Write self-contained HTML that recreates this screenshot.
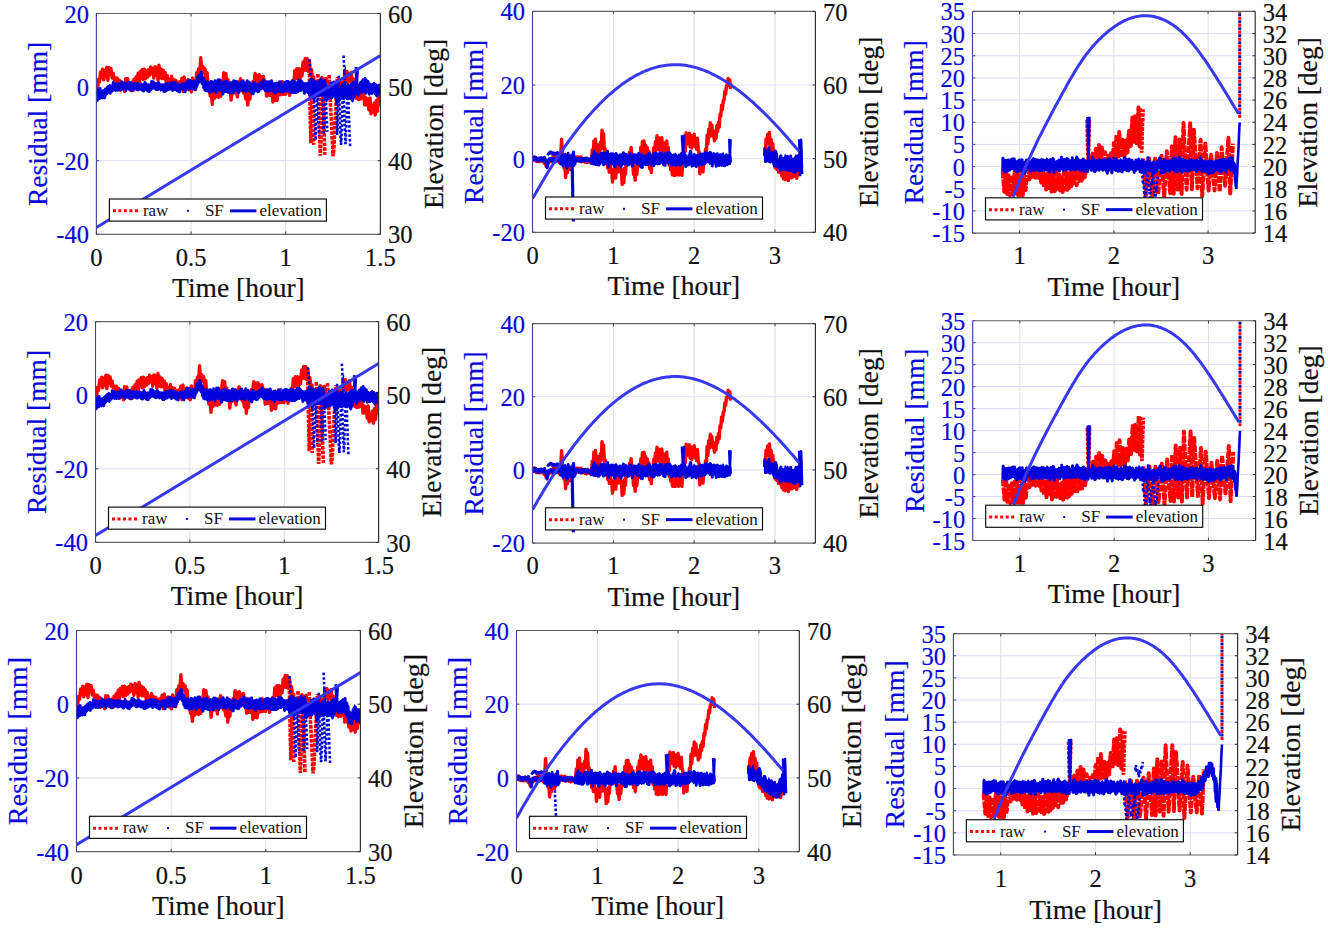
<!DOCTYPE html>
<html><head><meta charset="utf-8"><style>
html,body{margin:0;padding:0;background:#fff;}
svg{display:block;}
text{font-family:"Liberation Serif",serif;stroke-width:0.2px;}
</style></head><body>
<svg width="1328" height="932" viewBox="0 0 1328 932">
<rect width="1328" height="932" fill="#fff"/>
<line x1="191.07" y1="13.50" x2="191.07" y2="234.30" stroke="#dedede" stroke-width="1"/>
<line x1="285.73" y1="13.50" x2="285.73" y2="234.30" stroke="#dedede" stroke-width="1"/>
<line x1="96.40" y1="160.70" x2="380.40" y2="160.70" stroke="#dcdcf8" stroke-width="1"/>
<line x1="96.40" y1="87.10" x2="380.40" y2="87.10" stroke="#dcdcf8" stroke-width="1"/>
<clipPath id="c977"><rect x="96.4" y="13.5" width="284.0" height="220.8"/></clipPath>
<g clip-path="url(#c977)">
<path d="M96.4,81.9L97.4,89.9L98.5,79.1L99.5,82.1L100.6,71.9L101.6,77.5L102.7,69.1L103.7,79.8L104.8,70.2L105.8,76.9L106.8,67.2L107.9,80.4L108.9,67.4L110.0,74.6L111.0,68.8L112.1,77.9L113.1,73.1L114.2,79.6L115.2,77.9L116.2,82.5L117.3,78.1L118.3,87.7L119.4,80.1L120.4,90.2L121.5,83.2L122.5,86.7L123.5,83.2L124.6,91.6L125.6,78.6L126.7,86.5L127.7,78.8L128.8,88.8L129.8,83.2L130.9,90.5L131.9,82.1L132.9,90.5L134.0,79.1L135.0,86.7L136.1,76.7L137.1,83.5L138.2,73.1L139.2,84.3L140.3,71.4L141.3,78.3L142.3,69.4L143.4,79.6L144.4,69.2L145.5,78.6L146.5,70.6L147.6,77.0L148.6,69.6L149.7,75.2L150.7,67.0L151.7,73.4L152.8,68.5L153.8,78.1L154.9,66.8L155.9,75.4L157.0,67.4L158.0,79.9L159.0,65.3L160.1,77.9L161.1,68.9L162.2,78.6L163.2,70.3L164.3,78.8L165.3,72.8L166.4,84.3L167.4,75.7L168.4,86.7L169.5,79.8L170.5,85.7L171.6,76.3L172.6,86.5L173.7,79.6L174.7,84.8L175.8,80.3L176.8,88.9L177.8,82.5L178.9,87.7L179.9,81.6L181.0,86.9L182.0,78.2L183.1,91.4L184.1,76.9L185.2,87.3L186.2,80.8L187.2,86.5L188.3,79.8L189.3,89.9L190.4,80.7L191.4,91.8L192.5,77.9L193.5,88.7L194.5,81.7L195.6,89.7L196.6,72.6L197.7,77.9L198.7,68.8L199.8,72.7L200.8,57.7L201.9,72.9L202.9,66.5L203.9,73.3L205.0,68.6L206.0,79.7L207.1,72.7L208.1,88.2L209.2,83.3L210.2,95.9L211.3,92.0L212.3,104.3L213.3,90.1L214.4,98.2L215.4,91.9L216.5,96.8L217.5,89.1L218.6,97.2L219.6,90.4L220.7,96.3L221.7,81.1L222.7,85.6L223.8,72.7L224.8,77.8L225.9,73.6L226.9,85.0L228.0,79.7L229.0,90.1L230.0,85.0L231.1,100.1L232.1,88.9L233.2,93.2L234.2,85.5L235.3,92.8L236.3,83.1L237.4,96.9L238.4,82.0L239.4,90.6L240.5,78.6L241.5,90.7L242.6,84.7L243.6,93.0L244.7,89.9L245.7,98.8L246.8,92.4L247.8,105.1L248.8,91.0L249.9,99.3L250.9,83.8L252.0,90.2L253.0,81.4L254.1,83.2L255.1,73.5L256.1,80.4L257.2,75.4L258.2,85.1L259.3,74.6L260.3,82.4L261.4,77.0L262.4,87.1L263.5,76.5L264.5,88.9L265.5,81.2L266.6,96.1L267.6,84.8L268.7,95.3L269.7,86.6L270.8,95.3L271.8,88.2L272.9,102.1L273.9,89.4L274.9,100.2L276.0,90.2L277.0,100.6L278.1,91.2L279.1,94.9L280.2,82.8L281.2,94.5L282.3,81.6L283.3,94.2L284.3,87.6L285.4,94.4L286.4,84.1L287.5,92.0L288.5,84.4L289.6,95.3L290.6,83.5L291.6,86.1L292.7,80.5L293.7,86.5L294.8,70.6L295.8,78.8L296.9,68.7L297.9,78.4L299.0,68.7L300.0,78.8L301.0,69.3L302.1,75.7L303.1,61.9L304.2,70.2L305.2,58.4L306.3,70.2L307.3,58.6L308.4,71.4L309.4,60.9L310.4,73.0L311.5,69.5L312.5,79.8L313.6,77.0L314.6,88.5L315.7,82.1L316.7,90.8L317.8,81.4L318.8,93.1L319.8,83.6L320.9,91.4L321.9,77.5L323.0,87.8L324.0,79.0L325.1,87.0L326.1,78.4L327.1,91.0L328.2,84.7L329.2,96.4L330.3,85.6L331.3,92.7L332.4,85.3L333.4,93.5L334.5,82.7L335.5,93.0L336.5,82.4L337.6,89.5L338.6,79.1L339.7,91.5L340.7,82.6L341.8,91.9L342.8,82.0L343.9,88.0L344.9,72.7L345.9,77.0L347.0,71.5L348.0,82.3L349.1,74.2L350.1,81.1L351.2,72.5L352.2,85.1L353.3,79.0L354.3,92.2L355.3,84.8L356.4,98.2L357.4,92.4L358.5,99.5L359.5,89.8L360.6,99.0L361.6,93.2L362.6,97.8L363.7,93.1L364.7,104.9L365.8,97.8L366.8,105.0L367.9,98.9L368.9,109.9L370.0,97.9L371.0,113.8L372.0,106.4L373.1,112.1L374.1,103.2L375.2,115.1L376.2,100.7L377.3,111.4L378.3,96.6L379.4,104.6L380.4,93.5" fill="none" stroke="#ff0000" stroke-width="3.4" stroke-linejoin="round" stroke-dasharray="none"/>
<path d="M309.4,73.7L309.6,85.8L309.7,89.5L309.9,97.9L310.0,103.9L310.2,114.9L310.3,122.1L310.5,128.6L310.6,131.1L310.8,142.3L310.9,143.0L311.1,133.5L311.2,127.9L311.4,123.6L311.5,115.1L311.7,109.7L311.8,101.4L312.0,94.1L312.1,88.5L312.3,76.5L312.4,78.5L312.6,88.0L312.7,94.6L312.9,102.0L313.0,108.9L313.2,114.1L313.3,123.8L313.5,133.6L313.6,137.6L313.8,144.9" fill="none" stroke="#ff0000" stroke-width="3.6" stroke-dasharray="3.6,1.1"/>
<path d="M317.9,74.0L318.2,83.4L318.4,93.8L318.6,103.9L318.9,109.9L319.1,117.2L319.4,124.9L319.6,133.7L319.9,142.5L320.1,150.8L320.3,155.8L320.6,146.5L320.8,138.0L321.1,131.8L321.3,118.1L321.5,114.8L321.8,101.2L322.0,93.9L322.3,88.9L322.5,79.7L322.8,83.1L323.0,89.3L323.2,101.2L323.5,107.2L323.7,113.7L324.0,123.8L324.2,131.1L324.4,140.7L324.7,147.9L324.9,154.9" fill="none" stroke="#ff0000" stroke-width="3.6" stroke-dasharray="3.6,1.1"/>
<path d="M329.1,75.0L329.5,82.6L330.0,91.7L330.4,102.5L330.8,111.9L331.3,119.0L331.7,128.0L332.2,139.0L332.6,146.0L333.0,156.2L333.5,152.7L333.9,148.3L334.4,138.4L334.8,127.0L335.2,120.4L335.7,112.8L336.1,104.2L336.5,92.4L337.0,83.9L337.4,77.1" fill="none" stroke="#ff0000" stroke-width="3.6" stroke-dasharray="3.6,1.1"/>
<path d="M96.4,93.4L96.8,100.6L97.1,98.8L97.5,100.2L97.9,92.7L98.3,99.1L98.6,97.7L99.0,95.2L99.4,94.9L99.8,98.3L100.1,88.4L100.5,96.8L100.9,91.5L101.3,97.5L101.6,92.6L102.0,97.2L102.4,97.7L102.8,95.7L103.1,93.0L103.5,92.7L103.9,91.6L104.3,97.0L104.6,97.7L105.0,95.6L105.4,94.1L105.8,89.2L106.1,92.0L106.5,92.5L106.9,93.4L107.3,87.5L107.6,92.6L108.0,88.3L108.4,86.5L108.7,87.1L109.1,92.2L109.5,90.9L109.9,85.4L110.2,93.3L110.6,87.9L111.0,91.2L111.4,88.0L111.7,90.3L112.1,91.1L112.5,85.8L112.9,90.0L113.2,82.6L113.6,83.0L114.0,87.5L114.4,85.5L114.7,86.0L115.1,83.4L115.5,90.4L115.9,89.2L116.2,88.4L116.6,84.4L117.0,84.6L117.4,87.9L117.7,90.3L118.1,85.1L118.5,88.0L118.9,89.6L119.2,84.8L119.6,87.1L120.0,87.9L120.3,87.9L120.7,84.9L121.1,87.5L121.5,86.4L121.8,81.7L122.2,85.8L122.6,87.9L123.0,85.4L123.3,83.1L123.7,83.6L124.1,84.8L124.5,83.6L124.8,84.4L125.2,84.9L125.6,88.2L126.0,90.3L126.3,85.1L126.7,85.4L127.1,83.0L127.5,88.0L127.8,82.8L128.2,88.5L128.6,82.6L129.0,82.2L129.3,89.3L129.7,87.9L130.1,82.6L130.5,83.1L130.8,84.9L131.2,90.0L131.6,90.7L131.9,89.4L132.3,83.7L132.7,84.5L133.1,88.6L133.4,85.0L133.8,84.1L134.2,89.2L134.6,83.5L134.9,88.5L135.3,87.6L135.7,88.8L136.1,88.2L136.4,84.6L136.8,89.4L137.2,84.9L137.6,88.6L137.9,83.3L138.3,89.2L138.7,89.2L139.1,89.3L139.4,85.9L139.8,84.3L140.2,84.3L140.6,83.9L140.9,84.0L141.3,85.2L141.7,88.3L142.0,90.0L142.4,84.7L142.8,89.6L143.2,86.3L143.5,91.0L143.9,88.5L144.3,89.2L144.7,87.0L145.0,82.5L145.4,86.9L145.8,83.6L146.2,89.7L146.5,88.9L146.9,89.4L147.3,88.1L147.7,91.1L148.0,86.1L148.4,84.9L148.8,85.2L149.2,91.6L149.5,88.2L149.9,89.2L150.3,85.6L150.7,89.7L151.0,83.6L151.4,86.9L151.8,81.5L152.2,88.4L152.5,86.0L152.9,85.1L153.3,81.7L153.6,82.1L154.0,87.9L154.4,87.5L154.8,83.2L155.1,87.3L155.5,89.0L155.9,83.7L156.3,84.6L156.6,89.6L157.0,86.7L157.4,83.7L157.8,89.4L158.1,82.7L158.5,82.6L158.9,83.5L159.3,84.0L159.6,84.4L160.0,85.9L160.4,85.7L160.8,89.9L161.1,85.8L161.5,84.8L161.9,87.5L162.3,85.1L162.6,88.3L163.0,84.8L163.4,85.5L163.8,91.4L164.1,85.2L164.5,90.3L164.9,91.5L165.2,91.2L165.6,89.7L166.0,86.8L166.4,89.5L166.7,90.4L167.1,84.9L167.5,89.3L167.9,84.1L168.2,89.8L168.6,84.8L169.0,88.7L169.4,83.4L169.7,84.3L170.1,83.6L170.5,88.9L170.9,82.7L171.2,87.3L171.6,83.0L172.0,82.7L172.4,89.6L172.7,90.4L173.1,84.1L173.5,83.1L173.9,83.3L174.2,87.6L174.6,82.8L175.0,89.4L175.4,89.2L175.7,84.4L176.1,85.6L176.5,83.9L176.8,90.5L177.2,89.2L177.6,84.9L178.0,91.2L178.3,90.4L178.7,87.3L179.1,84.9L179.5,91.9L179.8,85.6L180.2,88.1L180.6,87.5L181.0,88.4L181.3,87.0L181.7,85.5L182.1,88.9L182.5,87.1L182.8,85.3L183.2,83.8L183.6,86.0L184.0,89.2L184.3,83.9L184.7,91.3L185.1,91.7L185.5,83.4L185.8,88.9L186.2,88.9L186.6,86.6L187.0,86.7L187.3,86.5L187.7,81.0L188.1,87.0L188.4,88.0L188.8,87.5L189.2,80.3L189.6,85.7L189.9,86.4L190.3,81.5L190.7,80.8L191.1,84.6L191.4,81.8L191.8,88.1L192.2,87.6L192.6,84.2L192.9,88.7L193.3,88.3L193.7,88.7L194.1,88.0L194.4,81.5L194.8,82.0L195.2,89.5L195.6,88.0L195.9,82.8L196.3,81.2L196.7,82.8L197.1,79.9L197.4,84.7L197.8,77.1L198.2,75.9L198.6,80.4L198.9,81.1L199.3,81.9L199.7,74.9L200.0,74.5L200.4,80.8L200.8,75.6L201.2,72.3L201.5,82.1L201.9,82.3L202.3,83.9L202.7,81.9L203.0,83.5L203.4,78.4L203.8,87.9L204.2,87.9L204.5,80.4L204.9,90.3L205.3,89.0L205.7,87.9L206.0,90.8L206.4,88.2L206.8,82.6L207.2,81.8L207.5,81.8L207.9,82.0L208.3,83.5L208.7,91.8L209.0,85.4L209.4,86.7L209.8,92.1L210.1,89.4L210.5,90.2L210.9,81.6L211.3,88.5L211.6,89.3L212.0,81.7L212.4,82.6L212.8,82.5L213.1,84.1L213.5,88.6L213.9,87.4L214.3,84.8L214.6,83.8L215.0,80.7L215.4,89.0L215.8,82.9L216.1,92.4L216.5,91.7L216.9,82.7L217.3,89.9L217.6,84.8L218.0,79.9L218.4,81.7L218.8,84.8L219.1,81.6L219.5,79.8L219.9,80.1L220.3,88.9L220.6,89.3L221.0,88.4L221.4,90.1L221.7,83.1L222.1,83.6L222.5,92.9L222.9,94.1L223.2,92.4L223.6,86.3L224.0,84.6L224.4,88.3L224.7,84.1L225.1,81.7L225.5,82.4L225.9,91.7L226.2,84.2L226.6,83.1L227.0,81.0L227.4,86.4L227.7,88.7L228.1,86.3L228.5,88.9L228.9,89.5L229.2,83.7L229.6,84.7L230.0,84.2L230.4,84.6L230.7,91.6L231.1,92.4L231.5,89.6L231.9,83.1L232.2,84.3L232.6,82.7L233.0,84.0L233.3,82.4L233.7,80.9L234.1,82.9L234.5,81.8L234.8,81.1L235.2,82.5L235.6,81.7L236.0,90.2L236.3,90.7L236.7,81.6L237.1,90.4L237.5,90.2L237.8,91.7L238.2,85.2L238.6,92.6L239.0,84.0L239.3,90.9L239.7,84.6L240.1,83.4L240.5,85.1L240.8,89.5L241.2,85.3L241.6,82.7L242.0,83.1L242.3,88.9L242.7,90.3L243.1,80.8L243.5,83.3L243.8,90.9L244.2,85.4L244.6,85.4L244.9,90.5L245.3,83.1L245.7,90.9L246.1,91.2L246.4,89.3L246.8,88.4L247.2,80.7L247.6,81.9L247.9,88.5L248.3,86.3L248.7,89.4L249.1,82.7L249.4,82.2L249.8,91.4L250.2,87.4L250.6,91.4L250.9,91.8L251.3,85.9L251.7,84.6L252.1,92.9L252.4,88.5L252.8,92.4L253.2,93.8L253.6,86.3L253.9,91.5L254.3,83.7L254.7,82.6L255.1,90.2L255.4,84.4L255.8,90.7L256.2,84.0L256.5,90.8L256.9,84.7L257.3,85.0L257.7,86.0L258.0,91.7L258.4,84.5L258.8,91.3L259.2,85.2L259.5,89.4L259.9,89.4L260.3,84.3L260.7,89.2L261.0,82.5L261.4,87.3L261.8,82.9L262.2,83.6L262.5,81.8L262.9,88.1L263.3,88.2L263.7,80.0L264.0,84.3L264.4,87.2L264.8,83.3L265.2,90.5L265.5,82.6L265.9,83.8L266.3,84.0L266.7,89.0L267.0,82.1L267.4,81.8L267.8,83.3L268.1,82.6L268.5,91.5L268.9,83.1L269.3,81.8L269.6,86.8L270.0,90.6L270.4,84.6L270.8,89.0L271.1,90.4L271.5,80.8L271.9,82.0L272.3,84.2L272.6,83.6L273.0,84.4L273.4,88.4L273.8,91.9L274.1,91.2L274.5,88.3L274.9,87.4L275.3,92.2L275.6,93.3L276.0,91.1L276.4,91.9L276.8,82.9L277.1,91.0L277.5,89.2L277.9,85.8L278.2,90.1L278.6,86.9L279.0,85.3L279.4,91.5L279.7,81.8L280.1,85.5L280.5,90.9L280.9,82.0L281.2,91.8L281.6,85.2L282.0,89.3L282.4,91.7L282.7,90.0L283.1,87.8L283.5,88.6L283.9,89.2L284.2,87.1L284.6,86.8L285.0,82.5L285.4,89.5L285.7,90.8L286.1,82.0L286.5,91.0L286.9,84.1L287.2,85.4L287.6,82.0L288.0,91.1L288.4,82.7L288.7,91.0L289.1,90.0L289.5,83.0L289.8,89.7L290.2,84.6L290.6,84.7L291.0,92.4L291.3,84.4L291.7,89.3L292.1,82.1L292.5,91.9L292.8,91.7L293.2,85.3L293.6,91.3L294.0,90.0L294.3,83.1L294.7,89.6L295.1,91.3L295.5,90.6L295.8,85.4L296.2,83.8L296.6,84.5L297.0,89.0L297.3,91.1L297.7,91.1L298.1,89.3L298.5,88.8L298.8,80.1L299.2,86.7L299.6,89.5L300.0,82.9L300.3,86.6L300.7,90.5L301.1,80.7L301.4,81.2L301.8,89.5L302.2,82.2L302.6,87.4L302.9,83.5L303.3,84.2L303.7,84.3L304.1,89.8L304.4,93.3L304.8,85.7L305.2,91.4L305.6,91.7L305.9,86.4L306.3,87.3L306.7,83.8L307.1,91.3L307.4,84.4L307.8,92.4L308.2,92.0L308.6,91.3L308.9,92.3L309.3,91.1L309.7,95.4L310.1,83.0L310.4,92.5L310.8,92.8L311.2,81.8L311.6,82.8L311.9,82.9L312.3,81.1L312.7,83.3L313.0,93.6L313.4,82.5L313.8,99.5L314.2,85.9L314.5,96.3L314.9,97.7L315.3,95.0L315.7,96.0L316.0,84.3L316.4,82.9L316.8,82.4L317.2,92.8L317.5,89.5L317.9,94.7L318.3,82.2L318.7,95.3L319.0,91.2L319.4,94.8L319.8,81.6L320.2,80.2L320.5,91.3L320.9,79.1L321.3,91.9L321.7,81.0L322.0,91.3L322.4,88.1L322.8,82.4L323.2,89.4L323.5,91.5L323.9,82.7L324.3,80.7L324.6,80.3L325.0,94.6L325.4,96.8L325.8,99.5L326.1,98.4L326.5,100.5L326.9,98.0L327.3,87.4L327.6,98.9L328.0,87.6L328.4,95.8L328.8,96.4L329.1,91.9L329.5,93.3L329.9,93.1L330.3,97.7L330.6,88.2L331.0,83.1L331.4,98.0L331.8,97.4L332.1,87.6L332.5,94.9L332.9,96.0L333.3,82.6L333.6,94.6L334.0,81.9L334.4,84.9L334.8,95.7L335.1,93.6L335.5,97.3L335.9,90.3L336.2,86.5L336.6,101.6L337.0,100.8L337.4,98.8L337.7,94.4L338.1,95.5L338.5,82.8L338.9,87.2L339.2,87.2L339.6,92.5L340.0,88.5L340.4,88.8L340.7,97.3L341.1,87.7L341.5,95.7L341.9,92.1L342.2,84.4L342.6,96.9L343.0,98.0L343.4,85.6L343.7,94.0L344.1,98.4L344.5,96.5L344.9,97.1L345.2,85.7L345.6,94.8L346.0,87.0L346.3,96.4L346.7,87.5L347.1,87.3L347.5,91.2L347.8,86.8L348.2,96.5L348.6,97.9L349.0,87.3L349.3,97.5L349.7,91.2L350.1,86.5L350.5,85.2L350.8,84.7L351.2,98.1L351.6,85.2L352.0,91.5L352.3,86.6L352.7,91.0L353.1,82.6L353.5,93.2L353.8,96.1L354.2,82.1L354.6,83.7L355.0,82.4L355.3,92.6L355.7,91.4L356.1,82.6L356.5,81.1L356.8,83.0L357.2,85.1L357.6,85.3L357.9,95.3L358.3,91.6L358.7,93.6L359.1,85.5L359.4,88.9L359.8,85.4L360.2,85.4L360.6,82.7L360.9,82.3L361.3,92.7L361.7,82.4L362.1,87.8L362.4,90.1L362.8,85.5L363.2,79.9L363.6,81.0L363.9,91.8L364.3,90.7L364.7,81.7L365.1,78.5L365.4,90.2L365.8,90.0L366.2,80.9L366.6,82.4L366.9,80.8L367.3,90.9L367.7,86.7L368.1,81.6L368.4,89.3L368.8,89.6L369.2,94.2L369.5,84.1L369.9,91.1L370.3,92.7L370.7,87.0L371.0,85.1L371.4,85.0L371.8,93.5L372.2,87.6L372.5,92.6L372.9,84.4L373.3,84.6L373.7,86.0L374.0,84.4L374.4,88.7L374.8,87.0L375.2,93.7L375.5,84.5L375.9,92.4L376.3,87.1L376.7,95.8L377.0,92.1L377.4,86.9L377.8,86.4L378.2,87.0L378.5,92.7L378.9,85.2L379.3,85.4L379.7,87.0L380.0,92.7L380.4,95.2" fill="none" stroke="#0000dc" stroke-width="3" stroke-linejoin="round"/>
<path d="M96.4,90.0L97.3,88.5L98.3,88.2L99.2,89.0L100.2,89.8L101.1,89.8L102.1,89.5L103.0,89.2L104.0,88.7L104.9,87.9L105.9,87.2L106.8,86.7L107.8,86.7L108.7,87.0L109.7,87.5L110.6,87.0L111.6,86.6L112.5,85.8L113.5,85.1L114.4,84.3L115.4,83.7L116.3,83.2L117.3,82.7L118.2,82.5L119.2,82.6L120.1,83.0L121.1,83.1L122.0,82.7L123.0,82.3L123.9,82.1L124.9,82.7L125.8,83.7L126.8,84.3L127.7,84.0L128.7,83.5L129.6,83.5L130.6,83.7L131.5,83.6L132.5,83.2L133.4,83.4L134.4,83.9L135.3,84.3L136.3,84.5L137.2,84.4L138.2,84.1L139.1,84.0L140.1,84.2L141.0,84.3L142.0,84.1L142.9,83.5L143.9,82.8L144.8,82.3L145.8,82.6L146.7,83.3L147.7,83.9L148.6,84.0L149.6,83.8L150.5,83.9L151.5,84.0L152.4,83.6L153.4,83.0L154.3,82.9L155.3,83.3L156.2,83.6L157.2,83.2L158.1,82.8L159.1,82.8L160.0,83.2L161.0,84.0L161.9,84.7L162.9,84.7L163.8,84.1L164.8,83.2L165.7,82.3L166.7,82.0L167.6,82.5L168.6,83.1L169.5,83.7L170.5,84.0L171.4,83.8L172.4,83.2L173.3,82.4L174.3,81.8L175.2,81.6L176.2,81.9L177.1,82.5L178.1,83.3L179.0,83.8L180.0,83.8L180.9,83.2L181.9,82.3L182.8,82.1L183.8,82.7L184.7,83.1L185.7,82.8L186.6,82.4L187.6,82.3L188.5,82.2L189.5,81.6L190.4,80.9L191.4,80.4L192.3,80.3L193.3,80.3L194.2,79.9L195.2,79.3L196.1,79.2L197.1,79.3L198.0,78.0L199.0,75.5L199.9,72.4L200.9,70.9L201.8,72.2L202.8,74.0L203.7,76.2L204.7,78.6L205.6,80.4L206.6,81.6L207.5,81.8L208.5,82.0L209.4,82.8L210.4,83.7L211.3,84.5L212.3,84.9L213.2,84.6L214.2,84.0L215.1,83.6L216.1,83.2L217.0,83.0L218.0,83.5L218.9,84.1L219.9,84.2L220.8,83.4L221.8,82.0L222.7,80.9L223.7,80.6L224.6,81.4L225.6,82.8L226.5,83.9L227.5,83.7L228.4,82.5L229.4,81.4L230.3,81.0L231.3,81.3L232.2,82.3L233.2,83.4L234.1,84.1L235.1,84.0L236.0,83.4L237.0,83.0L237.9,82.8L238.9,82.4L239.8,81.5L240.8,80.5L241.7,79.9L242.7,80.2L243.6,81.2L244.6,82.2L245.5,82.3L246.5,81.6L247.4,80.7L248.4,80.9L249.3,82.3L250.3,83.5L251.2,83.5L252.2,82.6L253.1,81.4L254.1,80.8L255.0,81.4L256.0,82.9L256.9,84.2L257.9,84.1L258.8,82.6L259.8,81.1L260.7,80.8L261.7,81.6L262.6,82.8L263.6,83.6L264.5,83.9L265.5,83.8L266.4,83.2L267.4,82.5L268.3,81.8L269.3,81.5L270.2,81.7L271.2,82.4L272.1,83.1L273.1,83.1L274.0,82.5L275.0,82.0L275.9,82.3L276.9,82.7L277.8,82.8L278.8,82.8L279.7,83.4L280.7,84.3L281.6,84.6L282.6,84.1L283.5,83.1L284.5,82.0L285.4,80.8L286.4,80.1L287.3,80.0L288.3,80.1L289.2,80.5L290.2,80.9L291.1,80.3L292.1,79.6L293.0,79.6L294.0,79.9L294.9,80.6L295.9,81.2L296.8,81.2L297.8,80.2L298.7,79.7L299.7,80.3L300.6,81.2L301.6,81.6L302.5,81.7L303.5,81.9L304.4,82.2L305.4,82.3L306.3,82.4L307.3,82.2L308.2,81.4L309.2,80.1L310.1,79.2L311.1,78.7L312.0,78.3L313.0,78.3L313.9,78.9L314.9,79.7L315.8,80.2L316.8,80.4L317.7,81.2L318.7,82.5L319.6,83.4L320.6,84.2L321.5,84.9L322.5,84.2L323.4,82.1L324.4,80.0L325.3,79.7L326.3,82.1L327.2,85.6L328.2,87.7L329.1,87.8L330.1,86.7L331.0,85.8L332.0,85.4L332.9,84.5L333.9,82.8L334.8,81.4L335.8,81.6L336.7,83.1L337.7,85.0L338.6,86.4L339.6,86.5L340.5,86.0L341.5,86.0L342.4,86.4L343.4,86.1L344.3,85.1L345.3,84.3L346.2,84.4L347.2,85.2L348.1,85.6L349.1,85.5L350.0,85.7L351.0,86.1L351.9,86.4L352.9,86.5L353.8,86.8L354.8,87.3L355.7,87.6L356.7,87.0L357.6,85.5L358.6,83.9L359.5,82.7L360.5,81.4L361.4,79.7L362.4,78.6L363.3,78.6L364.3,80.0L365.2,81.6L366.2,82.4L367.1,83.0L368.1,84.3L369.0,85.8L370.0,85.9L370.9,85.7L371.9,84.2L372.8,82.6L373.8,81.7L374.7,82.1L375.7,83.3L376.6,84.1L377.6,84.5L378.5,85.2L379.5,86.2L380.4,87.0L380.4,97.8L379.5,95.9L378.5,94.7L377.6,94.7L376.6,94.9L375.7,94.1L374.7,92.7L373.8,91.5L372.8,91.2L371.9,91.4L370.9,91.8L370.0,92.3L369.0,92.3L368.1,92.6L367.1,93.7L366.2,94.9L365.2,94.6L364.3,93.0L363.3,91.8L362.4,91.4L361.4,91.3L360.5,92.2L359.5,93.5L358.6,94.3L357.6,94.1L356.7,94.0L355.7,95.6L354.8,98.4L353.8,101.1L352.9,102.4L351.9,102.4L351.0,100.9L350.0,98.9L349.1,97.5L348.1,97.7L347.2,98.6L346.2,99.1L345.3,99.0L344.3,99.0L343.4,99.3L342.4,99.7L341.5,99.7L340.5,99.6L339.6,99.8L338.6,99.9L337.7,98.5L336.7,96.0L335.8,94.7L334.8,95.3L333.9,96.8L332.9,98.2L332.0,98.7L331.0,98.2L330.1,97.5L329.1,96.8L328.2,96.0L327.2,95.1L326.3,94.9L325.3,95.5L324.4,96.2L323.4,96.6L322.5,96.7L321.5,96.6L320.6,96.6L319.6,96.8L318.7,96.8L317.7,96.8L316.8,97.1L315.8,96.9L314.9,96.2L313.9,95.5L313.0,95.7L312.0,96.4L311.1,97.0L310.1,96.8L309.2,95.3L308.2,93.1L307.3,90.6L306.3,89.2L305.4,88.7L304.4,88.5L303.5,89.0L302.5,89.1L301.6,89.3L300.6,90.1L299.7,91.4L298.7,92.4L297.8,93.1L296.8,93.9L295.9,93.9L294.9,93.9L294.0,93.9L293.0,93.9L292.1,93.4L291.1,93.1L290.2,93.3L289.2,93.0L288.3,91.8L287.3,90.9L286.4,91.2L285.4,92.1L284.5,92.8L283.5,92.7L282.6,92.5L281.6,92.6L280.7,92.7L279.7,92.0L278.8,91.3L277.8,91.3L276.9,91.7L275.9,91.3L275.0,90.5L274.0,90.3L273.1,90.7L272.1,91.1L271.2,91.0L270.2,90.4L269.3,90.5L268.3,91.6L267.4,92.5L266.4,92.2L265.5,91.1L264.5,90.2L263.6,89.7L262.6,89.1L261.7,88.5L260.7,88.5L259.8,89.1L258.8,90.7L257.9,91.7L256.9,91.5L256.0,91.0L255.0,90.9L254.1,91.3L253.1,91.8L252.2,92.3L251.2,92.2L250.3,91.4L249.3,90.6L248.4,90.5L247.4,90.7L246.5,90.5L245.5,90.2L244.6,90.2L243.6,90.0L242.7,90.1L241.7,90.7L240.8,91.3L239.8,91.5L238.9,91.1L237.9,90.4L237.0,90.1L236.0,90.5L235.1,92.1L234.1,94.2L233.2,94.2L232.2,94.2L231.3,94.2L230.3,93.9L229.4,93.8L228.4,93.9L227.5,93.6L226.5,93.1L225.6,92.8L224.6,92.9L223.7,92.7L222.7,92.0L221.8,91.4L220.8,91.5L219.9,91.6L218.9,91.6L218.0,91.5L217.0,91.3L216.1,91.1L215.1,91.2L214.2,92.1L213.2,92.9L212.3,93.0L211.3,92.6L210.4,92.2L209.4,91.9L208.5,91.7L207.5,91.6L206.6,91.2L205.6,90.2L204.7,88.7L203.7,86.2L202.8,83.5L201.8,81.6L200.9,80.0L199.9,80.9L199.0,83.4L198.0,86.1L197.1,88.5L196.1,89.4L195.2,89.4L194.2,89.6L193.3,90.1L192.3,90.4L191.4,90.3L190.4,90.1L189.5,90.1L188.5,90.4L187.6,90.6L186.6,90.8L185.7,90.5L184.7,89.7L183.8,89.3L182.8,89.5L181.9,89.8L180.9,89.8L180.0,89.8L179.0,90.2L178.1,90.5L177.1,90.7L176.2,90.7L175.2,89.9L174.3,88.7L173.3,88.1L172.4,88.4L171.4,89.3L170.5,90.0L169.5,90.2L168.6,90.2L167.6,90.1L166.7,90.2L165.7,90.9L164.8,91.6L163.8,91.3L162.9,90.4L161.9,89.9L161.0,89.8L160.0,89.5L159.1,88.9L158.1,88.4L157.2,88.2L156.2,88.2L155.3,88.1L154.3,87.9L153.4,88.0L152.4,88.7L151.5,89.7L150.5,90.6L149.6,91.0L148.6,90.9L147.7,90.4L146.7,90.1L145.8,90.4L144.8,90.9L143.9,90.8L142.9,90.0L142.0,89.4L141.0,89.8L140.1,90.5L139.1,91.1L138.2,91.5L137.2,91.3L136.3,90.3L135.3,89.0L134.4,88.2L133.4,88.4L132.5,89.3L131.5,90.0L130.6,90.3L129.6,90.4L128.7,90.2L127.7,89.6L126.8,88.6L125.8,87.9L124.9,88.3L123.9,89.5L123.0,90.5L122.0,90.9L121.1,91.2L120.1,91.4L119.2,91.1L118.2,90.7L117.3,90.5L116.3,90.5L115.4,90.6L114.4,91.0L113.5,91.0L112.5,91.1L111.6,91.3L110.6,91.9L109.7,92.5L108.7,93.4L107.8,94.6L106.8,95.6L105.9,95.9L104.9,96.0L104.0,96.2L103.0,96.7L102.1,97.2L101.1,98.2L100.2,99.4L99.2,99.9L98.3,100.0L97.3,100.3L96.4,101.2Z" fill="#0000dc" stroke="none"/>
<path d="M355.8,67.0L355.9,70.5L356.0,72.4L356.2,78.5L356.3,77.7L356.4,78.1L356.5,83.9L356.7,88.2L356.8,83.2L356.9,82.4L357.0,82.7L357.2,77.5L357.3,73.2L357.4,75.3L357.6,69.1L357.7,67.5" fill="none" stroke="#0000dc" stroke-width="2.6" stroke-linejoin="round"/>
<path d="M309.4,59.2L309.7,62.7L309.9,65.4L310.2,70.2L310.5,73.9L310.8,78.1L311.0,79.6L311.3,90.8" fill="none" stroke="#0000dc" stroke-width="2.6" stroke-dasharray="2.6,2"/>
<path d="M343.5,55.5L343.8,59.0L344.0,64.2L344.3,71.1L344.6,70.6L344.8,82.8L345.1,80.2L345.4,86.2" fill="none" stroke="#0000dc" stroke-width="2.6" stroke-dasharray="2.6,2"/>
<path d="M313.8,91.2L314.0,95.3L314.2,101.6L314.5,110.1L314.7,112.7L314.9,121.2L315.2,125.5L315.4,135.3L315.7,140.3L315.9,127.8L316.1,120.9L316.4,119.9L316.6,109.8L316.9,103.2L317.1,92.4L317.3,88.5L317.6,93.3L317.8,94.9L318.1,106.6L318.3,109.7L318.5,121.2L318.8,127.7L319.0,135.0L319.2,135.8" fill="none" stroke="#0000dc" stroke-width="2.6" stroke-dasharray="2.6,2"/>
<path d="M321.7,89.8L322.0,95.4L322.2,102.2L322.4,103.1L322.7,112.0L322.9,120.9L323.2,121.0L323.4,128.0L323.7,134.5L323.9,128.1L324.2,123.9L324.4,117.7L324.7,106.0L324.9,98.8L325.2,93.8L325.4,91.4L325.7,88.2L325.9,99.8L326.2,105.9L326.4,108.5L326.6,118.5L326.9,119.9L327.1,130.2L327.4,131.8" fill="none" stroke="#0000dc" stroke-width="2.6" stroke-dasharray="2.6,2"/>
<path d="M335.9,84.0L336.1,92.7L336.3,96.5L336.5,105.0L336.7,114.0L336.9,120.9L337.0,122.9L337.2,134.9L337.4,129.7L337.6,124.9L337.8,123.1L338.0,115.2L338.2,106.3L338.4,102.2L338.6,91.8L338.7,85.0" fill="none" stroke="#0000dc" stroke-width="2.6" stroke-dasharray="2.6,2"/>
<path d="M338.7,75.6L339.0,85.2L339.3,96.6L339.6,105.2L339.9,113.7L340.2,128.0L340.5,137.2L340.8,139.1L341.1,144.9L341.4,139.4L341.7,132.4L342.0,124.6L342.2,109.7L342.5,104.7L342.8,93.1L343.1,86.0L343.4,83.9L343.7,92.9L344.0,103.1L344.3,109.2L344.6,119.0L344.9,131.3L345.2,134.9L345.4,143.3L345.7,144.0L346.0,133.5L346.3,124.7L346.6,116.5L346.9,110.3L347.2,100.4L347.5,91.8L347.8,82.7L348.1,87.5L348.4,97.4L348.7,108.6L348.9,115.8L349.2,121.4L349.5,132.9L349.8,138.4L350.1,146.2" fill="none" stroke="#0000dc" stroke-width="2.6" stroke-dasharray="2.6,2"/>
<path d="M96.4,227.4L380.4,55.5" fill="none" stroke="#3838f0" stroke-width="3.0" stroke-linejoin="round"/>
</g>
<path d="M96.40,13.50H380.40M96.40,234.30H380.40" stroke="#626262" stroke-width="1.15" fill="none"/>
<path d="M96.40,13.50V234.30" stroke="#44449c" stroke-width="1.15" fill="none"/>
<path d="M380.40,13.50V234.30" stroke="#303030" stroke-width="1.2" fill="none"/>
<path d="M96.40,234.30v-2.8M96.40,13.50v2.8M191.07,234.30v-2.8M191.07,13.50v2.8M285.73,234.30v-2.8M285.73,13.50v2.8M380.40,234.30v-2.8M380.40,13.50v2.8" stroke="#404040" stroke-width="1" fill="none"/>
<path d="M96.40,234.30h2.8M96.40,160.70h2.8M96.40,87.10h2.8M96.40,13.50h2.8" stroke="#44449c" stroke-width="1" fill="none"/>
<path d="M380.40,234.30h-2.8M380.40,160.70h-2.8M380.40,87.10h-2.8M380.40,13.50h-2.8" stroke="#303030" stroke-width="1" fill="none"/>
<g font-size="24.5" fill="#0808dc" stroke="#0808dc" text-anchor="end">
<text x="88.90" y="243.30">-40</text>
<text x="88.90" y="169.70">-20</text>
<text x="88.90" y="96.10">0</text>
<text x="88.90" y="22.50">20</text>
</g>
<g font-size="24.5" fill="#111111" stroke="#111111" text-anchor="start">
<text x="388.00" y="243.40">30</text>
<text x="388.00" y="169.80">40</text>
<text x="388.00" y="96.20">50</text>
<text x="388.00" y="22.60">60</text>
</g>
<g font-size="24.5" fill="#111111" stroke="#111111" text-anchor="middle">
<text x="96.40" y="265.50">0</text>
<text x="191.07" y="265.50">0.5</text>
<text x="285.73" y="265.50">1</text>
<text x="380.40" y="265.50">1.5</text>
</g>
<text font-size="27.5" fill="#111111" stroke="#111111" text-anchor="middle" x="238.40" y="296.90">Time [hour]</text>
<text font-size="27.50" fill="#0808dc" stroke="#0808dc" text-anchor="middle" transform="translate(47.30,123.90) rotate(-90)">Residual [mm]</text>
<text font-size="27.50" fill="#111111" stroke="#111111" text-anchor="middle" transform="translate(442.50,123.90) rotate(-90)">Elevation [deg]</text>
<rect x="109.40" y="199.00" width="217" height="22.1" fill="#fff" stroke="#111111" stroke-width="1.2"/>
<line x1="112.90" y1="210.85" x2="140.40" y2="210.85" stroke="#ff0000" stroke-width="3" stroke-dasharray="3,2.5"/>
<text font-size="17" fill="#111111" x="142.90" y="215.80">raw</text>
<rect x="186.90" y="209.85" width="2" height="2" fill="#0808dc"/>
<text font-size="17" fill="#111111" x="204.90" y="215.80">SF</text>
<line x1="229.90" y1="210.85" x2="256.40" y2="210.85" stroke="#0808dc" stroke-width="3"/>
<text font-size="17" fill="#111111" x="259.40" y="215.80">elevation</text>
<line x1="613.33" y1="11.40" x2="613.33" y2="232.30" stroke="#dedede" stroke-width="1"/>
<line x1="694.16" y1="11.40" x2="694.16" y2="232.30" stroke="#dedede" stroke-width="1"/>
<line x1="774.99" y1="11.40" x2="774.99" y2="232.30" stroke="#dedede" stroke-width="1"/>
<line x1="532.50" y1="158.67" x2="815.40" y2="158.67" stroke="#dcdcf8" stroke-width="1"/>
<line x1="532.50" y1="85.03" x2="815.40" y2="85.03" stroke="#dcdcf8" stroke-width="1"/>
<clipPath id="c5336"><rect x="532.5" y="11.4" width="282.9" height="220.9"/></clipPath>
<g clip-path="url(#c5336)">
<path d="M532.5,158.0L533.3,160.1L534.1,156.9L534.9,160.2L535.7,157.7L536.5,161.4L537.3,159.2L538.2,161.4L539.0,160.2L539.8,161.5L540.6,158.2L541.4,160.6L542.2,158.5L543.0,161.7L543.8,159.5L544.6,163.3L545.4,162.8L546.2,166.5L547.0,163.6L547.9,163.6L548.7,159.5L549.5,162.0L550.3,159.4L551.1,161.5L551.9,158.3L552.7,160.0L553.5,157.3L554.3,158.7L555.1,156.3L555.9,159.7L556.7,157.1L557.6,160.6L558.4,157.5L559.2,162.5L560.0,157.8L560.8,154.2L561.6,139.3L562.4,153.3L563.2,156.8L564.0,167.9L564.8,165.9L565.6,177.5L566.4,167.1L567.3,172.8L568.1,167.4L568.9,169.1L569.7,162.4L570.5,169.4L571.3,160.1L572.1,166.2L572.9,161.4L573.7,163.5L574.5,158.0L575.3,161.2L576.1,157.0L577.0,160.9L577.8,156.9L578.6,161.0L579.4,157.6L580.2,160.5L581.0,156.9L581.8,161.8L582.6,159.3L583.4,160.9L584.2,158.8L585.0,162.1L585.8,159.3L586.7,162.7L587.5,158.3L588.3,161.9L589.1,159.6L589.9,161.7L590.7,159.9L591.5,161.2L592.3,149.7L593.1,159.1L593.9,140.7L594.7,144.3L595.5,139.1L596.4,153.9L597.2,144.8L598.0,155.0L598.8,151.7L599.6,156.7L600.4,142.3L601.2,148.7L602.0,130.3L602.8,139.8L603.6,133.8L604.4,151.9L605.2,148.6L606.1,163.5L606.9,152.5L607.7,168.1L608.5,157.6L609.3,172.2L610.1,160.2L610.9,172.1L611.7,169.4L612.5,182.1L613.3,172.8L614.1,177.9L614.9,166.1L615.8,178.0L616.6,162.9L617.4,168.3L618.2,160.0L619.0,171.8L619.8,163.9L620.6,171.1L621.4,169.6L622.2,184.3L623.0,170.0L623.8,182.7L624.6,168.3L625.5,174.1L626.3,159.6L627.1,165.4L627.9,156.4L628.7,157.6L629.5,152.1L630.3,158.0L631.1,147.4L631.9,159.9L632.7,162.1L633.5,174.3L634.3,170.8L635.2,180.1L636.0,165.6L636.8,174.6L637.6,164.7L638.4,166.3L639.2,156.7L640.0,162.9L640.8,147.2L641.6,159.0L642.4,141.4L643.2,154.2L644.0,140.9L644.9,149.0L645.7,145.3L646.5,158.1L647.3,147.7L648.1,157.4L648.9,151.5L649.7,168.7L650.5,158.4L651.3,172.5L652.1,160.4L652.9,162.2L653.7,147.7L654.6,154.0L655.4,141.6L656.2,150.2L657.0,135.7L657.8,146.3L658.6,137.9L659.4,150.0L660.2,138.1L661.0,147.5L661.8,137.6L662.6,151.3L663.4,142.4L664.3,153.8L665.1,144.6L665.9,151.0L666.7,140.9L667.5,157.1L668.3,147.5L669.1,165.2L669.9,155.6L670.7,169.8L671.5,158.5L672.3,174.8L673.1,167.3L674.0,175.2L674.8,168.1L675.6,175.2L676.4,166.1L677.2,173.0L678.0,168.1L678.8,175.1L679.6,162.8L680.4,172.3L681.2,160.2L682.0,175.3L682.8,155.3L683.6,159.3L684.5,144.6L685.3,151.4L686.1,132.8L686.9,144.2L687.7,134.5L688.5,143.4L689.3,133.2L690.1,146.9L690.9,135.4L691.7,148.0L692.5,136.1L693.3,144.5L694.2,134.3L695.0,146.3L695.8,139.7L696.6,149.2L697.4,138.1L698.2,149.4L699.0,151.9L699.8,173.8L700.6,159.6L701.4,171.3L702.2,158.4L703.0,171.9L703.9,157.3L704.7,160.2L705.5,149.3L706.3,154.4L707.1,135.1L707.9,144.0L708.7,129.2L709.5,136.8L710.3,122.7L711.1,127.0L711.9,125.0L712.7,136.1L713.6,131.1L714.4,140.9L715.2,134.2L716.0,138.5L716.8,125.8L717.6,131.5L718.4,122.3L719.2,127.1L720.0,114.3L720.8,116.1L721.6,105.3L722.4,109.6L723.3,100.4L724.1,99.8L724.9,91.2L725.7,93.8L726.5,85.5L727.3,85.8L728.1,78.5L728.9,82.7L729.7,79.9L730.5,89.0" fill="none" stroke="#ff0000" stroke-width="3.4" stroke-linejoin="round" stroke-dasharray="none"/>
<path d="M764.5,154.4L765.3,153.0L766.1,138.8L767.0,143.5L767.8,134.3L768.6,143.8L769.4,132.4L770.3,146.7L771.1,139.1L771.9,151.7L772.8,143.8L773.6,156.9L774.4,156.2L775.2,167.8L776.1,162.2L776.9,169.2L777.7,161.1L778.5,172.1L779.4,164.0L780.2,172.6L781.0,163.3L781.9,176.4L782.7,169.8L783.5,178.8L784.3,165.3L785.2,179.6L786.0,168.7L786.8,176.5L787.6,171.5L788.5,180.5L789.3,168.3L790.1,175.3L791.0,165.9L791.8,177.8L792.6,167.9L793.4,176.5L794.3,169.1L795.1,176.0L795.9,170.9L796.8,178.3L797.6,166.6L798.4,175.0L799.2,166.2" fill="none" stroke="#ff0000" stroke-width="3.4" stroke-linejoin="round" stroke-dasharray="none"/>
<path d="M532.5,157.5L532.7,157.7L533.0,159.8L533.2,157.8L533.5,157.9L533.7,159.4L534.0,157.8L534.2,159.3L534.5,159.8L534.7,157.9L535.0,159.5L535.2,156.9L535.5,159.6L535.7,159.3L536.0,159.3L536.2,160.1L536.5,159.6L536.7,159.6L537.0,160.8L537.2,160.7L537.5,159.3L537.7,160.2L538.0,158.2L538.2,160.8L538.4,158.1L538.7,160.7L538.9,160.9L539.2,159.4L539.4,158.2L539.7,158.8L539.9,160.3L540.2,158.5L540.4,158.7L540.7,160.1L540.9,158.4L541.2,157.7L541.4,157.8L541.7,159.7L541.9,160.0L542.2,159.8L542.4,159.1L542.7,160.9L542.9,160.7L543.2,160.7L543.4,158.6L543.7,158.5L543.9,157.6L544.1,159.6L544.4,159.3L544.6,157.2L544.9,160.1L545.1,159.0L545.4,161.7L545.6,159.5L545.9,163.2L546.1,160.9L546.4,164.9L546.6,163.6L546.9,164.2L547.1,167.8L547.4,166.7L547.6,166.4L547.9,164.1L548.1,163.2L548.4,160.9L548.6,161.5L548.9,160.7L549.1,160.3L549.4,158.7L549.6,160.4L549.8,158.8L550.1,159.6L550.3,158.9L550.6,158.8L550.8,160.5L551.1,158.3L551.3,159.9L551.6,158.4L551.8,159.4L552.1,158.8L552.3,159.7L552.6,161.2L552.8,160.1L553.1,161.2L553.3,158.8L553.6,158.6L553.8,161.1L554.1,158.8L554.3,160.1L554.6,159.1L554.8,159.2L555.1,160.9L555.3,159.1L555.5,161.9L555.8,159.1L556.0,160.9L556.3,159.0L556.5,161.3L556.8,158.8L557.0,160.8L557.3,158.5L557.5,158.6L557.8,158.2L558.0,158.6L558.3,160.5L558.5,160.6L558.8,158.6L559.0,158.4L559.3,158.0L559.5,157.8L559.8,155.9L560.0,160.9L560.3,161.0L560.5,163.8L560.8,154.9L561.0,163.9L561.3,156.7L561.5,157.3L561.7,155.9L562.0,158.5L562.2,164.2L562.5,154.7L562.7,154.8L563.0,166.1L563.2,155.6L563.5,158.5L563.7,156.3L564.0,155.5L564.2,156.1L564.5,161.7L564.7,156.7L565.0,164.9L565.2,161.7L565.5,161.0L565.7,165.5L566.0,155.9L566.2,156.9L566.5,163.4L566.7,166.1L567.0,167.9L567.2,156.8L567.4,166.7L567.7,166.1L567.9,162.4L568.2,153.3L568.4,163.8L568.7,163.6L568.9,162.1L569.2,160.8L569.4,155.8L569.7,163.8L569.9,162.5L570.2,156.2L570.4,165.1L570.7,165.5L570.9,157.0L571.2,157.8L571.4,155.6L571.7,156.3L571.9,157.5L572.2,165.6L572.4,164.8L572.7,162.7L572.9,153.8L573.1,160.2L573.4,162.6L573.6,151.9L573.9,161.2L574.1,165.5L574.4,157.5L574.6,159.1L574.9,164.1L575.1,163.4L575.4,159.6L575.6,161.8L575.9,159.4L576.1,159.9L576.4,158.6L576.6,160.4L576.9,158.3L577.1,158.9L577.4,160.2L577.6,158.5L577.9,159.8L578.1,159.8L578.4,160.2L578.6,158.9L578.8,159.9L579.1,160.1L579.3,161.0L579.6,158.4L579.8,160.8L580.1,158.6L580.3,161.3L580.6,161.7L580.8,158.8L581.1,159.4L581.3,158.9L581.6,160.4L581.8,161.2L582.1,158.7L582.3,158.4L582.6,160.2L582.8,161.1L583.1,160.6L583.3,158.4L583.6,161.1L583.8,160.1L584.1,160.6L584.3,158.4L584.5,158.3L584.8,159.4L585.0,158.5L585.3,158.0L585.5,160.2L585.8,159.1L586.0,158.4L586.3,161.0L586.5,158.8L586.8,160.7L587.0,160.7L587.3,160.7L587.5,159.7L587.8,158.8L588.0,160.2L588.3,159.1L588.5,160.6L588.8,158.8L589.0,159.8L589.3,161.0L589.5,159.5L589.8,159.4L590.0,160.9L590.2,160.2L590.5,160.1L590.7,160.8L591.0,162.7L591.2,163.5L591.5,162.2L591.7,158.0L592.0,156.1L592.2,158.8L592.5,159.9L592.7,157.1L593.0,163.1L593.2,154.2L593.5,158.5L593.7,159.5L594.0,151.5L594.2,159.8L594.5,154.3L594.7,159.9L595.0,153.1L595.2,156.0L595.5,164.1L595.7,155.1L595.9,162.2L596.2,156.5L596.4,155.3L596.7,155.0L596.9,154.1L597.2,156.7L597.4,155.1L597.7,164.4L597.9,158.3L598.2,158.3L598.4,156.1L598.7,162.7L598.9,165.0L599.2,158.0L599.4,161.3L599.7,157.5L599.9,163.9L600.2,163.0L600.4,155.6L600.7,153.5L600.9,155.0L601.2,161.0L601.4,156.2L601.6,154.4L601.9,154.5L602.1,154.2L602.4,158.8L602.6,153.3L602.9,161.5L603.1,154.0L603.4,164.3L603.6,164.8L603.9,163.4L604.1,156.2L604.4,153.1L604.6,161.9L604.9,156.6L605.1,163.8L605.4,161.3L605.6,155.8L605.9,155.3L606.1,154.8L606.4,156.8L606.6,163.0L606.9,154.4L607.1,153.4L607.3,159.0L607.6,151.3L607.8,153.8L608.1,157.0L608.3,165.2L608.6,166.7L608.8,161.4L609.1,160.9L609.3,158.7L609.6,157.2L609.8,154.5L610.1,155.2L610.3,161.8L610.6,160.9L610.8,160.4L611.1,161.7L611.3,154.1L611.6,163.8L611.8,163.7L612.1,157.4L612.3,162.4L612.6,161.2L612.8,156.9L613.1,153.9L613.3,154.0L613.5,158.2L613.8,155.2L614.0,163.1L614.3,165.8L614.5,160.5L614.8,157.9L615.0,167.0L615.3,159.7L615.5,165.0L615.8,156.5L616.0,153.4L616.3,154.4L616.5,155.3L616.8,156.9L617.0,155.3L617.3,156.7L617.5,160.1L617.8,162.5L618.0,163.0L618.3,155.7L618.5,164.3L618.8,160.1L619.0,161.3L619.2,158.6L619.5,159.6L619.7,161.8L620.0,163.3L620.2,154.8L620.5,165.2L620.7,164.5L621.0,167.0L621.2,166.4L621.5,160.6L621.7,164.3L622.0,164.1L622.2,154.7L622.5,159.6L622.7,154.9L623.0,155.8L623.2,159.8L623.5,152.7L623.7,162.7L624.0,159.5L624.2,164.1L624.5,156.0L624.7,158.7L624.9,157.8L625.2,156.4L625.4,155.9L625.7,155.8L625.9,156.3L626.2,154.5L626.4,155.0L626.7,156.1L626.9,163.0L627.2,159.4L627.4,163.0L627.7,157.9L627.9,156.7L628.2,163.3L628.4,161.3L628.7,157.3L628.9,163.6L629.2,154.9L629.4,162.1L629.7,161.4L629.9,156.5L630.2,153.8L630.4,159.5L630.6,155.0L630.9,160.2L631.1,161.9L631.4,159.9L631.6,162.2L631.9,157.5L632.1,166.3L632.4,165.8L632.6,165.5L632.9,159.2L633.1,158.8L633.4,154.7L633.6,162.9L633.9,155.5L634.1,154.9L634.4,155.2L634.6,162.1L634.9,154.8L635.1,155.4L635.4,156.3L635.6,161.2L635.9,158.1L636.1,160.1L636.3,156.6L636.6,155.3L636.8,163.4L637.1,155.0L637.3,163.6L637.6,164.0L637.8,155.5L638.1,162.8L638.3,163.8L638.6,162.5L638.8,153.5L639.1,163.8L639.3,161.5L639.6,154.1L639.8,164.6L640.1,154.6L640.3,163.8L640.6,157.1L640.8,166.1L641.1,167.2L641.3,165.4L641.6,166.3L641.8,164.5L642.0,162.6L642.3,167.4L642.5,160.0L642.8,156.1L643.0,156.6L643.3,156.7L643.5,157.6L643.8,164.0L644.0,162.2L644.3,156.9L644.5,161.8L644.8,161.1L645.0,161.5L645.3,155.7L645.5,157.9L645.8,164.8L646.0,156.8L646.3,161.5L646.5,164.3L646.8,158.7L647.0,155.2L647.3,157.8L647.5,161.6L647.7,164.8L648.0,160.8L648.2,154.2L648.5,163.3L648.7,153.2L649.0,160.7L649.2,154.0L649.5,153.5L649.7,154.1L650.0,156.1L650.2,157.0L650.5,160.7L650.7,155.6L651.0,156.6L651.2,156.7L651.5,163.2L651.7,164.9L652.0,164.4L652.2,163.9L652.5,161.3L652.7,157.6L653.0,155.7L653.2,162.5L653.4,154.6L653.7,162.8L653.9,154.2L654.2,155.6L654.4,162.8L654.7,162.3L654.9,161.6L655.2,161.8L655.4,152.9L655.7,162.2L655.9,159.1L656.2,161.6L656.4,154.9L656.7,153.5L656.9,154.8L657.2,157.2L657.4,162.8L657.7,160.1L657.9,163.3L658.2,157.1L658.4,155.9L658.7,156.4L658.9,160.3L659.1,156.8L659.4,163.8L659.6,162.3L659.9,152.7L660.1,161.4L660.4,162.0L660.6,154.3L660.9,154.7L661.1,161.6L661.4,156.8L661.6,153.3L661.9,154.3L662.1,162.1L662.4,155.5L662.6,157.2L662.9,161.9L663.1,156.5L663.4,164.4L663.6,164.2L663.9,163.5L664.1,156.7L664.4,163.9L664.6,165.3L664.9,157.3L665.1,165.4L665.3,163.9L665.6,153.7L665.8,154.9L666.1,161.6L666.3,153.9L666.6,157.8L666.8,158.7L667.1,159.1L667.3,152.9L667.6,161.4L667.8,152.6L668.1,154.7L668.3,162.8L668.6,153.8L668.8,154.7L669.1,160.7L669.3,160.6L669.6,152.8L669.8,156.3L670.1,160.6L670.3,154.0L670.6,156.8L670.8,159.2L671.0,156.5L671.3,164.8L671.5,165.4L671.8,159.3L672.0,155.8L672.3,163.6L672.5,164.5L672.8,163.8L673.0,165.0L673.3,163.3L673.5,155.3L673.8,155.1L674.0,159.3L674.3,164.2L674.5,161.7L674.8,155.2L675.0,155.7L675.3,157.1L675.5,164.0L675.8,158.5L676.0,164.2L676.3,163.5L676.5,161.4L676.7,157.6L677.0,164.5L677.2,159.6L677.5,157.3L677.7,164.6L678.0,161.0L678.2,163.9L678.5,156.0L678.7,164.8L679.0,157.6L679.2,155.1L679.5,165.0L679.7,165.0L680.0,157.0L680.2,161.3L680.5,162.2L680.7,160.8L681.0,154.4L681.2,157.0L681.5,153.6L681.7,157.3L682.0,158.9L682.2,163.4L682.4,160.4L682.7,163.3L682.9,156.8L683.2,162.2L683.4,153.9L683.7,161.8L683.9,163.0L684.2,152.9L684.4,160.6L684.7,157.8L684.9,162.7L685.2,155.0L685.4,157.5L685.7,166.6L685.9,166.5L686.2,161.2L686.4,158.3L686.7,160.7L686.9,159.1L687.2,164.5L687.4,163.4L687.7,165.1L687.9,159.3L688.1,161.1L688.4,163.4L688.6,156.8L688.9,155.4L689.1,163.5L689.4,163.3L689.6,163.1L689.9,153.5L690.1,152.4L690.4,161.2L690.6,151.3L690.9,152.1L691.1,160.8L691.4,155.8L691.6,162.1L691.9,166.2L692.1,163.8L692.4,163.7L692.6,163.5L692.9,158.9L693.1,160.0L693.4,160.2L693.6,157.5L693.8,157.7L694.1,164.3L694.3,154.5L694.6,157.3L694.8,163.6L695.1,163.9L695.3,155.4L695.6,156.8L695.8,162.7L696.1,158.0L696.3,166.7L696.6,156.9L696.8,164.3L697.1,157.6L697.3,158.3L697.6,155.3L697.8,161.8L698.1,163.6L698.3,165.0L698.6,161.8L698.8,162.3L699.1,163.6L699.3,157.7L699.5,155.8L699.8,164.6L700.0,164.6L700.3,156.4L700.5,154.0L700.8,155.6L701.0,164.1L701.3,164.0L701.5,159.5L701.8,164.7L702.0,161.7L702.3,160.6L702.5,153.9L702.8,156.6L703.0,154.6L703.3,160.2L703.5,160.1L703.8,163.7L704.0,155.6L704.3,163.7L704.5,163.7L704.8,154.6L705.0,156.9L705.2,152.8L705.5,161.1L705.7,152.5L706.0,161.6L706.2,152.7L706.5,162.1L706.7,157.4L707.0,156.1L707.2,160.7L707.5,156.0L707.7,157.4L708.0,157.4L708.2,153.9L708.5,157.5L708.7,153.4L709.0,153.5L709.2,156.1L709.5,160.5L709.7,153.6L710.0,153.7L710.2,152.2L710.5,154.6L710.7,152.8L711.0,157.2L711.2,154.7L711.4,161.2L711.7,163.8L711.9,156.8L712.2,166.0L712.4,164.1L712.7,155.8L712.9,154.2L713.2,160.2L713.4,155.5L713.7,159.8L713.9,160.7L714.2,153.7L714.4,161.9L714.7,156.0L714.9,154.8L715.2,162.6L715.4,155.9L715.7,164.4L715.9,163.8L716.2,166.3L716.4,164.8L716.7,157.1L716.9,161.4L717.1,160.8L717.4,157.1L717.6,160.7L717.9,156.8L718.1,156.4L718.4,164.1L718.6,161.1L718.9,164.1L719.1,165.6L719.4,157.2L719.6,155.1L719.9,155.9L720.1,161.0L720.4,163.9L720.6,154.8L720.9,158.4L721.1,155.2L721.4,162.6L721.6,156.8L721.9,155.5L722.1,156.0L722.4,162.5L722.6,155.1L722.8,157.5L723.1,165.2L723.3,165.5L723.6,157.6L723.8,164.8L724.1,164.2L724.3,160.1L724.6,164.9L724.8,165.6L725.1,164.0L725.3,164.3L725.6,163.7L725.8,156.2L726.1,164.3L726.3,160.1L726.6,154.7L726.8,157.1L727.1,164.1L727.3,164.6L727.6,155.6L727.8,156.7L728.1,157.0L728.3,161.8L728.5,161.4L728.8,160.8L729.0,161.8L729.3,156.1L729.5,163.7L729.8,161.8L730.0,156.9L730.3,158.4L730.5,162.6" fill="none" stroke="#0000dc" stroke-width="3" stroke-linejoin="round"/>
<path d="M764.5,155.7L764.7,148.4L765.0,148.6L765.2,152.7L765.5,161.6L765.7,159.8L766.0,153.5L766.2,151.1L766.5,159.1L766.7,160.4L767.0,155.1L767.2,151.9L767.5,160.9L767.7,152.3L768.0,151.1L768.2,154.8L768.5,156.8L768.7,147.8L769.0,148.9L769.2,159.3L769.5,161.8L769.7,160.4L770.0,158.8L770.2,162.0L770.5,160.3L770.7,153.7L771.0,153.4L771.2,152.8L771.5,152.8L771.7,161.0L772.0,156.6L772.2,154.5L772.5,157.0L772.7,158.3L773.0,155.9L773.2,154.6L773.5,154.3L773.7,163.2L774.0,164.0L774.2,162.1L774.5,153.3L774.7,161.4L775.0,153.4L775.2,155.0L775.5,150.9L775.7,162.8L776.0,152.1L776.2,163.1L776.5,153.8L776.7,155.5L777.0,161.8L777.2,162.6L777.5,162.2L777.7,161.5L778.0,166.7L778.2,163.6L778.5,167.6L778.7,161.6L779.0,160.1L779.2,165.0L779.5,164.2L779.7,163.2L780.0,164.4L780.2,170.7L780.5,170.0L780.7,168.1L781.0,155.8L781.2,161.7L781.5,157.7L781.7,167.0L782.0,161.3L782.2,164.8L782.5,168.5L782.7,169.1L783.0,169.6L783.2,160.6L783.5,160.3L783.7,158.5L784.0,167.6L784.2,163.3L784.5,160.3L784.7,162.7L785.0,158.2L785.2,169.7L785.5,157.5L785.7,166.6L786.0,159.6L786.2,163.6L786.5,163.2L786.7,157.4L787.0,169.4L787.2,169.9L787.5,156.2L787.7,163.3L788.0,165.1L788.2,169.2L788.5,164.1L788.7,161.5L789.0,159.1L789.2,168.0L789.5,170.6L789.7,159.1L790.0,168.0L790.2,159.0L790.5,157.7L790.7,155.9L791.0,168.9L791.2,168.4L791.5,167.4L791.7,159.6L792.0,167.9L792.2,168.0L792.5,159.7L792.7,171.3L793.0,170.5L793.2,169.6L793.5,161.4L793.7,167.1L794.0,165.7L794.2,163.8L794.5,163.3L794.7,168.7L795.0,172.4L795.2,160.4L795.5,158.8L795.7,161.7L796.0,167.7L796.2,156.0L796.5,170.4L796.7,158.3L797.0,161.6L797.2,169.8L797.5,162.2L797.7,162.2L798.0,170.2L798.2,163.1L798.5,155.4L798.7,156.4L799.0,165.5L799.2,164.5" fill="none" stroke="#0000dc" stroke-width="3" stroke-linejoin="round"/>
<path d="M532.5,157.3L533.0,157.2L533.5,157.3L534.0,157.3L534.5,157.2L535.0,157.1L535.5,157.4L536.0,157.8L536.5,158.2L537.0,158.4L537.5,158.4L538.0,158.4L538.5,158.3L539.0,158.3L539.4,158.2L539.9,157.9L540.4,157.6L540.9,157.2L541.4,157.2L541.9,157.3L542.4,157.5L542.9,157.8L543.4,158.1L543.9,158.4L544.4,158.5L544.9,159.0L545.4,160.0L545.9,161.0L546.4,162.0L546.9,163.0L547.4,162.3L547.9,160.8L548.4,159.3L548.9,158.6L549.4,158.5L549.9,158.3L550.4,158.2L550.9,158.4L551.4,158.8L551.9,159.1L552.4,159.1L552.8,158.7L553.3,158.5L553.8,158.6L554.3,158.8L554.8,159.0L555.3,158.9L555.8,158.7L556.3,158.6L556.8,158.6L557.3,158.4L557.8,158.1L558.3,157.9L558.8,158.1L559.3,158.1L559.8,157.1L560.3,156.1L560.8,155.6L561.3,157.1L561.8,158.0L562.3,158.0L562.8,157.3L563.3,155.5L563.8,153.9L564.3,153.0L564.8,153.0L565.3,152.9L565.8,152.6L566.2,152.9L566.7,154.2L567.2,155.0L567.7,154.5L568.2,154.0L568.7,154.8L569.2,156.8L569.7,158.0L570.2,158.0L570.7,158.0L571.2,156.6L571.7,154.3L572.2,153.3L572.7,153.7L573.2,154.0L573.7,153.6L574.2,153.1L574.7,154.3L575.2,157.4L575.7,158.4L576.2,158.4L576.7,158.5L577.2,158.6L577.7,158.6L578.2,158.7L578.7,158.7L579.2,158.6L579.6,158.4L580.1,158.3L580.6,158.3L581.1,158.4L581.6,158.4L582.1,158.4L582.6,158.7L583.1,159.0L583.6,159.1L584.1,159.0L584.6,158.8L585.1,158.5L585.6,158.1L586.1,157.8L586.6,157.8L587.1,158.0L587.6,158.1L588.1,158.1L588.6,158.0L589.1,158.1L589.6,158.3L590.1,158.4L590.6,158.5L591.1,157.8L591.6,156.9L592.1,155.7L592.6,154.6L593.1,154.2L593.5,154.1L594.0,154.4L594.5,155.2L595.0,155.9L595.5,155.9L596.0,155.3L596.5,154.0L597.0,152.7L597.5,152.8L598.0,154.2L598.5,155.6L599.0,156.3L599.5,156.3L600.0,155.9L600.5,155.7L601.0,155.7L601.5,155.5L602.0,155.5L602.5,155.5L603.0,155.4L603.5,155.7L604.0,156.1L604.5,155.9L605.0,155.0L605.5,153.8L606.0,153.1L606.5,153.3L606.9,154.0L607.4,154.4L607.9,154.9L608.4,155.2L608.9,155.0L609.4,154.2L609.9,153.2L610.4,152.5L610.9,152.5L611.4,152.5L611.9,152.2L612.4,152.5L612.9,153.6L613.4,154.6L613.9,155.0L614.4,155.5L614.9,156.0L615.4,155.9L615.9,156.0L616.4,156.7L616.9,157.0L617.4,156.1L617.9,155.0L618.4,155.0L618.9,155.7L619.4,156.3L619.9,156.1L620.3,155.5L620.8,155.0L621.3,154.5L621.8,153.7L622.3,153.3L622.8,154.1L623.3,155.1L623.8,155.3L624.3,154.4L624.8,153.0L625.3,152.4L625.8,153.2L626.3,154.4L626.8,155.1L627.3,155.6L627.8,156.3L628.3,157.1L628.8,157.4L629.3,156.6L629.8,155.0L630.3,153.6L630.8,153.3L631.3,153.7L631.8,154.3L632.3,154.4L632.8,154.2L633.3,154.4L633.7,155.2L634.2,155.7L634.7,155.5L635.2,155.2L635.7,155.1L636.2,155.3L636.7,155.3L637.2,154.6L637.7,153.0L638.2,151.8L638.7,151.9L639.2,152.9L639.7,153.9L640.2,154.8L640.7,155.3L641.2,155.2L641.7,154.1L642.2,153.2L642.7,153.4L643.2,154.4L643.7,155.1L644.2,155.5L644.7,155.7L645.2,155.8L645.7,155.3L646.2,154.4L646.7,153.8L647.1,153.6L647.6,153.6L648.1,153.5L648.6,153.6L649.1,154.2L649.6,155.0L650.1,155.5L650.6,155.7L651.1,155.6L651.6,154.8L652.1,153.6L652.6,152.7L653.1,152.3L653.6,152.2L654.1,152.4L654.6,152.8L655.1,153.8L655.6,155.1L656.1,156.1L656.6,155.8L657.1,154.6L657.6,153.8L658.1,153.5L658.6,153.3L659.1,153.5L659.6,154.4L660.1,155.5L660.5,155.8L661.0,154.7L661.5,153.2L662.0,152.5L662.5,153.1L663.0,154.0L663.5,154.1L664.0,153.6L664.5,153.6L665.0,153.9L665.5,154.2L666.0,154.6L666.5,155.1L667.0,155.4L667.5,155.3L668.0,155.1L668.5,155.4L669.0,156.2L669.5,156.7L670.0,155.8L670.5,154.1L671.0,153.1L671.5,153.4L672.0,155.0L672.5,156.4L673.0,156.7L673.5,155.7L674.0,154.4L674.4,153.4L674.9,152.7L675.4,152.7L675.9,153.1L676.4,153.7L676.9,154.3L677.4,154.9L677.9,155.0L678.4,154.7L678.9,154.5L679.4,154.7L679.9,155.1L680.4,155.3L680.9,154.9L681.4,154.2L681.9,154.0L682.4,154.4L682.9,154.9L683.4,155.6L683.9,156.7L684.4,157.4L684.9,156.7L685.4,155.3L685.9,154.4L686.4,154.9L686.9,155.9L687.4,156.2L687.8,155.9L688.3,155.9L688.8,156.4L689.3,156.3L689.8,155.4L690.3,154.7L690.8,154.6L691.3,155.4L691.8,156.4L692.3,156.5L692.8,155.9L693.3,155.4L693.8,155.4L694.3,155.0L694.8,154.4L695.3,154.4L695.8,155.3L696.3,156.3L696.8,156.7L697.3,156.6L697.8,156.4L698.3,156.5L698.8,156.4L699.3,156.4L699.8,156.1L700.3,155.4L700.8,155.2L701.2,155.4L701.7,155.6L702.2,155.2L702.7,154.7L703.2,154.4L703.7,153.4L704.2,151.8L704.7,151.8L705.2,151.8L705.7,151.8L706.2,151.8L706.7,152.2L707.2,152.7L707.7,153.0L708.2,153.2L708.7,153.6L709.2,153.8L709.7,153.8L710.2,153.8L710.7,154.0L711.2,154.3L711.7,154.6L712.2,154.0L712.7,153.0L713.2,152.4L713.7,152.6L714.2,153.1L714.6,153.5L715.1,153.5L715.6,153.3L716.1,153.0L716.6,152.6L717.1,152.3L717.6,152.2L718.1,152.5L718.6,153.1L719.1,153.9L719.6,154.1L720.1,154.1L720.6,154.4L721.1,154.5L721.6,154.0L722.1,153.1L722.6,152.4L723.1,152.0L723.6,152.2L724.1,153.2L724.6,154.8L725.1,156.2L725.6,157.0L726.1,157.6L726.6,157.7L727.1,157.7L727.6,157.7L728.0,157.7L728.5,157.7L729.0,156.5L729.5,154.9L730.0,154.1L730.5,154.1L730.5,162.3L730.0,163.0L729.5,163.6L729.0,164.0L728.5,163.9L728.0,163.4L727.6,162.5L727.1,162.2L726.6,163.1L726.1,164.3L725.6,165.0L725.1,165.3L724.6,165.7L724.1,165.6L723.6,165.0L723.1,164.8L722.6,165.4L722.1,166.3L721.6,166.9L721.1,166.7L720.6,166.3L720.1,165.8L719.6,165.3L719.1,164.9L718.6,164.9L718.1,165.4L717.6,165.7L717.1,165.8L716.6,165.6L716.1,164.8L715.6,163.6L715.1,162.7L714.6,162.5L714.2,162.8L713.7,163.2L713.2,163.3L712.7,163.1L712.2,162.9L711.7,162.5L711.2,162.2L710.7,162.6L710.2,164.0L709.7,165.0L709.2,164.7L708.7,163.7L708.2,162.8L707.7,162.5L707.2,162.7L706.7,163.5L706.2,164.1L705.7,164.5L705.2,165.0L704.7,165.4L704.2,165.1L703.7,164.6L703.2,164.5L702.7,164.6L702.2,164.1L701.7,163.1L701.2,162.4L700.8,162.5L700.3,163.5L699.8,164.4L699.3,164.7L698.8,164.8L698.3,164.8L697.8,165.0L697.3,165.9L696.8,166.8L696.3,166.8L695.8,166.0L695.3,165.4L694.8,166.0L694.3,167.0L693.8,167.0L693.3,167.0L692.8,167.0L692.3,166.5L691.8,164.9L691.3,163.8L690.8,163.7L690.3,164.3L689.8,165.3L689.3,166.2L688.8,166.2L688.3,164.8L687.8,163.0L687.4,162.1L686.9,162.2L686.4,162.2L685.9,161.6L685.4,161.1L684.9,161.6L684.4,162.5L683.9,163.1L683.4,163.3L682.9,163.8L682.4,164.6L681.9,165.5L681.4,166.1L680.9,166.5L680.4,166.6L679.9,166.3L679.4,165.6L678.9,165.1L678.4,164.7L677.9,164.3L677.4,164.2L676.9,164.8L676.4,165.9L675.9,166.7L675.4,166.6L674.9,165.9L674.4,165.5L674.0,165.6L673.5,165.5L673.0,165.1L672.5,165.0L672.0,165.8L671.5,166.9L671.0,167.0L670.5,167.0L670.0,166.4L669.5,164.2L669.0,162.8L668.5,162.7L668.0,162.9L667.5,162.8L667.0,162.6L666.5,162.2L666.0,162.2L665.5,162.8L665.0,163.3L664.5,163.1L664.0,162.9L663.5,163.6L663.0,164.6L662.5,164.9L662.0,164.3L661.5,163.0L661.0,162.1L660.5,162.4L660.1,163.2L659.6,163.4L659.1,163.5L658.6,164.4L658.1,165.5L657.6,165.7L657.1,165.1L656.6,164.7L656.1,164.8L655.6,165.3L655.1,166.2L654.6,167.0L654.1,167.0L653.6,167.0L653.1,167.0L652.6,166.5L652.1,165.9L651.6,164.9L651.1,163.9L650.6,163.6L650.1,164.0L649.6,164.4L649.1,164.2L648.6,163.7L648.1,163.3L647.6,163.7L647.1,164.9L646.7,165.6L646.2,165.0L645.7,163.6L645.2,162.4L644.7,161.6L644.2,161.5L643.7,162.1L643.2,162.8L642.7,162.8L642.2,162.7L641.7,162.8L641.2,163.0L640.7,163.5L640.2,164.5L639.7,165.2L639.2,164.8L638.7,163.7L638.2,163.2L637.7,163.5L637.2,163.9L636.7,164.2L636.2,164.3L635.7,163.8L635.2,163.0L634.7,162.8L634.2,163.6L633.7,164.6L633.3,164.9L632.8,164.2L632.3,163.5L631.8,163.4L631.3,163.7L630.8,164.3L630.3,165.0L629.8,165.8L629.3,166.0L628.8,166.0L628.3,166.2L627.8,166.8L627.3,167.0L626.8,166.4L626.3,165.2L625.8,164.5L625.3,164.7L624.8,165.0L624.3,164.8L623.8,164.4L623.3,164.4L622.8,164.9L622.3,165.2L621.8,164.5L621.3,163.2L620.8,162.3L620.3,162.5L619.9,163.7L619.4,164.8L618.9,165.2L618.4,165.2L617.9,165.2L617.4,165.3L616.9,164.9L616.4,164.3L615.9,164.0L615.4,163.7L614.9,163.6L614.4,164.3L613.9,165.1L613.4,165.2L612.9,164.7L612.4,164.5L611.9,164.5L611.4,164.1L610.9,163.3L610.4,162.6L609.9,162.0L609.4,161.8L608.9,162.5L608.4,164.0L607.9,165.5L607.4,166.2L606.9,165.9L606.5,164.7L606.0,163.5L605.5,163.0L605.0,162.9L604.5,163.2L604.0,163.9L603.5,164.5L603.0,164.1L602.5,162.8L602.0,161.4L601.5,161.1L601.0,161.6L600.5,162.4L600.0,162.4L599.5,162.3L599.0,163.2L598.5,164.9L598.0,166.3L597.5,166.6L597.0,166.1L596.5,165.8L596.0,166.0L595.5,165.9L595.0,165.6L594.5,165.3L594.0,165.3L593.5,165.6L593.1,165.7L592.6,165.0L592.1,163.5L591.6,162.3L591.1,161.8L590.6,161.2L590.1,161.2L589.6,161.2L589.1,161.1L588.6,161.2L588.1,161.4L587.6,161.4L587.1,161.0L586.6,160.6L586.1,160.3L585.6,160.4L585.1,160.5L584.6,160.6L584.1,160.5L583.6,160.5L583.1,160.5L582.6,160.6L582.1,160.8L581.6,160.9L581.1,160.8L580.6,160.7L580.1,160.6L579.6,160.5L579.2,160.6L578.7,161.0L578.2,161.4L577.7,161.6L577.2,161.3L576.7,161.0L576.2,160.6L575.7,160.3L575.2,160.6L574.7,162.9L574.2,164.7L573.7,165.0L573.2,165.0L572.7,165.5L572.2,166.0L571.7,166.1L571.2,166.1L570.7,166.2L570.2,166.1L569.7,166.0L569.2,166.0L568.7,166.4L568.2,166.5L567.7,166.1L567.2,165.5L566.7,165.3L566.2,165.4L565.8,165.2L565.3,165.1L564.8,164.6L564.3,162.9L563.8,161.6L563.3,161.6L562.8,161.6L562.3,161.6L561.8,162.0L561.3,162.9L560.8,163.5L560.3,163.0L559.8,162.2L559.3,161.2L558.8,161.1L558.3,161.3L557.8,161.1L557.3,160.9L556.8,160.7L556.3,160.8L555.8,160.9L555.3,160.9L554.8,160.9L554.3,160.8L553.8,160.7L553.3,160.6L552.8,160.7L552.4,160.9L551.9,161.2L551.4,161.5L550.9,161.8L550.4,161.8L549.9,161.6L549.4,161.1L548.9,160.7L548.4,161.8L547.9,164.1L547.4,166.3L546.9,167.2L546.4,165.6L545.9,163.9L545.4,162.5L544.9,161.2L544.4,160.5L543.9,160.3L543.4,160.2L542.9,160.0L542.4,160.0L541.9,160.2L541.4,160.3L540.9,160.3L540.4,160.3L539.9,160.4L539.4,160.5L539.0,160.5L538.5,160.5L538.0,160.4L537.5,160.2L537.0,160.2L536.5,160.4L536.0,160.6L535.5,160.4L535.0,160.0L534.5,159.8L534.0,159.7L533.5,159.7L533.0,159.7L532.5,159.8Z" fill="#0000dc" stroke="none"/>
<path d="M764.5,148.7L764.9,147.9L765.4,148.0L765.8,148.0L766.2,150.5L766.7,152.5L767.1,153.5L767.6,153.0L768.0,151.9L768.4,151.6L768.9,153.0L769.3,154.7L769.8,154.8L770.2,153.5L770.6,152.4L771.1,152.6L771.5,152.8L772.0,152.1L772.4,151.5L772.8,151.6L773.3,151.4L773.7,150.9L774.2,151.2L774.6,152.7L775.0,154.0L775.5,154.4L775.9,154.7L776.4,155.4L776.8,155.9L777.2,155.9L777.7,156.7L778.1,158.4L778.6,158.4L779.0,156.7L779.4,155.3L779.9,155.1L780.3,155.5L780.8,155.7L781.2,155.7L781.6,156.4L782.1,157.9L782.5,159.4L783.0,160.1L783.4,159.3L783.8,157.5L784.3,155.5L784.7,154.1L785.2,153.8L785.6,154.5L786.0,155.5L786.5,156.5L786.9,157.4L787.4,158.2L787.8,158.3L788.2,157.8L788.7,157.4L789.1,157.3L789.6,157.1L790.0,156.7L790.4,157.0L790.9,157.8L791.3,158.5L791.8,158.9L792.2,158.5L792.6,157.6L793.1,157.5L793.5,157.8L794.0,157.4L794.4,156.5L794.8,156.2L795.3,156.2L795.7,155.9L796.2,155.1L796.6,154.9L797.0,156.0L797.5,157.6L797.9,157.8L798.4,156.8L798.8,155.3L799.2,153.8L799.2,167.4L798.8,169.8L798.4,171.5L797.9,172.2L797.5,171.7L797.0,170.3L796.6,169.6L796.2,169.5L795.7,169.4L795.3,169.5L794.8,169.7L794.4,170.3L794.0,171.8L793.5,173.3L793.1,173.4L792.6,172.3L792.2,170.7L791.8,168.9L791.3,167.6L790.9,167.5L790.4,168.2L790.0,168.6L789.6,168.0L789.1,167.1L788.7,167.0L788.2,167.5L787.8,167.8L787.4,168.1L786.9,168.5L786.5,168.7L786.0,169.1L785.6,169.7L785.2,169.7L784.7,168.8L784.3,167.3L783.8,165.5L783.4,164.7L783.0,164.6L782.5,164.5L782.1,165.1L781.6,166.2L781.2,166.1L780.8,166.3L780.3,167.0L779.9,167.4L779.4,167.5L779.0,167.8L778.6,168.3L778.1,168.6L777.7,168.4L777.2,167.7L776.8,167.2L776.4,167.4L775.9,167.8L775.5,167.8L775.0,167.5L774.6,167.2L774.2,167.3L773.7,167.5L773.3,167.0L772.8,165.8L772.4,164.1L772.0,162.6L771.5,162.0L771.1,162.2L770.6,162.6L770.2,162.4L769.8,162.2L769.3,162.4L768.9,162.5L768.4,162.0L768.0,161.1L767.6,160.8L767.1,161.4L766.7,161.8L766.2,161.4L765.8,161.0L765.4,161.4L764.9,162.3L764.5,162.2Z" fill="#0000dc" stroke="none"/>
<path d="M547.0,153.5L547.7,154.0L548.4,154.4L549.1,152.7L549.8,153.3L550.5,151.7L551.1,152.1L551.8,152.2L552.5,154.5L553.2,153.0L553.9,152.8L554.5,154.5L555.2,153.2L555.9,153.6L556.6,154.0L557.3,152.3L557.9,153.4L558.6,154.3L559.3,153.5L560.0,151.9" fill="none" stroke="#0000dc" stroke-width="2.6" stroke-linejoin="round"/>
<path d="M682.0,135.1L682.1,138.2L682.2,141.1L682.4,142.3L682.5,144.3L682.6,147.6L682.7,148.8L682.8,152.3L682.9,154.0L683.0,157.2L683.1,157.1L683.2,155.1L683.3,153.5L683.4,149.2L683.5,146.3L683.6,144.1L683.7,142.5L683.8,141.0L683.9,138.2L684.1,134.6" fill="none" stroke="#0000dc" stroke-width="2.6" stroke-linejoin="round"/>
<path d="M729.3,138.7L729.4,142.6L729.4,142.0L729.5,144.7L729.6,146.7L729.6,148.0L729.7,151.1L729.8,153.6L729.8,156.4L729.9,157.1L730.0,157.1L730.0,154.3L730.1,152.3L730.1,151.5L730.2,148.4L730.3,146.0L730.3,145.6L730.4,142.9L730.5,140.9L730.5,139.2" fill="none" stroke="#0000dc" stroke-width="2.6" stroke-linejoin="round"/>
<path d="M799.2,139.2L799.3,143.7L799.4,147.5L799.5,150.9L799.6,153.8L799.7,157.3L799.8,160.6L799.9,165.9L800.0,169.0L800.1,172.9L800.2,175.0L800.3,168.8L800.4,167.0L800.5,162.2L800.6,158.5L800.7,154.5L800.8,150.6L800.9,146.5L801.0,144.7L801.1,139.9L801.2,142.2L801.3,146.0L801.4,148.2L801.5,152.1L801.6,155.9L801.7,161.4L801.8,162.7L801.9,167.4L802.0,171.6L802.1,174.0" fill="none" stroke="#0000dc" stroke-width="2.6" stroke-linejoin="round"/>
<path d="M572.1,161.6L572.2,166.1L572.2,169.9L572.3,172.3L572.4,173.2L572.4,176.8L572.5,182.8L572.6,185.2L572.6,187.9L572.7,188.6L572.7,193.7L572.8,197.6L572.9,198.2L572.9,201.2L573.0,206.5L573.1,209.4L573.1,211.0L573.2,215.9L573.3,217.1L573.3,221.4" fill="none" stroke="#0000dc" stroke-width="3.2" stroke-linejoin="round"/>
<path d="M532.6,198.6L534.3,195.6L536.0,192.7L537.6,189.8L539.3,186.9L541.0,184.0L542.7,181.2L544.3,178.4L546.0,175.6L547.7,172.8L549.4,170.1L551.0,167.4L552.7,164.8L554.4,162.2L556.1,159.6L557.7,157.0L559.4,154.5L561.1,152.0L562.8,149.6L564.4,147.2L566.1,144.8L567.8,142.4L569.5,140.1L571.2,137.8L572.8,135.5L574.5,133.3L576.2,131.1L577.9,128.9L579.5,126.8L581.2,124.7L582.9,122.7L584.6,120.6L586.2,118.6L587.9,116.7L589.6,114.8L591.3,112.9L592.9,111.0L594.6,109.2L596.3,107.4L598.0,105.7L599.6,103.9L601.3,102.3L603.0,100.6L604.7,99.0L606.3,97.4L608.0,95.9L609.7,94.4L611.4,92.9L613.1,91.5L614.7,90.1L616.4,88.7L618.1,87.4L619.8,86.1L621.4,84.8L623.1,83.6L624.8,82.4L626.5,81.3L628.1,80.2L629.8,79.1L631.5,78.1L633.2,77.1L634.8,76.1L636.5,75.2L638.2,74.3L639.9,73.5L641.5,72.7L643.2,71.9L644.9,71.2L646.6,70.5L648.3,69.8L649.9,69.2L651.6,68.6L653.3,68.1L655.0,67.6L656.6,67.1L658.3,66.7L660.0,66.3L661.7,66.0L663.3,65.7L665.0,65.4L666.7,65.2L668.4,65.0L670.0,64.9L671.7,64.7L673.4,64.7L675.1,64.7L676.7,64.7L678.4,64.7L680.1,64.8L681.8,65.0L683.4,65.1L685.1,65.3L686.8,65.6L688.5,65.9L690.2,66.2L691.8,66.6L693.5,67.0L695.2,67.4L696.9,67.9L698.5,68.4L700.2,69.0L701.9,69.6L703.6,70.2L705.2,70.8L706.9,71.5L708.6,72.2L710.3,73.0L711.9,73.8L713.6,74.6L715.3,75.5L717.0,76.3L718.6,77.3L720.3,78.2L722.0,79.2L723.7,80.2L725.4,81.2L727.0,82.3L728.7,83.4L730.4,84.6L732.1,85.7L733.7,86.9L735.4,88.1L737.1,89.4L738.8,90.6L740.4,91.9L742.1,93.2L743.8,94.6L745.5,96.0L747.1,97.4L748.8,98.8L750.5,100.3L752.2,101.7L753.8,103.2L755.5,104.8L757.2,106.3L758.9,107.9L760.5,109.5L762.2,111.1L763.9,112.7L765.6,114.4L767.3,116.0L768.9,117.7L770.6,119.5L772.3,121.2L774.0,123.0L775.6,124.7L777.3,126.5L779.0,128.3L780.7,130.2L782.3,132.0L784.0,133.9L785.7,135.8L787.4,137.7L789.0,139.6L790.7,141.5L792.4,143.5L794.1,145.4L795.7,147.4L797.4,149.4L799.1,151.4" fill="none" stroke="#3838f0" stroke-width="3.0" stroke-linejoin="round"/>
</g>
<path d="M532.50,11.40H815.40M532.50,232.30H815.40" stroke="#626262" stroke-width="1.15" fill="none"/>
<path d="M532.50,11.40V232.30" stroke="#44449c" stroke-width="1.15" fill="none"/>
<path d="M815.40,11.40V232.30" stroke="#303030" stroke-width="1.2" fill="none"/>
<path d="M532.50,232.30v-2.8M532.50,11.40v2.8M613.33,232.30v-2.8M613.33,11.40v2.8M694.16,232.30v-2.8M694.16,11.40v2.8M774.99,232.30v-2.8M774.99,11.40v2.8" stroke="#404040" stroke-width="1" fill="none"/>
<path d="M532.50,232.30h2.8M532.50,158.67h2.8M532.50,85.03h2.8M532.50,11.40h2.8" stroke="#44449c" stroke-width="1" fill="none"/>
<path d="M815.40,232.30h-2.8M815.40,158.67h-2.8M815.40,85.03h-2.8M815.40,11.40h-2.8" stroke="#303030" stroke-width="1" fill="none"/>
<g font-size="24.5" fill="#0808dc" stroke="#0808dc" text-anchor="end">
<text x="525.00" y="241.30">-20</text>
<text x="525.00" y="167.67">0</text>
<text x="525.00" y="94.03">20</text>
<text x="525.00" y="20.40">40</text>
</g>
<g font-size="24.5" fill="#111111" stroke="#111111" text-anchor="start">
<text x="823.00" y="241.40">40</text>
<text x="823.00" y="167.77">50</text>
<text x="823.00" y="94.13">60</text>
<text x="823.00" y="20.50">70</text>
</g>
<g font-size="24.5" fill="#111111" stroke="#111111" text-anchor="middle">
<text x="532.50" y="263.50">0</text>
<text x="613.33" y="263.50">1</text>
<text x="694.16" y="263.50">2</text>
<text x="774.99" y="263.50">3</text>
</g>
<text font-size="27.5" fill="#111111" stroke="#111111" text-anchor="middle" x="673.95" y="294.90">Time [hour]</text>
<text font-size="27.50" fill="#0808dc" stroke="#0808dc" text-anchor="middle" transform="translate(483.40,121.85) rotate(-90)">Residual [mm]</text>
<text font-size="27.50" fill="#111111" stroke="#111111" text-anchor="middle" transform="translate(877.50,121.85) rotate(-90)">Elevation [deg]</text>
<rect x="545.50" y="197.00" width="217" height="22.1" fill="#fff" stroke="#111111" stroke-width="1.2"/>
<line x1="549.00" y1="208.85" x2="576.50" y2="208.85" stroke="#ff0000" stroke-width="3" stroke-dasharray="3,2.5"/>
<text font-size="17" fill="#111111" x="579.00" y="213.80">raw</text>
<rect x="623.00" y="207.85" width="2" height="2" fill="#0808dc"/>
<text font-size="17" fill="#111111" x="641.00" y="213.80">SF</text>
<line x1="666.00" y1="208.85" x2="692.50" y2="208.85" stroke="#0808dc" stroke-width="3"/>
<text font-size="17" fill="#111111" x="695.50" y="213.80">elevation</text>
<line x1="1019.62" y1="11.40" x2="1019.62" y2="233.10" stroke="#dedede" stroke-width="1"/>
<line x1="1113.85" y1="11.40" x2="1113.85" y2="233.10" stroke="#dedede" stroke-width="1"/>
<line x1="1208.08" y1="11.40" x2="1208.08" y2="233.10" stroke="#dedede" stroke-width="1"/>
<line x1="972.50" y1="210.93" x2="1255.20" y2="210.93" stroke="#dcdcf8" stroke-width="1"/>
<line x1="972.50" y1="188.76" x2="1255.20" y2="188.76" stroke="#dcdcf8" stroke-width="1"/>
<line x1="972.50" y1="166.59" x2="1255.20" y2="166.59" stroke="#dcdcf8" stroke-width="1"/>
<line x1="972.50" y1="144.42" x2="1255.20" y2="144.42" stroke="#dcdcf8" stroke-width="1"/>
<line x1="972.50" y1="122.25" x2="1255.20" y2="122.25" stroke="#dcdcf8" stroke-width="1"/>
<line x1="972.50" y1="100.08" x2="1255.20" y2="100.08" stroke="#dcdcf8" stroke-width="1"/>
<line x1="972.50" y1="77.91" x2="1255.20" y2="77.91" stroke="#dcdcf8" stroke-width="1"/>
<line x1="972.50" y1="55.74" x2="1255.20" y2="55.74" stroke="#dcdcf8" stroke-width="1"/>
<line x1="972.50" y1="33.57" x2="1255.20" y2="33.57" stroke="#dcdcf8" stroke-width="1"/>
<clipPath id="c9736"><rect x="972.5" y="11.4" width="282.70000000000005" height="221.7"/></clipPath>
<g clip-path="url(#c9736)">
<path d="M1002.7,171.3L1004.3,191.7L1005.9,172.0L1007.1,194.0L1008.5,175.3L1010.0,195.3L1011.7,175.3L1012.9,194.1L1014.7,171.5L1015.6,195.0L1016.5,175.6L1017.9,194.9L1018.9,171.5L1020.1,195.1L1021.8,175.8L1022.8,195.1L1023.7,172.3L1025.6,190.0L1027.0,175.0" fill="none" stroke="#ff0000" stroke-width="4.0" stroke-linejoin="round" stroke-dasharray="7,1.1"/>
<path d="M1028.1,167.3L1029.4,179.4L1030.9,169.6L1032.7,179.1L1034.3,169.5L1035.6,177.8L1037.4,167.8L1039.0,178.0L1040.1,168.1" fill="none" stroke="#ff0000" stroke-width="4.0" stroke-linejoin="round" stroke-dasharray="7,1.1"/>
<path d="M1040.3,170.3L1041.2,182.5L1042.9,170.8L1043.9,187.2L1045.0,171.7L1046.2,189.5L1048.0,172.8L1049.0,188.0L1049.8,172.8L1051.6,191.7L1053.0,172.0L1054.8,191.2L1056.6,168.8L1057.4,188.7L1059.0,174.5L1060.1,190.4L1061.5,175.1L1062.8,192.0L1063.7,173.0L1065.0,189.2L1066.3,172.3L1067.2,189.8L1068.0,171.2L1068.9,188.5L1070.6,172.6L1071.5,186.0L1072.7,170.7L1073.7,183.3L1075.3,171.3L1076.7,185.2L1078.3,169.4L1079.5,180.9L1080.3,171.0L1081.7,180.7L1083.4,169.3L1084.7,177.4L1086.1,169.0" fill="none" stroke="#ff0000" stroke-width="4.0" stroke-linejoin="round" stroke-dasharray="7,1.1"/>
<path d="M1089.3,156.2L1090.6,164.4L1092.6,153.6L1094.6,162.8L1095.9,148.7L1097.5,166.4L1098.9,144.9L1101.0,165.1L1101.9,147.5L1103.9,164.4L1105.0,152.3L1106.9,163.1L1108.5,155.9L1109.8,165.9L1111.0,153.2L1112.8,160.0L1113.9,143.1L1115.4,157.0L1116.5,134.7L1118.2,156.8L1119.3,132.0L1120.6,157.6L1122.6,139.8L1124.7,155.9L1126.2,140.4L1127.5,152.4L1128.9,131.1L1130.7,146.1L1132.4,117.5L1133.6,141.8L1134.9,116.3L1136.7,143.2L1138.5,107.4L1139.6,146.5L1141.1,118.4" fill="none" stroke="#ff0000" stroke-width="4.0" stroke-linejoin="round" stroke-dasharray="7,1.1"/>
<path d="M1143.1,158.6L1145.8,195.8L1149.1,158.5L1152.3,195.9L1155.1,158.7L1158.1,194.4L1161.5,155.8L1164.2,196.8L1166.8,151.3L1170.2,193.2L1171.8,146.6L1173.7,193.7L1175.4,137.2L1177.8,189.6L1179.7,139.5L1181.6,193.9L1183.5,123.1L1186.6,189.7L1190.2,123.3L1191.9,189.2L1193.9,129.8L1197.6,188.3L1200.6,139.8L1202.2,195.9L1205.3,143.6L1208.6,190.5L1211.1,154.7L1214.6,190.5L1216.9,152.9L1219.7,191.7L1221.6,147.3L1225.1,185.8L1228.4,137.8L1230.2,193.5L1232.9,143.7" fill="none" stroke="#ff0000" stroke-width="4.0" stroke-linejoin="round" stroke-dasharray="7,1.1"/>
<path d="M1087.0,119.6L1087.2,127.1L1087.4,137.8L1087.6,147.8L1087.9,155.5L1088.1,163.7L1088.3,163.7L1088.5,155.6L1088.7,145.1L1088.9,137.4L1089.1,128.5L1089.3,117.6" fill="none" stroke="#ff0000" stroke-width="3.6" stroke-dasharray="3.6,1.1"/>
<path d="M1140.2,108.4L1140.5,115.0L1140.7,125.9L1141.0,133.3L1141.3,142.3L1141.5,151.9L1141.8,152.5L1142.0,143.3L1142.3,133.0L1142.5,123.2L1142.8,119.8L1143.1,109.2" fill="none" stroke="#ff0000" stroke-width="3.6" stroke-dasharray="3.6,1.1"/>
<path d="M1002.7,171.5L1002.9,158.2L1003.2,163.3L1003.4,159.2L1003.7,168.2L1003.9,166.4L1004.2,160.1L1004.5,160.7L1004.7,164.9L1005.0,168.6L1005.2,161.5L1005.5,171.8L1005.8,160.6L1006.0,169.6L1006.3,165.9L1006.5,164.0L1006.8,165.8L1007.1,160.3L1007.3,160.7L1007.6,169.1L1007.8,162.8L1008.1,169.7L1008.4,170.5L1008.6,160.0L1008.9,161.3L1009.1,163.7L1009.4,169.9L1009.6,161.2L1009.9,166.1L1010.2,167.6L1010.4,160.3L1010.7,160.0L1010.9,159.8L1011.2,160.0L1011.5,159.5L1011.7,168.4L1012.0,167.2L1012.2,168.6L1012.5,160.6L1012.8,158.8L1013.0,168.4L1013.3,165.3L1013.5,167.3L1013.8,160.6L1014.0,168.7L1014.3,158.9L1014.6,163.0L1014.8,168.8L1015.1,170.3L1015.3,170.1L1015.6,170.5L1015.9,163.8L1016.1,168.3L1016.4,165.7L1016.6,172.0L1016.9,161.9L1017.2,169.0L1017.4,163.7L1017.7,164.7L1017.9,169.9L1018.2,170.5L1018.4,170.8L1018.7,168.6L1019.0,170.2L1019.2,166.8L1019.5,168.4L1019.7,167.1L1020.0,167.0L1020.3,169.8L1020.5,169.3L1020.8,162.7L1021.0,162.2L1021.3,165.0L1021.6,168.9L1021.8,161.5L1022.1,159.8L1022.3,171.8L1022.6,163.6L1022.8,168.0L1023.1,169.5L1023.4,163.4L1023.6,163.0L1023.9,171.1L1024.1,165.9L1024.4,169.3L1024.7,170.5L1024.9,173.2L1025.2,162.3L1025.4,172.0L1025.7,170.7L1026.0,163.6L1026.2,162.1L1026.5,160.1L1026.7,167.3L1027.0,167.4L1027.3,167.5L1027.5,160.4L1027.8,167.5L1028.0,163.7L1028.3,159.9L1028.5,167.2L1028.8,161.3L1029.1,161.3L1029.3,164.1L1029.6,161.7L1029.8,161.7L1030.1,171.3L1030.4,168.7L1030.6,162.6L1030.9,169.6L1031.1,168.7L1031.4,161.9L1031.7,162.5L1031.9,161.8L1032.2,160.0L1032.4,164.8L1032.7,167.4L1032.9,167.6L1033.2,159.1L1033.5,158.7L1033.7,160.3L1034.0,160.0L1034.2,159.5L1034.5,169.6L1034.8,168.1L1035.0,161.3L1035.3,164.6L1035.5,167.8L1035.8,168.4L1036.1,164.5L1036.3,162.1L1036.6,168.6L1036.8,170.0L1037.1,166.5L1037.3,160.5L1037.6,161.9L1037.9,160.0L1038.1,167.1L1038.4,161.3L1038.6,167.9L1038.9,170.7L1039.2,161.9L1039.4,160.3L1039.7,163.3L1039.9,163.2L1040.2,162.0L1040.5,161.0L1040.7,161.6L1041.0,170.5L1041.2,162.3L1041.5,170.1L1041.7,163.4L1042.0,170.4L1042.3,164.3L1042.5,160.7L1042.8,159.8L1043.0,161.9L1043.3,165.0L1043.6,168.9L1043.8,162.0L1044.1,160.2L1044.3,161.5L1044.6,169.3L1044.9,169.6L1045.1,161.2L1045.4,163.0L1045.6,166.1L1045.9,160.4L1046.2,170.1L1046.4,162.3L1046.7,162.4L1046.9,161.9L1047.2,162.9L1047.4,166.4L1047.7,166.6L1048.0,162.2L1048.2,168.8L1048.5,170.3L1048.7,160.4L1049.0,166.8L1049.3,162.3L1049.5,170.9L1049.8,172.0L1050.0,171.0L1050.3,168.5L1050.6,159.4L1050.8,168.4L1051.1,169.3L1051.3,162.1L1051.6,161.5L1051.8,168.9L1052.1,160.7L1052.4,168.0L1052.6,166.2L1052.9,158.5L1053.1,159.1L1053.4,167.6L1053.7,167.7L1053.9,172.4L1054.2,162.3L1054.4,169.4L1054.7,167.3L1055.0,165.2L1055.2,167.9L1055.5,166.6L1055.7,167.9L1056.0,165.0L1056.2,168.3L1056.5,162.7L1056.8,168.5L1057.0,161.4L1057.3,168.9L1057.5,167.5L1057.8,162.3L1058.1,169.2L1058.3,163.4L1058.6,169.2L1058.8,160.7L1059.1,160.6L1059.4,162.6L1059.6,170.9L1059.9,164.3L1060.1,162.1L1060.4,167.5L1060.6,168.2L1060.9,160.7L1061.2,165.9L1061.4,157.3L1061.7,159.5L1061.9,159.4L1062.2,168.9L1062.5,163.2L1062.7,162.0L1063.0,162.4L1063.2,165.0L1063.5,170.6L1063.8,167.2L1064.0,169.7L1064.3,159.4L1064.5,166.5L1064.8,169.1L1065.1,161.4L1065.3,168.9L1065.6,159.6L1065.8,163.8L1066.1,167.8L1066.3,169.6L1066.6,168.6L1066.9,158.4L1067.1,164.7L1067.4,165.3L1067.6,166.5L1067.9,163.0L1068.2,168.9L1068.4,159.5L1068.7,160.9L1068.9,169.3L1069.2,162.6L1069.5,167.1L1069.7,162.0L1070.0,161.3L1070.2,161.9L1070.5,162.3L1070.7,160.9L1071.0,170.0L1071.3,163.3L1071.5,169.1L1071.8,160.7L1072.0,168.1L1072.3,157.8L1072.6,167.2L1072.8,166.3L1073.1,162.9L1073.3,168.0L1073.6,166.8L1073.9,161.7L1074.1,168.3L1074.4,160.5L1074.6,169.6L1074.9,169.2L1075.1,160.7L1075.4,165.4L1075.7,169.4L1075.9,160.3L1076.2,158.3L1076.4,168.1L1076.7,156.9L1077.0,157.6L1077.2,158.9L1077.5,159.2L1077.7,161.0L1078.0,159.3L1078.3,159.6L1078.5,168.1L1078.8,168.6L1079.0,169.6L1079.3,169.7L1079.5,160.8L1079.8,168.4L1080.1,169.4L1080.3,169.5L1080.6,161.5L1080.8,167.3L1081.1,162.5L1081.4,170.5L1081.6,169.7L1081.9,168.8L1082.1,167.8L1082.4,170.2L1082.7,162.2L1082.9,166.4L1083.2,159.0L1083.4,159.6L1083.7,163.9L1084.0,163.3L1084.2,162.7L1084.5,161.1L1084.7,171.7L1085.0,169.5L1085.2,161.9L1085.5,161.1L1085.8,167.2L1086.0,163.6L1086.3,162.5L1086.5,163.6L1086.8,170.1L1087.1,161.9L1087.3,167.6L1087.6,161.8L1087.8,171.4L1088.1,163.2L1088.4,160.7L1088.6,164.0L1088.9,161.1L1089.1,166.5L1089.4,163.4L1089.6,167.6L1089.9,161.5L1090.2,166.2L1090.4,161.8L1090.7,161.5L1090.9,168.6L1091.2,167.8L1091.5,170.2L1091.7,170.0L1092.0,162.9L1092.2,162.8L1092.5,157.5L1092.8,167.4L1093.0,166.6L1093.3,167.3L1093.5,162.7L1093.8,169.8L1094.0,159.5L1094.3,170.4L1094.6,171.6L1094.8,171.3L1095.1,163.5L1095.3,171.2L1095.6,165.5L1095.9,163.5L1096.1,163.1L1096.4,165.3L1096.6,166.2L1096.9,165.6L1097.2,164.1L1097.4,166.2L1097.7,169.1L1097.9,169.8L1098.2,166.9L1098.4,169.8L1098.7,160.9L1099.0,161.1L1099.2,170.3L1099.5,159.7L1099.7,165.5L1100.0,166.2L1100.3,164.0L1100.5,166.5L1100.8,161.0L1101.0,166.2L1101.3,167.4L1101.6,164.9L1101.8,169.0L1102.1,166.3L1102.3,166.8L1102.6,160.2L1102.9,161.6L1103.1,163.2L1103.4,163.0L1103.6,165.4L1103.9,161.8L1104.1,164.8L1104.4,167.2L1104.7,161.7L1104.9,166.3L1105.2,168.9L1105.4,159.5L1105.7,160.1L1106.0,166.2L1106.2,163.6L1106.5,171.2L1106.7,162.8L1107.0,166.0L1107.3,173.3L1107.5,169.8L1107.8,164.2L1108.0,167.6L1108.3,169.4L1108.5,159.9L1108.8,167.1L1109.1,159.4L1109.3,169.4L1109.6,162.2L1109.8,170.1L1110.1,169.6L1110.4,160.1L1110.6,161.7L1110.9,162.0L1111.1,167.2L1111.4,163.3L1111.7,164.3L1111.9,173.0L1112.2,169.3L1112.4,166.4L1112.7,160.9L1112.9,168.8L1113.2,168.0L1113.5,169.3L1113.7,158.2L1114.0,159.7L1114.2,168.2L1114.5,159.9L1114.8,167.7L1115.0,161.9L1115.3,161.4L1115.5,170.1L1115.8,170.3L1116.1,169.5L1116.3,159.0L1116.6,165.3L1116.8,163.4L1117.1,162.9L1117.3,162.4L1117.6,169.1L1117.9,160.7L1118.1,170.9L1118.4,167.0L1118.6,167.4L1118.9,169.9L1119.2,161.5L1119.4,166.4L1119.7,161.8L1119.9,170.9L1120.2,170.7L1120.5,170.1L1120.7,160.5L1121.0,166.1L1121.2,160.9L1121.5,161.4L1121.8,164.6L1122.0,171.9L1122.3,171.5L1122.5,163.7L1122.8,169.7L1123.0,169.4L1123.3,166.7L1123.6,169.5L1123.8,162.6L1124.1,157.9L1124.3,168.5L1124.6,164.5L1124.9,157.8L1125.1,161.2L1125.4,159.5L1125.6,169.4L1125.9,165.0L1126.2,159.3L1126.4,159.3L1126.7,170.6L1126.9,164.1L1127.2,160.3L1127.4,169.9L1127.7,160.6L1128.0,164.7L1128.2,163.2L1128.5,171.0L1128.7,168.9L1129.0,161.7L1129.3,167.3L1129.5,159.5L1129.8,167.2L1130.0,168.6L1130.3,169.3L1130.6,161.5L1130.8,161.2L1131.1,167.6L1131.3,161.0L1131.6,168.7L1131.8,160.9L1132.1,160.1L1132.4,169.2L1132.6,163.1L1132.9,167.4L1133.1,164.6L1133.4,161.9L1133.7,170.8L1133.9,163.0L1134.2,172.4L1134.4,165.7L1134.7,169.8L1135.0,164.8L1135.2,170.8L1135.5,170.1L1135.7,162.3L1136.0,159.9L1136.3,167.1L1136.5,161.4L1136.8,163.9L1137.0,165.2L1137.3,163.7L1137.5,169.1L1137.8,162.0L1138.1,163.2L1138.3,166.2L1138.6,160.5L1138.8,158.9L1139.1,168.9L1139.4,169.8L1139.6,166.3L1139.9,161.9L1140.1,171.9L1140.4,163.4L1140.7,167.8L1140.9,163.5L1141.2,162.5L1141.4,170.3L1141.7,170.9L1141.9,170.1L1142.2,159.8L1142.5,168.5L1142.7,170.0L1143.0,171.1L1143.2,162.9L1143.5,165.0L1143.8,167.6L1144.0,173.5L1144.3,166.1L1144.5,170.7L1144.8,164.0L1145.1,164.4L1145.3,162.9L1145.6,162.1L1145.8,170.9L1146.1,171.3L1146.3,163.1L1146.6,164.0L1146.9,164.4L1147.1,163.7L1147.4,168.6L1147.6,167.8L1147.9,157.8L1148.2,161.6L1148.4,169.5L1148.7,161.9L1148.9,161.0L1149.2,163.4L1149.5,171.2L1149.7,162.0L1150.0,168.3L1150.2,162.7L1150.5,169.0L1150.7,165.8L1151.0,164.0L1151.3,163.7L1151.5,171.8L1151.8,164.1L1152.0,166.4L1152.3,166.0L1152.6,173.0L1152.8,163.0L1153.1,162.1L1153.3,164.1L1153.6,164.6L1153.9,170.3L1154.1,172.5L1154.4,171.4L1154.6,171.0L1154.9,163.8L1155.2,163.2L1155.4,171.2L1155.7,169.9L1155.9,167.6L1156.2,171.0L1156.4,171.9L1156.7,162.4L1157.0,165.1L1157.2,169.9L1157.5,162.8L1157.7,161.8L1158.0,163.1L1158.3,162.9L1158.5,160.4L1158.8,167.1L1159.0,165.2L1159.3,158.8L1159.6,167.0L1159.8,157.9L1160.1,158.3L1160.3,166.2L1160.6,159.9L1160.8,161.3L1161.1,173.0L1161.4,172.3L1161.6,162.7L1161.9,164.4L1162.1,166.5L1162.4,171.1L1162.7,173.1L1162.9,164.1L1163.2,163.3L1163.4,162.7L1163.7,167.1L1164.0,165.4L1164.2,169.2L1164.5,168.9L1164.7,165.4L1165.0,171.7L1165.2,169.1L1165.5,170.9L1165.8,170.0L1166.0,167.9L1166.3,167.8L1166.5,168.7L1166.8,169.1L1167.1,167.9L1167.3,162.5L1167.6,170.4L1167.8,167.1L1168.1,161.2L1168.4,161.1L1168.6,164.3L1168.9,161.4L1169.1,171.2L1169.4,170.2L1169.6,170.2L1169.9,169.9L1170.2,170.2L1170.4,161.2L1170.7,169.1L1170.9,161.9L1171.2,160.6L1171.5,166.3L1171.7,160.8L1172.0,168.3L1172.2,160.4L1172.5,161.4L1172.8,160.6L1173.0,161.1L1173.3,169.7L1173.5,160.0L1173.8,157.9L1174.1,158.9L1174.3,158.4L1174.6,159.9L1174.8,167.2L1175.1,160.3L1175.3,159.8L1175.6,158.7L1175.9,161.7L1176.1,165.6L1176.4,166.6L1176.6,164.0L1176.9,168.7L1177.2,169.1L1177.4,169.2L1177.7,171.6L1177.9,164.0L1178.2,164.5L1178.5,160.5L1178.7,161.4L1179.0,164.4L1179.2,157.5L1179.5,158.1L1179.7,158.4L1180.0,168.5L1180.3,162.5L1180.5,171.0L1180.8,162.6L1181.0,165.6L1181.3,163.9L1181.6,172.2L1181.8,171.2L1182.1,167.9L1182.3,159.3L1182.6,168.2L1182.9,159.4L1183.1,160.9L1183.4,168.4L1183.6,170.5L1183.9,167.0L1184.1,170.0L1184.4,163.9L1184.7,167.8L1184.9,170.3L1185.2,162.6L1185.4,160.5L1185.7,170.0L1186.0,162.2L1186.2,170.7L1186.5,169.4L1186.7,161.3L1187.0,170.5L1187.3,168.9L1187.5,163.6L1187.8,165.2L1188.0,168.6L1188.3,163.4L1188.5,170.4L1188.8,168.3L1189.1,169.4L1189.3,169.9L1189.6,161.7L1189.8,166.9L1190.1,170.0L1190.4,166.6L1190.6,168.2L1190.9,169.4L1191.1,160.4L1191.4,159.9L1191.7,162.0L1191.9,169.6L1192.2,169.1L1192.4,167.1L1192.7,164.8L1193.0,166.1L1193.2,162.9L1193.5,163.5L1193.7,164.3L1194.0,169.8L1194.2,165.9L1194.5,169.4L1194.8,160.7L1195.0,164.7L1195.3,160.6L1195.5,164.2L1195.8,161.8L1196.1,167.3L1196.3,167.1L1196.6,169.3L1196.8,162.8L1197.1,160.7L1197.4,163.1L1197.6,161.2L1197.9,162.2L1198.1,164.9L1198.4,163.0L1198.6,163.2L1198.9,162.3L1199.2,168.1L1199.4,167.9L1199.7,167.4L1199.9,161.5L1200.2,157.7L1200.5,158.0L1200.7,166.9L1201.0,160.4L1201.2,167.4L1201.5,160.2L1201.8,160.9L1202.0,163.5L1202.3,171.6L1202.5,163.1L1202.8,164.6L1203.0,161.8L1203.3,162.7L1203.6,166.1L1203.8,162.6L1204.1,166.4L1204.3,168.8L1204.6,171.1L1204.9,167.8L1205.1,169.3L1205.4,161.1L1205.6,167.4L1205.9,170.5L1206.2,168.7L1206.4,171.8L1206.7,171.6L1206.9,171.3L1207.2,169.0L1207.4,165.0L1207.7,171.8L1208.0,166.1L1208.2,162.9L1208.5,173.7L1208.7,165.3L1209.0,170.5L1209.3,161.0L1209.5,170.4L1209.8,169.7L1210.0,161.0L1210.3,166.5L1210.6,162.1L1210.8,161.5L1211.1,168.9L1211.3,172.7L1211.6,164.4L1211.9,165.1L1212.1,162.5L1212.4,161.6L1212.6,168.4L1212.9,172.3L1213.1,169.7L1213.4,172.4L1213.7,171.7L1213.9,162.1L1214.2,170.2L1214.4,162.8L1214.7,170.5L1215.0,168.7L1215.2,163.4L1215.5,163.2L1215.7,170.3L1216.0,161.1L1216.3,162.8L1216.5,168.4L1216.8,161.1L1217.0,169.5L1217.3,162.5L1217.5,162.9L1217.8,169.1L1218.1,170.3L1218.3,166.1L1218.6,162.7L1218.8,170.0L1219.1,169.5L1219.4,160.0L1219.6,168.7L1219.9,172.1L1220.1,170.2L1220.4,161.8L1220.7,172.2L1220.9,162.3L1221.2,160.8L1221.4,164.1L1221.7,164.1L1221.9,166.9L1222.2,159.8L1222.5,162.1L1222.7,165.9L1223.0,170.3L1223.2,167.6L1223.5,162.1L1223.8,167.9L1224.0,159.3L1224.3,160.5L1224.5,159.8L1224.8,161.1L1225.1,162.2L1225.3,164.3L1225.6,169.3L1225.8,162.5L1226.1,172.0L1226.3,170.6L1226.6,169.2L1226.9,159.8L1227.1,162.3L1227.4,160.5L1227.6,165.1L1227.9,158.9L1228.2,159.9L1228.4,158.8L1228.7,160.4L1228.9,164.6L1229.2,158.5L1229.5,167.9L1229.7,158.6L1230.0,169.2L1230.2,168.6L1230.5,160.8L1230.8,159.3L1231.0,167.0L1231.3,157.5L1231.5,167.9L1231.8,162.3L1232.0,163.9L1232.3,159.5L1232.6,158.5L1232.8,169.8L1233.1,165.8L1233.3,163.8L1233.6,172.0L1233.9,172.7L1234.1,172.1L1234.4,171.0L1234.6,164.7L1234.9,169.7L1235.2,166.6L1235.4,172.7" fill="none" stroke="#0000dc" stroke-width="3" stroke-linejoin="round"/>
<path d="M1002.7,156.9L1003.2,157.7L1003.7,158.9L1004.2,159.8L1004.7,160.5L1005.2,160.8L1005.8,160.3L1006.3,159.5L1006.8,159.2L1007.3,160.3L1007.8,162.2L1008.4,163.4L1008.9,163.2L1009.4,162.0L1009.9,161.2L1010.4,161.1L1010.9,160.8L1011.5,159.9L1012.0,159.6L1012.5,160.5L1013.0,161.6L1013.5,161.7L1014.1,161.3L1014.6,161.2L1015.1,161.3L1015.6,161.0L1016.1,160.6L1016.7,160.4L1017.2,160.1L1017.7,159.6L1018.2,159.0L1018.7,158.6L1019.2,158.4L1019.8,158.2L1020.3,158.2L1020.8,159.0L1021.3,160.4L1021.8,161.1L1022.4,161.0L1022.9,161.0L1023.4,161.3L1023.9,161.5L1024.4,161.0L1024.9,160.1L1025.5,159.3L1026.0,159.1L1026.5,160.0L1027.0,160.8L1027.5,160.3L1028.1,159.0L1028.6,158.6L1029.1,159.4L1029.6,160.5L1030.1,161.6L1030.6,162.6L1031.2,163.4L1031.7,163.5L1032.2,163.1L1032.7,162.6L1033.2,162.1L1033.8,161.3L1034.3,160.0L1034.8,158.7L1035.3,157.9L1035.8,157.7L1036.3,158.2L1036.9,159.1L1037.4,159.5L1037.9,159.5L1038.4,159.5L1038.9,159.7L1039.5,159.8L1040.0,159.3L1040.5,158.4L1041.0,157.7L1041.5,157.9L1042.1,159.0L1042.6,160.2L1043.1,161.1L1043.6,162.0L1044.1,162.7L1044.6,162.7L1045.2,161.8L1045.7,159.7L1046.2,157.4L1046.7,157.4L1047.2,157.4L1047.8,158.3L1048.3,159.5L1048.8,160.2L1049.3,160.7L1049.8,161.1L1050.3,160.9L1050.9,160.3L1051.4,159.6L1051.9,159.0L1052.4,158.0L1052.9,157.4L1053.5,157.4L1054.0,157.4L1054.5,158.3L1055.0,159.4L1055.5,160.5L1056.0,161.6L1056.6,162.1L1057.1,161.5L1057.6,160.0L1058.1,158.7L1058.6,158.3L1059.2,159.1L1059.7,160.1L1060.2,160.7L1060.7,160.6L1061.2,160.3L1061.8,160.3L1062.3,160.2L1062.8,159.9L1063.3,159.8L1063.8,160.2L1064.3,160.6L1064.9,160.7L1065.4,160.8L1065.9,161.1L1066.4,161.2L1066.9,161.1L1067.5,160.5L1068.0,160.0L1068.5,160.2L1069.0,160.8L1069.5,161.2L1070.0,161.3L1070.6,160.6L1071.1,159.3L1071.6,158.1L1072.1,157.8L1072.6,158.5L1073.2,159.8L1073.7,161.1L1074.2,162.0L1074.7,161.9L1075.2,161.3L1075.7,161.2L1076.3,161.6L1076.8,161.2L1077.3,160.2L1077.8,159.4L1078.3,159.2L1078.9,159.3L1079.4,159.2L1079.9,159.2L1080.4,159.2L1080.9,158.9L1081.4,158.6L1082.0,159.1L1082.5,160.3L1083.0,161.1L1083.5,160.7L1084.0,159.7L1084.6,158.9L1085.1,158.7L1085.6,159.3L1086.1,160.7L1086.6,162.5L1087.2,163.5L1087.7,163.5L1088.2,162.6L1088.7,161.7L1089.2,161.5L1089.7,161.2L1090.3,160.4L1090.8,159.1L1091.3,157.8L1091.8,157.4L1092.3,157.4L1092.9,157.4L1093.4,158.0L1093.9,159.5L1094.4,161.0L1094.9,161.4L1095.4,160.6L1096.0,159.5L1096.5,158.9L1097.0,159.1L1097.5,159.7L1098.0,159.9L1098.6,159.3L1099.1,158.6L1099.6,158.6L1100.1,159.3L1100.6,160.1L1101.1,160.7L1101.7,160.4L1102.2,159.7L1102.7,159.7L1103.2,161.2L1103.7,163.3L1104.3,163.5L1104.8,163.5L1105.3,161.4L1105.8,159.7L1106.3,159.0L1106.9,158.8L1107.4,158.2L1107.9,157.4L1108.4,157.4L1108.9,157.4L1109.4,158.2L1110.0,158.7L1110.5,158.4L1111.0,158.4L1111.5,159.6L1112.0,160.8L1112.6,160.7L1113.1,159.2L1113.6,158.1L1114.1,158.1L1114.6,158.8L1115.1,159.2L1115.7,159.2L1116.2,159.1L1116.7,159.1L1117.2,159.3L1117.7,159.8L1118.3,160.0L1118.8,159.9L1119.3,159.7L1119.8,159.0L1120.3,158.2L1120.8,158.1L1121.4,159.0L1121.9,160.5L1122.4,161.8L1122.9,161.8L1123.4,160.8L1124.0,159.8L1124.5,159.4L1125.0,159.4L1125.5,159.3L1126.0,159.1L1126.5,159.1L1127.1,159.2L1127.6,159.1L1128.1,158.3L1128.6,157.4L1129.1,157.4L1129.7,157.4L1130.2,158.0L1130.7,160.5L1131.2,162.0L1131.7,162.1L1132.3,161.6L1132.8,161.1L1133.3,161.0L1133.8,160.9L1134.3,160.8L1134.8,161.1L1135.4,161.9L1135.9,162.8L1136.4,163.1L1136.9,163.0L1137.4,162.8L1138.0,162.9L1138.5,162.8L1139.0,162.1L1139.5,161.3L1140.0,160.5L1140.5,160.2L1141.1,160.2L1141.6,160.2L1142.1,160.0L1142.6,159.8L1143.1,159.5L1143.7,159.7L1144.2,160.6L1144.7,162.0L1145.2,163.2L1145.7,163.3L1146.2,162.1L1146.8,161.1L1147.3,161.4L1147.8,162.2L1148.3,162.3L1148.8,162.0L1149.4,162.1L1149.9,162.3L1150.4,162.4L1150.9,162.5L1151.4,163.0L1152.0,163.5L1152.5,163.3L1153.0,161.9L1153.5,160.7L1154.0,160.7L1154.5,161.5L1155.1,162.0L1155.6,161.8L1156.1,161.6L1156.6,161.1L1157.1,160.2L1157.7,159.8L1158.2,160.2L1158.7,160.6L1159.2,160.5L1159.7,160.2L1160.2,160.6L1160.8,161.9L1161.3,162.8L1161.8,162.0L1162.3,160.2L1162.8,158.4L1163.4,157.6L1163.9,157.5L1164.4,158.0L1164.9,158.6L1165.4,158.7L1165.9,158.7L1166.5,159.4L1167.0,160.4L1167.5,161.0L1168.0,161.4L1168.5,161.6L1169.1,161.6L1169.6,161.3L1170.1,160.9L1170.6,160.8L1171.1,161.5L1171.6,162.6L1172.2,162.8L1172.7,162.0L1173.2,161.4L1173.7,161.1L1174.2,160.5L1174.8,160.1L1175.3,160.4L1175.8,160.8L1176.3,161.0L1176.8,161.1L1177.4,161.3L1177.9,161.3L1178.4,160.6L1178.9,159.6L1179.4,158.8L1179.9,158.7L1180.5,158.9L1181.0,159.2L1181.5,159.7L1182.0,160.7L1182.5,162.1L1183.1,163.3L1183.6,163.5L1184.1,163.0L1184.6,161.3L1185.1,159.8L1185.6,159.5L1186.2,160.6L1186.7,162.0L1187.2,162.8L1187.7,162.2L1188.2,160.4L1188.8,158.5L1189.3,157.8L1189.8,158.2L1190.3,158.6L1190.8,158.9L1191.3,159.6L1191.9,160.1L1192.4,159.6L1192.9,159.0L1193.4,159.6L1193.9,161.2L1194.5,162.1L1195.0,161.6L1195.5,160.1L1196.0,158.7L1196.5,158.1L1197.1,158.6L1197.6,159.4L1198.1,159.8L1198.6,160.0L1199.1,160.2L1199.6,160.2L1200.2,159.9L1200.7,159.9L1201.2,160.6L1201.7,161.2L1202.2,161.2L1202.8,160.7L1203.3,160.8L1203.8,161.8L1204.3,163.0L1204.8,163.4L1205.3,162.8L1205.9,161.8L1206.4,161.2L1206.9,160.6L1207.4,159.9L1207.9,159.9L1208.5,160.4L1209.0,161.0L1209.5,161.5L1210.0,161.8L1210.5,161.4L1211.0,160.5L1211.6,160.0L1212.1,160.4L1212.6,161.0L1213.1,161.4L1213.6,161.6L1214.2,161.4L1214.7,160.8L1215.2,160.4L1215.7,160.3L1216.2,160.5L1216.7,161.3L1217.3,162.3L1217.8,162.6L1218.3,161.8L1218.8,160.4L1219.3,159.3L1219.9,158.7L1220.4,158.3L1220.9,158.6L1221.4,160.1L1221.9,161.7L1222.5,162.4L1223.0,162.0L1223.5,161.4L1224.0,161.2L1224.5,161.4L1225.0,161.5L1225.6,161.8L1226.1,162.4L1226.6,162.7L1227.1,162.1L1227.6,160.9L1228.2,160.3L1228.7,160.3L1229.2,160.4L1229.7,160.1L1230.2,159.8L1230.7,159.6L1231.3,159.9L1231.8,160.3L1232.3,160.5L1232.8,160.4L1233.3,160.7L1233.9,161.2L1234.4,161.5L1234.9,162.1L1235.4,162.7L1235.4,169.7L1234.9,169.9L1234.4,170.4L1233.9,170.9L1233.3,171.2L1232.8,171.2L1232.3,171.0L1231.8,170.9L1231.3,171.4L1230.7,172.0L1230.2,171.9L1229.7,170.8L1229.2,169.4L1228.7,168.5L1228.2,168.1L1227.6,168.0L1227.1,168.5L1226.6,169.5L1226.1,170.1L1225.6,170.2L1225.0,170.1L1224.5,170.3L1224.0,170.9L1223.5,171.3L1223.0,171.1L1222.5,170.3L1221.9,169.5L1221.4,169.2L1220.9,169.4L1220.4,170.1L1219.9,170.6L1219.3,170.6L1218.8,170.1L1218.3,169.9L1217.8,169.6L1217.3,169.2L1216.7,168.8L1216.2,168.7L1215.7,168.6L1215.2,168.4L1214.7,168.4L1214.2,169.0L1213.6,169.6L1213.1,169.9L1212.6,169.5L1212.1,168.6L1211.6,167.9L1211.0,167.9L1210.5,168.4L1210.0,169.5L1209.5,171.0L1209.0,172.1L1208.5,172.8L1207.9,172.9L1207.4,172.1L1206.9,171.2L1206.4,170.9L1205.9,170.9L1205.3,170.9L1204.8,170.6L1204.3,170.2L1203.8,169.7L1203.3,169.1L1202.8,168.6L1202.2,168.5L1201.7,169.0L1201.2,170.3L1200.7,171.6L1200.2,172.0L1199.6,171.5L1199.1,171.0L1198.6,170.7L1198.1,171.0L1197.6,172.0L1197.1,173.1L1196.5,173.1L1196.0,172.5L1195.5,171.8L1195.0,171.3L1194.5,170.8L1193.9,170.5L1193.4,170.4L1192.9,170.2L1192.4,169.4L1191.9,168.1L1191.3,167.3L1190.8,167.9L1190.3,169.2L1189.8,169.9L1189.3,169.8L1188.8,170.0L1188.2,171.0L1187.7,172.4L1187.2,173.1L1186.7,172.8L1186.2,172.2L1185.6,171.9L1185.1,171.8L1184.6,171.9L1184.1,172.1L1183.6,172.2L1183.1,172.0L1182.5,171.7L1182.0,171.3L1181.5,170.9L1181.0,170.6L1180.5,170.1L1179.9,169.6L1179.4,169.3L1178.9,169.6L1178.4,170.4L1177.9,171.2L1177.4,171.4L1176.8,171.7L1176.3,172.7L1175.8,173.1L1175.3,173.1L1174.8,173.1L1174.2,173.1L1173.7,171.6L1173.2,169.3L1172.7,167.6L1172.2,167.0L1171.6,167.0L1171.1,167.6L1170.6,169.2L1170.1,170.8L1169.6,171.7L1169.1,171.7L1168.5,171.0L1168.0,170.7L1167.5,171.1L1167.0,171.6L1166.5,171.7L1165.9,171.7L1165.4,171.4L1164.9,171.0L1164.4,170.6L1163.9,170.3L1163.4,170.2L1162.8,170.3L1162.3,170.2L1161.8,169.6L1161.3,168.6L1160.8,167.1L1160.2,167.0L1159.7,167.0L1159.2,167.0L1158.7,167.5L1158.2,169.1L1157.7,170.2L1157.1,170.8L1156.6,171.1L1156.1,171.3L1155.6,171.1L1155.1,170.4L1154.5,169.5L1154.0,169.1L1153.5,169.0L1153.0,168.8L1152.5,168.6L1152.0,168.3L1151.4,167.9L1150.9,167.7L1150.4,168.3L1149.9,168.7L1149.4,168.9L1148.8,169.5L1148.3,170.3L1147.8,170.6L1147.3,170.1L1146.8,169.8L1146.2,170.4L1145.7,171.0L1145.2,170.9L1144.7,170.2L1144.2,169.4L1143.7,168.7L1143.1,168.2L1142.6,167.9L1142.1,168.3L1141.6,169.0L1141.1,169.7L1140.5,169.8L1140.0,169.3L1139.5,168.8L1139.0,168.3L1138.5,167.9L1138.0,167.8L1137.4,168.2L1136.9,169.1L1136.4,169.7L1135.9,169.7L1135.4,170.0L1134.8,170.5L1134.3,170.4L1133.8,169.7L1133.3,168.7L1132.8,167.7L1132.3,167.6L1131.7,168.4L1131.2,169.4L1130.7,170.0L1130.2,170.4L1129.7,170.3L1129.1,169.7L1128.6,169.4L1128.1,170.3L1127.6,171.6L1127.1,171.9L1126.5,170.8L1126.0,169.5L1125.5,169.1L1125.0,169.8L1124.5,170.4L1124.0,170.5L1123.4,170.2L1122.9,169.9L1122.4,170.1L1121.9,170.9L1121.4,171.0L1120.8,169.9L1120.3,168.9L1119.8,169.4L1119.3,171.0L1118.8,172.3L1118.3,172.7L1117.7,172.7L1117.2,172.4L1116.7,171.6L1116.2,170.5L1115.7,169.9L1115.1,170.2L1114.6,171.0L1114.1,171.2L1113.6,169.9L1113.1,168.2L1112.6,167.1L1112.0,167.0L1111.5,167.6L1111.0,168.8L1110.5,170.0L1110.0,170.2L1109.4,169.7L1108.9,169.1L1108.4,169.1L1107.9,169.9L1107.4,171.0L1106.9,171.2L1106.3,169.7L1105.8,168.4L1105.3,168.9L1104.8,170.4L1104.3,171.3L1103.7,171.5L1103.2,171.6L1102.7,171.7L1102.2,171.3L1101.7,170.7L1101.1,170.3L1100.6,169.9L1100.1,169.2L1099.6,168.6L1099.1,168.7L1098.6,169.1L1098.0,169.5L1097.5,169.6L1097.0,169.5L1096.5,169.1L1096.0,168.9L1095.4,168.8L1094.9,168.9L1094.4,169.2L1093.9,169.6L1093.4,170.4L1092.9,171.2L1092.3,171.4L1091.8,170.7L1091.3,169.6L1090.8,168.8L1090.3,168.2L1089.7,167.9L1089.2,168.3L1088.7,169.1L1088.2,169.8L1087.7,170.2L1087.2,170.4L1086.6,170.3L1086.1,169.9L1085.6,169.4L1085.1,169.1L1084.6,168.8L1084.0,168.9L1083.5,169.5L1083.0,170.2L1082.5,170.6L1082.0,171.0L1081.4,171.6L1080.9,171.4L1080.4,170.2L1079.9,168.7L1079.4,167.8L1078.9,167.2L1078.3,167.0L1077.8,167.0L1077.3,167.3L1076.8,168.7L1076.3,169.9L1075.7,170.2L1075.2,169.6L1074.7,168.9L1074.2,168.5L1073.7,168.8L1073.2,169.7L1072.6,170.7L1072.1,171.0L1071.6,170.9L1071.1,170.2L1070.6,168.5L1070.0,167.0L1069.5,167.0L1069.0,167.0L1068.5,167.4L1068.0,168.5L1067.5,169.2L1066.9,169.7L1066.4,170.0L1065.9,170.3L1065.4,170.0L1064.9,168.9L1064.3,167.6L1063.8,167.2L1063.3,168.0L1062.8,168.7L1062.3,168.9L1061.8,169.0L1061.2,169.5L1060.7,169.8L1060.2,169.4L1059.7,169.3L1059.2,169.7L1058.6,169.9L1058.1,169.8L1057.6,170.0L1057.1,170.7L1056.6,171.0L1056.0,170.7L1055.5,170.5L1055.0,170.6L1054.5,170.7L1054.0,170.5L1053.5,170.3L1052.9,170.6L1052.4,171.2L1051.9,171.0L1051.4,169.6L1050.9,168.3L1050.3,168.4L1049.8,169.5L1049.3,170.5L1048.8,170.4L1048.3,169.5L1047.8,168.4L1047.2,167.5L1046.7,167.3L1046.2,168.1L1045.7,169.4L1045.2,170.6L1044.6,171.4L1044.1,171.4L1043.6,170.9L1043.1,169.8L1042.6,168.0L1042.1,167.0L1041.5,167.2L1041.0,168.5L1040.5,169.6L1040.0,170.4L1039.5,170.6L1038.9,170.2L1038.4,169.7L1037.9,169.6L1037.4,169.8L1036.9,170.1L1036.3,170.3L1035.8,170.5L1035.3,170.7L1034.8,171.2L1034.3,171.8L1033.8,172.0L1033.2,171.6L1032.7,171.5L1032.2,171.9L1031.7,172.4L1031.2,172.4L1030.6,171.9L1030.1,170.8L1029.6,169.5L1029.1,168.7L1028.6,168.8L1028.1,169.3L1027.5,170.2L1027.0,171.1L1026.5,171.3L1026.0,171.1L1025.5,171.1L1024.9,171.3L1024.4,171.6L1023.9,171.9L1023.4,172.2L1022.9,172.7L1022.4,173.1L1021.8,173.1L1021.3,173.1L1020.8,172.6L1020.3,171.6L1019.8,170.1L1019.2,168.8L1018.7,168.4L1018.2,168.5L1017.7,168.3L1017.2,168.0L1016.7,167.8L1016.1,167.9L1015.6,168.4L1015.1,169.1L1014.6,169.3L1014.1,169.0L1013.5,168.4L1013.0,168.2L1012.5,168.4L1012.0,169.2L1011.5,170.3L1010.9,171.2L1010.4,171.4L1009.9,171.2L1009.4,171.4L1008.9,171.9L1008.4,172.4L1007.8,172.5L1007.3,172.5L1006.8,172.6L1006.3,172.8L1005.8,173.3L1005.2,173.8L1004.7,173.7L1004.2,172.4L1003.7,171.4L1003.2,172.0L1002.7,173.2Z" fill="#0000dc" stroke="none"/>
<path d="M1087.5,117.0L1087.6,121.9L1087.7,128.8L1087.8,133.5L1087.9,135.8L1088.0,139.6L1088.1,147.1L1088.2,151.7L1088.3,154.2L1088.4,160.0L1088.5,160.2L1088.6,155.8L1088.7,152.4L1088.8,146.0L1088.9,142.0L1089.0,137.0L1089.1,131.6L1089.2,126.3L1089.3,121.9L1089.3,116.7" fill="none" stroke="#0000dc" stroke-width="2.6" stroke-linejoin="round"/>
<path d="M1233.5,168.7L1233.8,168.5L1234.2,171.6L1234.5,172.9L1234.8,175.1L1235.1,181.8L1235.4,180.8L1235.7,186.0L1236.0,186.9L1236.4,188.9" fill="none" stroke="#0000dc" stroke-width="2.6" stroke-linejoin="round"/>
<path d="M1236.4,188.6L1236.7,180.6L1237.1,174.4L1237.5,165.9L1237.8,159.9L1238.2,153.6L1238.6,146.4L1238.9,137.3L1239.3,128.7L1239.7,122.5" fill="none" stroke="#0000dc" stroke-width="2.6" stroke-linejoin="round"/>
<path d="M1142.1,171.1L1142.5,177.6L1142.9,183.3L1143.3,181.8L1143.7,185.1L1144.1,191.7L1144.5,195.1L1144.9,202.1L1145.2,194.4L1145.6,193.6L1146.0,186.4L1146.4,183.7L1146.8,174.0L1147.2,173.7L1147.6,175.1L1148.0,178.8L1148.4,180.4L1148.8,182.0L1149.2,190.7L1149.5,189.9L1149.9,200.0L1150.3,194.0L1150.7,191.5L1151.1,185.5L1151.5,181.1L1151.9,183.9L1152.3,174.9L1152.7,174.7L1153.1,172.8L1153.5,180.2L1153.8,182.6L1154.2,187.4L1154.6,194.6L1155.0,193.8L1155.4,197.6L1155.8,193.0L1156.2,190.2L1156.6,190.6L1157.0,182.6L1157.4,179.7L1157.7,177.2L1158.1,174.5" fill="none" stroke="#0000dc" stroke-width="2.6" stroke-dasharray="2.6,2"/>
<line x1="1239.7" y1="117.8" x2="1239.7" y2="7.0" stroke="#ff0000" stroke-width="3" stroke-dasharray="3,4"/>
<line x1="1239.7" y1="114.3" x2="1239.7" y2="7.0" stroke="#1010a0" stroke-width="3" stroke-dasharray="3,4"/>
<path d="M1013.1,197.1L1014.5,193.5L1015.9,189.9L1017.4,186.3L1018.8,182.8L1020.2,179.4L1021.6,176.0L1023.0,172.7L1024.4,169.4L1025.9,166.1L1027.3,162.9L1028.7,159.8L1030.1,156.7L1031.5,153.6L1033.0,150.5L1034.4,147.5L1035.8,144.6L1037.2,141.6L1038.6,138.7L1040.0,135.9L1041.5,133.0L1042.9,130.2L1044.3,127.4L1045.7,124.7L1047.1,121.9L1048.6,119.2L1050.0,116.5L1051.4,113.8L1052.8,111.1L1054.2,108.5L1055.6,105.8L1057.1,103.2L1058.5,100.6L1059.9,98.0L1061.3,95.4L1062.7,92.8L1064.2,90.2L1065.6,87.6L1067.0,85.1L1068.4,82.6L1069.8,80.1L1071.2,77.7L1072.7,75.2L1074.1,72.9L1075.5,70.5L1076.9,68.2L1078.3,66.0L1079.8,63.8L1081.2,61.7L1082.6,59.6L1084.0,57.5L1085.4,55.6L1086.8,53.7L1088.3,51.9L1089.7,50.1L1091.1,48.4L1092.5,46.7L1093.9,45.1L1095.4,43.5L1096.8,42.0L1098.2,40.6L1099.6,39.1L1101.0,37.8L1102.4,36.4L1103.9,35.1L1105.3,33.8L1106.7,32.6L1108.1,31.4L1109.5,30.3L1111.0,29.2L1112.4,28.1L1113.8,27.1L1115.2,26.1L1116.6,25.2L1118.0,24.3L1119.5,23.4L1120.9,22.6L1122.3,21.8L1123.7,21.1L1125.1,20.4L1126.6,19.8L1128.0,19.2L1129.4,18.7L1130.8,18.2L1132.2,17.7L1133.7,17.3L1135.1,16.9L1136.5,16.6L1137.9,16.4L1139.3,16.1L1140.7,16.0L1142.2,15.8L1143.6,15.7L1145.0,15.7L1146.4,15.7L1147.8,15.8L1149.3,15.9L1150.7,16.0L1152.1,16.2L1153.5,16.5L1154.9,16.8L1156.3,17.2L1157.8,17.6L1159.2,18.0L1160.6,18.5L1162.0,19.1L1163.4,19.7L1164.9,20.3L1166.3,21.0L1167.7,21.8L1169.1,22.6L1170.5,23.4L1171.9,24.4L1173.4,25.3L1174.8,26.3L1176.2,27.4L1177.6,28.5L1179.0,29.7L1180.5,30.9L1181.9,32.2L1183.3,33.6L1184.7,35.0L1186.1,36.4L1187.5,37.9L1189.0,39.5L1190.4,41.1L1191.8,42.7L1193.2,44.4L1194.6,46.2L1196.1,48.0L1197.5,49.8L1198.9,51.7L1200.3,53.6L1201.7,55.6L1203.1,57.6L1204.6,59.6L1206.0,61.6L1207.4,63.7L1208.8,65.8L1210.2,68.0L1211.7,70.2L1213.1,72.4L1214.5,74.6L1215.9,76.8L1217.3,79.1L1218.7,81.3L1220.2,83.6L1221.6,85.9L1223.0,88.2L1224.4,90.5L1225.8,92.8L1227.3,95.2L1228.7,97.5L1230.1,99.8L1231.5,102.2L1232.9,104.5L1234.3,106.8L1235.8,109.1L1237.2,111.5L1238.6,113.8" fill="none" stroke="#3838f0" stroke-width="3.0" stroke-linejoin="round"/>
</g>
<path d="M972.50,11.40H1255.20M972.50,233.10H1255.20" stroke="#626262" stroke-width="1.15" fill="none"/>
<path d="M972.50,11.40V233.10" stroke="#44449c" stroke-width="1.15" fill="none"/>
<path d="M1255.20,11.40V233.10" stroke="#303030" stroke-width="1.2" fill="none"/>
<path d="M1019.62,233.10v-2.8M1019.62,11.40v2.8M1113.85,233.10v-2.8M1113.85,11.40v2.8M1208.08,233.10v-2.8M1208.08,11.40v2.8" stroke="#404040" stroke-width="1" fill="none"/>
<path d="M972.50,233.10h2.8M972.50,210.93h2.8M972.50,188.76h2.8M972.50,166.59h2.8M972.50,144.42h2.8M972.50,122.25h2.8M972.50,100.08h2.8M972.50,77.91h2.8M972.50,55.74h2.8M972.50,33.57h2.8M972.50,11.40h2.8" stroke="#44449c" stroke-width="1" fill="none"/>
<path d="M1255.20,233.10h-2.8M1255.20,210.93h-2.8M1255.20,188.76h-2.8M1255.20,166.59h-2.8M1255.20,144.42h-2.8M1255.20,122.25h-2.8M1255.20,100.08h-2.8M1255.20,77.91h-2.8M1255.20,55.74h-2.8M1255.20,33.57h-2.8M1255.20,11.40h-2.8" stroke="#303030" stroke-width="1" fill="none"/>
<g font-size="24.5" fill="#0808dc" stroke="#0808dc" text-anchor="end">
<text x="965.00" y="242.10">-15</text>
<text x="965.00" y="219.93">-10</text>
<text x="965.00" y="197.76">-5</text>
<text x="965.00" y="175.59">0</text>
<text x="965.00" y="153.42">5</text>
<text x="965.00" y="131.25">10</text>
<text x="965.00" y="109.08">15</text>
<text x="965.00" y="86.91">20</text>
<text x="965.00" y="64.74">25</text>
<text x="965.00" y="42.57">30</text>
<text x="965.00" y="20.40">35</text>
</g>
<g font-size="24.5" fill="#111111" stroke="#111111" text-anchor="start">
<text x="1262.80" y="242.20">14</text>
<text x="1262.80" y="220.03">16</text>
<text x="1262.80" y="197.86">18</text>
<text x="1262.80" y="175.69">20</text>
<text x="1262.80" y="153.52">22</text>
<text x="1262.80" y="131.35">24</text>
<text x="1262.80" y="109.18">26</text>
<text x="1262.80" y="87.01">28</text>
<text x="1262.80" y="64.84">30</text>
<text x="1262.80" y="42.67">32</text>
<text x="1262.80" y="20.50">34</text>
</g>
<g font-size="24.5" fill="#111111" stroke="#111111" text-anchor="middle">
<text x="1019.62" y="264.30">1</text>
<text x="1113.85" y="264.30">2</text>
<text x="1208.08" y="264.30">3</text>
</g>
<text font-size="27.5" fill="#111111" stroke="#111111" text-anchor="middle" x="1113.85" y="295.70">Time [hour]</text>
<text font-size="27.50" fill="#0808dc" stroke="#0808dc" text-anchor="middle" transform="translate(923.40,122.25) rotate(-90)">Residual [mm]</text>
<text font-size="27.50" fill="#111111" stroke="#111111" text-anchor="middle" transform="translate(1317.30,122.25) rotate(-90)">Elevation [deg]</text>
<rect x="985.50" y="197.80" width="217" height="22.1" fill="#fff" stroke="#111111" stroke-width="1.2"/>
<line x1="989.00" y1="209.65" x2="1016.50" y2="209.65" stroke="#ff0000" stroke-width="3" stroke-dasharray="3,2.5"/>
<text font-size="17" fill="#111111" x="1019.00" y="214.60">raw</text>
<rect x="1063.00" y="208.65" width="2" height="2" fill="#0808dc"/>
<text font-size="17" fill="#111111" x="1081.00" y="214.60">SF</text>
<line x1="1106.00" y1="209.65" x2="1132.50" y2="209.65" stroke="#0808dc" stroke-width="3"/>
<text font-size="17" fill="#111111" x="1135.50" y="214.60">elevation</text>
<line x1="189.87" y1="321.60" x2="189.87" y2="542.40" stroke="#dedede" stroke-width="1"/>
<line x1="284.23" y1="321.60" x2="284.23" y2="542.40" stroke="#dedede" stroke-width="1"/>
<line x1="95.50" y1="468.80" x2="378.60" y2="468.80" stroke="#dcdcf8" stroke-width="1"/>
<line x1="95.50" y1="395.20" x2="378.60" y2="395.20" stroke="#dcdcf8" stroke-width="1"/>
<clipPath id="c1276"><rect x="95.5" y="321.6" width="283.1" height="220.79999999999995"/></clipPath>
<g clip-path="url(#c1276)">
<path d="M95.5,390.0L96.5,398.0L97.6,387.2L98.6,390.2L99.7,380.0L100.7,385.6L101.7,377.2L102.8,387.9L103.8,378.3L104.9,385.0L105.9,375.3L106.9,388.5L108.0,375.5L109.0,382.7L110.1,376.9L111.1,386.0L112.2,381.2L113.2,387.7L114.2,386.0L115.3,390.6L116.3,386.2L117.4,395.8L118.4,388.2L119.4,398.3L120.5,391.3L121.5,394.8L122.6,391.3L123.6,399.7L124.6,386.7L125.7,394.6L126.7,386.9L127.8,396.9L128.8,391.3L129.8,398.6L130.9,390.2L131.9,398.6L133.0,387.2L134.0,394.8L135.1,384.8L136.1,391.6L137.1,381.2L138.2,392.4L139.2,379.5L140.3,386.4L141.3,377.5L142.3,387.7L143.4,377.3L144.4,386.7L145.5,378.7L146.5,385.1L147.5,377.7L148.6,383.3L149.6,375.1L150.7,381.5L151.7,376.6L152.7,386.2L153.8,374.9L154.8,383.5L155.9,375.5L156.9,388.0L157.9,373.4L159.0,386.0L160.0,377.0L161.1,386.7L162.1,378.4L163.2,386.9L164.2,380.9L165.2,392.4L166.3,383.8L167.3,394.8L168.4,387.9L169.4,393.8L170.4,384.4L171.5,394.6L172.5,387.7L173.6,392.9L174.6,388.4L175.6,397.0L176.7,390.6L177.7,395.8L178.8,389.7L179.8,395.0L180.8,386.3L181.9,399.5L182.9,385.0L184.0,395.4L185.0,388.9L186.1,394.6L187.1,387.9L188.1,398.0L189.2,388.8L190.2,399.9L191.3,386.0L192.3,396.8L193.3,389.8L194.4,397.8L195.4,380.7L196.5,386.0L197.5,376.9L198.5,380.8L199.6,365.8L200.6,381.0L201.7,374.6L202.7,381.4L203.7,376.7L204.8,387.8L205.8,380.8L206.9,396.3L207.9,391.4L208.9,404.0L210.0,400.1L211.0,412.4L212.1,398.2L213.1,406.3L214.2,400.0L215.2,404.9L216.2,397.2L217.3,405.3L218.3,398.5L219.4,404.4L220.4,389.2L221.4,393.7L222.5,380.8L223.5,385.9L224.6,381.7L225.6,393.1L226.6,387.8L227.7,398.2L228.7,393.1L229.8,408.2L230.8,397.0L231.8,401.3L232.9,393.6L233.9,400.9L235.0,391.2L236.0,405.0L237.1,390.1L238.1,398.7L239.1,386.7L240.2,398.8L241.2,392.8L242.3,401.1L243.3,398.0L244.3,406.9L245.4,400.5L246.4,413.2L247.5,399.1L248.5,407.4L249.5,391.9L250.6,398.3L251.6,389.5L252.7,391.3L253.7,381.6L254.7,388.5L255.8,383.5L256.8,393.2L257.9,382.7L258.9,390.5L259.9,385.1L261.0,395.2L262.0,384.6L263.1,397.0L264.1,389.3L265.2,404.2L266.2,392.9L267.2,403.4L268.3,394.7L269.3,403.4L270.4,396.3L271.4,410.2L272.4,397.5L273.5,408.3L274.5,398.3L275.6,408.7L276.6,399.3L277.6,403.0L278.7,390.9L279.7,402.6L280.8,389.7L281.8,402.3L282.8,395.7L283.9,402.5L284.9,392.2L286.0,400.1L287.0,392.5L288.0,403.4L289.1,391.6L290.1,394.2L291.2,388.6L292.2,394.6L293.3,378.7L294.3,386.9L295.3,376.8L296.4,386.5L297.4,376.8L298.5,386.9L299.5,377.4L300.5,383.8L301.6,370.0L302.6,378.3L303.7,366.5L304.7,378.3L305.7,366.7L306.8,379.5L307.8,369.0L308.9,381.1L309.9,377.6L310.9,387.9L312.0,385.1L313.0,396.6L314.1,390.2L315.1,398.9L316.2,389.5L317.2,401.2L318.2,391.7L319.3,399.5L320.3,385.6L321.4,395.9L322.4,387.1L323.4,395.1L324.5,386.5L325.5,399.1L326.6,392.8L327.6,404.5L328.6,393.7L329.7,400.8L330.7,393.4L331.8,401.6L332.8,390.8L333.8,401.1L334.9,390.5L335.9,397.6L337.0,387.2L338.0,399.6L339.0,390.7L340.1,400.0L341.1,390.1L342.2,396.1L343.2,380.8L344.3,385.1L345.3,379.6L346.3,390.4L347.4,382.3L348.4,389.2L349.5,380.6L350.5,393.2L351.5,387.1L352.6,400.3L353.6,392.9L354.7,406.3L355.7,400.5L356.7,407.6L357.8,397.9L358.8,407.1L359.9,401.3L360.9,405.9L361.9,401.2L363.0,413.0L364.0,405.9L365.1,413.1L366.1,407.0L367.2,418.0L368.2,406.0L369.2,421.9L370.3,414.5L371.3,420.2L372.4,411.3L373.4,423.2L374.4,408.8L375.5,419.5L376.5,404.7L377.6,412.7L378.6,401.6" fill="none" stroke="#ff0000" stroke-width="3.4" stroke-linejoin="round" stroke-dasharray="none"/>
<path d="M307.8,381.8L308.0,393.9L308.1,397.6L308.3,406.0L308.4,412.0L308.6,423.0L308.7,430.2L308.9,436.7L309.0,439.2L309.2,450.4L309.3,451.1L309.5,441.6L309.6,436.0L309.8,431.7L309.9,423.2L310.1,417.8L310.2,409.5L310.4,402.2L310.5,396.6L310.7,384.6L310.8,386.6L311.0,396.1L311.1,402.7L311.3,410.1L311.4,417.0L311.6,422.2L311.7,431.9L311.9,441.7L312.0,445.7L312.2,453.0" fill="none" stroke="#ff0000" stroke-width="3.6" stroke-dasharray="3.6,1.1"/>
<path d="M316.3,382.1L316.6,391.5L316.8,401.9L317.0,412.0L317.3,418.0L317.5,425.3L317.8,433.0L318.0,441.8L318.2,450.6L318.5,458.9L318.7,463.9L319.0,454.6L319.2,446.1L319.4,439.9L319.7,426.2L319.9,422.9L320.2,409.3L320.4,402.0L320.7,397.0L320.9,387.8L321.1,391.2L321.4,397.4L321.6,409.3L321.9,415.3L322.1,421.8L322.3,431.9L322.6,439.2L322.8,448.8L323.1,456.0L323.3,463.0" fill="none" stroke="#ff0000" stroke-width="3.6" stroke-dasharray="3.6,1.1"/>
<path d="M327.5,383.1L327.9,390.7L328.3,399.8L328.8,410.6L329.2,420.0L329.6,427.1L330.1,436.1L330.5,447.1L330.9,454.1L331.4,464.3L331.8,460.8L332.3,456.4L332.7,446.5L333.1,435.1L333.6,428.5L334.0,420.9L334.4,412.3L334.9,400.5L335.3,392.0L335.8,385.2" fill="none" stroke="#ff0000" stroke-width="3.6" stroke-dasharray="3.6,1.1"/>
<path d="M95.5,401.5L95.9,408.7L96.2,406.9L96.6,408.3L97.0,400.8L97.4,407.2L97.7,405.8L98.1,403.3L98.5,403.0L98.9,406.4L99.2,396.5L99.6,404.9L100.0,399.6L100.3,405.6L100.7,400.7L101.1,405.3L101.5,405.8L101.8,403.8L102.2,401.1L102.6,400.8L103.0,399.7L103.3,405.1L103.7,405.8L104.1,403.7L104.5,402.2L104.8,397.3L105.2,400.1L105.6,400.6L105.9,401.5L106.3,395.6L106.7,400.7L107.1,396.4L107.4,394.6L107.8,395.2L108.2,400.3L108.6,399.0L108.9,393.5L109.3,401.4L109.7,396.0L110.0,399.3L110.4,396.1L110.8,398.4L111.2,399.2L111.5,393.9L111.9,398.1L112.3,390.7L112.7,391.1L113.0,395.6L113.4,393.6L113.8,394.1L114.1,391.5L114.5,398.5L114.9,397.3L115.3,396.5L115.6,392.5L116.0,392.7L116.4,396.0L116.8,398.4L117.1,393.2L117.5,396.1L117.9,397.7L118.3,392.9L118.6,395.2L119.0,396.0L119.4,396.0L119.7,393.0L120.1,395.6L120.5,394.5L120.9,389.8L121.2,393.9L121.6,396.0L122.0,393.5L122.4,391.2L122.7,391.7L123.1,392.9L123.5,391.7L123.8,392.5L124.2,393.0L124.6,396.3L125.0,398.4L125.3,393.2L125.7,393.5L126.1,391.1L126.5,396.1L126.8,390.9L127.2,396.6L127.6,390.7L128.0,390.3L128.3,397.4L128.7,396.0L129.1,390.7L129.4,391.2L129.8,393.0L130.2,398.1L130.6,398.8L130.9,397.5L131.3,391.8L131.7,392.6L132.1,396.7L132.4,393.1L132.8,392.2L133.2,397.3L133.5,391.6L133.9,396.6L134.3,395.7L134.7,396.9L135.0,396.3L135.4,392.7L135.8,397.5L136.2,393.0L136.5,396.7L136.9,391.4L137.3,397.3L137.6,397.3L138.0,397.4L138.4,394.0L138.8,392.4L139.1,392.4L139.5,392.0L139.9,392.1L140.3,393.3L140.6,396.4L141.0,398.1L141.4,392.8L141.8,397.7L142.1,394.4L142.5,399.1L142.9,396.6L143.2,397.3L143.6,395.1L144.0,390.6L144.4,395.0L144.7,391.7L145.1,397.8L145.5,397.0L145.9,397.5L146.2,396.2L146.6,399.2L147.0,394.2L147.3,393.0L147.7,393.3L148.1,399.7L148.5,396.3L148.8,397.3L149.2,393.7L149.6,397.8L150.0,391.7L150.3,395.0L150.7,389.6L151.1,396.5L151.4,394.1L151.8,393.2L152.2,389.8L152.6,390.2L152.9,396.0L153.3,395.6L153.7,391.3L154.1,395.4L154.4,397.1L154.8,391.8L155.2,392.7L155.6,397.7L155.9,394.8L156.3,391.8L156.7,397.5L157.0,390.8L157.4,390.7L157.8,391.6L158.2,392.1L158.5,392.5L158.9,394.0L159.3,393.8L159.7,398.0L160.0,393.9L160.4,392.9L160.8,395.6L161.1,393.2L161.5,396.4L161.9,392.9L162.3,393.6L162.6,399.5L163.0,393.3L163.4,398.4L163.8,399.6L164.1,399.3L164.5,397.8L164.9,394.9L165.2,397.6L165.6,398.5L166.0,393.0L166.4,397.4L166.7,392.2L167.1,397.9L167.5,392.9L167.9,396.8L168.2,391.5L168.6,392.4L169.0,391.7L169.4,397.0L169.7,390.8L170.1,395.4L170.5,391.1L170.8,390.8L171.2,397.7L171.6,398.5L172.0,392.2L172.3,391.2L172.7,391.4L173.1,395.7L173.5,390.9L173.8,397.5L174.2,397.3L174.6,392.5L174.9,393.7L175.3,392.0L175.7,398.6L176.1,397.3L176.4,393.0L176.8,399.3L177.2,398.5L177.6,395.4L177.9,393.0L178.3,400.0L178.7,393.7L179.0,396.2L179.4,395.6L179.8,396.5L180.2,395.1L180.5,393.6L180.9,397.0L181.3,395.2L181.7,393.4L182.0,391.9L182.4,394.1L182.8,397.3L183.2,392.0L183.5,399.4L183.9,399.8L184.3,391.5L184.6,397.0L185.0,397.0L185.4,394.7L185.8,394.8L186.1,394.6L186.5,389.1L186.9,395.1L187.3,396.1L187.6,395.6L188.0,388.4L188.4,393.8L188.7,394.5L189.1,389.6L189.5,388.9L189.9,392.7L190.2,389.9L190.6,396.2L191.0,395.7L191.4,392.3L191.7,396.8L192.1,396.4L192.5,396.8L192.9,396.1L193.2,389.6L193.6,390.1L194.0,397.6L194.3,396.1L194.7,390.9L195.1,389.3L195.5,390.9L195.8,388.0L196.2,392.8L196.6,385.2L197.0,384.0L197.3,388.5L197.7,389.2L198.1,390.0L198.4,383.0L198.8,382.6L199.2,388.9L199.6,383.7L199.9,380.4L200.3,390.2L200.7,390.4L201.1,392.0L201.4,390.0L201.8,391.6L202.2,386.5L202.5,396.0L202.9,396.0L203.3,388.5L203.7,398.4L204.0,397.1L204.4,396.0L204.8,398.9L205.2,396.3L205.5,390.7L205.9,389.9L206.3,389.9L206.7,390.1L207.0,391.6L207.4,399.9L207.8,393.5L208.1,394.8L208.5,400.2L208.9,397.5L209.3,398.3L209.6,389.7L210.0,396.6L210.4,397.4L210.8,389.8L211.1,390.7L211.5,390.6L211.9,392.2L212.2,396.7L212.6,395.5L213.0,392.9L213.4,391.9L213.7,388.8L214.1,397.1L214.5,391.0L214.9,400.5L215.2,399.8L215.6,390.8L216.0,398.0L216.3,392.9L216.7,388.0L217.1,389.8L217.5,392.9L217.8,389.7L218.2,387.9L218.6,388.2L219.0,397.0L219.3,397.4L219.7,396.5L220.1,398.2L220.5,391.2L220.8,391.7L221.2,401.0L221.6,402.2L221.9,400.5L222.3,394.4L222.7,392.7L223.1,396.4L223.4,392.2L223.8,389.8L224.2,390.5L224.6,399.8L224.9,392.3L225.3,391.2L225.7,389.1L226.0,394.5L226.4,396.8L226.8,394.4L227.2,397.0L227.5,397.6L227.9,391.8L228.3,392.8L228.7,392.3L229.0,392.7L229.4,399.7L229.8,400.5L230.1,397.7L230.5,391.2L230.9,392.4L231.3,390.8L231.6,392.1L232.0,390.5L232.4,389.0L232.8,391.0L233.1,389.9L233.5,389.2L233.9,390.6L234.3,389.8L234.6,398.3L235.0,398.8L235.4,389.7L235.7,398.5L236.1,398.3L236.5,399.8L236.9,393.3L237.2,400.7L237.6,392.1L238.0,399.0L238.4,392.7L238.7,391.5L239.1,393.2L239.5,397.6L239.8,393.4L240.2,390.8L240.6,391.2L241.0,397.0L241.3,398.4L241.7,388.9L242.1,391.4L242.5,399.0L242.8,393.5L243.2,393.5L243.6,398.6L244.0,391.2L244.3,399.0L244.7,399.3L245.1,397.4L245.4,396.5L245.8,388.8L246.2,390.0L246.6,396.6L246.9,394.4L247.3,397.5L247.7,390.8L248.1,390.3L248.4,399.5L248.8,395.5L249.2,399.5L249.5,399.9L249.9,394.0L250.3,392.7L250.7,401.0L251.0,396.6L251.4,400.5L251.8,401.9L252.2,394.4L252.5,399.6L252.9,391.8L253.3,390.7L253.6,398.3L254.0,392.5L254.4,398.8L254.8,392.1L255.1,398.9L255.5,392.8L255.9,393.1L256.3,394.1L256.6,399.8L257.0,392.6L257.4,399.4L257.8,393.3L258.1,397.5L258.5,397.5L258.9,392.4L259.2,397.3L259.6,390.6L260.0,395.4L260.4,391.0L260.7,391.7L261.1,389.9L261.5,396.2L261.9,396.3L262.2,388.1L262.6,392.4L263.0,395.3L263.3,391.4L263.7,398.6L264.1,390.7L264.5,391.9L264.8,392.1L265.2,397.1L265.6,390.2L266.0,389.9L266.3,391.4L266.7,390.7L267.1,399.6L267.4,391.2L267.8,389.9L268.2,394.9L268.6,398.7L268.9,392.7L269.3,397.1L269.7,398.5L270.1,388.9L270.4,390.1L270.8,392.3L271.2,391.7L271.6,392.5L271.9,396.5L272.3,400.0L272.7,399.3L273.0,396.4L273.4,395.5L273.8,400.3L274.2,401.4L274.5,399.2L274.9,400.0L275.3,391.0L275.7,399.1L276.0,397.3L276.4,393.9L276.8,398.2L277.1,395.0L277.5,393.4L277.9,399.6L278.3,389.9L278.6,393.6L279.0,399.0L279.4,390.1L279.8,399.9L280.1,393.3L280.5,397.4L280.9,399.8L281.2,398.1L281.6,395.9L282.0,396.7L282.4,397.3L282.7,395.2L283.1,394.9L283.5,390.6L283.9,397.6L284.2,398.9L284.6,390.1L285.0,399.1L285.4,392.2L285.7,393.5L286.1,390.1L286.5,399.2L286.8,390.8L287.2,399.1L287.6,398.1L288.0,391.1L288.3,397.8L288.7,392.7L289.1,392.8L289.5,400.5L289.8,392.5L290.2,397.4L290.6,390.2L290.9,400.0L291.3,399.8L291.7,393.4L292.1,399.4L292.4,398.1L292.8,391.2L293.2,397.7L293.6,399.4L293.9,398.7L294.3,393.5L294.7,391.9L295.1,392.6L295.4,397.1L295.8,399.2L296.2,399.2L296.5,397.4L296.9,396.9L297.3,388.2L297.7,394.8L298.0,397.6L298.4,391.0L298.8,394.7L299.2,398.6L299.5,388.8L299.9,389.3L300.3,397.6L300.6,390.3L301.0,395.5L301.4,391.6L301.8,392.3L302.1,392.4L302.5,397.9L302.9,401.4L303.3,393.8L303.6,399.5L304.0,399.8L304.4,394.5L304.7,395.4L305.1,391.9L305.5,399.4L305.9,392.5L306.2,400.5L306.6,400.1L307.0,399.4L307.4,400.4L307.7,399.2L308.1,403.5L308.5,391.1L308.9,400.6L309.2,400.9L309.6,389.9L310.0,390.9L310.3,391.0L310.7,389.2L311.1,391.4L311.5,401.7L311.8,390.6L312.2,407.6L312.6,394.0L313.0,404.4L313.3,405.8L313.7,403.1L314.1,404.1L314.4,392.4L314.8,391.0L315.2,390.5L315.6,400.9L315.9,397.6L316.3,402.8L316.7,390.3L317.1,403.4L317.4,399.3L317.8,402.9L318.2,389.7L318.5,388.3L318.9,399.4L319.3,387.2L319.7,400.0L320.0,389.1L320.4,399.4L320.8,396.2L321.2,390.5L321.5,397.5L321.9,399.6L322.3,390.8L322.7,388.8L323.0,388.4L323.4,402.7L323.8,404.9L324.1,407.6L324.5,406.5L324.9,408.6L325.3,406.1L325.6,395.5L326.0,407.0L326.4,395.7L326.8,403.9L327.1,404.5L327.5,400.0L327.9,401.4L328.2,401.2L328.6,405.8L329.0,396.3L329.4,391.2L329.7,406.1L330.1,405.5L330.5,395.7L330.9,403.0L331.2,404.1L331.6,390.7L332.0,402.7L332.3,390.0L332.7,393.0L333.1,403.8L333.5,401.7L333.8,405.4L334.2,398.4L334.6,394.6L335.0,409.7L335.3,408.9L335.7,406.9L336.1,402.5L336.5,403.6L336.8,390.9L337.2,395.3L337.6,395.3L337.9,400.6L338.3,396.6L338.7,396.9L339.1,405.4L339.4,395.8L339.8,403.8L340.2,400.2L340.6,392.5L340.9,405.0L341.3,406.1L341.7,393.7L342.0,402.1L342.4,406.5L342.8,404.6L343.2,405.2L343.5,393.8L343.9,402.9L344.3,395.1L344.7,404.5L345.0,395.6L345.4,395.4L345.8,399.3L346.1,394.9L346.5,404.6L346.9,406.0L347.3,395.4L347.6,405.6L348.0,399.3L348.4,394.6L348.8,393.3L349.1,392.8L349.5,406.2L349.9,393.3L350.3,399.6L350.6,394.7L351.0,399.1L351.4,390.7L351.7,401.3L352.1,404.2L352.5,390.2L352.9,391.8L353.2,390.5L353.6,400.7L354.0,399.5L354.4,390.7L354.7,389.2L355.1,391.1L355.5,393.2L355.8,393.4L356.2,403.4L356.6,399.7L357.0,401.7L357.3,393.6L357.7,397.0L358.1,393.5L358.5,393.5L358.8,390.8L359.2,390.4L359.6,400.8L360.0,390.5L360.3,395.9L360.7,398.2L361.1,393.6L361.4,388.0L361.8,389.1L362.2,399.9L362.6,398.8L362.9,389.8L363.3,386.6L363.7,398.3L364.1,398.1L364.4,389.0L364.8,390.5L365.2,388.9L365.5,399.0L365.9,394.8L366.3,389.7L366.7,397.4L367.0,397.7L367.4,402.3L367.8,392.2L368.2,399.2L368.5,400.8L368.9,395.1L369.3,393.2L369.6,393.1L370.0,401.6L370.4,395.7L370.8,400.7L371.1,392.5L371.5,392.7L371.9,394.1L372.3,392.5L372.6,396.8L373.0,395.1L373.4,401.8L373.8,392.6L374.1,400.5L374.5,395.2L374.9,403.9L375.2,400.2L375.6,395.0L376.0,394.5L376.4,395.1L376.7,400.8L377.1,393.3L377.5,393.5L377.9,395.1L378.2,400.8L378.6,403.3" fill="none" stroke="#0000dc" stroke-width="3" stroke-linejoin="round"/>
<path d="M95.5,398.1L96.4,396.6L97.4,396.3L98.3,397.1L99.3,397.9L100.2,397.9L101.2,397.6L102.1,397.3L103.1,396.8L104.0,396.0L105.0,395.3L105.9,394.8L106.9,394.8L107.8,395.1L108.8,395.6L109.7,395.1L110.6,394.7L111.6,393.9L112.5,393.2L113.5,392.4L114.4,391.8L115.4,391.3L116.3,390.8L117.3,390.6L118.2,390.7L119.2,391.1L120.1,391.2L121.1,390.8L122.0,390.4L123.0,390.2L123.9,390.8L124.9,391.8L125.8,392.4L126.7,392.1L127.7,391.6L128.6,391.6L129.6,391.8L130.5,391.7L131.5,391.3L132.4,391.5L133.4,392.0L134.3,392.4L135.3,392.6L136.2,392.5L137.2,392.2L138.1,392.1L139.1,392.3L140.0,392.4L140.9,392.2L141.9,391.6L142.8,390.9L143.8,390.4L144.7,390.7L145.7,391.4L146.6,392.0L147.6,392.1L148.5,391.9L149.5,392.0L150.4,392.1L151.4,391.7L152.3,391.1L153.3,391.0L154.2,391.4L155.1,391.7L156.1,391.3L157.0,390.9L158.0,390.9L158.9,391.3L159.9,392.1L160.8,392.8L161.8,392.8L162.7,392.2L163.7,391.3L164.6,390.4L165.6,390.1L166.5,390.6L167.5,391.2L168.4,391.8L169.4,392.1L170.3,391.9L171.2,391.3L172.2,390.5L173.1,389.9L174.1,389.7L175.0,390.0L176.0,390.6L176.9,391.4L177.9,391.9L178.8,391.9L179.8,391.3L180.7,390.4L181.7,390.2L182.6,390.8L183.6,391.2L184.5,390.9L185.4,390.5L186.4,390.4L187.3,390.3L188.3,389.7L189.2,389.0L190.2,388.5L191.1,388.4L192.1,388.4L193.0,388.0L194.0,387.4L194.9,387.3L195.9,387.4L196.8,386.1L197.8,383.6L198.7,380.5L199.7,379.0L200.6,380.3L201.5,382.1L202.5,384.3L203.4,386.7L204.4,388.5L205.3,389.7L206.3,389.9L207.2,390.1L208.2,390.9L209.1,391.8L210.1,392.6L211.0,393.0L212.0,392.7L212.9,392.1L213.9,391.7L214.8,391.3L215.7,391.1L216.7,391.6L217.6,392.2L218.6,392.3L219.5,391.5L220.5,390.1L221.4,389.0L222.4,388.7L223.3,389.5L224.3,390.9L225.2,392.0L226.2,391.8L227.1,390.6L228.1,389.5L229.0,389.1L229.9,389.4L230.9,390.4L231.8,391.5L232.8,392.2L233.7,392.1L234.7,391.5L235.6,391.1L236.6,390.9L237.5,390.5L238.5,389.6L239.4,388.6L240.4,388.0L241.3,388.3L242.3,389.3L243.2,390.3L244.2,390.4L245.1,389.7L246.0,388.8L247.0,389.0L247.9,390.4L248.9,391.6L249.8,391.6L250.8,390.7L251.7,389.5L252.7,388.9L253.6,389.5L254.6,391.0L255.5,392.3L256.5,392.2L257.4,390.7L258.4,389.2L259.3,388.9L260.2,389.7L261.2,390.9L262.1,391.7L263.1,392.0L264.0,391.9L265.0,391.3L265.9,390.6L266.9,389.9L267.8,389.6L268.8,389.8L269.7,390.5L270.7,391.2L271.6,391.2L272.6,390.6L273.5,390.1L274.4,390.4L275.4,390.8L276.3,390.9L277.3,390.9L278.2,391.5L279.2,392.4L280.1,392.7L281.1,392.2L282.0,391.2L283.0,390.1L283.9,388.9L284.9,388.2L285.8,388.1L286.8,388.2L287.7,388.6L288.7,389.0L289.6,388.4L290.5,387.7L291.5,387.7L292.4,388.0L293.4,388.7L294.3,389.3L295.3,389.3L296.2,388.3L297.2,387.8L298.1,388.4L299.1,389.3L300.0,389.7L301.0,389.8L301.9,390.0L302.9,390.3L303.8,390.4L304.7,390.5L305.7,390.3L306.6,389.5L307.6,388.2L308.5,387.3L309.5,386.8L310.4,386.4L311.4,386.4L312.3,387.0L313.3,387.8L314.2,388.3L315.2,388.5L316.1,389.3L317.1,390.6L318.0,391.5L319.0,392.3L319.9,393.0L320.8,392.3L321.8,390.2L322.7,388.1L323.7,387.8L324.6,390.2L325.6,393.7L326.5,395.8L327.5,395.9L328.4,394.8L329.4,393.9L330.3,393.5L331.3,392.6L332.2,390.9L333.2,389.5L334.1,389.7L335.0,391.2L336.0,393.1L336.9,394.5L337.9,394.6L338.8,394.1L339.8,394.1L340.7,394.5L341.7,394.2L342.6,393.2L343.6,392.4L344.5,392.5L345.5,393.3L346.4,393.7L347.4,393.6L348.3,393.8L349.2,394.2L350.2,394.5L351.1,394.6L352.1,394.9L353.0,395.4L354.0,395.7L354.9,395.1L355.9,393.6L356.8,392.0L357.8,390.8L358.7,389.5L359.7,387.8L360.6,386.7L361.6,386.7L362.5,388.1L363.5,389.7L364.4,390.5L365.3,391.1L366.3,392.4L367.2,393.9L368.2,394.0L369.1,393.8L370.1,392.3L371.0,390.7L372.0,389.8L372.9,390.2L373.9,391.4L374.8,392.2L375.8,392.6L376.7,393.3L377.7,394.3L378.6,395.1L378.6,405.9L377.7,404.0L376.7,402.8L375.8,402.8L374.8,403.0L373.9,402.2L372.9,400.8L372.0,399.6L371.0,399.3L370.1,399.5L369.1,399.9L368.2,400.4L367.2,400.4L366.3,400.7L365.3,401.8L364.4,403.0L363.5,402.7L362.5,401.1L361.6,399.9L360.6,399.5L359.7,399.4L358.7,400.3L357.8,401.6L356.8,402.4L355.9,402.2L354.9,402.1L354.0,403.7L353.0,406.5L352.1,409.2L351.1,410.5L350.2,410.5L349.2,409.0L348.3,407.0L347.4,405.6L346.4,405.8L345.5,406.7L344.5,407.2L343.6,407.1L342.6,407.1L341.7,407.4L340.7,407.8L339.8,407.8L338.8,407.7L337.9,407.9L336.9,408.0L336.0,406.6L335.0,404.1L334.1,402.8L333.2,403.4L332.2,404.9L331.3,406.3L330.3,406.8L329.4,406.3L328.4,405.6L327.5,404.9L326.5,404.1L325.6,403.2L324.6,403.0L323.7,403.6L322.7,404.3L321.8,404.7L320.8,404.8L319.9,404.7L319.0,404.7L318.0,404.9L317.1,404.9L316.1,404.9L315.2,405.2L314.2,405.0L313.3,404.3L312.3,403.6L311.4,403.8L310.4,404.5L309.5,405.1L308.5,404.9L307.6,403.4L306.6,401.2L305.7,398.7L304.7,397.3L303.8,396.8L302.9,396.6L301.9,397.1L301.0,397.2L300.0,397.4L299.1,398.2L298.1,399.5L297.2,400.5L296.2,401.2L295.3,402.0L294.3,402.0L293.4,402.0L292.4,402.0L291.5,402.0L290.5,401.5L289.6,401.2L288.7,401.4L287.7,401.1L286.8,399.9L285.8,399.0L284.9,399.3L283.9,400.2L283.0,400.9L282.0,400.8L281.1,400.6L280.1,400.7L279.2,400.8L278.2,400.1L277.3,399.4L276.3,399.4L275.4,399.8L274.4,399.4L273.5,398.6L272.6,398.4L271.6,398.8L270.7,399.2L269.7,399.1L268.8,398.5L267.8,398.6L266.9,399.7L265.9,400.6L265.0,400.3L264.0,399.2L263.1,398.3L262.1,397.8L261.2,397.2L260.2,396.6L259.3,396.6L258.4,397.2L257.4,398.8L256.5,399.8L255.5,399.6L254.6,399.1L253.6,399.0L252.7,399.4L251.7,399.9L250.8,400.4L249.8,400.3L248.9,399.5L247.9,398.7L247.0,398.6L246.0,398.8L245.1,398.6L244.2,398.3L243.2,398.3L242.3,398.1L241.3,398.2L240.4,398.8L239.4,399.4L238.5,399.6L237.5,399.2L236.6,398.5L235.6,398.2L234.7,398.6L233.7,400.2L232.8,402.3L231.8,402.3L230.9,402.3L229.9,402.3L229.0,402.0L228.1,401.9L227.1,402.0L226.2,401.7L225.2,401.2L224.3,400.9L223.3,401.0L222.4,400.8L221.4,400.1L220.5,399.5L219.5,399.6L218.6,399.7L217.6,399.7L216.7,399.6L215.7,399.4L214.8,399.2L213.9,399.3L212.9,400.2L212.0,401.0L211.0,401.1L210.1,400.7L209.1,400.3L208.2,400.0L207.2,399.8L206.3,399.7L205.3,399.3L204.4,398.3L203.4,396.8L202.5,394.3L201.5,391.6L200.6,389.7L199.7,388.1L198.7,389.0L197.8,391.5L196.8,394.2L195.9,396.6L194.9,397.5L194.0,397.5L193.0,397.7L192.1,398.2L191.1,398.5L190.2,398.4L189.2,398.2L188.3,398.2L187.3,398.5L186.4,398.7L185.4,398.9L184.5,398.6L183.6,397.8L182.6,397.4L181.7,397.6L180.7,397.9L179.8,397.9L178.8,397.9L177.9,398.3L176.9,398.6L176.0,398.8L175.0,398.8L174.1,398.0L173.1,396.8L172.2,396.2L171.2,396.5L170.3,397.4L169.4,398.1L168.4,398.3L167.5,398.3L166.5,398.2L165.6,398.3L164.6,399.0L163.7,399.7L162.7,399.4L161.8,398.5L160.8,398.0L159.9,397.9L158.9,397.6L158.0,397.0L157.0,396.5L156.1,396.3L155.1,396.3L154.2,396.2L153.3,396.0L152.3,396.1L151.4,396.8L150.4,397.8L149.5,398.7L148.5,399.1L147.6,399.0L146.6,398.5L145.7,398.2L144.7,398.5L143.8,399.0L142.8,398.9L141.9,398.1L140.9,397.5L140.0,397.9L139.1,398.6L138.1,399.2L137.2,399.6L136.2,399.4L135.3,398.4L134.3,397.1L133.4,396.3L132.4,396.5L131.5,397.4L130.5,398.1L129.6,398.4L128.6,398.5L127.7,398.3L126.7,397.7L125.8,396.7L124.9,396.0L123.9,396.4L123.0,397.6L122.0,398.6L121.1,399.0L120.1,399.3L119.2,399.5L118.2,399.2L117.3,398.8L116.3,398.6L115.4,398.6L114.4,398.7L113.5,399.1L112.5,399.1L111.6,399.2L110.6,399.4L109.7,400.0L108.8,400.6L107.8,401.5L106.9,402.7L105.9,403.7L105.0,404.0L104.0,404.1L103.1,404.3L102.1,404.8L101.2,405.3L100.2,406.3L99.3,407.5L98.3,408.0L97.4,408.1L96.4,408.4L95.5,409.3Z" fill="#0000dc" stroke="none"/>
<path d="M354.1,375.1L354.2,378.6L354.3,380.5L354.4,386.6L354.6,385.8L354.7,386.2L354.8,392.0L354.9,396.3L355.1,391.3L355.2,390.5L355.3,390.8L355.4,385.6L355.6,381.3L355.7,383.4L355.8,377.2L356.0,375.6" fill="none" stroke="#0000dc" stroke-width="2.6" stroke-linejoin="round"/>
<path d="M307.8,367.3L308.1,370.8L308.4,373.5L308.6,378.3L308.9,382.0L309.2,386.2L309.4,387.7L309.7,398.9" fill="none" stroke="#0000dc" stroke-width="2.6" stroke-dasharray="2.6,2"/>
<path d="M341.8,363.6L342.1,367.1L342.3,372.3L342.6,379.2L342.9,378.7L343.1,390.9L343.4,388.3L343.7,394.3" fill="none" stroke="#0000dc" stroke-width="2.6" stroke-dasharray="2.6,2"/>
<path d="M312.2,399.3L312.4,403.4L312.6,409.7L312.9,418.2L313.1,420.8L313.4,429.3L313.6,433.6L313.8,443.4L314.1,448.4L314.3,435.9L314.5,429.0L314.8,428.0L315.0,417.9L315.3,411.3L315.5,400.5L315.7,396.6L316.0,401.4L316.2,403.0L316.4,414.7L316.7,417.8L316.9,429.3L317.2,435.8L317.4,443.1L317.6,443.9" fill="none" stroke="#0000dc" stroke-width="2.6" stroke-dasharray="2.6,2"/>
<path d="M320.1,397.9L320.3,403.5L320.6,410.3L320.8,411.2L321.1,420.1L321.3,429.0L321.6,429.1L321.8,436.1L322.1,442.6L322.3,436.2L322.6,432.0L322.8,425.8L323.0,414.1L323.3,406.9L323.5,401.9L323.8,399.5L324.0,396.3L324.3,407.9L324.5,414.0L324.8,416.6L325.0,426.6L325.3,428.0L325.5,438.3L325.8,439.9" fill="none" stroke="#0000dc" stroke-width="2.6" stroke-dasharray="2.6,2"/>
<path d="M334.2,392.1L334.4,400.8L334.6,404.6L334.8,413.1L335.0,422.1L335.2,429.0L335.4,431.0L335.6,443.0L335.8,437.8L335.9,433.0L336.1,431.2L336.3,423.3L336.5,414.4L336.7,410.3L336.9,399.9L337.1,393.1" fill="none" stroke="#0000dc" stroke-width="2.6" stroke-dasharray="2.6,2"/>
<path d="M337.1,383.7L337.4,393.3L337.7,404.7L337.9,413.3L338.2,421.8L338.5,436.1L338.8,445.3L339.1,447.2L339.4,453.0L339.7,447.5L340.0,440.5L340.3,432.7L340.6,417.8L340.9,412.8L341.1,401.2L341.4,394.1L341.7,392.0L342.0,401.0L342.3,411.2L342.6,417.3L342.9,427.1L343.2,439.4L343.5,443.0L343.8,451.4L344.0,452.1L344.3,441.6L344.6,432.8L344.9,424.6L345.2,418.4L345.5,408.5L345.8,399.9L346.1,390.8L346.4,395.6L346.7,405.5L347.0,416.7L347.2,423.9L347.5,429.5L347.8,441.0L348.1,446.5L348.4,454.3" fill="none" stroke="#0000dc" stroke-width="2.6" stroke-dasharray="2.6,2"/>
<path d="M95.5,535.5L378.6,363.6" fill="none" stroke="#3838f0" stroke-width="3.0" stroke-linejoin="round"/>
</g>
<path d="M95.50,321.60H378.60M95.50,542.40H378.60" stroke="#626262" stroke-width="1.15" fill="none"/>
<path d="M95.50,321.60V542.40" stroke="#44449c" stroke-width="1.15" fill="none"/>
<path d="M378.60,321.60V542.40" stroke="#303030" stroke-width="1.2" fill="none"/>
<path d="M95.50,542.40v-2.8M95.50,321.60v2.8M189.87,542.40v-2.8M189.87,321.60v2.8M284.23,542.40v-2.8M284.23,321.60v2.8M378.60,542.40v-2.8M378.60,321.60v2.8" stroke="#404040" stroke-width="1" fill="none"/>
<path d="M95.50,542.40h2.8M95.50,468.80h2.8M95.50,395.20h2.8M95.50,321.60h2.8" stroke="#44449c" stroke-width="1" fill="none"/>
<path d="M378.60,542.40h-2.8M378.60,468.80h-2.8M378.60,395.20h-2.8M378.60,321.60h-2.8" stroke="#303030" stroke-width="1" fill="none"/>
<g font-size="24.5" fill="#0808dc" stroke="#0808dc" text-anchor="end">
<text x="88.00" y="551.40">-40</text>
<text x="88.00" y="477.80">-20</text>
<text x="88.00" y="404.20">0</text>
<text x="88.00" y="330.60">20</text>
</g>
<g font-size="24.5" fill="#111111" stroke="#111111" text-anchor="start">
<text x="386.20" y="551.50">30</text>
<text x="386.20" y="477.90">40</text>
<text x="386.20" y="404.30">50</text>
<text x="386.20" y="330.70">60</text>
</g>
<g font-size="24.5" fill="#111111" stroke="#111111" text-anchor="middle">
<text x="95.50" y="573.60">0</text>
<text x="189.87" y="573.60">0.5</text>
<text x="284.23" y="573.60">1</text>
<text x="378.60" y="573.60">1.5</text>
</g>
<text font-size="27.5" fill="#111111" stroke="#111111" text-anchor="middle" x="237.05" y="605.00">Time [hour]</text>
<text font-size="27.50" fill="#0808dc" stroke="#0808dc" text-anchor="middle" transform="translate(46.40,432.00) rotate(-90)">Residual [mm]</text>
<text font-size="27.50" fill="#111111" stroke="#111111" text-anchor="middle" transform="translate(440.70,432.00) rotate(-90)">Elevation [deg]</text>
<rect x="108.50" y="507.10" width="217" height="22.1" fill="#fff" stroke="#111111" stroke-width="1.2"/>
<line x1="112.00" y1="518.95" x2="139.50" y2="518.95" stroke="#ff0000" stroke-width="3" stroke-dasharray="3,2.5"/>
<text font-size="17" fill="#111111" x="142.00" y="523.90">raw</text>
<rect x="186.00" y="517.95" width="2" height="2" fill="#0808dc"/>
<text font-size="17" fill="#111111" x="204.00" y="523.90">SF</text>
<line x1="229.00" y1="518.95" x2="255.50" y2="518.95" stroke="#0808dc" stroke-width="3"/>
<text font-size="17" fill="#111111" x="258.50" y="523.90">elevation</text>
<line x1="613.33" y1="323.60" x2="613.33" y2="543.10" stroke="#dedede" stroke-width="1"/>
<line x1="694.16" y1="323.60" x2="694.16" y2="543.10" stroke="#dedede" stroke-width="1"/>
<line x1="774.99" y1="323.60" x2="774.99" y2="543.10" stroke="#dedede" stroke-width="1"/>
<line x1="532.50" y1="469.93" x2="815.40" y2="469.93" stroke="#dcdcf8" stroke-width="1"/>
<line x1="532.50" y1="396.77" x2="815.40" y2="396.77" stroke="#dcdcf8" stroke-width="1"/>
<clipPath id="c5648"><rect x="532.5" y="323.6" width="282.9" height="219.5"/></clipPath>
<g clip-path="url(#c5648)">
<path d="M532.5,469.3L533.3,471.3L534.1,468.1L534.9,471.5L535.7,469.0L536.5,472.6L537.3,470.5L538.2,472.6L539.0,471.5L539.8,472.7L540.6,469.5L541.4,471.9L542.2,469.7L543.0,473.0L543.8,470.8L544.6,474.6L545.4,474.0L546.2,477.7L547.0,474.8L547.9,474.8L548.7,470.7L549.5,473.2L550.3,470.7L551.1,472.8L551.9,469.5L552.7,471.2L553.5,468.6L554.3,470.0L555.1,467.6L555.9,471.0L556.7,468.4L557.6,471.9L558.4,468.8L559.2,473.8L560.0,469.0L560.8,465.4L561.6,450.7L562.4,464.6L563.2,468.1L564.0,479.1L564.8,477.1L565.6,488.7L566.4,478.3L567.3,484.0L568.1,478.7L568.9,480.3L569.7,473.6L570.5,480.6L571.3,471.3L572.1,477.5L572.9,472.7L573.7,474.7L574.5,469.3L575.3,472.4L576.1,468.2L577.0,472.2L577.8,468.1L578.6,472.3L579.4,468.9L580.2,471.7L581.0,468.2L581.8,473.1L582.6,470.6L583.4,472.2L584.2,470.0L585.0,473.3L585.8,470.6L586.7,473.9L587.5,469.5L588.3,473.1L589.1,470.8L589.9,473.0L590.7,471.1L591.5,472.5L592.3,461.1L593.1,470.4L593.9,452.0L594.7,455.6L595.5,450.5L596.4,465.2L597.2,456.1L598.0,466.3L598.8,463.0L599.6,468.0L600.4,453.7L601.2,460.0L602.0,441.7L602.8,451.2L603.6,445.2L604.4,463.2L605.2,460.0L606.1,474.7L606.9,463.8L607.7,479.4L608.5,468.8L609.3,483.4L610.1,471.5L610.9,483.3L611.7,480.6L612.5,493.2L613.3,483.9L614.1,489.0L614.9,477.3L615.8,489.1L616.6,474.1L617.4,479.5L618.2,471.2L619.0,483.0L619.8,475.1L620.6,482.2L621.4,480.8L622.2,495.4L623.0,481.2L623.8,493.8L624.6,479.5L625.5,485.3L626.3,470.8L627.1,476.6L627.9,467.7L628.7,468.9L629.5,463.5L630.3,469.3L631.1,458.7L631.9,471.2L632.7,473.3L633.5,485.5L634.3,482.0L635.2,491.3L636.0,476.8L636.8,485.8L637.6,475.9L638.4,477.5L639.2,468.0L640.0,474.2L640.8,458.6L641.6,470.3L642.4,452.7L643.2,465.5L644.0,452.2L644.9,460.3L645.7,456.7L646.5,469.4L647.3,459.0L648.1,468.7L648.9,462.8L649.7,479.9L650.5,469.7L651.3,483.6L652.1,471.7L652.9,473.5L653.7,459.1L654.6,465.3L655.4,453.0L656.2,461.5L657.0,447.1L657.8,457.7L658.6,449.3L659.4,461.3L660.2,449.5L661.0,458.8L661.8,449.0L662.6,462.6L663.4,453.8L664.3,465.1L665.1,455.9L665.9,462.3L666.7,452.3L667.5,468.4L668.3,458.9L669.1,476.4L669.9,466.9L670.7,481.0L671.5,469.7L672.3,486.0L673.1,478.5L674.0,486.4L674.8,479.3L675.6,486.3L676.4,477.3L677.2,484.2L678.0,479.3L678.8,486.2L679.6,474.0L680.4,483.4L681.2,471.5L682.0,486.4L682.8,466.6L683.6,470.5L684.5,456.0L685.3,462.7L686.1,444.2L686.9,455.6L687.7,445.9L688.5,454.8L689.3,444.6L690.1,458.2L690.9,446.8L691.7,459.3L692.5,447.5L693.3,455.8L694.2,445.7L695.0,457.7L695.8,451.1L696.6,460.5L697.4,449.5L698.2,460.7L699.0,463.2L699.8,484.9L700.6,470.9L701.4,482.5L702.2,469.7L703.0,483.1L703.9,468.6L704.7,471.5L705.5,460.6L706.3,465.7L707.1,446.5L707.9,455.4L708.7,440.6L709.5,448.2L710.3,434.2L711.1,438.5L711.9,436.5L712.7,447.5L713.6,442.6L714.4,452.2L715.2,445.6L716.0,449.9L716.8,437.3L717.6,442.9L718.4,433.8L719.2,438.6L720.0,425.8L720.8,427.7L721.6,416.9L722.4,421.2L723.3,412.1L724.1,411.5L724.9,402.9L725.7,405.4L726.5,397.2L727.3,397.5L728.1,390.2L728.9,394.4L729.7,391.7L730.5,400.7" fill="none" stroke="#ff0000" stroke-width="3.4" stroke-linejoin="round" stroke-dasharray="none"/>
<path d="M764.5,465.7L765.3,464.3L766.1,450.2L767.0,454.9L767.8,445.8L768.6,455.2L769.4,443.9L770.3,458.0L771.1,450.4L771.9,463.0L772.8,455.2L773.6,468.2L774.4,467.5L775.2,479.0L776.1,473.4L776.9,480.4L777.7,472.4L778.5,483.3L779.4,475.3L780.2,483.8L781.0,474.5L781.9,487.6L782.7,481.0L783.5,489.9L784.3,476.5L785.2,490.7L786.0,479.9L786.8,487.7L787.6,482.7L788.5,491.6L789.3,479.5L790.1,486.5L791.0,477.1L791.8,488.9L792.6,479.1L793.4,487.7L794.3,480.3L795.1,487.2L795.9,482.1L796.8,489.5L797.6,477.8L798.4,486.1L799.2,477.4" fill="none" stroke="#ff0000" stroke-width="3.4" stroke-linejoin="round" stroke-dasharray="none"/>
<path d="M532.5,468.7L532.7,469.0L533.0,471.0L533.2,469.1L533.5,469.2L533.7,470.7L534.0,469.1L534.2,470.5L534.5,471.0L534.7,469.2L535.0,470.7L535.2,468.1L535.5,470.9L535.7,470.6L536.0,470.6L536.2,471.4L536.5,470.9L536.7,470.8L537.0,472.0L537.2,471.9L537.5,470.6L537.7,471.5L538.0,469.5L538.2,472.0L538.4,469.4L538.7,472.0L538.9,472.2L539.2,470.7L539.4,469.5L539.7,470.1L539.9,471.6L540.2,469.8L540.4,470.0L540.7,471.4L540.9,469.7L541.2,469.0L541.4,469.1L541.7,471.0L541.9,471.2L542.2,471.1L542.4,470.4L542.7,472.2L542.9,472.0L543.2,471.9L543.4,469.8L543.7,469.8L543.9,468.9L544.1,470.9L544.4,470.5L544.6,468.5L544.9,471.3L545.1,470.2L545.4,472.9L545.6,470.7L545.9,474.4L546.1,472.2L546.4,476.1L546.6,474.8L546.9,475.4L547.1,479.0L547.4,477.9L547.6,477.6L547.9,475.4L548.1,474.4L548.4,472.1L548.6,472.7L548.9,471.9L549.1,471.5L549.4,470.0L549.6,471.6L549.8,470.0L550.1,470.9L550.3,470.2L550.6,470.0L550.8,471.7L551.1,469.6L551.3,471.2L551.6,469.6L551.8,470.7L552.1,470.1L552.3,470.9L552.6,472.5L552.8,471.4L553.1,472.5L553.3,470.1L553.6,469.9L553.8,472.3L554.1,470.0L554.3,471.4L554.6,470.4L554.8,470.5L555.1,472.2L555.3,470.4L555.5,473.1L555.8,470.3L556.0,472.2L556.3,470.3L556.5,472.5L556.8,470.1L557.0,472.0L557.3,469.8L557.5,469.9L557.8,469.4L558.0,469.8L558.3,471.8L558.5,471.9L558.8,469.9L559.0,469.7L559.3,469.3L559.5,469.1L559.8,467.2L560.0,472.1L560.3,472.3L560.5,475.1L560.8,466.2L561.0,475.2L561.3,468.0L561.5,468.6L561.7,467.2L562.0,469.8L562.2,475.4L562.5,466.0L562.7,466.1L563.0,477.4L563.2,466.9L563.5,469.8L563.7,467.6L564.0,466.8L564.2,467.4L564.5,473.0L564.7,468.0L565.0,476.1L565.2,473.0L565.5,472.3L565.7,476.7L566.0,467.2L566.2,468.2L566.5,474.6L566.7,477.4L567.0,479.2L567.2,468.1L567.4,477.9L567.7,477.3L567.9,473.7L568.2,464.6L568.4,475.0L568.7,474.8L568.9,473.3L569.2,472.1L569.4,467.0L569.7,475.0L569.9,473.8L570.2,467.5L570.4,476.4L570.7,476.7L570.9,468.3L571.2,469.1L571.4,466.9L571.7,467.6L571.9,468.8L572.2,476.8L572.4,476.0L572.7,474.0L572.9,465.1L573.1,471.5L573.4,473.8L573.6,463.2L573.9,472.4L574.1,476.8L574.4,468.7L574.6,470.4L574.9,475.3L575.1,474.6L575.4,470.8L575.6,473.0L575.9,470.6L576.1,471.2L576.4,469.8L576.6,471.6L576.9,469.6L577.1,470.2L577.4,471.4L577.6,469.8L577.9,471.1L578.1,471.1L578.4,471.5L578.6,470.1L578.8,471.1L579.1,471.4L579.3,472.3L579.6,469.7L579.8,472.0L580.1,469.9L580.3,472.5L580.6,473.0L580.8,470.1L581.1,470.6L581.3,470.2L581.6,471.6L581.8,472.5L582.1,470.0L582.3,469.7L582.6,471.5L582.8,472.4L583.1,471.9L583.3,469.7L583.6,472.3L583.8,471.4L584.1,471.8L584.3,469.7L584.5,469.6L584.8,470.6L585.0,469.8L585.3,469.2L585.5,471.5L585.8,470.4L586.0,469.6L586.3,472.3L586.5,470.1L586.8,471.9L587.0,471.9L587.3,472.0L587.5,471.0L587.8,470.1L588.0,471.5L588.3,470.4L588.5,471.8L588.8,470.0L589.0,471.1L589.3,472.2L589.5,470.8L589.8,470.7L590.0,472.1L590.2,471.4L590.5,471.3L590.7,472.1L591.0,473.9L591.2,474.8L591.5,473.4L591.7,469.3L592.0,467.4L592.2,470.1L592.5,471.1L592.7,468.4L593.0,474.3L593.2,465.5L593.5,469.8L593.7,470.7L594.0,462.8L594.2,471.1L594.5,465.6L594.7,471.1L595.0,464.4L595.2,467.3L595.5,475.3L595.7,466.4L595.9,473.4L596.2,467.8L596.4,466.6L596.7,466.2L596.9,465.4L597.2,467.9L597.4,466.4L597.7,475.7L597.9,469.5L598.2,469.6L598.4,467.4L598.7,474.0L598.9,476.3L599.2,469.3L599.4,472.5L599.7,468.8L599.9,475.1L600.2,474.2L600.4,466.9L600.7,464.8L600.9,466.3L601.2,472.2L601.4,467.5L601.6,465.7L601.9,465.8L602.1,465.5L602.4,470.0L602.6,464.6L602.9,472.8L603.1,465.3L603.4,475.6L603.6,476.0L603.9,474.6L604.1,467.5L604.4,464.4L604.6,473.1L604.9,467.9L605.1,475.0L605.4,472.6L605.6,467.1L605.9,466.6L606.1,466.1L606.4,468.0L606.6,474.2L606.9,465.7L607.1,464.7L607.3,470.3L607.6,462.6L607.8,465.1L608.1,468.3L608.3,476.4L608.6,477.9L608.8,472.7L609.1,472.2L609.3,470.0L609.6,468.5L609.8,465.8L610.1,466.5L610.3,473.0L610.6,472.1L610.8,471.7L611.1,473.0L611.3,465.4L611.6,475.1L611.8,475.0L612.1,468.7L612.3,473.6L612.6,472.5L612.8,468.2L613.1,465.2L613.3,465.3L613.5,469.5L613.8,466.5L614.0,474.4L614.3,477.0L614.5,471.7L614.8,469.2L615.0,478.2L615.3,471.0L615.5,476.2L615.8,467.8L616.0,464.7L616.3,465.7L616.5,466.6L616.8,468.2L617.0,466.6L617.3,468.0L617.5,471.4L617.8,473.7L618.0,474.3L618.3,467.0L618.5,475.5L618.8,471.3L619.0,472.5L619.2,469.9L619.5,470.8L619.7,473.0L620.0,474.5L620.2,466.1L620.5,476.5L620.7,475.8L621.0,478.2L621.2,477.6L621.5,471.9L621.7,475.5L622.0,475.3L622.2,466.0L622.5,470.8L622.7,466.2L623.0,467.1L623.2,471.0L623.5,464.0L623.7,473.9L624.0,470.8L624.2,475.4L624.5,467.3L624.7,470.0L624.9,469.1L625.2,467.7L625.4,467.2L625.7,467.1L625.9,467.6L626.2,465.8L626.4,466.2L626.7,467.4L626.9,474.3L627.2,470.6L627.4,474.2L627.7,469.1L627.9,468.0L628.2,474.5L628.4,472.6L628.7,468.6L628.9,474.8L629.2,466.2L629.4,473.3L629.7,472.6L629.9,467.8L630.2,465.1L630.4,470.7L630.6,466.3L630.9,471.5L631.1,473.1L631.4,471.1L631.6,473.4L631.9,468.8L632.1,477.5L632.4,477.0L632.6,476.7L632.9,470.5L633.1,470.1L633.4,466.0L633.6,474.1L633.9,466.8L634.1,466.2L634.4,466.5L634.6,473.4L634.9,466.1L635.1,466.7L635.4,467.6L635.6,472.4L635.9,469.4L636.1,471.4L636.3,467.9L636.6,466.6L636.8,474.6L637.1,466.3L637.3,474.8L637.6,475.2L637.8,466.7L638.1,474.0L638.3,475.0L638.6,473.8L638.8,464.8L639.1,475.0L639.3,472.7L639.6,465.4L639.8,475.9L640.1,465.9L640.3,475.1L640.6,468.4L640.8,477.4L641.1,478.4L641.3,476.7L641.6,477.5L641.8,475.7L642.0,473.8L642.3,478.7L642.5,471.3L642.8,467.4L643.0,467.9L643.3,468.0L643.5,468.9L643.8,475.2L644.0,473.5L644.3,468.2L644.5,473.1L644.8,472.3L645.0,472.8L645.3,467.0L645.5,469.1L645.8,476.1L646.0,468.1L646.3,472.8L646.5,475.5L646.8,469.9L647.0,466.4L647.3,469.0L647.5,472.8L647.7,476.0L648.0,472.1L648.2,465.5L648.5,474.6L648.7,464.5L649.0,472.0L649.2,465.3L649.5,464.8L649.7,465.4L650.0,467.4L650.2,468.3L650.5,471.9L650.7,466.9L651.0,467.9L651.2,468.0L651.5,474.5L651.7,476.2L652.0,475.7L652.2,475.1L652.5,472.6L652.7,468.9L653.0,467.0L653.2,473.7L653.4,465.9L653.7,474.1L653.9,465.5L654.2,466.9L654.4,474.1L654.7,473.6L654.9,472.8L655.2,473.0L655.4,464.2L655.7,473.4L655.9,470.4L656.2,472.8L656.4,466.1L656.7,464.8L656.9,466.1L657.2,468.5L657.4,474.0L657.7,471.4L657.9,474.5L658.2,468.4L658.4,467.1L658.7,467.6L658.9,471.6L659.1,468.1L659.4,475.1L659.6,473.6L659.9,464.0L660.1,472.7L660.4,473.2L660.6,465.6L660.9,465.9L661.1,472.8L661.4,468.0L661.6,464.6L661.9,465.6L662.1,473.4L662.4,466.8L662.6,468.4L662.9,473.1L663.1,467.7L663.4,475.6L663.6,475.5L663.9,474.8L664.1,468.0L664.4,475.2L664.6,476.6L664.9,468.5L665.1,476.6L665.3,475.1L665.6,465.0L665.8,466.2L666.1,472.8L666.3,465.2L666.6,469.1L666.8,470.0L667.1,470.3L667.3,464.2L667.6,472.6L667.8,463.9L668.1,466.0L668.3,474.0L668.6,465.0L668.8,466.0L669.1,471.9L669.3,471.9L669.6,464.1L669.8,467.6L670.1,471.9L670.3,465.3L670.6,468.1L670.8,470.5L671.0,467.8L671.3,476.0L671.5,476.6L671.8,470.5L672.0,467.1L672.3,474.9L672.5,475.7L672.8,475.1L673.0,476.3L673.3,474.5L673.5,466.6L673.8,466.4L674.0,470.6L674.3,475.5L674.5,473.0L674.8,466.5L675.0,467.0L675.3,468.4L675.5,475.2L675.8,469.8L676.0,475.4L676.3,474.8L676.5,472.7L676.7,468.8L677.0,475.7L677.2,470.9L677.5,468.6L677.7,475.8L678.0,472.2L678.2,475.1L678.5,467.3L678.7,476.0L679.0,468.9L679.2,466.4L679.5,476.2L679.7,476.2L680.0,468.3L680.2,472.6L680.5,473.4L680.7,472.1L681.0,465.7L681.2,468.3L681.5,464.9L681.7,468.6L682.0,470.1L682.2,474.6L682.4,471.7L682.7,474.5L682.9,468.1L683.2,473.5L683.4,465.2L683.7,473.1L683.9,474.3L684.2,464.2L684.4,471.9L684.7,469.1L684.9,474.0L685.2,466.3L685.4,468.8L685.7,477.8L685.9,477.8L686.2,472.4L686.4,469.5L686.7,471.9L686.9,470.3L687.2,475.7L687.4,474.6L687.7,476.3L687.9,470.5L688.1,472.4L688.4,474.6L688.6,468.1L688.9,466.7L689.1,474.8L689.4,474.6L689.6,474.3L689.9,464.8L690.1,463.7L690.4,472.4L690.6,462.6L690.9,463.4L691.1,472.0L691.4,467.1L691.6,473.4L691.9,477.5L692.1,475.0L692.4,474.9L692.6,474.7L692.9,470.1L693.1,471.3L693.4,471.4L693.6,468.7L693.8,469.0L694.1,475.5L694.3,465.8L694.6,468.6L694.8,474.9L695.1,475.1L695.3,466.7L695.6,468.1L695.8,474.0L696.1,469.2L696.3,477.9L696.6,468.2L696.8,475.5L697.1,468.9L697.3,469.6L697.6,466.6L697.8,473.0L698.1,474.9L698.3,476.2L698.6,473.0L698.8,473.5L699.1,474.8L699.3,469.0L699.5,467.1L699.8,475.8L700.0,475.8L700.3,467.7L700.5,465.3L700.8,466.9L701.0,475.3L701.3,475.3L701.5,470.8L701.8,475.9L702.0,472.9L702.3,471.9L702.5,465.2L702.8,467.9L703.0,465.9L703.3,471.5L703.5,471.3L703.8,475.0L704.0,466.9L704.3,474.9L704.5,474.9L704.8,465.9L705.0,468.2L705.2,464.1L705.5,472.3L705.7,463.8L706.0,472.9L706.2,464.0L706.5,473.3L706.7,468.7L707.0,467.4L707.2,471.9L707.5,467.3L707.7,468.7L708.0,468.7L708.2,465.2L708.5,468.8L708.7,464.7L709.0,464.8L709.2,467.3L709.5,471.7L709.7,464.9L710.0,465.0L710.2,463.5L710.5,465.9L710.7,464.1L711.0,468.5L711.2,465.9L711.4,472.4L711.7,475.1L711.9,468.1L712.2,477.2L712.4,475.4L712.7,467.1L712.9,465.5L713.2,471.5L713.4,466.8L713.7,471.1L713.9,471.9L714.2,465.0L714.4,473.2L714.7,467.3L714.9,466.1L715.2,473.8L715.4,467.2L715.7,475.6L715.9,475.0L716.2,477.5L716.4,476.1L716.7,468.4L716.9,472.6L717.1,472.0L717.4,468.4L717.6,472.0L717.9,468.1L718.1,467.7L718.4,475.3L718.6,472.4L718.9,475.3L719.1,476.8L719.4,468.5L719.6,466.3L719.9,467.2L720.1,472.2L720.4,475.1L720.6,466.1L720.9,469.7L721.1,466.5L721.4,473.8L721.6,468.1L721.9,466.8L722.1,467.3L722.4,473.7L722.6,466.4L722.8,468.8L723.1,476.4L723.3,476.7L723.6,468.8L723.8,476.1L724.1,475.4L724.3,471.4L724.6,476.1L724.8,476.8L725.1,475.2L725.3,475.5L725.6,474.9L725.8,467.5L726.1,475.5L726.3,471.3L726.6,466.0L726.8,468.3L727.1,475.4L727.3,475.8L727.6,466.9L727.8,467.9L728.1,468.3L728.3,473.0L728.5,472.7L728.8,472.1L729.0,473.0L729.3,467.3L729.5,475.0L729.8,473.1L730.0,468.1L730.3,469.7L730.5,473.9" fill="none" stroke="#0000dc" stroke-width="3" stroke-linejoin="round"/>
<path d="M764.5,467.0L764.7,459.8L765.0,460.0L765.2,464.0L765.5,472.8L765.7,471.0L766.0,464.8L766.2,462.4L766.5,470.3L766.7,471.7L767.0,466.3L767.2,463.2L767.5,472.1L767.7,463.6L768.0,462.4L768.2,466.1L768.5,468.1L768.7,459.1L769.0,460.3L769.2,470.5L769.5,473.0L769.7,471.7L770.0,470.1L770.2,473.2L770.5,471.5L770.7,465.0L771.0,464.7L771.2,464.1L771.5,464.1L771.7,472.3L772.0,467.9L772.2,465.8L772.5,468.3L772.7,469.5L773.0,467.2L773.2,465.9L773.5,465.6L773.7,474.5L774.0,475.3L774.2,473.3L774.5,464.6L774.7,472.7L775.0,464.7L775.2,466.3L775.5,462.2L775.7,474.0L776.0,463.4L776.2,474.4L776.5,465.1L776.7,466.8L777.0,473.1L777.2,473.8L777.5,473.5L777.7,472.7L778.0,477.9L778.2,474.8L778.5,478.8L778.7,472.8L779.0,471.4L779.2,476.3L779.5,475.4L779.7,474.5L780.0,475.7L780.2,481.9L780.5,481.2L780.7,479.3L781.0,467.1L781.2,473.0L781.5,469.0L781.7,478.2L782.0,472.5L782.2,476.0L782.5,479.7L782.7,480.3L783.0,480.8L783.2,471.9L783.5,471.6L783.7,469.8L784.0,478.8L784.2,474.5L784.5,471.5L784.7,473.9L785.0,469.5L785.2,480.9L785.5,468.8L785.7,477.9L786.0,470.8L786.2,474.9L786.5,474.5L786.7,468.7L787.0,480.6L787.2,481.1L787.5,467.5L787.7,474.6L788.0,476.3L788.2,480.4L788.5,475.4L788.7,472.8L789.0,470.4L789.2,479.2L789.5,481.8L789.7,470.4L790.0,479.2L790.2,470.3L790.5,469.0L790.7,467.2L791.0,480.1L791.2,479.6L791.5,478.6L791.7,470.9L792.0,479.2L792.2,479.3L792.5,470.9L792.7,482.4L793.0,481.7L793.2,480.8L793.5,472.7L793.7,478.3L794.0,476.9L794.2,475.1L794.5,474.5L794.7,479.9L795.0,483.6L795.2,471.6L795.5,470.1L795.7,473.0L796.0,478.9L796.2,467.3L796.5,481.5L796.7,469.5L797.0,472.9L797.2,481.0L797.5,473.4L797.7,473.4L798.0,481.4L798.2,474.3L798.5,466.7L798.7,467.7L799.0,476.8L799.2,475.7" fill="none" stroke="#0000dc" stroke-width="3" stroke-linejoin="round"/>
<path d="M532.5,468.6L533.0,468.5L533.5,468.6L534.0,468.6L534.5,468.5L535.0,468.4L535.5,468.7L536.0,469.1L536.5,469.5L537.0,469.6L537.5,469.7L538.0,469.6L538.5,469.6L539.0,469.6L539.4,469.5L539.9,469.2L540.4,468.8L540.9,468.5L541.4,468.5L541.9,468.5L542.4,468.8L542.9,469.0L543.4,469.4L543.9,469.7L544.4,469.8L544.9,470.3L545.4,471.2L545.9,472.2L546.4,473.2L546.9,474.2L547.4,473.6L547.9,472.1L548.4,470.6L548.9,469.8L549.4,469.8L549.9,469.6L550.4,469.5L550.9,469.7L551.4,470.0L551.9,470.4L552.4,470.3L552.8,470.0L553.3,469.8L553.8,469.8L554.3,470.1L554.8,470.2L555.3,470.2L555.8,469.9L556.3,469.8L556.8,469.8L557.3,469.7L557.8,469.3L558.3,469.2L558.8,469.4L559.3,469.3L559.8,468.4L560.3,467.4L560.8,466.9L561.3,468.3L561.8,469.3L562.3,469.3L562.8,468.6L563.3,466.8L563.8,465.2L564.3,464.3L564.8,464.3L565.3,464.2L565.8,463.9L566.2,464.2L566.7,465.5L567.2,466.3L567.7,465.8L568.2,465.3L568.7,466.1L569.2,468.1L569.7,469.3L570.2,469.3L570.7,469.3L571.2,467.9L571.7,465.5L572.2,464.6L572.7,465.0L573.2,465.3L573.7,464.9L574.2,464.4L574.7,465.6L575.2,468.7L575.7,469.6L576.2,469.7L576.7,469.7L577.2,469.8L577.7,469.9L578.2,469.9L578.7,469.9L579.2,469.8L579.6,469.7L580.1,469.6L580.6,469.6L581.1,469.7L581.6,469.6L582.1,469.7L582.6,469.9L583.1,470.3L583.6,470.4L584.1,470.2L584.6,470.0L585.1,469.8L585.6,469.4L586.1,469.1L586.6,469.1L587.1,469.2L587.6,469.4L588.1,469.4L588.6,469.3L589.1,469.4L589.6,469.6L590.1,469.7L590.6,469.7L591.1,469.0L591.6,468.1L592.1,466.9L592.6,465.9L593.1,465.5L593.5,465.4L594.0,465.7L594.5,466.5L595.0,467.2L595.5,467.2L596.0,466.6L596.5,465.3L597.0,464.0L597.5,464.1L598.0,465.5L598.5,466.9L599.0,467.6L599.5,467.6L600.0,467.2L600.5,466.9L601.0,466.9L601.5,466.8L602.0,466.8L602.5,466.7L603.0,466.7L603.5,467.0L604.0,467.4L604.5,467.2L605.0,466.3L605.5,465.1L606.0,464.4L606.5,464.6L606.9,465.2L607.4,465.7L607.9,466.2L608.4,466.5L608.9,466.3L609.4,465.5L609.9,464.5L610.4,463.8L610.9,463.8L611.4,463.8L611.9,463.5L612.4,463.8L612.9,464.9L613.4,465.9L613.9,466.3L614.4,466.8L614.9,467.2L615.4,467.2L615.9,467.3L616.4,468.0L616.9,468.3L617.4,467.3L617.9,466.3L618.4,466.3L618.9,467.0L619.4,467.6L619.9,467.4L620.3,466.7L620.8,466.3L621.3,465.8L621.8,465.0L622.3,464.6L622.8,465.4L623.3,466.4L623.8,466.6L624.3,465.7L624.8,464.3L625.3,463.7L625.8,464.5L626.3,465.7L626.8,466.4L627.3,466.9L627.8,467.6L628.3,468.4L628.8,468.7L629.3,467.9L629.8,466.3L630.3,464.9L630.8,464.6L631.3,465.0L631.8,465.6L632.3,465.7L632.8,465.5L633.3,465.7L633.7,466.5L634.2,467.0L634.7,466.8L635.2,466.5L635.7,466.4L636.2,466.6L636.7,466.6L637.2,465.9L637.7,464.3L638.2,463.1L638.7,463.2L639.2,464.2L639.7,465.2L640.2,466.1L640.7,466.6L641.2,466.5L641.7,465.4L642.2,464.5L642.7,464.7L643.2,465.7L643.7,466.4L644.2,466.8L644.7,467.0L645.2,467.1L645.7,466.6L646.2,465.7L646.7,465.1L647.1,464.9L647.6,464.9L648.1,464.8L648.6,464.9L649.1,465.5L649.6,466.2L650.1,466.8L650.6,467.0L651.1,466.9L651.6,466.1L652.1,464.9L652.6,464.0L653.1,463.6L653.6,463.5L654.1,463.7L654.6,464.1L655.1,465.1L655.6,466.4L656.1,467.4L656.6,467.1L657.1,465.9L657.6,465.1L658.1,464.8L658.6,464.6L659.1,464.8L659.6,465.7L660.1,466.8L660.5,467.1L661.0,466.0L661.5,464.5L662.0,463.8L662.5,464.4L663.0,465.3L663.5,465.4L664.0,464.9L664.5,464.9L665.0,465.2L665.5,465.5L666.0,465.9L666.5,466.4L667.0,466.7L667.5,466.5L668.0,466.4L668.5,466.7L669.0,467.5L669.5,467.9L670.0,467.1L670.5,465.4L671.0,464.4L671.5,464.7L672.0,466.2L672.5,467.7L673.0,468.0L673.5,467.0L674.0,465.7L674.4,464.7L674.9,464.0L675.4,464.0L675.9,464.4L676.4,465.0L676.9,465.6L677.4,466.2L677.9,466.3L678.4,466.0L678.9,465.8L679.4,466.0L679.9,466.4L680.4,466.6L680.9,466.2L681.4,465.5L681.9,465.3L682.4,465.7L682.9,466.2L683.4,466.9L683.9,468.0L684.4,468.7L684.9,468.0L685.4,466.5L685.9,465.7L686.4,466.1L686.9,467.1L687.4,467.4L687.8,467.1L688.3,467.2L688.8,467.6L689.3,467.5L689.8,466.7L690.3,465.9L690.8,465.9L691.3,466.7L691.8,467.7L692.3,467.8L692.8,467.1L693.3,466.7L693.8,466.7L694.3,466.3L694.8,465.7L695.3,465.7L695.8,466.6L696.3,467.6L696.8,468.0L697.3,467.9L697.8,467.7L698.3,467.7L698.8,467.7L699.3,467.7L699.8,467.3L700.3,466.7L700.8,466.5L701.2,466.7L701.7,466.8L702.2,466.4L702.7,466.0L703.2,465.7L703.7,464.7L704.2,463.1L704.7,463.1L705.2,463.1L705.7,463.1L706.2,463.1L706.7,463.5L707.2,464.0L707.7,464.3L708.2,464.5L708.7,464.9L709.2,465.1L709.7,465.1L710.2,465.1L710.7,465.3L711.2,465.6L711.7,465.8L712.2,465.3L712.7,464.3L713.2,463.7L713.7,463.9L714.2,464.4L714.6,464.8L715.1,464.8L715.6,464.6L716.1,464.3L716.6,463.9L717.1,463.6L717.6,463.5L718.1,463.8L718.6,464.4L719.1,465.2L719.6,465.4L720.1,465.4L720.6,465.7L721.1,465.8L721.6,465.3L722.1,464.4L722.6,463.7L723.1,463.4L723.6,463.5L724.1,464.5L724.6,466.1L725.1,467.5L725.6,468.3L726.1,468.8L726.6,469.0L727.1,469.0L727.6,469.0L728.0,469.0L728.5,469.0L729.0,467.8L729.5,466.2L730.0,465.4L730.5,465.4L730.5,473.5L730.0,474.3L729.5,474.9L729.0,475.2L728.5,475.2L728.0,474.6L727.6,473.8L727.1,473.5L726.6,474.3L726.1,475.5L725.6,476.2L725.1,476.5L724.6,476.9L724.1,476.8L723.6,476.3L723.1,476.0L722.6,476.6L722.1,477.5L721.6,478.1L721.1,477.9L720.6,477.5L720.1,477.1L719.6,476.6L719.1,476.1L718.6,476.2L718.1,476.6L717.6,476.9L717.1,477.0L716.6,476.8L716.1,476.1L715.6,474.8L715.1,473.9L714.6,473.7L714.2,474.0L713.7,474.4L713.2,474.6L712.7,474.4L712.2,474.2L711.7,473.8L711.2,473.4L710.7,473.8L710.2,475.2L709.7,476.2L709.2,475.9L708.7,474.9L708.2,474.1L707.7,473.7L707.2,474.0L706.7,474.7L706.2,475.3L705.7,475.7L705.2,476.2L704.7,476.6L704.2,476.3L703.7,475.8L703.2,475.8L702.7,475.8L702.2,475.3L701.7,474.4L701.2,473.6L700.8,473.8L700.3,474.8L699.8,475.6L699.3,475.9L698.8,476.1L698.3,476.1L697.8,476.3L697.3,477.1L696.8,478.0L696.3,478.0L695.8,477.2L695.3,476.7L694.8,477.2L694.3,478.2L693.8,478.2L693.3,478.2L692.8,478.2L692.3,477.7L691.8,476.2L691.3,475.0L690.8,474.9L690.3,475.5L689.8,476.5L689.3,477.4L688.8,477.4L688.3,476.0L687.8,474.3L687.4,473.4L686.9,473.5L686.4,473.5L685.9,472.8L685.4,472.4L684.9,472.9L684.4,473.8L683.9,474.3L683.4,474.6L682.9,475.0L682.4,475.8L681.9,476.7L681.4,477.4L680.9,477.7L680.4,477.8L679.9,477.5L679.4,476.9L678.9,476.3L678.4,475.9L677.9,475.5L677.4,475.4L676.9,476.0L676.4,477.1L675.9,477.9L675.4,477.8L674.9,477.1L674.4,476.7L674.0,476.8L673.5,476.7L673.0,476.3L672.5,476.3L672.0,477.0L671.5,478.1L671.0,478.2L670.5,478.2L670.0,477.6L669.5,475.4L669.0,474.1L668.5,473.9L668.0,474.1L667.5,474.1L667.0,473.8L666.5,473.5L666.0,473.5L665.5,474.0L665.0,474.5L664.5,474.3L664.0,474.2L663.5,474.8L663.0,475.8L662.5,476.2L662.0,475.5L661.5,474.3L661.0,473.4L660.5,473.7L660.1,474.4L659.6,474.6L659.1,474.8L658.6,475.7L658.1,476.7L657.6,476.9L657.1,476.4L656.6,475.9L656.1,476.0L655.6,476.5L655.1,477.4L654.6,478.2L654.1,478.2L653.6,478.2L653.1,478.2L652.6,477.7L652.1,477.1L651.6,476.1L651.1,475.1L650.6,474.8L650.1,475.2L649.6,475.6L649.1,475.5L648.6,474.9L648.1,474.6L647.6,475.0L647.1,476.1L646.7,476.8L646.2,476.2L645.7,474.8L645.2,473.6L644.7,472.9L644.2,472.7L643.7,473.3L643.2,474.0L642.7,474.1L642.2,474.0L641.7,474.0L641.2,474.2L640.7,474.8L640.2,475.7L639.7,476.4L639.2,476.0L638.7,475.0L638.2,474.4L637.7,474.7L637.2,475.1L636.7,475.5L636.2,475.5L635.7,475.0L635.2,474.2L634.7,474.1L634.2,474.9L633.7,475.9L633.3,476.1L632.8,475.4L632.3,474.7L631.8,474.6L631.3,475.0L630.8,475.5L630.3,476.2L629.8,477.0L629.3,477.2L628.8,477.2L628.3,477.5L627.8,478.0L627.3,478.2L626.8,477.6L626.3,476.5L625.8,475.7L625.3,475.9L624.8,476.3L624.3,476.1L623.8,475.6L623.3,475.6L622.8,476.1L622.3,476.4L621.8,475.8L621.3,474.4L620.8,473.5L620.3,473.8L619.9,474.9L619.4,476.0L618.9,476.4L618.4,476.4L617.9,476.5L617.4,476.5L616.9,476.1L616.4,475.6L615.9,475.2L615.4,474.9L614.9,474.9L614.4,475.5L613.9,476.3L613.4,476.4L612.9,476.0L612.4,475.7L611.9,475.7L611.4,475.3L610.9,474.6L610.4,473.8L609.9,473.2L609.4,473.0L608.9,473.8L608.4,475.3L607.9,476.7L607.4,477.4L606.9,477.1L606.5,475.9L606.0,474.7L605.5,474.2L605.0,474.1L604.5,474.4L604.0,475.1L603.5,475.7L603.0,475.4L602.5,474.1L602.0,472.6L601.5,472.3L601.0,472.8L600.5,473.6L600.0,473.7L599.5,473.6L599.0,474.4L598.5,476.1L598.0,477.5L597.5,477.8L597.0,477.3L596.5,477.1L596.0,477.2L595.5,477.2L595.0,476.8L594.5,476.5L594.0,476.5L593.5,476.8L593.1,477.0L592.6,476.2L592.1,474.7L591.6,473.6L591.1,473.0L590.6,472.5L590.1,472.5L589.6,472.4L589.1,472.4L588.6,472.5L588.1,472.6L587.6,472.6L587.1,472.3L586.6,471.8L586.1,471.6L585.6,471.6L585.1,471.8L584.6,471.8L584.1,471.8L583.6,471.7L583.1,471.8L582.6,471.9L582.1,472.0L581.6,472.1L581.1,472.1L580.6,472.0L580.1,471.8L579.6,471.8L579.2,471.9L578.7,472.3L578.2,472.7L577.7,472.8L577.2,472.6L576.7,472.2L576.2,471.8L575.7,471.6L575.2,471.9L574.7,474.1L574.2,476.0L573.7,476.2L573.2,476.2L572.7,476.7L572.2,477.2L571.7,477.3L571.2,477.4L570.7,477.4L570.2,477.3L569.7,477.2L569.2,477.3L568.7,477.6L568.2,477.7L567.7,477.3L567.2,476.7L566.7,476.6L566.2,476.6L565.8,476.4L565.3,476.3L564.8,475.8L564.3,474.2L563.8,472.8L563.3,472.8L562.8,472.8L562.3,472.8L561.8,473.2L561.3,474.1L560.8,474.8L560.3,474.3L559.8,473.4L559.3,472.5L558.8,472.4L558.3,472.5L557.8,472.4L557.3,472.1L556.8,472.0L556.3,472.0L555.8,472.1L555.3,472.2L554.8,472.2L554.3,472.1L553.8,472.0L553.3,471.9L552.8,471.9L552.4,472.2L551.9,472.5L551.4,472.8L550.9,473.0L550.4,473.0L549.9,472.8L549.4,472.3L548.9,472.0L548.4,473.1L547.9,475.3L547.4,477.5L546.9,478.4L546.4,476.8L545.9,475.2L545.4,473.8L544.9,472.5L544.4,471.7L543.9,471.6L543.4,471.4L542.9,471.3L542.4,471.3L541.9,471.4L541.4,471.6L540.9,471.6L540.4,471.6L539.9,471.7L539.4,471.7L539.0,471.8L538.5,471.8L538.0,471.6L537.5,471.4L537.0,471.4L536.5,471.7L536.0,471.9L535.5,471.7L535.0,471.3L534.5,471.1L534.0,471.0L533.5,470.9L533.0,471.0L532.5,471.1Z" fill="#0000dc" stroke="none"/>
<path d="M764.5,460.0L764.9,459.3L765.4,459.3L765.8,459.4L766.2,461.8L766.7,463.8L767.1,464.8L767.6,464.3L768.0,463.2L768.4,462.9L768.9,464.3L769.3,465.9L769.8,466.1L770.2,464.8L770.6,463.7L771.1,463.9L771.5,464.1L772.0,463.4L772.4,462.8L772.8,462.9L773.3,462.7L773.7,462.2L774.2,462.6L774.6,464.0L775.0,465.3L775.5,465.7L775.9,465.9L776.4,466.7L776.8,467.2L777.2,467.1L777.7,468.0L778.1,469.6L778.6,469.7L779.0,468.0L779.4,466.6L779.9,466.4L780.3,466.8L780.8,467.0L781.2,467.0L781.6,467.7L782.1,469.1L782.5,470.7L783.0,471.3L783.4,470.6L783.8,468.8L784.3,466.8L784.7,465.4L785.2,465.1L785.6,465.8L786.0,466.8L786.5,467.8L786.9,468.7L787.4,469.5L787.8,469.5L788.2,469.0L788.7,468.7L789.1,468.6L789.6,468.3L790.0,467.9L790.4,468.2L790.9,469.0L791.3,469.8L791.8,470.2L792.2,469.8L792.6,468.9L793.1,468.8L793.5,469.1L794.0,468.6L794.4,467.8L794.8,467.4L795.3,467.5L795.7,467.2L796.2,466.4L796.6,466.2L797.0,467.3L797.5,468.8L797.9,469.1L798.4,468.1L798.8,466.6L799.2,465.1L799.2,478.6L798.8,481.0L798.4,482.6L797.9,483.4L797.5,482.9L797.0,481.5L796.6,480.8L796.2,480.7L795.7,480.6L795.3,480.7L794.8,480.8L794.4,481.5L794.0,483.0L793.5,484.5L793.1,484.6L792.6,483.5L792.2,481.9L791.8,480.1L791.3,478.8L790.9,478.7L790.4,479.4L790.0,479.8L789.6,479.2L789.1,478.3L788.7,478.3L788.2,478.7L787.8,479.0L787.4,479.3L786.9,479.7L786.5,479.9L786.0,480.3L785.6,480.9L785.2,480.9L784.7,480.0L784.3,478.5L783.8,476.7L783.4,475.9L783.0,475.8L782.5,475.7L782.1,476.4L781.6,477.4L781.2,477.4L780.8,477.5L780.3,478.2L779.9,478.6L779.4,478.7L779.0,479.0L778.6,479.5L778.1,479.8L777.7,479.6L777.2,478.9L776.8,478.4L776.4,478.6L775.9,479.0L775.5,479.0L775.0,478.7L774.6,478.4L774.2,478.5L773.7,478.7L773.3,478.2L772.8,477.0L772.4,475.3L772.0,473.9L771.5,473.3L771.1,473.4L770.6,473.8L770.2,473.7L769.8,473.5L769.3,473.6L768.9,473.8L768.4,473.2L768.0,472.3L767.6,472.1L767.1,472.7L766.7,473.1L766.2,472.6L765.8,472.2L765.4,472.7L764.9,473.5L764.5,473.5Z" fill="#0000dc" stroke="none"/>
<path d="M547.0,464.8L547.7,465.3L548.4,465.6L549.1,464.0L549.8,464.6L550.5,463.0L551.1,463.4L551.8,463.5L552.5,465.8L553.2,464.3L553.9,464.1L554.5,465.8L555.2,464.5L555.9,464.9L556.6,465.3L557.3,463.6L557.9,464.7L558.6,465.6L559.3,464.8L560.0,463.2" fill="none" stroke="#0000dc" stroke-width="2.6" stroke-linejoin="round"/>
<path d="M682.0,446.5L682.1,449.6L682.2,452.4L682.4,453.6L682.5,455.7L682.6,458.9L682.7,460.2L682.8,463.6L682.9,465.3L683.0,468.5L683.1,468.4L683.2,466.4L683.3,464.8L683.4,460.6L683.5,457.6L683.6,455.5L683.7,453.9L683.8,452.4L683.9,449.6L684.1,446.0" fill="none" stroke="#0000dc" stroke-width="2.6" stroke-linejoin="round"/>
<path d="M729.3,450.1L729.4,454.0L729.4,453.3L729.5,456.0L729.6,458.1L729.6,459.3L729.7,462.4L729.8,464.9L729.8,467.7L729.9,468.4L730.0,468.3L730.0,465.5L730.1,463.6L730.1,462.8L730.2,459.7L730.3,457.4L730.3,456.9L730.4,454.3L730.5,452.3L730.5,450.6" fill="none" stroke="#0000dc" stroke-width="2.6" stroke-linejoin="round"/>
<path d="M799.2,450.6L799.3,455.1L799.4,458.9L799.5,462.2L799.6,465.1L799.7,468.6L799.8,471.9L799.9,477.1L800.0,480.2L800.1,484.1L800.2,486.1L800.3,480.0L800.4,478.2L800.5,473.5L800.6,469.8L800.7,465.8L800.8,461.9L800.9,457.9L801.0,456.0L801.1,451.3L801.2,453.6L801.3,457.3L801.4,459.6L801.5,463.4L801.6,467.2L801.7,472.7L801.8,473.9L801.9,478.6L802.0,482.8L802.1,485.2" fill="none" stroke="#0000dc" stroke-width="2.6" stroke-linejoin="round"/>
<path d="M572.1,472.9L572.2,477.4L572.2,481.1L572.3,483.5L572.4,484.3L572.4,487.9L572.5,493.9L572.6,496.3L572.6,499.0L572.7,499.7L572.7,504.8L572.8,508.6L572.9,509.2L572.9,512.2L573.0,517.4L573.1,520.3L573.1,522.0L573.2,526.8L573.3,528.0L573.3,532.3" fill="none" stroke="#0000dc" stroke-width="3.2" stroke-linejoin="round"/>
<path d="M532.6,509.6L534.3,506.7L536.0,503.7L537.6,500.8L539.3,497.9L541.0,495.1L542.7,492.3L544.3,489.5L546.0,486.7L547.7,484.0L549.4,481.3L551.0,478.7L552.7,476.0L554.4,473.4L556.1,470.9L557.7,468.3L559.4,465.8L561.1,463.3L562.8,460.9L564.4,458.5L566.1,456.1L567.8,453.8L569.5,451.5L571.2,449.2L572.8,446.9L574.5,444.7L576.2,442.5L577.9,440.4L579.5,438.3L581.2,436.2L582.9,434.2L584.6,432.1L586.2,430.2L587.9,428.2L589.6,426.3L591.3,424.4L592.9,422.6L594.6,420.8L596.3,419.0L598.0,417.3L599.6,415.5L601.3,413.9L603.0,412.2L604.7,410.6L606.3,409.1L608.0,407.5L609.7,406.0L611.4,404.6L613.1,403.2L614.7,401.8L616.4,400.4L618.1,399.1L619.8,397.8L621.4,396.6L623.1,395.4L624.8,394.2L626.5,393.1L628.1,392.0L629.8,390.9L631.5,389.9L633.2,388.9L634.8,387.9L636.5,387.0L638.2,386.1L639.9,385.3L641.5,384.5L643.2,383.7L644.9,383.0L646.6,382.3L648.3,381.7L649.9,381.0L651.6,380.5L653.3,379.9L655.0,379.4L656.6,379.0L658.3,378.6L660.0,378.2L661.7,377.8L663.3,377.5L665.0,377.3L666.7,377.0L668.4,376.9L670.0,376.7L671.7,376.6L673.4,376.5L675.1,376.5L676.7,376.5L678.4,376.6L680.1,376.7L681.8,376.8L683.4,377.0L685.1,377.2L686.8,377.5L688.5,377.7L690.2,378.1L691.8,378.4L693.5,378.8L695.2,379.3L696.9,379.7L698.5,380.3L700.2,380.8L701.9,381.4L703.6,382.0L705.2,382.7L706.9,383.3L708.6,384.1L710.3,384.8L711.9,385.6L713.6,386.4L715.3,387.3L717.0,388.1L718.6,389.0L720.3,390.0L722.0,391.0L723.7,392.0L725.4,393.0L727.0,394.1L728.7,395.2L730.4,396.3L732.1,397.4L733.7,398.6L735.4,399.8L737.1,401.1L738.8,402.3L740.4,403.6L742.1,404.9L743.8,406.3L745.5,407.6L747.1,409.0L748.8,410.4L750.5,411.9L752.2,413.4L753.8,414.8L755.5,416.4L757.2,417.9L758.9,419.5L760.5,421.0L762.2,422.6L763.9,424.3L765.6,425.9L767.3,427.6L768.9,429.3L770.6,431.0L772.3,432.7L774.0,434.4L775.6,436.2L777.3,438.0L779.0,439.8L780.7,441.6L782.3,443.5L784.0,445.3L785.7,447.2L787.4,449.1L789.0,451.0L790.7,452.9L792.4,454.8L794.1,456.8L795.7,458.8L797.4,460.7L799.1,462.7" fill="none" stroke="#3838f0" stroke-width="3.0" stroke-linejoin="round"/>
</g>
<path d="M532.50,323.60H815.40M532.50,543.10H815.40" stroke="#626262" stroke-width="1.15" fill="none"/>
<path d="M532.50,323.60V543.10" stroke="#44449c" stroke-width="1.15" fill="none"/>
<path d="M815.40,323.60V543.10" stroke="#303030" stroke-width="1.2" fill="none"/>
<path d="M532.50,543.10v-2.8M532.50,323.60v2.8M613.33,543.10v-2.8M613.33,323.60v2.8M694.16,543.10v-2.8M694.16,323.60v2.8M774.99,543.10v-2.8M774.99,323.60v2.8" stroke="#404040" stroke-width="1" fill="none"/>
<path d="M532.50,543.10h2.8M532.50,469.93h2.8M532.50,396.77h2.8M532.50,323.60h2.8" stroke="#44449c" stroke-width="1" fill="none"/>
<path d="M815.40,543.10h-2.8M815.40,469.93h-2.8M815.40,396.77h-2.8M815.40,323.60h-2.8" stroke="#303030" stroke-width="1" fill="none"/>
<g font-size="24.5" fill="#0808dc" stroke="#0808dc" text-anchor="end">
<text x="525.00" y="552.10">-20</text>
<text x="525.00" y="478.93">0</text>
<text x="525.00" y="405.77">20</text>
<text x="525.00" y="332.60">40</text>
</g>
<g font-size="24.5" fill="#111111" stroke="#111111" text-anchor="start">
<text x="823.00" y="552.20">40</text>
<text x="823.00" y="479.03">50</text>
<text x="823.00" y="405.87">60</text>
<text x="823.00" y="332.70">70</text>
</g>
<g font-size="24.5" fill="#111111" stroke="#111111" text-anchor="middle">
<text x="532.50" y="574.30">0</text>
<text x="613.33" y="574.30">1</text>
<text x="694.16" y="574.30">2</text>
<text x="774.99" y="574.30">3</text>
</g>
<text font-size="27.5" fill="#111111" stroke="#111111" text-anchor="middle" x="673.95" y="605.70">Time [hour]</text>
<text font-size="27.50" fill="#0808dc" stroke="#0808dc" text-anchor="middle" transform="translate(483.40,433.35) rotate(-90)">Residual [mm]</text>
<text font-size="27.50" fill="#111111" stroke="#111111" text-anchor="middle" transform="translate(877.50,433.35) rotate(-90)">Elevation [deg]</text>
<rect x="545.50" y="507.80" width="217" height="22.1" fill="#fff" stroke="#111111" stroke-width="1.2"/>
<line x1="549.00" y1="519.65" x2="576.50" y2="519.65" stroke="#ff0000" stroke-width="3" stroke-dasharray="3,2.5"/>
<text font-size="17" fill="#111111" x="579.00" y="524.60">raw</text>
<rect x="623.00" y="518.65" width="2" height="2" fill="#0808dc"/>
<text font-size="17" fill="#111111" x="641.00" y="524.60">SF</text>
<line x1="666.00" y1="519.65" x2="692.50" y2="519.65" stroke="#0808dc" stroke-width="3"/>
<text font-size="17" fill="#111111" x="695.50" y="524.60">elevation</text>
<line x1="1019.85" y1="320.70" x2="1019.85" y2="540.50" stroke="#dedede" stroke-width="1"/>
<line x1="1114.15" y1="320.70" x2="1114.15" y2="540.50" stroke="#dedede" stroke-width="1"/>
<line x1="1208.45" y1="320.70" x2="1208.45" y2="540.50" stroke="#dedede" stroke-width="1"/>
<line x1="972.70" y1="518.52" x2="1255.60" y2="518.52" stroke="#dcdcf8" stroke-width="1"/>
<line x1="972.70" y1="496.54" x2="1255.60" y2="496.54" stroke="#dcdcf8" stroke-width="1"/>
<line x1="972.70" y1="474.56" x2="1255.60" y2="474.56" stroke="#dcdcf8" stroke-width="1"/>
<line x1="972.70" y1="452.58" x2="1255.60" y2="452.58" stroke="#dcdcf8" stroke-width="1"/>
<line x1="972.70" y1="430.60" x2="1255.60" y2="430.60" stroke="#dcdcf8" stroke-width="1"/>
<line x1="972.70" y1="408.62" x2="1255.60" y2="408.62" stroke="#dcdcf8" stroke-width="1"/>
<line x1="972.70" y1="386.64" x2="1255.60" y2="386.64" stroke="#dcdcf8" stroke-width="1"/>
<line x1="972.70" y1="364.66" x2="1255.60" y2="364.66" stroke="#dcdcf8" stroke-width="1"/>
<line x1="972.70" y1="342.68" x2="1255.60" y2="342.68" stroke="#dcdcf8" stroke-width="1"/>
<clipPath id="c10047"><rect x="972.7" y="320.7" width="282.89999999999986" height="219.8"/></clipPath>
<g clip-path="url(#c10047)">
<path d="M1002.9,479.3L1004.5,499.5L1006.1,479.9L1007.3,501.8L1008.7,483.2L1010.2,503.0L1011.9,483.2L1013.1,501.9L1015.0,479.4L1015.8,502.7L1016.8,483.5L1018.2,502.6L1019.1,479.4L1020.3,502.8L1022.0,483.7L1023.0,502.8L1024.0,480.2L1025.8,497.8L1027.2,482.9" fill="none" stroke="#ff0000" stroke-width="4.0" stroke-linejoin="round" stroke-dasharray="7,1.1"/>
<path d="M1028.3,475.3L1029.6,487.3L1031.1,477.5L1032.9,487.0L1034.6,477.4L1035.8,485.7L1037.6,475.7L1039.3,485.9L1040.3,476.0" fill="none" stroke="#ff0000" stroke-width="4.0" stroke-linejoin="round" stroke-dasharray="7,1.1"/>
<path d="M1040.6,478.3L1041.4,490.4L1043.1,478.7L1044.1,495.0L1045.2,479.7L1046.5,497.3L1048.2,480.7L1049.3,495.8L1050.1,480.7L1051.9,499.5L1053.3,479.9L1055.0,498.9L1056.8,476.8L1057.7,496.5L1059.3,482.4L1060.4,498.2L1061.8,483.0L1063.1,499.8L1064.0,480.9L1065.3,497.0L1066.5,480.2L1067.4,497.6L1068.3,479.1L1069.2,496.3L1070.9,480.5L1071.7,493.8L1073.0,478.7L1073.9,491.1L1075.6,479.2L1077.0,493.0L1078.6,477.3L1079.7,488.7L1080.5,478.9L1082.0,488.6L1083.7,477.3L1085.0,485.3L1086.3,477.0" fill="none" stroke="#ff0000" stroke-width="4.0" stroke-linejoin="round" stroke-dasharray="7,1.1"/>
<path d="M1089.6,464.3L1090.8,472.4L1092.9,461.7L1094.9,470.8L1096.2,456.8L1097.8,474.3L1099.2,453.0L1101.3,473.1L1102.2,455.7L1104.2,472.3L1105.3,460.4L1107.2,471.1L1108.8,464.0L1110.1,473.9L1111.3,461.3L1113.1,468.0L1114.2,451.2L1115.7,465.1L1116.8,443.0L1118.5,464.9L1119.6,440.3L1120.9,465.7L1122.9,448.0L1125.0,464.0L1126.6,448.6L1127.8,460.5L1129.2,439.4L1131.0,454.2L1132.7,425.9L1134.0,450.0L1135.2,424.7L1137.0,451.4L1138.8,415.9L1140.0,454.6L1141.4,426.8" fill="none" stroke="#ff0000" stroke-width="4.0" stroke-linejoin="round" stroke-dasharray="7,1.1"/>
<path d="M1143.4,466.6L1146.1,503.5L1149.4,466.5L1152.6,503.6L1155.5,466.8L1158.5,502.2L1161.8,463.8L1164.5,504.5L1167.1,459.4L1170.5,500.9L1172.2,454.7L1174.0,501.4L1175.7,445.4L1178.2,497.4L1180.1,447.7L1181.9,501.6L1183.9,431.5L1187.0,497.5L1190.6,431.6L1192.2,497.0L1194.2,438.1L1197.9,496.1L1201.0,448.0L1202.6,503.7L1205.7,451.7L1209.0,498.2L1211.5,462.7L1214.9,498.2L1217.2,461.0L1220.1,499.4L1222.0,455.4L1225.5,493.6L1228.8,446.0L1230.6,501.2L1233.3,451.9" fill="none" stroke="#ff0000" stroke-width="4.0" stroke-linejoin="round" stroke-dasharray="7,1.1"/>
<path d="M1087.3,428.0L1087.5,435.4L1087.7,446.0L1087.9,455.9L1088.1,463.6L1088.3,471.7L1088.6,471.7L1088.8,463.7L1089.0,453.2L1089.2,445.6L1089.4,436.8L1089.6,426.0" fill="none" stroke="#ff0000" stroke-width="3.6" stroke-dasharray="3.6,1.1"/>
<path d="M1140.6,416.9L1140.8,423.4L1141.1,434.2L1141.3,441.6L1141.6,450.5L1141.8,460.0L1142.1,460.6L1142.4,451.4L1142.6,441.3L1142.9,431.6L1143.1,428.2L1143.4,417.6" fill="none" stroke="#ff0000" stroke-width="3.6" stroke-dasharray="3.6,1.1"/>
<path d="M1002.9,479.4L1003.1,466.2L1003.4,471.3L1003.7,467.3L1003.9,476.1L1004.2,474.4L1004.4,468.2L1004.7,468.7L1004.9,472.9L1005.2,476.6L1005.5,469.5L1005.7,479.7L1006.0,468.7L1006.2,477.5L1006.5,473.8L1006.8,472.0L1007.0,473.8L1007.3,468.4L1007.5,468.7L1007.8,477.0L1008.1,470.8L1008.3,477.7L1008.6,478.5L1008.8,468.0L1009.1,469.3L1009.4,471.7L1009.6,477.9L1009.9,469.2L1010.1,474.0L1010.4,475.6L1010.6,468.3L1010.9,468.1L1011.2,467.8L1011.4,468.1L1011.7,467.5L1011.9,476.4L1012.2,475.1L1012.5,476.5L1012.7,468.6L1013.0,466.9L1013.2,476.4L1013.5,473.3L1013.8,475.3L1014.0,468.7L1014.3,476.6L1014.5,466.9L1014.8,471.0L1015.1,476.8L1015.3,478.2L1015.6,478.0L1015.8,478.4L1016.1,471.8L1016.3,476.3L1016.6,473.7L1016.9,479.9L1017.1,469.9L1017.4,476.9L1017.6,471.7L1017.9,472.7L1018.2,477.9L1018.4,478.5L1018.7,478.7L1018.9,476.6L1019.2,478.1L1019.5,474.8L1019.7,476.4L1020.0,475.0L1020.2,475.0L1020.5,477.7L1020.8,477.2L1021.0,470.7L1021.3,470.2L1021.5,473.0L1021.8,476.8L1022.0,469.5L1022.3,467.8L1022.6,479.8L1022.8,471.6L1023.1,475.9L1023.3,477.4L1023.6,471.4L1023.9,471.0L1024.1,479.0L1024.4,473.9L1024.6,477.2L1024.9,478.4L1025.2,481.1L1025.4,470.3L1025.7,480.0L1025.9,478.7L1026.2,471.6L1026.5,470.1L1026.7,468.1L1027.0,475.3L1027.2,475.3L1027.5,475.5L1027.7,468.5L1028.0,475.5L1028.3,471.7L1028.5,467.9L1028.8,475.2L1029.0,469.4L1029.3,469.3L1029.6,472.1L1029.8,469.7L1030.1,469.7L1030.3,479.3L1030.6,476.6L1030.9,470.6L1031.1,477.5L1031.4,476.6L1031.6,469.9L1031.9,470.5L1032.2,469.8L1032.4,468.0L1032.7,472.8L1032.9,475.3L1033.2,475.6L1033.4,467.1L1033.7,466.8L1034.0,468.3L1034.2,468.0L1034.5,467.6L1034.7,477.5L1035.0,476.0L1035.3,469.3L1035.5,472.6L1035.8,475.8L1036.0,476.3L1036.3,472.4L1036.6,470.1L1036.8,476.5L1037.1,478.0L1037.3,474.5L1037.6,468.6L1037.9,470.0L1038.1,468.0L1038.4,475.0L1038.6,469.3L1038.9,475.8L1039.1,478.6L1039.4,469.9L1039.7,468.3L1039.9,471.3L1040.2,471.2L1040.4,470.0L1040.7,469.0L1041.0,469.6L1041.2,478.4L1041.5,470.3L1041.7,478.0L1042.0,471.4L1042.3,478.3L1042.5,472.3L1042.8,468.7L1043.0,467.8L1043.3,469.9L1043.6,473.0L1043.8,476.8L1044.1,470.0L1044.3,468.2L1044.6,469.5L1044.8,477.2L1045.1,477.5L1045.4,469.2L1045.6,471.0L1045.9,474.1L1046.1,468.5L1046.4,478.1L1046.7,470.3L1046.9,470.4L1047.2,469.9L1047.4,470.9L1047.7,474.4L1048.0,474.6L1048.2,470.2L1048.5,476.8L1048.7,478.2L1049.0,468.4L1049.3,474.7L1049.5,470.3L1049.8,478.8L1050.0,479.9L1050.3,478.9L1050.5,476.5L1050.8,467.5L1051.1,476.3L1051.3,477.3L1051.6,470.1L1051.8,469.5L1052.1,476.9L1052.4,468.7L1052.6,475.9L1052.9,474.2L1053.1,466.6L1053.4,467.1L1053.7,475.6L1053.9,475.6L1054.2,480.3L1054.4,470.4L1054.7,477.3L1055.0,475.2L1055.2,473.2L1055.5,475.8L1055.7,474.5L1056.0,475.8L1056.2,473.0L1056.5,476.3L1056.8,470.7L1057.0,476.4L1057.3,469.4L1057.5,476.9L1057.8,475.4L1058.1,470.3L1058.3,477.1L1058.6,471.4L1058.8,477.1L1059.1,468.7L1059.4,468.6L1059.6,470.6L1059.9,478.8L1060.1,472.3L1060.4,470.1L1060.7,475.4L1060.9,476.2L1061.2,468.7L1061.4,473.9L1061.7,465.3L1061.9,467.5L1062.2,467.4L1062.5,476.8L1062.7,471.2L1063.0,470.0L1063.2,470.4L1063.5,473.0L1063.8,478.5L1064.0,475.1L1064.3,477.7L1064.5,467.5L1064.8,474.5L1065.1,477.0L1065.3,469.4L1065.6,476.9L1065.8,467.7L1066.1,471.8L1066.4,475.7L1066.6,477.6L1066.9,476.5L1067.1,466.5L1067.4,472.7L1067.6,473.3L1067.9,474.5L1068.2,471.0L1068.4,476.8L1068.7,467.5L1068.9,468.9L1069.2,477.2L1069.5,470.6L1069.7,475.1L1070.0,470.0L1070.2,469.4L1070.5,469.9L1070.8,470.3L1071.0,468.9L1071.3,478.0L1071.5,471.3L1071.8,477.1L1072.1,468.7L1072.3,476.0L1072.6,465.8L1072.8,475.2L1073.1,474.2L1073.3,470.9L1073.6,476.0L1073.9,474.8L1074.1,469.8L1074.4,476.3L1074.6,468.5L1074.9,477.5L1075.2,477.2L1075.4,468.7L1075.7,473.4L1075.9,477.3L1076.2,468.3L1076.5,466.3L1076.7,476.0L1077.0,465.0L1077.2,465.6L1077.5,466.9L1077.8,467.3L1078.0,469.0L1078.3,467.3L1078.5,467.6L1078.8,476.1L1079.0,476.5L1079.3,477.6L1079.6,477.6L1079.8,468.8L1080.1,476.3L1080.3,477.4L1080.6,477.4L1080.9,469.5L1081.1,475.2L1081.4,470.5L1081.6,478.4L1081.9,477.6L1082.2,476.8L1082.4,475.8L1082.7,478.2L1082.9,470.2L1083.2,474.3L1083.5,467.1L1083.7,467.7L1084.0,471.9L1084.2,471.3L1084.5,470.7L1084.7,469.2L1085.0,479.7L1085.3,477.5L1085.5,469.9L1085.8,469.2L1086.0,475.1L1086.3,471.6L1086.6,470.5L1086.8,471.6L1087.1,478.0L1087.3,469.9L1087.6,475.6L1087.9,469.8L1088.1,479.3L1088.4,471.2L1088.6,468.8L1088.9,472.0L1089.2,469.1L1089.4,474.5L1089.7,471.4L1089.9,475.5L1090.2,469.5L1090.4,474.1L1090.7,469.8L1091.0,469.5L1091.2,476.6L1091.5,475.7L1091.7,478.2L1092.0,477.9L1092.3,470.9L1092.5,470.8L1092.8,465.6L1093.0,475.4L1093.3,474.5L1093.6,475.3L1093.8,470.7L1094.1,477.7L1094.3,467.6L1094.6,478.4L1094.9,479.6L1095.1,479.2L1095.4,471.5L1095.6,479.1L1095.9,473.5L1096.1,471.5L1096.4,471.1L1096.7,473.3L1096.9,474.2L1097.2,473.6L1097.4,472.1L1097.7,474.2L1098.0,477.0L1098.2,477.8L1098.5,474.9L1098.7,477.7L1099.0,468.9L1099.3,469.1L1099.5,478.3L1099.8,467.7L1100.0,473.5L1100.3,474.2L1100.6,472.0L1100.8,474.5L1101.1,469.0L1101.3,474.2L1101.6,475.3L1101.8,472.9L1102.1,476.9L1102.4,474.3L1102.6,474.8L1102.9,468.3L1103.1,469.6L1103.4,471.2L1103.7,471.0L1103.9,473.4L1104.2,469.8L1104.4,472.7L1104.7,475.2L1105.0,469.7L1105.2,474.3L1105.5,476.8L1105.7,467.5L1106.0,468.2L1106.3,474.2L1106.5,471.6L1106.8,479.1L1107.0,470.8L1107.3,474.0L1107.5,481.2L1107.8,477.7L1108.1,472.2L1108.3,475.5L1108.6,477.3L1108.8,467.9L1109.1,475.1L1109.4,467.4L1109.6,477.3L1109.9,470.2L1110.1,478.1L1110.4,477.5L1110.7,468.1L1110.9,469.7L1111.2,470.0L1111.4,475.2L1111.7,471.3L1112.0,472.3L1112.2,480.9L1112.5,477.3L1112.7,474.3L1113.0,468.9L1113.2,476.7L1113.5,475.9L1113.8,477.2L1114.0,466.2L1114.3,467.7L1114.5,476.2L1114.8,467.9L1115.1,475.7L1115.3,469.9L1115.6,469.4L1115.8,478.1L1116.1,478.3L1116.4,477.4L1116.6,467.1L1116.9,473.3L1117.1,471.4L1117.4,470.9L1117.7,470.5L1117.9,477.0L1118.2,468.8L1118.4,478.9L1118.7,474.9L1118.9,475.4L1119.2,477.8L1119.5,469.6L1119.7,474.4L1120.0,469.8L1120.2,478.8L1120.5,478.6L1120.8,478.0L1121.0,468.5L1121.3,474.1L1121.5,468.9L1121.8,469.5L1122.1,472.6L1122.3,479.8L1122.6,479.4L1122.8,471.7L1123.1,477.7L1123.4,477.3L1123.6,474.7L1123.9,477.4L1124.1,470.6L1124.4,465.9L1124.6,476.5L1124.9,472.5L1125.2,465.9L1125.4,469.2L1125.7,467.6L1125.9,477.3L1126.2,473.0L1126.5,467.4L1126.7,467.3L1127.0,478.5L1127.2,472.1L1127.5,468.3L1127.8,477.9L1128.0,468.6L1128.3,472.7L1128.5,471.2L1128.8,478.9L1129.1,476.9L1129.3,469.7L1129.6,475.2L1129.8,467.5L1130.1,475.1L1130.3,476.5L1130.6,477.2L1130.9,469.5L1131.1,469.2L1131.4,475.5L1131.6,469.0L1131.9,476.6L1132.2,468.9L1132.4,468.1L1132.7,477.2L1132.9,471.1L1133.2,475.3L1133.5,472.6L1133.7,469.9L1134.0,478.7L1134.2,471.0L1134.5,480.3L1134.8,473.7L1135.0,477.7L1135.3,472.8L1135.5,478.7L1135.8,478.0L1136.0,470.4L1136.3,467.9L1136.6,475.0L1136.8,469.4L1137.1,471.9L1137.3,473.2L1137.6,471.7L1137.9,477.0L1138.1,470.0L1138.4,471.2L1138.6,474.2L1138.9,468.5L1139.2,467.0L1139.4,476.9L1139.7,477.7L1139.9,474.3L1140.2,469.9L1140.5,479.8L1140.7,471.4L1141.0,475.7L1141.2,471.5L1141.5,470.5L1141.7,478.3L1142.0,478.9L1142.3,478.0L1142.5,467.8L1142.8,476.5L1143.0,477.9L1143.3,479.0L1143.6,470.9L1143.8,473.0L1144.1,475.5L1144.3,481.4L1144.6,474.1L1144.9,478.6L1145.1,472.0L1145.4,472.4L1145.6,470.9L1145.9,470.1L1146.2,478.8L1146.4,479.2L1146.7,471.1L1146.9,472.0L1147.2,472.3L1147.4,471.7L1147.7,476.5L1148.0,475.7L1148.2,465.8L1148.5,469.6L1148.7,477.5L1149.0,469.9L1149.3,469.0L1149.5,471.4L1149.8,479.2L1150.0,470.0L1150.3,476.3L1150.6,470.7L1150.8,477.0L1151.1,473.8L1151.3,472.0L1151.6,471.7L1151.9,479.7L1152.1,472.1L1152.4,474.4L1152.6,474.0L1152.9,480.9L1153.1,471.0L1153.4,470.1L1153.7,472.1L1153.9,472.6L1154.2,478.3L1154.4,480.5L1154.7,479.4L1155.0,479.0L1155.2,471.8L1155.5,471.2L1155.7,479.1L1156.0,477.9L1156.3,475.6L1156.5,478.9L1156.8,479.8L1157.0,470.4L1157.3,473.1L1157.6,477.8L1157.8,470.8L1158.1,469.8L1158.3,471.1L1158.6,470.9L1158.8,468.4L1159.1,475.1L1159.4,473.2L1159.6,466.9L1159.9,474.9L1160.1,465.9L1160.4,466.4L1160.7,474.2L1160.9,468.0L1161.2,469.3L1161.4,480.9L1161.7,480.2L1162.0,470.7L1162.2,472.4L1162.5,474.5L1162.7,479.1L1163.0,481.0L1163.3,472.1L1163.5,471.3L1163.8,470.7L1164.0,475.0L1164.3,473.4L1164.5,477.1L1164.8,476.9L1165.1,473.4L1165.3,479.6L1165.6,477.0L1165.8,478.9L1166.1,477.9L1166.4,475.9L1166.6,475.7L1166.9,476.6L1167.1,477.0L1167.4,475.8L1167.7,470.5L1167.9,478.3L1168.2,475.0L1168.4,469.3L1168.7,469.2L1169.0,472.3L1169.2,469.5L1169.5,479.2L1169.7,478.2L1170.0,478.1L1170.2,477.8L1170.5,478.1L1170.8,469.3L1171.0,477.0L1171.3,469.9L1171.5,468.6L1171.8,474.2L1172.1,468.8L1172.3,476.2L1172.6,468.4L1172.8,469.5L1173.1,468.6L1173.4,469.1L1173.6,477.7L1173.9,468.0L1174.1,465.9L1174.4,466.9L1174.7,466.4L1174.9,467.9L1175.2,475.2L1175.4,468.3L1175.7,467.8L1175.9,466.7L1176.2,469.7L1176.5,473.6L1176.7,474.5L1177.0,472.0L1177.2,476.7L1177.5,477.0L1177.8,477.2L1178.0,479.5L1178.3,472.0L1178.5,472.5L1178.8,468.5L1179.1,469.4L1179.3,472.4L1179.6,465.5L1179.8,466.2L1180.1,466.4L1180.4,476.4L1180.6,470.5L1180.9,479.0L1181.1,470.6L1181.4,473.6L1181.6,471.9L1181.9,480.2L1182.2,479.2L1182.4,475.9L1182.7,467.3L1182.9,476.2L1183.2,467.4L1183.5,469.0L1183.7,476.3L1184.0,478.4L1184.2,474.9L1184.5,477.9L1184.8,471.9L1185.0,475.8L1185.3,478.3L1185.5,470.6L1185.8,468.5L1186.1,477.9L1186.3,470.2L1186.6,478.7L1186.8,477.4L1187.1,469.3L1187.3,478.4L1187.6,476.9L1187.9,471.6L1188.1,473.2L1188.4,476.5L1188.6,471.4L1188.9,478.4L1189.2,476.3L1189.4,477.4L1189.7,477.8L1189.9,469.7L1190.2,474.9L1190.5,478.0L1190.7,474.5L1191.0,476.2L1191.2,477.4L1191.5,468.4L1191.8,467.9L1192.0,470.0L1192.3,477.5L1192.5,477.0L1192.8,475.1L1193.0,472.8L1193.3,474.0L1193.6,470.9L1193.8,471.5L1194.1,472.2L1194.3,477.7L1194.6,473.9L1194.9,477.4L1195.1,468.8L1195.4,472.7L1195.6,468.6L1195.9,472.2L1196.2,469.8L1196.4,475.3L1196.7,475.0L1196.9,477.3L1197.2,470.8L1197.5,468.7L1197.7,471.1L1198.0,469.2L1198.2,470.2L1198.5,472.8L1198.7,471.0L1199.0,471.2L1199.3,470.3L1199.5,476.1L1199.8,475.8L1200.0,475.4L1200.3,469.5L1200.6,465.8L1200.8,466.1L1201.1,474.8L1201.3,468.4L1201.6,475.3L1201.9,468.2L1202.1,468.9L1202.4,471.5L1202.6,479.5L1202.9,471.1L1203.2,472.6L1203.4,469.8L1203.7,470.7L1203.9,474.1L1204.2,470.6L1204.4,474.3L1204.7,476.7L1205.0,479.0L1205.2,475.7L1205.5,477.3L1205.7,469.1L1206.0,475.4L1206.3,478.4L1206.5,476.7L1206.8,479.7L1207.0,479.5L1207.3,479.2L1207.6,477.0L1207.8,473.0L1208.1,479.7L1208.3,474.1L1208.6,470.9L1208.9,481.6L1209.1,473.3L1209.4,478.4L1209.6,469.0L1209.9,478.3L1210.1,477.7L1210.4,469.1L1210.7,474.5L1210.9,470.1L1211.2,469.5L1211.4,476.9L1211.7,480.6L1212.0,472.4L1212.2,473.0L1212.5,470.5L1212.7,469.6L1213.0,476.4L1213.3,480.2L1213.5,477.6L1213.8,480.3L1214.0,479.6L1214.3,470.1L1214.6,478.1L1214.8,470.8L1215.1,478.4L1215.3,476.7L1215.6,471.4L1215.8,471.2L1216.1,478.3L1216.4,469.1L1216.6,470.8L1216.9,476.3L1217.1,469.1L1217.4,477.4L1217.7,470.5L1217.9,470.9L1218.2,477.1L1218.4,478.3L1218.7,474.1L1219.0,470.7L1219.2,477.9L1219.5,477.4L1219.7,468.0L1220.0,476.7L1220.3,480.0L1220.5,478.1L1220.8,469.8L1221.0,480.2L1221.3,470.3L1221.5,468.8L1221.8,472.1L1222.1,472.1L1222.3,474.9L1222.6,467.9L1222.8,470.1L1223.1,473.9L1223.4,478.2L1223.6,475.5L1223.9,470.1L1224.1,475.8L1224.4,467.3L1224.7,468.5L1224.9,467.8L1225.2,469.1L1225.4,470.2L1225.7,472.3L1226.0,477.2L1226.2,470.5L1226.5,480.0L1226.7,478.5L1227.0,477.2L1227.2,467.8L1227.5,470.3L1227.8,468.5L1228.0,473.1L1228.3,466.9L1228.5,467.9L1228.8,466.8L1229.1,468.5L1229.3,472.6L1229.6,466.6L1229.8,475.8L1230.1,466.6L1230.4,477.2L1230.6,476.6L1230.9,468.8L1231.1,467.4L1231.4,474.9L1231.7,465.5L1231.9,475.9L1232.2,470.3L1232.4,471.8L1232.7,467.5L1232.9,466.5L1233.2,477.8L1233.5,473.8L1233.7,471.8L1234.0,479.9L1234.2,480.6L1234.5,480.0L1234.8,479.0L1235.0,472.7L1235.3,477.6L1235.5,474.6L1235.8,480.7" fill="none" stroke="#0000dc" stroke-width="3" stroke-linejoin="round"/>
<path d="M1002.9,465.0L1003.4,465.8L1003.9,466.9L1004.4,467.9L1005.0,468.5L1005.5,468.8L1006.0,468.3L1006.5,467.5L1007.0,467.2L1007.5,468.3L1008.1,470.2L1008.6,471.4L1009.1,471.2L1009.6,470.0L1010.1,469.2L1010.7,469.1L1011.2,468.8L1011.7,467.9L1012.2,467.6L1012.7,468.5L1013.3,469.6L1013.8,469.8L1014.3,469.4L1014.8,469.2L1015.3,469.3L1015.8,469.0L1016.4,468.6L1016.9,468.4L1017.4,468.1L1017.9,467.6L1018.4,467.0L1019.0,466.6L1019.5,466.4L1020.0,466.2L1020.5,466.2L1021.0,467.1L1021.6,468.4L1022.1,469.1L1022.6,469.0L1023.1,469.0L1023.6,469.4L1024.1,469.5L1024.7,469.0L1025.2,468.2L1025.7,467.4L1026.2,467.2L1026.7,468.0L1027.3,468.8L1027.8,468.3L1028.3,467.1L1028.8,466.6L1029.3,467.4L1029.9,468.5L1030.4,469.6L1030.9,470.6L1031.4,471.4L1031.9,471.5L1032.4,471.1L1033.0,470.6L1033.5,470.1L1034.0,469.3L1034.5,468.0L1035.0,466.8L1035.6,466.0L1036.1,465.8L1036.6,466.3L1037.1,467.1L1037.6,467.5L1038.2,467.5L1038.7,467.5L1039.2,467.7L1039.7,467.8L1040.2,467.3L1040.7,466.4L1041.3,465.7L1041.8,466.0L1042.3,467.1L1042.8,468.2L1043.3,469.1L1043.9,470.0L1044.4,470.7L1044.9,470.7L1045.4,469.8L1045.9,467.7L1046.5,465.5L1047.0,465.5L1047.5,465.5L1048.0,466.3L1048.5,467.5L1049.0,468.3L1049.6,468.8L1050.1,469.1L1050.6,469.0L1051.1,468.3L1051.6,467.6L1052.2,467.0L1052.7,466.1L1053.2,465.5L1053.7,465.5L1054.2,465.5L1054.8,466.3L1055.3,467.4L1055.8,468.6L1056.3,469.6L1056.8,470.1L1057.3,469.5L1057.9,468.1L1058.4,466.7L1058.9,466.4L1059.4,467.1L1059.9,468.1L1060.5,468.7L1061.0,468.6L1061.5,468.3L1062.0,468.3L1062.5,468.2L1063.1,467.9L1063.6,467.8L1064.1,468.2L1064.6,468.6L1065.1,468.7L1065.6,468.9L1066.2,469.1L1066.7,469.2L1067.2,469.1L1067.7,468.5L1068.2,468.0L1068.8,468.2L1069.3,468.8L1069.8,469.2L1070.3,469.3L1070.8,468.7L1071.4,467.3L1071.9,466.1L1072.4,465.8L1072.9,466.5L1073.4,467.8L1073.9,469.1L1074.5,470.0L1075.0,469.9L1075.5,469.4L1076.0,469.3L1076.5,469.6L1077.1,469.2L1077.6,468.2L1078.1,467.4L1078.6,467.3L1079.1,467.3L1079.7,467.3L1080.2,467.3L1080.7,467.2L1081.2,466.9L1081.7,466.6L1082.2,467.2L1082.8,468.4L1083.3,469.1L1083.8,468.7L1084.3,467.7L1084.8,466.9L1085.4,466.7L1085.9,467.3L1086.4,468.7L1086.9,470.5L1087.4,471.5L1088.0,471.5L1088.5,470.6L1089.0,469.8L1089.5,469.5L1090.0,469.2L1090.5,468.4L1091.1,467.1L1091.6,465.8L1092.1,465.5L1092.6,465.5L1093.1,465.5L1093.7,466.1L1094.2,467.5L1094.7,469.0L1095.2,469.4L1095.7,468.6L1096.3,467.5L1096.8,467.0L1097.3,467.2L1097.8,467.8L1098.3,467.9L1098.8,467.3L1099.4,466.6L1099.9,466.6L1100.4,467.3L1100.9,468.2L1101.4,468.7L1102.0,468.4L1102.5,467.7L1103.0,467.7L1103.5,469.2L1104.0,471.3L1104.6,471.5L1105.1,471.5L1105.6,469.4L1106.1,467.7L1106.6,467.1L1107.1,466.9L1107.7,466.2L1108.2,465.5L1108.7,465.5L1109.2,465.5L1109.7,466.3L1110.3,466.7L1110.8,466.4L1111.3,466.4L1111.8,467.6L1112.3,468.8L1112.9,468.7L1113.4,467.3L1113.9,466.1L1114.4,466.2L1114.9,466.8L1115.4,467.2L1116.0,467.3L1116.5,467.2L1117.0,467.1L1117.5,467.3L1118.0,467.8L1118.6,468.0L1119.1,468.0L1119.6,467.7L1120.1,467.0L1120.6,466.3L1121.2,466.2L1121.7,467.0L1122.2,468.5L1122.7,469.8L1123.2,469.8L1123.7,468.8L1124.3,467.8L1124.8,467.4L1125.3,467.4L1125.8,467.3L1126.3,467.2L1126.9,467.2L1127.4,467.3L1127.9,467.2L1128.4,466.4L1128.9,465.5L1129.5,465.5L1130.0,465.5L1130.5,466.0L1131.0,468.6L1131.5,470.0L1132.0,470.1L1132.6,469.6L1133.1,469.2L1133.6,469.0L1134.1,468.9L1134.6,468.8L1135.2,469.1L1135.7,469.9L1136.2,470.8L1136.7,471.1L1137.2,471.0L1137.8,470.8L1138.3,470.9L1138.8,470.8L1139.3,470.1L1139.8,469.3L1140.3,468.5L1140.9,468.2L1141.4,468.3L1141.9,468.2L1142.4,468.0L1142.9,467.8L1143.5,467.5L1144.0,467.7L1144.5,468.6L1145.0,470.0L1145.5,471.2L1146.1,471.3L1146.6,470.1L1147.1,469.1L1147.6,469.4L1148.1,470.2L1148.6,470.3L1149.2,470.0L1149.7,470.1L1150.2,470.3L1150.7,470.4L1151.2,470.5L1151.8,471.0L1152.3,471.5L1152.8,471.3L1153.3,469.9L1153.8,468.7L1154.4,468.7L1154.9,469.5L1155.4,470.0L1155.9,469.8L1156.4,469.6L1156.9,469.1L1157.5,468.2L1158.0,467.8L1158.5,468.3L1159.0,468.7L1159.5,468.5L1160.1,468.2L1160.6,468.6L1161.1,469.9L1161.6,470.8L1162.1,470.1L1162.7,468.2L1163.2,466.5L1163.7,465.6L1164.2,465.5L1164.7,466.1L1165.2,466.7L1165.8,466.7L1166.3,466.8L1166.8,467.5L1167.3,468.4L1167.8,469.1L1168.4,469.4L1168.9,469.6L1169.4,469.6L1169.9,469.3L1170.4,468.9L1171.0,468.8L1171.5,469.5L1172.0,470.6L1172.5,470.8L1173.0,470.0L1173.5,469.4L1174.1,469.1L1174.6,468.5L1175.1,468.2L1175.6,468.4L1176.1,468.9L1176.7,469.0L1177.2,469.1L1177.7,469.4L1178.2,469.3L1178.7,468.6L1179.3,467.6L1179.8,466.9L1180.3,466.7L1180.8,467.0L1181.3,467.2L1181.8,467.7L1182.4,468.7L1182.9,470.1L1183.4,471.3L1183.9,471.5L1184.4,471.0L1185.0,469.4L1185.5,467.8L1186.0,467.5L1186.5,468.6L1187.0,470.0L1187.6,470.8L1188.1,470.2L1188.6,468.4L1189.1,466.6L1189.6,465.9L1190.1,466.3L1190.7,466.6L1191.2,466.9L1191.7,467.6L1192.2,468.1L1192.7,467.6L1193.3,467.0L1193.8,467.7L1194.3,469.2L1194.8,470.1L1195.3,469.6L1195.9,468.2L1196.4,466.7L1196.9,466.2L1197.4,466.7L1197.9,467.5L1198.4,467.9L1199.0,468.0L1199.5,468.2L1200.0,468.2L1200.5,467.9L1201.0,468.0L1201.6,468.6L1202.1,469.2L1202.6,469.2L1203.1,468.7L1203.6,468.8L1204.2,469.8L1204.7,471.0L1205.2,471.4L1205.7,470.8L1206.2,469.8L1206.7,469.2L1207.3,468.6L1207.8,468.0L1208.3,467.9L1208.8,468.4L1209.3,469.0L1209.9,469.6L1210.4,469.8L1210.9,469.4L1211.4,468.6L1211.9,468.1L1212.5,468.4L1213.0,469.0L1213.5,469.4L1214.0,469.6L1214.5,469.4L1215.0,468.8L1215.6,468.4L1216.1,468.3L1216.6,468.5L1217.1,469.3L1217.6,470.3L1218.2,470.6L1218.7,469.8L1219.2,468.4L1219.7,467.4L1220.2,466.8L1220.8,466.3L1221.3,466.6L1221.8,468.1L1222.3,469.7L1222.8,470.4L1223.3,470.0L1223.9,469.4L1224.4,469.2L1224.9,469.4L1225.4,469.6L1225.9,469.9L1226.5,470.4L1227.0,470.7L1227.5,470.1L1228.0,468.9L1228.5,468.3L1229.1,468.3L1229.6,468.4L1230.1,468.2L1230.6,467.8L1231.1,467.6L1231.6,467.9L1232.2,468.4L1232.7,468.5L1233.2,468.4L1233.7,468.7L1234.2,469.2L1234.8,469.5L1235.3,470.1L1235.8,470.7L1235.8,477.7L1235.3,477.9L1234.8,478.3L1234.2,478.9L1233.7,479.2L1233.2,479.1L1232.7,478.9L1232.2,478.8L1231.6,479.3L1231.1,479.9L1230.6,479.8L1230.1,478.7L1229.6,477.3L1229.1,476.5L1228.5,476.1L1228.0,475.9L1227.5,476.4L1227.0,477.4L1226.5,478.1L1225.9,478.1L1225.4,478.0L1224.9,478.3L1224.4,478.8L1223.9,479.2L1223.3,479.1L1222.8,478.3L1222.3,477.4L1221.8,477.1L1221.3,477.4L1220.8,478.1L1220.2,478.6L1219.7,478.5L1219.2,478.1L1218.7,477.8L1218.2,477.6L1217.6,477.1L1217.1,476.7L1216.6,476.7L1216.1,476.6L1215.6,476.4L1215.0,476.4L1214.5,476.9L1214.0,477.5L1213.5,477.8L1213.0,477.5L1212.5,476.5L1211.9,475.8L1211.4,475.8L1210.9,476.4L1210.4,477.5L1209.9,478.9L1209.3,480.1L1208.8,480.8L1208.3,480.8L1207.8,480.0L1207.3,479.1L1206.7,478.8L1206.2,478.9L1205.7,478.8L1205.2,478.5L1204.7,478.1L1204.2,477.6L1203.6,477.1L1203.1,476.6L1202.6,476.4L1202.1,477.0L1201.6,478.3L1201.0,479.5L1200.5,479.9L1200.0,479.5L1199.5,478.9L1199.0,478.6L1198.4,478.9L1197.9,479.9L1197.4,481.0L1196.9,481.0L1196.4,480.4L1195.9,479.7L1195.3,479.2L1194.8,478.8L1194.3,478.4L1193.8,478.3L1193.3,478.2L1192.7,477.4L1192.2,476.1L1191.7,475.3L1191.2,475.9L1190.7,477.2L1190.1,477.9L1189.6,477.8L1189.1,477.9L1188.6,479.0L1188.1,480.3L1187.6,481.0L1187.0,480.7L1186.5,480.1L1186.0,479.8L1185.5,479.7L1185.0,479.8L1184.4,480.0L1183.9,480.1L1183.4,480.0L1182.9,479.6L1182.4,479.2L1181.8,478.8L1181.3,478.5L1180.8,478.0L1180.3,477.5L1179.8,477.2L1179.3,477.5L1178.7,478.4L1178.2,479.1L1177.7,479.3L1177.2,479.6L1176.7,480.6L1176.1,481.0L1175.6,481.0L1175.1,481.0L1174.6,481.0L1174.1,479.5L1173.5,477.2L1173.0,475.6L1172.5,475.0L1172.0,475.0L1171.5,475.5L1171.0,477.2L1170.4,478.7L1169.9,479.6L1169.4,479.6L1168.9,478.9L1168.4,478.6L1167.8,479.0L1167.3,479.5L1166.8,479.7L1166.3,479.6L1165.8,479.3L1165.2,479.0L1164.7,478.6L1164.2,478.3L1163.7,478.2L1163.2,478.2L1162.7,478.1L1162.1,477.6L1161.6,476.6L1161.1,475.0L1160.6,475.0L1160.1,475.0L1159.5,475.0L1159.0,475.4L1158.5,477.1L1158.0,478.2L1157.5,478.7L1156.9,479.0L1156.4,479.2L1155.9,479.1L1155.4,478.3L1154.9,477.4L1154.4,477.0L1153.8,476.9L1153.3,476.7L1152.8,476.5L1152.3,476.3L1151.8,475.8L1151.2,475.7L1150.7,476.2L1150.2,476.7L1149.7,476.9L1149.2,477.4L1148.6,478.3L1148.1,478.6L1147.6,478.0L1147.1,477.8L1146.6,478.3L1146.1,478.9L1145.5,478.9L1145.0,478.2L1144.5,477.3L1144.0,476.7L1143.5,476.1L1142.9,475.9L1142.4,476.2L1141.9,477.0L1141.4,477.6L1140.9,477.7L1140.3,477.3L1139.8,476.7L1139.3,476.3L1138.8,475.9L1138.3,475.7L1137.8,476.2L1137.2,477.1L1136.7,477.6L1136.2,477.7L1135.7,477.9L1135.2,478.4L1134.6,478.4L1134.1,477.6L1133.6,476.6L1133.1,475.7L1132.6,475.5L1132.0,476.3L1131.5,477.3L1131.0,478.0L1130.5,478.3L1130.0,478.2L1129.5,477.6L1128.9,477.3L1128.4,478.2L1127.9,479.5L1127.4,479.8L1126.9,478.7L1126.3,477.4L1125.8,477.1L1125.3,477.7L1124.8,478.3L1124.3,478.4L1123.7,478.1L1123.2,477.8L1122.7,478.1L1122.2,478.8L1121.7,478.9L1121.2,477.8L1120.6,476.8L1120.1,477.4L1119.6,479.0L1119.1,480.2L1118.6,480.7L1118.0,480.6L1117.5,480.3L1117.0,479.6L1116.5,478.5L1116.0,477.9L1115.4,478.2L1114.9,479.0L1114.4,479.1L1113.9,477.9L1113.4,476.1L1112.9,475.1L1112.3,475.0L1111.8,475.5L1111.3,476.8L1110.8,477.9L1110.3,478.2L1109.7,477.7L1109.2,477.1L1108.7,477.0L1108.2,477.8L1107.7,479.0L1107.1,479.1L1106.6,477.7L1106.1,476.4L1105.6,476.8L1105.1,478.3L1104.6,479.2L1104.0,479.4L1103.5,479.6L1103.0,479.6L1102.5,479.2L1102.0,478.7L1101.4,478.3L1100.9,477.8L1100.4,477.1L1099.9,476.6L1099.4,476.7L1098.8,477.1L1098.3,477.4L1097.8,477.6L1097.3,477.4L1096.8,477.1L1096.3,476.8L1095.7,476.7L1095.2,476.8L1094.7,477.1L1094.2,477.6L1093.7,478.4L1093.1,479.2L1092.6,479.3L1092.1,478.6L1091.6,477.6L1091.1,476.8L1090.5,476.2L1090.0,475.9L1089.5,476.2L1089.0,477.0L1088.5,477.7L1088.0,478.1L1087.4,478.4L1086.9,478.3L1086.4,477.8L1085.9,477.4L1085.4,477.0L1084.8,476.7L1084.3,476.8L1083.8,477.5L1083.3,478.1L1082.8,478.5L1082.2,478.9L1081.7,479.5L1081.2,479.4L1080.7,478.1L1080.2,476.7L1079.7,475.8L1079.1,475.2L1078.6,475.0L1078.1,475.0L1077.6,475.3L1077.1,476.6L1076.5,477.8L1076.0,478.1L1075.5,477.6L1075.0,476.9L1074.5,476.5L1073.9,476.7L1073.4,477.7L1072.9,478.6L1072.4,478.9L1071.9,478.8L1071.4,478.1L1070.8,476.5L1070.3,475.0L1069.8,475.0L1069.3,475.0L1068.8,475.4L1068.2,476.4L1067.7,477.2L1067.2,477.6L1066.7,478.0L1066.2,478.2L1065.6,478.0L1065.1,476.9L1064.6,475.5L1064.1,475.2L1063.6,475.9L1063.1,476.7L1062.5,476.8L1062.0,477.0L1061.5,477.5L1061.0,477.7L1060.5,477.4L1059.9,477.3L1059.4,477.6L1058.9,477.8L1058.4,477.7L1057.9,478.0L1057.3,478.6L1056.8,478.9L1056.3,478.7L1055.8,478.4L1055.3,478.5L1054.8,478.6L1054.2,478.5L1053.7,478.3L1053.2,478.6L1052.7,479.1L1052.2,478.9L1051.6,477.5L1051.1,476.3L1050.6,476.3L1050.1,477.4L1049.6,478.4L1049.0,478.4L1048.5,477.5L1048.0,476.4L1047.5,475.5L1047.0,475.3L1046.5,476.1L1045.9,477.3L1045.4,478.5L1044.9,479.3L1044.4,479.3L1043.9,478.9L1043.3,477.7L1042.8,475.9L1042.3,475.0L1041.8,475.2L1041.3,476.4L1040.7,477.5L1040.2,478.3L1039.7,478.5L1039.2,478.1L1038.7,477.6L1038.2,477.6L1037.6,477.8L1037.1,478.0L1036.6,478.2L1036.1,478.4L1035.6,478.7L1035.0,479.1L1034.5,479.7L1034.0,479.9L1033.5,479.6L1033.0,479.4L1032.4,479.8L1031.9,480.3L1031.4,480.3L1030.9,479.8L1030.4,478.7L1029.9,477.4L1029.3,476.7L1028.8,476.7L1028.3,477.3L1027.8,478.1L1027.3,479.0L1026.7,479.2L1026.2,479.0L1025.7,479.0L1025.2,479.3L1024.7,479.6L1024.1,479.8L1023.6,480.1L1023.1,480.6L1022.6,481.0L1022.1,481.0L1021.6,481.0L1021.0,480.5L1020.5,479.6L1020.0,478.0L1019.5,476.7L1019.0,476.4L1018.4,476.5L1017.9,476.3L1017.4,475.9L1016.9,475.8L1016.4,475.9L1015.8,476.4L1015.3,477.0L1014.8,477.3L1014.3,476.9L1013.8,476.4L1013.3,476.2L1012.7,476.4L1012.2,477.1L1011.7,478.2L1011.2,479.2L1010.7,479.3L1010.1,479.1L1009.6,479.3L1009.1,479.9L1008.6,480.3L1008.1,480.4L1007.5,480.4L1007.0,480.5L1006.5,480.7L1006.0,481.2L1005.5,481.7L1005.0,481.6L1004.4,480.4L1003.9,479.3L1003.4,479.9L1002.9,481.1Z" fill="#0000dc" stroke="none"/>
<path d="M1087.7,425.4L1087.8,430.2L1087.9,437.1L1088.0,441.8L1088.1,444.0L1088.2,447.8L1088.3,455.3L1088.4,459.8L1088.5,462.3L1088.6,468.0L1088.7,468.2L1088.8,463.9L1088.9,460.5L1089.0,454.2L1089.1,450.2L1089.2,445.2L1089.3,439.9L1089.4,434.7L1089.5,430.3L1089.6,425.1" fill="none" stroke="#0000dc" stroke-width="2.6" stroke-linejoin="round"/>
<path d="M1233.9,476.7L1234.2,476.5L1234.5,479.6L1234.9,480.8L1235.2,483.0L1235.5,489.6L1235.8,488.6L1236.1,493.8L1236.4,494.7L1236.7,496.7" fill="none" stroke="#0000dc" stroke-width="2.6" stroke-linejoin="round"/>
<path d="M1236.7,496.3L1237.1,488.4L1237.5,482.3L1237.8,473.9L1238.2,468.0L1238.6,461.7L1238.9,454.5L1239.3,445.6L1239.7,437.0L1240.0,430.8" fill="none" stroke="#0000dc" stroke-width="2.6" stroke-linejoin="round"/>
<path d="M1142.4,479.0L1142.8,485.5L1143.2,491.1L1143.6,489.6L1144.0,492.9L1144.4,499.4L1144.8,502.9L1145.2,509.7L1145.6,502.2L1146.0,501.3L1146.3,494.2L1146.7,491.5L1147.1,481.9L1147.5,481.6L1147.9,483.0L1148.3,486.7L1148.7,488.3L1149.1,489.8L1149.5,498.5L1149.9,497.7L1150.3,507.7L1150.7,501.8L1151.0,499.2L1151.4,493.3L1151.8,488.9L1152.2,491.7L1152.6,482.8L1153.0,482.6L1153.4,480.7L1153.8,488.1L1154.2,490.4L1154.6,495.2L1155.0,502.3L1155.3,501.5L1155.7,505.3L1156.1,500.7L1156.5,498.0L1156.9,498.4L1157.3,490.4L1157.7,487.6L1158.1,485.0L1158.5,482.4" fill="none" stroke="#0000dc" stroke-width="2.6" stroke-dasharray="2.6,2"/>
<line x1="1240.0" y1="426.2" x2="1240.0" y2="316.3" stroke="#ff0000" stroke-width="3" stroke-dasharray="3,4"/>
<line x1="1240.0" y1="422.7" x2="1240.0" y2="316.3" stroke="#1010a0" stroke-width="3" stroke-dasharray="3,4"/>
<path d="M1013.3,504.8L1014.7,501.2L1016.2,497.6L1017.6,494.1L1019.0,490.7L1020.4,487.2L1021.8,483.9L1023.3,480.6L1024.7,477.3L1026.1,474.1L1027.5,470.9L1028.9,467.8L1030.4,464.7L1031.8,461.7L1033.2,458.7L1034.6,455.7L1036.0,452.7L1037.5,449.8L1038.9,447.0L1040.3,444.1L1041.7,441.3L1043.1,438.5L1044.6,435.7L1046.0,433.0L1047.4,430.3L1048.8,427.6L1050.2,424.9L1051.6,422.2L1053.1,419.6L1054.5,416.9L1055.9,414.3L1057.3,411.7L1058.7,409.1L1060.2,406.5L1061.6,403.9L1063.0,401.4L1064.4,398.8L1065.8,396.3L1067.3,393.8L1068.7,391.3L1070.1,388.8L1071.5,386.4L1072.9,384.0L1074.4,381.6L1075.8,379.3L1077.2,377.0L1078.6,374.8L1080.0,372.6L1081.5,370.5L1082.9,368.5L1084.3,366.5L1085.7,364.5L1087.1,362.6L1088.5,360.8L1090.0,359.1L1091.4,357.4L1092.8,355.7L1094.2,354.1L1095.6,352.6L1097.1,351.1L1098.5,349.6L1099.9,348.2L1101.3,346.8L1102.7,345.5L1104.2,344.2L1105.6,343.0L1107.0,341.7L1108.4,340.6L1109.8,339.4L1111.3,338.3L1112.7,337.3L1114.1,336.3L1115.5,335.3L1116.9,334.3L1118.4,333.5L1119.8,332.6L1121.2,331.8L1122.6,331.1L1124.0,330.3L1125.4,329.7L1126.9,329.0L1128.3,328.5L1129.7,327.9L1131.1,327.4L1132.5,327.0L1134.0,326.6L1135.4,326.2L1136.8,325.9L1138.2,325.6L1139.6,325.4L1141.1,325.2L1142.5,325.1L1143.9,325.0L1145.3,325.0L1146.7,325.0L1148.2,325.0L1149.6,325.1L1151.0,325.3L1152.4,325.5L1153.8,325.8L1155.3,326.1L1156.7,326.4L1158.1,326.8L1159.5,327.3L1160.9,327.7L1162.3,328.3L1163.8,328.9L1165.2,329.5L1166.6,330.2L1168.0,331.0L1169.4,331.8L1170.9,332.6L1172.3,333.5L1173.7,334.5L1175.1,335.5L1176.5,336.6L1178.0,337.7L1179.4,338.9L1180.8,340.1L1182.2,341.3L1183.6,342.7L1185.1,344.1L1186.5,345.5L1187.9,347.0L1189.3,348.5L1190.7,350.1L1192.2,351.7L1193.6,353.4L1195.0,355.2L1196.4,357.0L1197.8,358.8L1199.2,360.6L1200.7,362.5L1202.1,364.5L1203.5,366.5L1204.9,368.5L1206.3,370.5L1207.8,372.6L1209.2,374.7L1210.6,376.8L1212.0,379.0L1213.4,381.1L1214.9,383.3L1216.3,385.5L1217.7,387.8L1219.1,390.0L1220.5,392.3L1222.0,394.6L1223.4,396.8L1224.8,399.1L1226.2,401.4L1227.6,403.7L1229.1,406.1L1230.5,408.4L1231.9,410.7L1233.3,413.0L1234.7,415.3L1236.1,417.6L1237.6,419.9L1239.0,422.2" fill="none" stroke="#3838f0" stroke-width="3.0" stroke-linejoin="round"/>
</g>
<path d="M972.70,320.70H1255.60M972.70,540.50H1255.60" stroke="#626262" stroke-width="1.15" fill="none"/>
<path d="M972.70,320.70V540.50" stroke="#44449c" stroke-width="1.15" fill="none"/>
<path d="M1255.60,320.70V540.50" stroke="#303030" stroke-width="1.2" fill="none"/>
<path d="M1019.85,540.50v-2.8M1019.85,320.70v2.8M1114.15,540.50v-2.8M1114.15,320.70v2.8M1208.45,540.50v-2.8M1208.45,320.70v2.8" stroke="#404040" stroke-width="1" fill="none"/>
<path d="M972.70,540.50h2.8M972.70,518.52h2.8M972.70,496.54h2.8M972.70,474.56h2.8M972.70,452.58h2.8M972.70,430.60h2.8M972.70,408.62h2.8M972.70,386.64h2.8M972.70,364.66h2.8M972.70,342.68h2.8M972.70,320.70h2.8" stroke="#44449c" stroke-width="1" fill="none"/>
<path d="M1255.60,540.50h-2.8M1255.60,518.52h-2.8M1255.60,496.54h-2.8M1255.60,474.56h-2.8M1255.60,452.58h-2.8M1255.60,430.60h-2.8M1255.60,408.62h-2.8M1255.60,386.64h-2.8M1255.60,364.66h-2.8M1255.60,342.68h-2.8M1255.60,320.70h-2.8" stroke="#303030" stroke-width="1" fill="none"/>
<g font-size="24.5" fill="#0808dc" stroke="#0808dc" text-anchor="end">
<text x="965.20" y="549.50">-15</text>
<text x="965.20" y="527.52">-10</text>
<text x="965.20" y="505.54">-5</text>
<text x="965.20" y="483.56">0</text>
<text x="965.20" y="461.58">5</text>
<text x="965.20" y="439.60">10</text>
<text x="965.20" y="417.62">15</text>
<text x="965.20" y="395.64">20</text>
<text x="965.20" y="373.66">25</text>
<text x="965.20" y="351.68">30</text>
<text x="965.20" y="329.70">35</text>
</g>
<g font-size="24.5" fill="#111111" stroke="#111111" text-anchor="start">
<text x="1263.20" y="549.60">14</text>
<text x="1263.20" y="527.62">16</text>
<text x="1263.20" y="505.64">18</text>
<text x="1263.20" y="483.66">20</text>
<text x="1263.20" y="461.68">22</text>
<text x="1263.20" y="439.70">24</text>
<text x="1263.20" y="417.72">26</text>
<text x="1263.20" y="395.74">28</text>
<text x="1263.20" y="373.76">30</text>
<text x="1263.20" y="351.78">32</text>
<text x="1263.20" y="329.80">34</text>
</g>
<g font-size="24.5" fill="#111111" stroke="#111111" text-anchor="middle">
<text x="1019.85" y="571.70">1</text>
<text x="1114.15" y="571.70">2</text>
<text x="1208.45" y="571.70">3</text>
</g>
<text font-size="27.5" fill="#111111" stroke="#111111" text-anchor="middle" x="1114.15" y="603.10">Time [hour]</text>
<text font-size="27.50" fill="#0808dc" stroke="#0808dc" text-anchor="middle" transform="translate(923.60,430.60) rotate(-90)">Residual [mm]</text>
<text font-size="27.50" fill="#111111" stroke="#111111" text-anchor="middle" transform="translate(1317.70,430.60) rotate(-90)">Elevation [deg]</text>
<rect x="985.70" y="505.20" width="217" height="22.1" fill="#fff" stroke="#111111" stroke-width="1.2"/>
<line x1="989.20" y1="517.05" x2="1016.70" y2="517.05" stroke="#ff0000" stroke-width="3" stroke-dasharray="3,2.5"/>
<text font-size="17" fill="#111111" x="1019.20" y="522.00">raw</text>
<rect x="1063.20" y="516.05" width="2" height="2" fill="#0808dc"/>
<text font-size="17" fill="#111111" x="1081.20" y="522.00">SF</text>
<line x1="1106.20" y1="517.05" x2="1132.70" y2="517.05" stroke="#0808dc" stroke-width="3"/>
<text font-size="17" fill="#111111" x="1135.70" y="522.00">elevation</text>
<line x1="171.13" y1="630.50" x2="171.13" y2="851.60" stroke="#dedede" stroke-width="1"/>
<line x1="265.77" y1="630.50" x2="265.77" y2="851.60" stroke="#dedede" stroke-width="1"/>
<line x1="76.50" y1="777.90" x2="360.40" y2="777.90" stroke="#dcdcf8" stroke-width="1"/>
<line x1="76.50" y1="704.20" x2="360.40" y2="704.20" stroke="#dcdcf8" stroke-width="1"/>
<clipPath id="c1395"><rect x="76.5" y="630.5" width="283.9" height="221.10000000000002"/></clipPath>
<g clip-path="url(#c1395)">
<path d="M76.5,699.0L77.5,707.0L78.6,696.2L79.6,699.2L80.7,689.0L81.7,694.6L82.8,686.2L83.8,696.9L84.8,687.3L85.9,694.0L86.9,684.2L88.0,697.5L89.0,684.4L90.1,691.7L91.1,685.8L92.2,694.9L93.2,690.2L94.2,696.7L95.3,695.0L96.3,699.6L97.4,695.2L98.4,704.8L99.5,697.2L100.5,707.3L101.5,700.3L102.6,703.8L103.6,700.3L104.7,708.7L105.7,695.7L106.8,703.6L107.8,695.9L108.9,705.9L109.9,700.3L110.9,707.6L112.0,699.2L113.0,707.6L114.1,696.2L115.1,703.8L116.2,693.8L117.2,700.5L118.2,690.1L119.3,701.4L120.3,688.5L121.4,695.4L122.4,686.5L123.5,696.6L124.5,686.3L125.6,695.7L126.6,687.7L127.6,694.1L128.7,686.7L129.7,692.2L130.8,684.1L131.8,690.5L132.9,685.6L133.9,695.2L134.9,683.8L136.0,692.4L137.0,684.4L138.1,697.0L139.1,682.4L140.2,695.0L141.2,685.9L142.3,695.7L143.3,687.4L144.3,695.9L145.4,689.9L146.4,701.4L147.5,692.8L148.5,703.8L149.6,696.9L150.6,702.8L151.6,693.4L152.7,703.6L153.7,696.7L154.8,701.9L155.8,697.4L156.9,706.0L157.9,699.6L159.0,704.8L160.0,698.7L161.0,704.0L162.1,695.3L163.1,708.5L164.2,693.9L165.2,704.4L166.3,697.9L167.3,703.6L168.3,696.9L169.4,707.0L170.4,697.8L171.5,708.9L172.5,695.0L173.6,705.8L174.6,698.8L175.7,706.8L176.7,689.7L177.7,695.0L178.8,685.9L179.8,689.8L180.9,674.7L181.9,690.0L183.0,683.5L184.0,690.4L185.1,685.7L186.1,696.8L187.1,689.8L188.2,705.3L189.2,700.4L190.3,713.0L191.3,709.1L192.4,721.4L193.4,707.2L194.4,715.3L195.5,709.0L196.5,713.9L197.6,706.2L198.6,714.3L199.7,707.5L200.7,713.4L201.8,698.2L202.8,702.7L203.8,689.8L204.9,694.9L205.9,690.7L207.0,702.1L208.0,696.8L209.1,707.3L210.1,702.1L211.1,717.2L212.2,706.0L213.2,710.3L214.3,702.6L215.3,709.9L216.4,700.2L217.4,714.0L218.4,699.1L219.5,707.7L220.5,695.7L221.6,707.8L222.6,701.8L223.7,710.1L224.7,707.1L225.8,715.9L226.8,709.5L227.8,722.2L228.9,708.1L229.9,716.4L231.0,700.9L232.0,707.3L233.1,698.5L234.1,700.3L235.1,690.6L236.2,697.5L237.2,692.5L238.3,702.2L239.3,691.7L240.4,699.5L241.4,694.1L242.5,704.2L243.5,693.5L244.5,706.0L245.6,698.3L246.6,713.2L247.7,701.9L248.7,712.4L249.8,703.7L250.8,712.4L251.8,705.3L252.9,719.3L253.9,706.5L255.0,717.4L256.0,707.3L257.1,717.7L258.1,708.3L259.2,712.0L260.2,699.9L261.2,711.6L262.3,698.6L263.3,711.3L264.4,704.7L265.4,711.5L266.5,701.2L267.5,709.1L268.6,701.5L269.6,712.4L270.6,700.6L271.7,703.2L272.7,697.6L273.8,703.6L274.8,687.6L275.9,695.9L276.9,685.8L277.9,695.5L279.0,685.7L280.0,695.9L281.1,686.3L282.1,692.8L283.2,679.0L284.2,687.3L285.2,675.5L286.3,687.3L287.3,675.7L288.4,688.4L289.4,678.0L290.5,690.1L291.5,686.6L292.6,696.9L293.6,694.1L294.6,705.6L295.7,699.2L296.7,707.9L297.8,698.5L298.8,710.3L299.9,700.7L300.9,708.5L301.9,694.6L303.0,704.9L304.0,696.1L305.1,704.1L306.1,695.5L307.2,708.2L308.2,701.8L309.3,713.6L310.3,702.7L311.3,709.8L312.4,702.4L313.4,710.7L314.5,699.7L315.5,710.1L316.6,699.5L317.6,706.6L318.6,696.2L319.7,708.6L320.7,699.7L321.8,709.0L322.8,699.1L323.9,705.1L324.9,689.8L326.0,694.1L327.0,688.6L328.0,699.4L329.1,691.3L330.1,698.2L331.2,689.6L332.2,702.2L333.3,696.1L334.3,709.3L335.3,701.9L336.4,715.3L337.4,709.5L338.5,716.7L339.5,706.9L340.6,716.1L341.6,710.3L342.7,714.9L343.7,710.2L344.7,722.1L345.8,714.9L346.8,722.1L347.9,716.0L348.9,727.0L350.0,715.0L351.0,731.0L352.1,723.5L353.1,729.2L354.1,720.3L355.2,732.2L356.2,717.8L357.3,728.5L358.3,713.7L359.4,721.7L360.4,710.6" fill="none" stroke="#ff0000" stroke-width="3.4" stroke-linejoin="round" stroke-dasharray="none"/>
<path d="M289.4,690.8L289.6,702.9L289.7,706.6L289.9,715.0L290.0,721.1L290.2,732.1L290.3,739.2L290.5,745.8L290.6,748.3L290.8,759.5L290.9,760.2L291.1,750.7L291.2,745.1L291.4,740.7L291.5,732.2L291.7,726.9L291.8,718.6L292.0,711.2L292.1,705.6L292.3,693.5L292.4,695.6L292.6,705.1L292.7,711.7L292.9,719.1L293.0,726.0L293.2,731.3L293.3,741.0L293.5,750.8L293.6,754.8L293.8,762.0" fill="none" stroke="#ff0000" stroke-width="3.6" stroke-dasharray="3.6,1.1"/>
<path d="M297.9,691.1L298.2,700.5L298.4,711.0L298.7,721.0L298.9,727.0L299.1,734.3L299.4,742.1L299.6,750.8L299.9,759.7L300.1,768.0L300.4,773.0L300.6,763.7L300.8,755.1L301.1,749.0L301.3,735.2L301.6,731.9L301.8,718.3L302.0,711.0L302.3,706.0L302.5,696.7L302.8,700.2L303.0,706.4L303.3,718.3L303.5,724.3L303.7,730.8L304.0,740.9L304.2,748.3L304.5,757.9L304.7,765.1L304.9,772.1" fill="none" stroke="#ff0000" stroke-width="3.6" stroke-dasharray="3.6,1.1"/>
<path d="M309.1,692.1L309.5,699.6L310.0,708.8L310.4,719.7L310.9,729.0L311.3,736.2L311.7,745.1L312.2,756.1L312.6,763.2L313.1,773.4L313.5,769.9L313.9,765.5L314.4,755.5L314.8,744.1L315.2,737.5L315.7,729.9L316.1,721.3L316.6,709.5L317.0,701.0L317.4,694.2" fill="none" stroke="#ff0000" stroke-width="3.6" stroke-dasharray="3.6,1.1"/>
<path d="M76.5,710.5L76.9,717.7L77.2,715.9L77.6,717.3L78.0,709.8L78.4,716.2L78.7,714.8L79.1,712.3L79.5,712.0L79.9,715.4L80.2,705.5L80.6,713.9L81.0,708.6L81.4,714.6L81.7,709.7L82.1,714.3L82.5,714.9L82.9,712.8L83.2,710.1L83.6,709.8L84.0,708.7L84.4,714.1L84.7,714.8L85.1,712.7L85.5,711.2L85.9,706.3L86.2,709.1L86.6,709.6L87.0,710.5L87.3,704.6L87.7,709.7L88.1,705.4L88.5,703.6L88.8,704.2L89.2,709.4L89.6,708.1L90.0,702.5L90.3,710.4L90.7,705.0L91.1,708.3L91.5,705.1L91.8,707.5L92.2,708.2L92.6,702.9L93.0,707.1L93.3,699.7L93.7,700.0L94.1,704.6L94.5,702.6L94.8,703.1L95.2,700.5L95.6,707.5L96.0,706.3L96.3,705.5L96.7,701.5L97.1,701.7L97.4,705.0L97.8,707.4L98.2,702.2L98.6,705.1L98.9,706.7L99.3,701.9L99.7,704.2L100.1,705.0L100.4,705.0L100.8,702.0L101.2,704.6L101.6,703.5L101.9,698.8L102.3,702.9L102.7,705.0L103.1,702.5L103.4,700.2L103.8,700.7L104.2,701.9L104.6,700.7L104.9,701.5L105.3,702.0L105.7,705.3L106.0,707.4L106.4,702.2L106.8,702.4L107.2,700.0L107.5,705.1L107.9,699.9L108.3,705.6L108.7,699.7L109.0,699.3L109.4,706.4L109.8,705.0L110.2,699.7L110.5,700.2L110.9,702.0L111.3,707.1L111.7,707.8L112.0,706.5L112.4,700.7L112.8,701.6L113.2,705.7L113.5,702.1L113.9,701.2L114.3,706.3L114.7,700.6L115.0,705.6L115.4,704.7L115.8,705.9L116.1,705.3L116.5,701.7L116.9,706.5L117.3,702.0L117.6,705.7L118.0,700.4L118.4,706.3L118.8,706.3L119.1,706.4L119.5,703.0L119.9,701.4L120.3,701.3L120.6,701.0L121.0,701.1L121.4,702.3L121.8,705.4L122.1,707.1L122.5,701.8L122.9,706.7L123.3,703.4L123.6,708.1L124.0,705.6L124.4,706.3L124.8,704.1L125.1,699.6L125.5,704.0L125.9,700.7L126.2,706.8L126.6,706.0L127.0,706.5L127.4,705.2L127.7,708.2L128.1,703.2L128.5,702.0L128.9,702.3L129.2,708.7L129.6,705.3L130.0,706.3L130.4,702.7L130.7,706.8L131.1,700.7L131.5,704.0L131.9,698.6L132.2,705.5L132.6,703.1L133.0,702.2L133.4,698.8L133.7,699.2L134.1,705.0L134.5,704.6L134.9,700.3L135.2,704.4L135.6,706.1L136.0,700.7L136.3,701.7L136.7,706.7L137.1,703.8L137.5,700.8L137.8,706.5L138.2,699.8L138.6,699.7L139.0,700.6L139.3,701.1L139.7,701.5L140.1,703.0L140.5,702.8L140.8,707.0L141.2,702.9L141.6,701.9L142.0,704.6L142.3,702.2L142.7,705.4L143.1,701.9L143.5,702.6L143.8,708.5L144.2,702.3L144.6,707.4L145.0,708.6L145.3,708.3L145.7,706.8L146.1,703.9L146.4,706.6L146.8,707.5L147.2,702.0L147.6,706.4L147.9,701.2L148.3,706.9L148.7,701.9L149.1,705.9L149.4,700.5L149.8,701.4L150.2,700.7L150.6,706.0L150.9,699.8L151.3,704.4L151.7,700.1L152.1,699.8L152.4,706.7L152.8,707.5L153.2,701.2L153.6,700.2L153.9,700.4L154.3,704.7L154.7,699.9L155.0,706.5L155.4,706.3L155.8,701.5L156.2,702.7L156.5,701.0L156.9,707.6L157.3,706.3L157.7,702.0L158.0,708.3L158.4,707.5L158.8,704.4L159.2,702.0L159.5,709.1L159.9,702.7L160.3,705.2L160.7,704.6L161.0,705.5L161.4,704.1L161.8,702.6L162.2,706.0L162.5,704.2L162.9,702.4L163.3,700.9L163.7,703.1L164.0,706.3L164.4,701.0L164.8,708.4L165.1,708.8L165.5,700.5L165.9,706.0L166.3,706.0L166.6,703.7L167.0,703.8L167.4,703.6L167.8,698.1L168.1,704.1L168.5,705.1L168.9,704.6L169.3,697.4L169.6,702.8L170.0,703.5L170.4,698.6L170.8,697.9L171.1,701.7L171.5,698.8L171.9,705.2L172.3,704.7L172.6,701.3L173.0,705.8L173.4,705.4L173.8,705.8L174.1,705.1L174.5,698.6L174.9,699.1L175.2,706.6L175.6,705.1L176.0,699.9L176.4,698.3L176.7,699.9L177.1,697.0L177.5,701.8L177.9,694.2L178.2,693.0L178.6,697.5L179.0,698.2L179.4,699.0L179.7,691.9L180.1,691.5L180.5,697.9L180.9,692.6L181.2,689.4L181.6,699.2L182.0,699.4L182.4,701.0L182.7,698.9L183.1,700.6L183.5,695.5L183.9,705.0L184.2,705.0L184.6,697.4L185.0,707.4L185.3,706.1L185.7,705.0L186.1,707.9L186.5,705.3L186.8,699.6L187.2,698.9L187.6,698.9L188.0,699.1L188.3,700.6L188.7,708.9L189.1,702.5L189.5,703.8L189.8,709.2L190.2,706.5L190.6,707.3L191.0,698.6L191.3,705.6L191.7,706.4L192.1,698.8L192.5,699.7L192.8,699.5L193.2,701.2L193.6,705.7L194.0,704.5L194.3,701.9L194.7,700.9L195.1,697.7L195.4,706.1L195.8,700.0L196.2,709.5L196.6,708.8L196.9,699.8L197.3,707.0L197.7,701.9L198.1,696.9L198.4,698.8L198.8,701.9L199.2,698.7L199.6,696.9L199.9,697.2L200.3,706.0L200.7,706.4L201.1,705.5L201.4,707.2L201.8,700.2L202.2,700.7L202.6,710.0L202.9,711.2L203.3,709.5L203.7,703.4L204.0,701.7L204.4,705.4L204.8,701.2L205.2,698.8L205.5,699.5L205.9,708.8L206.3,701.3L206.7,700.2L207.0,698.1L207.4,703.5L207.8,705.8L208.2,703.4L208.5,706.0L208.9,706.6L209.3,700.8L209.7,701.8L210.0,701.3L210.4,701.7L210.8,708.7L211.2,709.5L211.5,706.7L211.9,700.1L212.3,701.4L212.7,699.8L213.0,701.1L213.4,699.5L213.8,698.0L214.1,700.0L214.5,698.9L214.9,698.1L215.3,699.6L215.6,698.8L216.0,707.3L216.4,707.8L216.8,698.7L217.1,707.5L217.5,707.3L217.9,708.8L218.3,702.3L218.6,709.7L219.0,701.1L219.4,708.0L219.8,701.7L220.1,700.5L220.5,702.2L220.9,706.6L221.3,702.4L221.6,699.8L222.0,700.2L222.4,706.0L222.8,707.4L223.1,697.8L223.5,700.4L223.9,708.0L224.2,702.5L224.6,702.5L225.0,707.6L225.4,700.2L225.7,708.0L226.1,708.3L226.5,706.5L226.9,705.5L227.2,697.8L227.6,699.0L228.0,705.6L228.4,703.4L228.7,706.5L229.1,699.8L229.5,699.3L229.9,708.5L230.2,704.5L230.6,708.5L231.0,708.9L231.4,703.0L231.7,701.7L232.1,710.0L232.5,705.6L232.9,709.5L233.2,710.9L233.6,703.4L234.0,708.6L234.3,700.8L234.7,699.7L235.1,707.3L235.5,701.5L235.8,707.8L236.2,701.1L236.6,707.9L237.0,701.8L237.3,702.1L237.7,703.1L238.1,708.8L238.5,701.5L238.8,708.4L239.2,702.3L239.6,706.5L240.0,706.5L240.3,701.4L240.7,706.3L241.1,699.6L241.5,704.4L241.8,700.0L242.2,700.7L242.6,698.9L242.9,705.2L243.3,705.3L243.7,697.1L244.1,701.4L244.4,704.3L244.8,700.4L245.2,707.6L245.6,699.7L245.9,700.9L246.3,701.1L246.7,706.1L247.1,699.2L247.4,698.9L247.8,700.4L248.2,699.7L248.6,708.6L248.9,700.2L249.3,698.9L249.7,703.9L250.1,707.7L250.4,701.7L250.8,706.1L251.2,707.5L251.6,697.9L251.9,699.1L252.3,701.3L252.7,700.7L253.0,701.5L253.4,705.5L253.8,709.1L254.2,708.3L254.5,705.4L254.9,704.5L255.3,709.3L255.7,710.4L256.0,708.2L256.4,709.0L256.8,700.0L257.2,708.1L257.5,706.3L257.9,702.9L258.3,707.2L258.7,704.0L259.0,702.4L259.4,708.6L259.8,698.9L260.2,702.6L260.5,708.0L260.9,699.1L261.3,708.9L261.7,702.3L262.0,706.4L262.4,708.8L262.8,707.1L263.1,704.9L263.5,705.7L263.9,706.3L264.3,704.2L264.6,703.9L265.0,699.6L265.4,706.6L265.8,707.9L266.1,699.1L266.5,708.1L266.9,701.2L267.3,702.5L267.6,699.1L268.0,708.2L268.4,699.8L268.8,708.1L269.1,707.1L269.5,700.1L269.9,706.8L270.3,701.7L270.6,701.8L271.0,709.5L271.4,701.5L271.8,706.4L272.1,699.2L272.5,709.0L272.9,708.8L273.2,702.4L273.6,708.4L274.0,707.1L274.4,700.2L274.7,706.7L275.1,708.4L275.5,707.7L275.9,702.5L276.2,700.9L276.6,701.6L277.0,706.1L277.4,708.2L277.7,708.2L278.1,706.4L278.5,705.9L278.9,697.2L279.2,703.8L279.6,706.6L280.0,700.0L280.4,703.7L280.7,707.6L281.1,697.8L281.5,698.3L281.9,706.6L282.2,699.3L282.6,704.5L283.0,700.6L283.3,701.3L283.7,701.4L284.1,706.9L284.5,710.4L284.8,702.8L285.2,708.5L285.6,708.8L286.0,703.5L286.3,704.4L286.7,700.9L287.1,708.4L287.5,701.5L287.8,709.5L288.2,709.2L288.6,708.4L289.0,709.4L289.3,708.2L289.7,712.5L290.1,700.1L290.5,709.6L290.8,709.9L291.2,698.9L291.6,699.9L291.9,700.0L292.3,698.2L292.7,700.4L293.1,710.8L293.4,699.6L293.8,716.6L294.2,703.0L294.6,713.4L294.9,714.8L295.3,712.1L295.7,713.1L296.1,701.4L296.4,700.0L296.8,699.5L297.2,709.9L297.6,706.6L297.9,711.8L298.3,699.3L298.7,712.5L299.1,708.4L299.4,711.9L299.8,698.7L300.2,697.3L300.6,708.4L300.9,696.2L301.3,709.0L301.7,698.1L302.0,708.4L302.4,705.2L302.8,699.5L303.2,706.5L303.5,708.6L303.9,699.8L304.3,697.8L304.7,697.4L305.0,711.7L305.4,713.9L305.8,716.7L306.2,715.5L306.5,717.6L306.9,715.1L307.3,704.5L307.7,716.0L308.0,704.7L308.4,712.9L308.8,713.6L309.2,709.0L309.5,710.4L309.9,710.2L310.3,714.8L310.7,705.3L311.0,700.2L311.4,715.2L311.8,714.5L312.1,704.7L312.5,712.1L312.9,713.1L313.3,699.7L313.6,711.7L314.0,699.0L314.4,702.0L314.8,712.8L315.1,710.7L315.5,714.4L315.9,707.4L316.3,703.6L316.6,718.7L317.0,717.9L317.4,716.0L317.8,711.5L318.1,712.6L318.5,699.9L318.9,704.3L319.3,704.3L319.6,709.7L320.0,705.6L320.4,705.9L320.8,714.4L321.1,704.8L321.5,712.8L321.9,709.2L322.2,701.5L322.6,714.0L323.0,715.2L323.4,702.7L323.7,711.1L324.1,715.5L324.5,713.6L324.9,714.3L325.2,702.8L325.6,712.0L326.0,704.1L326.4,713.5L326.7,704.6L327.1,704.4L327.5,708.3L327.9,703.9L328.2,713.7L328.6,715.1L329.0,704.4L329.4,714.6L329.7,708.3L330.1,703.6L330.5,702.3L330.9,701.8L331.2,715.2L331.6,702.3L332.0,708.6L332.3,703.7L332.7,708.1L333.1,699.6L333.5,710.3L333.8,713.2L334.2,699.1L334.6,700.7L335.0,699.4L335.3,709.6L335.7,708.5L336.1,699.7L336.5,698.1L336.8,700.0L337.2,702.1L337.6,702.3L338.0,712.5L338.3,709.2L338.7,711.4L339.1,703.6L339.5,707.2L339.8,704.1L340.2,704.3L340.6,701.9L340.9,701.7L341.3,712.5L341.7,702.3L342.1,707.7L342.4,710.1L342.8,705.5L343.2,699.8L343.6,701.0L343.9,712.2L344.3,711.2L344.7,701.8L345.1,698.4L345.4,711.1L345.8,711.6L346.2,702.5L346.6,704.8L346.9,703.7L347.3,715.4L347.7,711.5L348.1,706.5L348.4,715.7L348.8,716.8L349.2,722.6L349.6,711.9L349.9,720.6L350.3,723.1L350.7,717.2L351.0,715.3L351.4,714.4L351.8,723.6L352.2,715.9L352.5,721.0L352.9,710.6L353.3,710.0L353.7,710.9L354.0,708.2L354.4,712.6L354.8,709.9L355.2,718.2L355.5,707.3L355.9,717.1L356.3,710.8L356.7,721.8L357.0,717.4L357.4,711.1L357.8,710.7L358.2,711.6L358.5,719.1L358.9,709.7L359.3,710.2L359.7,712.4L360.0,719.9L360.4,723.4" fill="none" stroke="#0000dc" stroke-width="3" stroke-linejoin="round"/>
<path d="M76.5,707.1L77.4,705.6L78.4,705.3L79.3,706.1L80.3,706.9L81.2,706.9L82.2,706.6L83.1,706.3L84.1,705.8L85.0,705.0L86.0,704.3L86.9,703.8L87.9,703.8L88.8,704.1L89.8,704.6L90.7,704.1L91.7,703.7L92.6,702.9L93.6,702.2L94.5,701.4L95.5,700.8L96.4,700.3L97.4,699.8L98.3,699.6L99.3,699.7L100.2,700.1L101.2,700.2L102.1,699.8L103.1,699.4L104.0,699.2L105.0,699.8L105.9,700.8L106.9,701.4L107.8,701.1L108.8,700.6L109.7,700.6L110.7,700.8L111.6,700.7L112.6,700.3L113.5,700.5L114.5,701.0L115.4,701.4L116.4,701.6L117.3,701.5L118.3,701.2L119.2,701.1L120.2,701.3L121.1,701.4L122.1,701.2L123.0,700.6L124.0,699.9L124.9,699.4L125.9,699.7L126.8,700.4L127.8,701.0L128.7,701.1L129.7,700.9L130.6,701.0L131.6,701.1L132.5,700.7L133.5,700.1L134.4,700.0L135.4,700.4L136.3,700.6L137.3,700.3L138.2,699.9L139.2,699.8L140.1,700.3L141.1,701.1L142.0,701.8L143.0,701.8L143.9,701.2L144.9,700.3L145.8,699.4L146.8,699.1L147.7,699.6L148.7,700.2L149.6,700.8L150.6,701.1L151.5,700.9L152.5,700.3L153.4,699.5L154.4,698.9L155.3,698.7L156.3,699.0L157.2,699.6L158.2,700.4L159.1,700.9L160.1,700.9L161.0,700.3L162.0,699.4L162.9,699.2L163.9,699.8L164.8,700.2L165.8,699.9L166.7,699.5L167.7,699.4L168.6,699.3L169.6,698.7L170.5,698.0L171.4,697.5L172.4,697.4L173.3,697.4L174.3,697.0L175.2,696.4L176.2,696.3L177.1,696.4L178.1,695.1L179.0,692.6L180.0,689.5L180.9,687.9L181.9,689.3L182.8,691.1L183.8,693.3L184.7,695.7L185.7,697.5L186.6,698.7L187.6,698.9L188.5,699.1L189.5,699.9L190.4,700.8L191.4,701.6L192.3,702.0L193.3,701.7L194.2,701.1L195.2,700.7L196.1,700.3L197.1,700.1L198.0,700.6L199.0,701.2L199.9,701.3L200.9,700.5L201.8,699.1L202.8,698.0L203.7,697.7L204.7,698.5L205.6,699.9L206.6,701.0L207.5,700.8L208.5,699.6L209.4,698.5L210.4,698.1L211.3,698.4L212.3,699.4L213.2,700.5L214.2,701.2L215.1,701.1L216.1,700.5L217.0,700.1L218.0,699.9L218.9,699.5L219.9,698.6L220.8,697.5L221.8,697.0L222.7,697.2L223.7,698.3L224.6,699.3L225.6,699.4L226.5,698.6L227.5,697.8L228.4,698.0L229.4,699.4L230.3,700.6L231.3,700.6L232.2,699.6L233.2,698.5L234.1,697.9L235.1,698.5L236.0,700.0L237.0,701.3L237.9,701.2L238.9,699.7L239.8,698.2L240.8,697.9L241.7,698.7L242.7,699.9L243.6,700.7L244.6,701.0L245.5,700.9L246.5,700.3L247.4,699.6L248.4,698.9L249.3,698.6L250.3,698.8L251.2,699.5L252.2,700.2L253.1,700.2L254.1,699.6L255.0,699.1L256.0,699.4L256.9,699.8L257.9,699.9L258.8,699.9L259.8,700.5L260.7,701.4L261.7,701.7L262.6,701.2L263.6,700.2L264.5,699.1L265.5,697.9L266.4,697.2L267.3,697.1L268.3,697.2L269.2,697.6L270.2,698.0L271.1,697.4L272.1,696.7L273.0,696.7L274.0,697.0L274.9,697.7L275.9,698.3L276.8,698.2L277.8,697.3L278.7,696.8L279.7,697.4L280.6,698.3L281.6,698.7L282.5,698.8L283.5,699.0L284.4,699.3L285.4,699.4L286.3,699.5L287.3,699.3L288.2,698.5L289.2,697.2L290.1,696.3L291.1,695.8L292.0,695.4L293.0,695.4L293.9,696.0L294.9,696.8L295.8,697.3L296.8,697.5L297.7,698.3L298.7,699.5L299.6,700.5L300.6,701.3L301.5,702.0L302.5,701.3L303.4,699.2L304.4,697.1L305.3,696.8L306.3,699.2L307.2,702.7L308.2,704.8L309.1,704.9L310.1,703.8L311.0,702.9L312.0,702.5L312.9,701.6L313.9,699.9L314.8,698.5L315.8,698.7L316.7,700.2L317.7,702.1L318.6,703.5L319.6,703.6L320.5,703.1L321.5,703.1L322.4,703.5L323.4,703.2L324.3,702.2L325.3,701.4L326.2,701.5L327.2,702.3L328.1,702.7L329.1,702.6L330.0,702.8L331.0,703.2L331.9,703.5L332.9,703.6L333.8,703.9L334.8,704.3L335.7,704.6L336.7,704.0L337.6,702.5L338.6,701.6L339.5,701.1L340.5,700.5L341.4,699.5L342.4,698.4L343.3,698.5L344.3,699.9L345.2,701.6L346.2,704.1L347.1,706.4L348.1,709.6L349.0,713.0L350.0,714.8L350.9,716.3L351.9,712.6L352.8,708.7L353.8,705.5L354.7,704.0L355.7,705.8L356.6,707.2L357.6,708.2L358.5,709.6L359.5,711.3L360.4,712.7L360.4,726.8L359.5,723.7L358.5,721.5L357.6,721.0L356.6,720.6L355.7,719.1L354.7,716.8L353.8,717.3L352.8,718.9L351.9,721.0L350.9,723.3L350.0,722.0L349.0,720.2L348.1,718.7L347.1,718.1L346.2,717.6L345.2,715.4L344.3,713.5L343.3,712.0L342.4,711.5L341.4,711.2L340.5,711.3L339.5,711.9L338.6,712.0L337.6,711.1L336.7,711.1L335.7,712.6L334.8,715.5L333.8,718.2L332.9,719.5L331.9,719.6L331.0,718.0L330.0,716.0L329.1,714.6L328.1,714.8L327.2,715.8L326.2,716.2L325.3,716.1L324.3,716.1L323.4,716.4L322.4,716.8L321.5,716.9L320.5,716.7L319.6,716.9L318.6,717.0L317.7,715.7L316.7,713.2L315.8,711.8L314.8,712.4L313.9,713.9L312.9,715.3L312.0,715.8L311.0,715.3L310.1,714.6L309.1,713.9L308.2,713.1L307.2,712.2L306.3,712.0L305.3,712.6L304.4,713.3L303.4,713.7L302.5,713.8L301.5,713.7L300.6,713.7L299.6,714.0L298.7,713.9L297.7,713.9L296.8,714.2L295.8,714.1L294.9,713.3L293.9,712.7L293.0,712.8L292.0,713.5L291.1,714.1L290.1,713.9L289.2,712.4L288.2,710.2L287.3,707.7L286.3,706.3L285.4,705.8L284.4,705.6L283.5,706.1L282.5,706.2L281.6,706.4L280.6,707.2L279.7,708.5L278.7,709.5L277.8,710.3L276.8,711.0L275.9,711.0L274.9,711.0L274.0,711.0L273.0,711.0L272.1,710.5L271.1,710.2L270.2,710.5L269.2,710.1L268.3,708.9L267.3,708.0L266.4,708.3L265.5,709.2L264.5,709.9L263.6,709.8L262.6,709.6L261.7,709.8L260.7,709.8L259.8,709.1L258.8,708.4L257.9,708.4L256.9,708.8L256.0,708.4L255.0,707.6L254.1,707.4L253.1,707.8L252.2,708.2L251.2,708.1L250.3,707.6L249.3,707.6L248.4,708.7L247.4,709.6L246.5,709.3L245.5,708.2L244.6,707.3L243.6,706.8L242.7,706.2L241.7,705.6L240.8,705.6L239.8,706.2L238.9,707.8L237.9,708.8L237.0,708.6L236.0,708.1L235.1,708.0L234.1,708.4L233.2,708.9L232.2,709.4L231.3,709.3L230.3,708.5L229.4,707.7L228.4,707.6L227.5,707.8L226.5,707.6L225.6,707.3L224.6,707.3L223.7,707.1L222.7,707.2L221.8,707.8L220.8,708.5L219.9,708.6L218.9,708.2L218.0,707.5L217.0,707.2L216.1,707.6L215.1,709.2L214.2,711.3L213.2,711.3L212.3,711.3L211.3,711.3L210.4,711.0L209.4,710.9L208.5,711.1L207.5,710.7L206.6,710.2L205.6,710.0L204.7,710.0L203.7,709.8L202.8,709.1L201.8,708.5L200.9,708.6L199.9,708.7L199.0,708.7L198.0,708.6L197.1,708.4L196.1,708.2L195.2,708.3L194.2,709.2L193.3,710.0L192.3,710.2L191.4,709.7L190.4,709.3L189.5,709.0L188.5,708.8L187.6,708.7L186.6,708.3L185.7,707.3L184.7,705.8L183.8,703.3L182.8,700.6L181.9,698.7L180.9,697.1L180.0,698.0L179.0,700.5L178.1,703.2L177.1,705.6L176.2,706.5L175.2,706.5L174.3,706.7L173.3,707.2L172.4,707.5L171.4,707.4L170.5,707.2L169.6,707.2L168.6,707.5L167.7,707.7L166.7,707.9L165.8,707.6L164.8,706.8L163.9,706.4L162.9,706.6L162.0,706.9L161.0,706.9L160.1,706.9L159.1,707.3L158.2,707.6L157.2,707.8L156.3,707.8L155.3,707.0L154.4,705.8L153.4,705.2L152.5,705.5L151.5,706.4L150.6,707.1L149.6,707.3L148.7,707.3L147.7,707.2L146.8,707.3L145.8,708.0L144.9,708.7L143.9,708.4L143.0,707.5L142.0,707.0L141.1,706.9L140.1,706.6L139.2,706.0L138.2,705.5L137.3,705.3L136.3,705.3L135.4,705.2L134.4,705.0L133.5,705.1L132.5,705.8L131.6,706.8L130.6,707.7L129.7,708.1L128.7,708.0L127.8,707.5L126.8,707.2L125.9,707.5L124.9,708.0L124.0,707.9L123.0,707.1L122.1,706.5L121.1,706.9L120.2,707.6L119.2,708.2L118.3,708.6L117.3,708.4L116.4,707.4L115.4,706.1L114.5,705.3L113.5,705.5L112.6,706.4L111.6,707.1L110.7,707.4L109.7,707.5L108.8,707.4L107.8,706.7L106.9,705.7L105.9,705.0L105.0,705.4L104.0,706.6L103.1,707.6L102.1,708.0L101.2,708.3L100.2,708.5L99.3,708.3L98.3,707.8L97.4,707.6L96.4,707.6L95.5,707.7L94.5,708.1L93.6,708.1L92.6,708.2L91.7,708.4L90.7,709.0L89.8,709.7L88.8,710.5L87.9,711.7L86.9,712.7L86.0,713.0L85.0,713.1L84.1,713.3L83.1,713.8L82.2,714.3L81.2,715.4L80.3,716.5L79.3,717.0L78.4,717.1L77.4,717.4L76.5,718.3Z" fill="#0000dc" stroke="none"/>
<path d="M335.8,684.1L335.9,687.6L336.0,689.5L336.2,695.6L336.3,694.8L336.4,695.2L336.6,701.0L336.7,705.3L336.8,700.3L336.9,699.5L337.1,699.8L337.2,694.6L337.3,690.2L337.4,692.4L337.6,686.1L337.7,684.6" fill="none" stroke="#0000dc" stroke-width="2.6" stroke-linejoin="round"/>
<path d="M289.4,676.2L289.7,679.8L290.0,682.5L290.2,687.3L290.5,691.0L290.8,695.2L291.0,696.7L291.3,707.9" fill="none" stroke="#0000dc" stroke-width="2.6" stroke-dasharray="2.6,2"/>
<path d="M323.5,672.6L323.8,676.1L324.0,681.3L324.3,688.2L324.6,687.6L324.8,699.9L325.1,697.3L325.4,703.3" fill="none" stroke="#0000dc" stroke-width="2.6" stroke-dasharray="2.6,2"/>
<path d="M293.8,708.3L294.0,712.4L294.3,718.7L294.5,727.3L294.7,729.9L295.0,738.4L295.2,742.7L295.4,752.4L295.7,757.5L295.9,744.9L296.2,738.0L296.4,737.1L296.6,726.9L296.9,720.3L297.1,709.5L297.4,705.6L297.6,710.4L297.8,712.0L298.1,723.7L298.3,726.9L298.6,738.4L298.8,744.9L299.0,752.2L299.3,753.0" fill="none" stroke="#0000dc" stroke-width="2.6" stroke-dasharray="2.6,2"/>
<path d="M301.7,706.9L302.0,712.5L302.2,719.3L302.5,720.3L302.7,729.2L303.0,738.0L303.2,738.1L303.5,745.2L303.7,751.7L303.9,745.3L304.2,741.0L304.4,734.8L304.7,723.1L304.9,715.9L305.2,710.9L305.4,708.5L305.7,705.3L305.9,716.9L306.2,723.0L306.4,725.7L306.7,735.6L306.9,737.0L307.2,747.4L307.4,749.0" fill="none" stroke="#0000dc" stroke-width="2.6" stroke-dasharray="2.6,2"/>
<path d="M315.9,701.1L316.1,709.8L316.3,713.6L316.5,722.1L316.7,731.1L316.9,738.1L317.1,740.0L317.2,752.1L317.4,746.9L317.6,742.1L317.8,740.2L318.0,732.3L318.2,723.4L318.4,719.4L318.6,708.9L318.8,702.1" fill="none" stroke="#0000dc" stroke-width="2.6" stroke-dasharray="2.6,2"/>
<path d="M318.8,692.7L319.1,702.3L319.3,713.7L319.6,722.3L319.9,730.9L320.2,745.1L320.5,754.4L320.8,756.2L321.1,762.1L321.4,756.5L321.7,749.5L322.0,741.8L322.3,726.8L322.5,721.8L322.8,710.2L323.1,703.1L323.4,701.0L323.7,710.0L324.0,720.2L324.3,726.3L324.6,736.1L324.9,748.5L325.2,752.0L325.5,760.4L325.7,761.1L326.0,750.7L326.3,741.8L326.6,733.6L326.9,727.5L327.2,717.5L327.5,708.9L327.8,699.8L328.1,704.6L328.4,714.5L328.7,725.7L329.0,732.9L329.2,738.5L329.5,750.0L329.8,755.6L330.1,763.4" fill="none" stroke="#0000dc" stroke-width="2.6" stroke-dasharray="2.6,2"/>
<path d="M76.5,844.7L360.4,672.5" fill="none" stroke="#3838f0" stroke-width="3.0" stroke-linejoin="round"/>
</g>
<path d="M76.50,630.50H360.40M76.50,851.60H360.40" stroke="#626262" stroke-width="1.15" fill="none"/>
<path d="M76.50,630.50V851.60" stroke="#44449c" stroke-width="1.15" fill="none"/>
<path d="M360.40,630.50V851.60" stroke="#303030" stroke-width="1.2" fill="none"/>
<path d="M76.50,851.60v-2.8M76.50,630.50v2.8M171.13,851.60v-2.8M171.13,630.50v2.8M265.77,851.60v-2.8M265.77,630.50v2.8M360.40,851.60v-2.8M360.40,630.50v2.8" stroke="#404040" stroke-width="1" fill="none"/>
<path d="M76.50,851.60h2.8M76.50,777.90h2.8M76.50,704.20h2.8M76.50,630.50h2.8" stroke="#44449c" stroke-width="1" fill="none"/>
<path d="M360.40,851.60h-2.8M360.40,777.90h-2.8M360.40,704.20h-2.8M360.40,630.50h-2.8" stroke="#303030" stroke-width="1" fill="none"/>
<g font-size="24.5" fill="#0808dc" stroke="#0808dc" text-anchor="end">
<text x="69.00" y="860.60">-40</text>
<text x="69.00" y="786.90">-20</text>
<text x="69.00" y="713.20">0</text>
<text x="69.00" y="639.50">20</text>
</g>
<g font-size="24.5" fill="#111111" stroke="#111111" text-anchor="start">
<text x="368.00" y="860.70">30</text>
<text x="368.00" y="787.00">40</text>
<text x="368.00" y="713.30">50</text>
<text x="368.00" y="639.60">60</text>
</g>
<g font-size="24.5" fill="#111111" stroke="#111111" text-anchor="middle">
<text x="76.50" y="884.00">0</text>
<text x="171.13" y="884.00">0.5</text>
<text x="265.77" y="884.00">1</text>
<text x="360.40" y="884.00">1.5</text>
</g>
<text font-size="27.5" fill="#111111" stroke="#111111" text-anchor="middle" x="218.45" y="915.40">Time [hour]</text>
<text font-size="28.19" fill="#0808dc" stroke="#0808dc" text-anchor="middle" transform="translate(26.90,741.05) rotate(-90)">Residual [mm]</text>
<text font-size="28.19" fill="#111111" stroke="#111111" text-anchor="middle" transform="translate(422.50,741.05) rotate(-90)">Elevation [deg]</text>
<rect x="89.50" y="816.30" width="217" height="22.1" fill="#fff" stroke="#111111" stroke-width="1.2"/>
<line x1="93.00" y1="828.15" x2="120.50" y2="828.15" stroke="#ff0000" stroke-width="3" stroke-dasharray="3,2.5"/>
<text font-size="17" fill="#111111" x="123.00" y="833.10">raw</text>
<rect x="167.00" y="827.15" width="2" height="2" fill="#0808dc"/>
<text font-size="17" fill="#111111" x="185.00" y="833.10">SF</text>
<line x1="210.00" y1="828.15" x2="236.50" y2="828.15" stroke="#0808dc" stroke-width="3"/>
<text font-size="17" fill="#111111" x="239.50" y="833.10">elevation</text>
<line x1="597.30" y1="630.50" x2="597.30" y2="851.60" stroke="#dedede" stroke-width="1"/>
<line x1="678.10" y1="630.50" x2="678.10" y2="851.60" stroke="#dedede" stroke-width="1"/>
<line x1="758.90" y1="630.50" x2="758.90" y2="851.60" stroke="#dedede" stroke-width="1"/>
<line x1="516.50" y1="777.90" x2="799.30" y2="777.90" stroke="#dcdcf8" stroke-width="1"/>
<line x1="516.50" y1="704.20" x2="799.30" y2="704.20" stroke="#dcdcf8" stroke-width="1"/>
<clipPath id="c5795"><rect x="516.5" y="630.5" width="282.79999999999995" height="221.10000000000002"/></clipPath>
<g clip-path="url(#c5795)">
<path d="M516.5,777.3L517.3,779.3L518.1,776.1L518.9,779.5L519.7,777.0L520.5,780.6L521.3,778.5L522.2,780.6L523.0,779.5L523.8,780.7L524.6,777.5L525.4,779.9L526.2,777.7L527.0,781.0L527.8,778.8L528.6,782.6L529.4,782.0L530.2,785.7L531.0,782.8L531.9,782.8L532.7,778.7L533.5,781.2L534.3,778.6L535.1,780.8L535.9,777.5L536.7,779.2L537.5,776.6L538.3,778.0L539.1,775.5L539.9,778.9L540.7,776.3L541.5,779.9L542.4,776.7L543.2,781.8L544.0,777.0L544.8,773.4L545.6,758.5L546.4,772.5L547.2,776.0L548.0,787.1L548.8,785.1L549.6,796.8L550.4,786.3L551.2,792.0L552.1,786.7L552.9,788.4L553.7,781.6L554.5,788.6L555.3,779.3L556.1,785.5L556.9,780.7L557.7,782.7L558.5,777.3L559.3,780.4L560.1,776.2L560.9,780.1L561.7,776.1L562.6,780.2L563.4,776.9L564.2,779.7L565.0,776.2L565.8,781.1L566.6,778.6L567.4,780.2L568.2,778.0L569.0,781.3L569.8,778.5L570.6,781.9L571.4,777.5L572.3,781.1L573.1,778.8L573.9,781.0L574.7,779.1L575.5,780.5L576.3,769.0L577.1,778.4L577.9,759.9L578.7,763.5L579.5,758.3L580.3,773.1L581.1,764.0L581.9,774.3L582.8,770.9L583.6,776.0L584.4,761.5L585.2,767.9L586.0,749.5L586.8,759.0L587.6,753.0L588.4,771.2L589.2,767.8L590.0,782.7L590.8,771.7L591.6,787.4L592.5,776.8L593.3,791.5L594.1,779.5L594.9,791.3L595.7,788.6L596.5,801.3L597.3,792.0L598.1,797.1L598.9,785.3L599.7,797.2L600.5,782.1L601.3,787.6L602.1,779.2L603.0,791.0L603.8,783.1L604.6,790.3L605.4,788.8L606.2,803.6L607.0,789.2L607.8,801.9L608.6,787.6L609.4,793.4L610.2,778.8L611.0,784.7L611.8,775.6L612.7,776.8L613.5,771.4L614.3,777.3L615.1,766.6L615.9,779.1L616.7,781.3L617.5,793.6L618.3,790.1L619.1,799.4L619.9,784.9L620.7,793.9L621.5,783.9L622.3,785.5L623.2,775.9L624.0,782.2L624.8,766.4L625.6,778.2L626.4,760.6L627.2,773.5L628.0,760.1L628.8,768.2L629.6,764.5L630.4,777.4L631.2,766.9L632.0,776.6L632.9,770.7L633.7,787.9L634.5,777.6L635.3,791.7L636.1,779.7L636.9,781.5L637.7,766.9L638.5,773.2L639.3,760.8L640.1,769.4L640.9,754.9L641.7,765.6L642.5,757.1L643.4,769.2L644.2,757.4L645.0,766.7L645.8,756.8L646.6,770.5L647.4,761.6L648.2,773.1L649.0,763.8L649.8,770.2L650.6,760.2L651.4,776.3L652.2,766.7L653.1,784.5L653.9,774.8L654.7,789.1L655.5,777.7L656.3,794.1L657.1,786.5L657.9,794.5L658.7,787.3L659.5,794.4L660.3,785.3L661.1,792.3L661.9,787.4L662.7,794.3L663.6,782.0L664.4,791.5L665.2,779.5L666.0,794.5L666.8,774.5L667.6,778.5L668.4,763.8L669.2,770.6L670.0,752.0L670.8,763.5L671.6,753.7L672.4,762.6L673.3,752.4L674.1,766.1L674.9,754.6L675.7,767.2L676.5,755.3L677.3,763.7L678.1,753.5L678.9,765.6L679.7,759.0L680.5,768.4L681.3,757.3L682.1,768.6L682.9,771.2L683.8,793.0L684.6,778.9L685.4,790.5L686.2,777.7L687.0,791.2L687.8,776.5L688.6,779.5L689.4,768.5L690.2,773.6L691.0,754.3L691.8,763.3L692.6,748.4L693.5,756.0L694.3,741.9L695.1,746.2L695.9,744.2L696.7,755.3L697.5,750.3L698.3,760.1L699.1,753.4L699.9,757.7L700.7,745.0L701.5,750.7L702.3,741.5L703.1,746.3L704.0,733.4L704.8,735.3L705.6,724.5L706.4,728.8L707.2,719.6L708.0,719.0L708.8,710.3L709.6,712.9L710.4,704.7L711.2,705.0L712.0,697.6L712.8,701.8L713.7,699.1L714.5,708.2" fill="none" stroke="#ff0000" stroke-width="3.4" stroke-linejoin="round" stroke-dasharray="none"/>
<path d="M748.4,773.6L749.2,772.2L750.1,758.0L750.9,762.7L751.7,753.5L752.5,763.0L753.4,751.7L754.2,765.9L755.0,758.3L755.8,770.9L756.7,763.0L757.5,776.1L758.3,775.4L759.2,787.0L760.0,781.4L760.8,788.4L761.6,780.4L762.5,791.3L763.3,783.3L764.1,791.9L764.9,782.5L765.8,795.7L766.6,789.1L767.4,798.0L768.2,784.5L769.1,798.8L769.9,788.0L770.7,795.8L771.6,790.8L772.4,799.8L773.2,787.5L774.0,794.5L774.9,785.2L775.7,797.0L776.5,787.1L777.3,795.8L778.2,788.3L779.0,795.3L779.8,790.2L780.7,797.6L781.5,785.9L782.3,794.2L783.1,785.4" fill="none" stroke="#ff0000" stroke-width="3.4" stroke-linejoin="round" stroke-dasharray="none"/>
<path d="M516.5,776.7L516.7,777.0L517.0,779.0L517.2,777.1L517.5,777.2L517.7,778.7L518.0,777.0L518.2,778.5L518.5,779.0L518.7,777.1L519.0,778.7L519.2,776.1L519.5,778.8L519.7,778.5L520.0,778.5L520.2,779.4L520.5,778.9L520.7,778.8L521.0,780.0L521.2,779.9L521.5,778.6L521.7,779.4L522.0,777.4L522.2,780.0L522.4,777.3L522.7,780.0L522.9,780.2L523.2,778.7L523.4,777.4L523.7,778.0L523.9,779.5L524.2,777.8L524.4,778.0L524.7,779.4L524.9,777.6L525.2,776.9L525.4,777.1L525.7,779.0L525.9,779.2L526.2,779.0L526.4,778.4L526.7,780.2L526.9,780.0L527.2,779.9L527.4,777.8L527.6,777.7L527.9,776.9L528.1,778.8L528.4,778.5L528.6,776.4L528.9,779.3L529.1,778.2L529.4,780.9L529.6,778.7L529.9,782.4L530.1,780.2L530.4,784.1L530.6,782.8L530.9,783.4L531.1,787.1L531.4,785.9L531.6,785.7L531.9,783.4L532.1,782.4L532.4,780.1L532.6,780.7L532.9,779.9L533.1,779.5L533.3,778.0L533.6,779.6L533.8,778.0L534.1,778.9L534.3,778.1L534.6,778.0L534.8,779.7L535.1,777.6L535.3,779.1L535.6,777.6L535.8,778.7L536.1,778.0L536.3,778.9L536.6,780.5L536.8,779.3L537.1,780.4L537.3,778.0L537.6,777.9L537.8,780.3L538.1,778.0L538.3,779.3L538.6,778.3L538.8,778.4L539.0,780.2L539.3,778.4L539.5,781.1L539.8,778.3L540.0,780.2L540.3,778.2L540.5,780.5L540.8,778.0L541.0,780.0L541.3,777.7L541.5,777.8L541.8,777.4L542.0,777.8L542.3,779.8L542.5,779.8L542.8,777.8L543.0,777.7L543.3,777.2L543.5,777.1L543.8,775.2L544.0,780.1L544.2,780.3L544.5,783.1L544.7,774.2L545.0,783.2L545.2,776.0L545.5,776.5L545.7,775.2L546.0,777.7L546.2,783.4L546.5,773.9L546.7,774.1L547.0,785.4L547.2,774.8L547.5,777.8L547.7,775.5L548.0,774.7L548.2,775.3L548.5,780.9L548.7,775.9L549.0,784.2L549.2,781.0L549.5,780.2L549.7,784.7L549.9,775.1L550.2,776.1L550.4,782.6L550.7,785.4L550.9,787.2L551.2,776.0L551.4,785.9L551.7,785.3L551.9,781.7L552.2,772.5L552.4,783.0L552.7,782.8L552.9,781.3L553.2,780.0L553.4,775.0L553.7,783.0L553.9,781.8L554.2,775.5L554.4,784.4L554.7,784.7L554.9,776.3L555.2,777.0L555.4,774.8L555.6,775.5L555.9,776.7L556.1,784.9L556.4,784.0L556.6,782.0L556.9,773.0L557.1,779.4L557.4,781.8L557.6,771.2L557.9,780.4L558.1,784.8L558.4,776.7L558.6,778.3L558.9,783.3L559.1,782.6L559.4,778.8L559.6,781.0L559.9,778.6L560.1,779.1L560.4,777.8L560.6,779.6L560.8,777.6L561.1,778.1L561.3,779.4L561.6,777.7L561.8,779.0L562.1,779.0L562.3,779.5L562.6,778.1L562.8,779.1L563.1,779.4L563.3,780.2L563.6,777.7L563.8,780.0L564.1,777.9L564.3,780.5L564.6,781.0L564.8,778.1L565.1,778.6L565.3,778.2L565.6,779.6L565.8,780.5L566.1,777.9L566.3,777.7L566.5,779.5L566.8,780.4L567.0,779.8L567.3,777.6L567.5,780.3L567.8,779.4L568.0,779.8L568.3,777.6L568.5,777.5L568.8,778.6L569.0,777.8L569.3,777.2L569.5,779.4L569.8,778.3L570.0,777.6L570.3,780.2L570.5,778.0L570.8,779.9L571.0,779.9L571.3,780.0L571.5,778.9L571.8,778.0L572.0,779.5L572.2,778.3L572.5,779.8L572.7,778.0L573.0,779.0L573.2,780.2L573.5,778.8L573.7,778.7L574.0,780.1L574.2,779.4L574.5,779.3L574.7,780.0L575.0,781.9L575.2,782.8L575.5,781.4L575.7,777.3L576.0,775.3L576.2,778.0L576.5,779.1L576.7,776.4L577.0,782.3L577.2,773.5L577.4,777.8L577.7,778.7L577.9,770.7L578.2,779.0L578.4,773.5L578.7,779.1L578.9,772.3L579.2,775.3L579.4,783.3L579.7,774.3L579.9,781.4L580.2,775.7L580.4,774.6L580.7,774.2L580.9,773.3L581.2,775.9L581.4,774.3L581.7,783.7L581.9,777.5L582.2,777.5L582.4,775.3L582.7,781.9L582.9,784.3L583.1,777.2L583.4,780.5L583.6,776.7L583.9,783.1L584.1,782.2L584.4,774.9L584.6,772.8L584.9,774.3L585.1,780.2L585.4,775.4L585.6,773.6L585.9,773.8L586.1,773.4L586.4,778.0L586.6,772.5L586.9,780.8L587.1,773.2L587.4,783.6L587.6,784.1L587.9,782.6L588.1,775.4L588.4,772.3L588.6,781.1L588.8,775.9L589.1,783.0L589.3,780.6L589.6,775.0L589.8,774.5L590.1,774.1L590.3,776.0L590.6,782.2L590.8,773.6L591.1,772.6L591.3,778.2L591.6,770.6L591.8,773.0L592.1,776.3L592.3,784.4L592.6,785.9L592.8,780.7L593.1,780.2L593.3,778.0L593.6,776.4L593.8,773.7L594.0,774.4L594.3,781.0L594.5,780.1L594.8,779.7L595.0,780.9L595.3,773.3L595.5,783.1L595.8,783.0L596.0,776.6L596.3,781.6L596.5,780.5L596.8,776.2L597.0,773.2L597.3,773.2L597.5,777.4L597.8,774.4L598.0,782.4L598.3,785.0L598.5,779.7L598.8,777.1L599.0,786.3L599.3,779.0L599.5,784.2L599.7,775.7L600.0,772.6L600.2,773.7L600.5,774.5L600.7,776.1L601.0,774.5L601.2,775.9L601.5,779.4L601.7,781.7L602.0,782.3L602.2,775.0L602.5,783.6L602.7,779.3L603.0,780.5L603.2,777.9L603.5,778.8L603.7,781.0L604.0,782.5L604.2,774.1L604.5,784.5L604.7,783.8L605.0,786.2L605.2,785.6L605.4,779.8L605.7,783.5L605.9,783.3L606.2,773.9L606.4,778.8L606.7,774.1L606.9,775.0L607.2,779.0L607.4,771.9L607.7,781.9L607.9,778.8L608.2,783.4L608.4,775.3L608.7,777.9L608.9,777.0L609.2,775.6L609.4,775.2L609.7,775.0L609.9,775.5L610.2,773.8L610.4,774.2L610.6,775.4L610.9,782.2L611.1,778.6L611.4,782.2L611.6,777.1L611.9,775.9L612.1,782.5L612.4,780.6L612.6,776.5L612.9,782.8L613.1,774.1L613.4,781.3L613.6,780.6L613.9,775.8L614.1,773.0L614.4,778.7L614.6,774.3L614.9,779.5L615.1,781.1L615.4,779.1L615.6,781.4L615.9,776.7L616.1,785.6L616.3,785.0L616.6,784.8L616.8,778.4L617.1,778.0L617.3,773.9L617.6,782.1L617.8,774.7L618.1,774.2L618.3,774.4L618.6,781.4L618.8,774.1L619.1,774.7L619.3,775.5L619.6,780.4L619.8,777.4L620.1,779.4L620.3,775.8L620.6,774.6L620.8,782.6L621.1,774.2L621.3,782.8L621.6,783.2L621.8,774.7L622.0,782.0L622.3,783.0L622.5,781.8L622.8,772.8L623.0,783.1L623.3,780.7L623.5,773.3L623.8,783.9L624.0,773.9L624.3,783.1L624.5,776.3L624.8,785.4L625.0,786.4L625.3,784.7L625.5,785.5L625.8,783.7L626.0,781.8L626.3,786.7L626.5,779.2L626.8,775.3L627.0,775.8L627.2,776.0L627.5,776.8L627.7,783.2L628.0,781.5L628.2,776.1L628.5,781.0L628.7,780.3L629.0,780.8L629.2,775.0L629.5,777.1L629.7,784.1L630.0,776.0L630.2,780.7L630.5,783.5L630.7,777.9L631.0,774.4L631.2,777.0L631.5,780.8L631.7,784.1L632.0,780.1L632.2,773.4L632.5,782.6L632.7,772.4L632.9,780.0L633.2,773.2L633.4,772.7L633.7,773.3L633.9,775.3L634.2,776.3L634.4,779.9L634.7,774.8L634.9,775.8L635.2,776.0L635.4,782.5L635.7,784.2L635.9,783.7L636.2,783.1L636.4,780.6L636.7,776.8L636.9,774.9L637.2,781.7L637.4,773.8L637.7,782.1L637.9,773.4L638.2,774.8L638.4,782.1L638.6,781.6L638.9,780.8L639.1,781.0L639.4,772.1L639.6,781.4L639.9,778.3L640.1,780.8L640.4,774.1L640.6,772.7L640.9,774.0L641.1,776.5L641.4,782.0L641.6,779.4L641.9,782.5L642.1,776.3L642.4,775.1L642.6,775.6L642.9,779.6L643.1,776.1L643.4,783.1L643.6,781.6L643.8,771.9L644.1,780.7L644.3,781.2L644.6,773.5L644.8,773.9L645.1,780.8L645.3,776.0L645.6,772.6L645.8,773.5L646.1,781.4L646.3,774.8L646.6,776.4L646.8,781.1L647.1,775.7L647.3,783.7L647.6,783.5L647.8,782.8L648.1,775.9L648.3,783.2L648.6,784.6L648.8,776.5L649.1,784.6L649.3,783.1L649.5,772.9L649.8,774.1L650.0,780.8L650.3,773.1L650.5,777.0L650.8,777.9L651.0,778.3L651.3,772.1L651.5,780.6L651.8,771.8L652.0,773.9L652.3,782.0L652.5,773.0L652.8,773.9L653.0,779.9L653.3,779.9L653.5,772.0L653.8,775.5L654.0,779.8L654.3,773.2L654.5,776.0L654.7,778.5L655.0,775.7L655.2,784.0L655.5,784.6L655.7,778.5L656.0,775.0L656.2,782.9L656.5,783.7L656.7,783.1L657.0,784.3L657.2,782.5L657.5,774.5L657.7,774.4L658.0,778.5L658.2,783.5L658.5,781.0L658.7,774.5L659.0,775.0L659.2,776.3L659.5,783.2L659.7,777.7L660.0,783.5L660.2,782.8L660.4,780.7L660.7,776.8L660.9,783.7L661.2,778.8L661.4,776.5L661.7,783.8L661.9,780.2L662.2,783.1L662.4,775.3L662.7,784.0L662.9,776.8L663.2,774.4L663.4,784.2L663.7,784.2L663.9,776.3L664.2,780.6L664.4,781.4L664.7,780.0L664.9,773.6L665.2,776.3L665.4,772.9L665.7,776.5L665.9,778.1L666.1,782.6L666.4,779.7L666.6,782.5L666.9,776.1L667.1,781.5L667.4,773.1L667.6,781.1L667.9,782.3L668.1,772.1L668.4,779.9L668.6,777.0L668.9,781.9L669.1,774.2L669.4,776.7L669.6,785.9L669.9,785.8L670.1,780.4L670.4,777.5L670.6,779.9L670.9,778.3L671.1,783.7L671.3,782.6L671.6,784.3L671.8,778.5L672.1,780.3L672.3,782.6L672.6,776.0L672.8,774.6L673.1,782.8L673.3,782.6L673.6,782.3L673.8,772.8L674.1,771.6L674.3,780.4L674.6,770.5L674.8,771.3L675.1,780.0L675.3,775.1L675.6,781.4L675.8,785.5L676.1,783.0L676.3,782.9L676.6,782.7L676.8,778.1L677.0,779.3L677.3,779.4L677.5,776.7L677.8,777.0L678.0,783.5L678.3,773.7L678.5,776.6L678.8,782.9L679.0,783.1L679.3,774.6L679.5,776.0L679.8,782.0L680.0,777.2L680.3,786.0L680.5,776.1L680.8,783.5L681.0,776.9L681.3,777.5L681.5,774.6L681.8,781.0L682.0,782.9L682.3,784.2L682.5,781.0L682.7,781.5L683.0,782.8L683.2,777.0L683.5,775.1L683.7,783.8L684.0,783.8L684.2,775.6L684.5,773.2L684.7,774.8L685.0,783.3L685.2,783.3L685.5,778.7L685.7,783.9L686.0,780.9L686.2,779.8L686.5,773.2L686.7,775.9L687.0,773.8L687.2,779.4L687.5,779.3L687.7,783.0L687.9,774.8L688.2,782.9L688.4,782.9L688.7,773.8L688.9,776.1L689.2,772.0L689.4,780.3L689.7,771.7L689.9,780.8L690.2,771.9L690.4,781.3L690.7,776.6L690.9,775.3L691.2,779.9L691.4,775.2L691.7,776.6L691.9,776.7L692.2,773.1L692.4,776.8L692.7,772.7L692.9,772.7L693.2,775.3L693.4,779.7L693.6,772.8L693.9,772.9L694.1,771.4L694.4,773.9L694.6,772.1L694.9,776.4L695.1,773.9L695.4,780.4L695.6,783.1L695.9,776.0L696.1,785.3L696.4,783.4L696.6,775.0L696.9,773.4L697.1,779.4L697.4,774.7L697.6,779.1L697.9,779.9L698.1,773.0L698.4,781.1L698.6,775.3L698.9,774.1L699.1,781.8L699.3,775.2L699.6,783.6L699.8,783.0L700.1,785.5L700.3,784.1L700.6,776.3L700.8,780.6L701.1,780.0L701.3,776.3L701.6,780.0L701.8,776.0L702.1,775.6L702.3,783.3L702.6,780.4L702.8,783.3L703.1,784.9L703.3,776.5L703.6,774.3L703.8,775.1L704.1,780.2L704.3,783.1L704.5,774.0L704.8,777.6L705.0,774.5L705.3,781.8L705.5,776.0L705.8,774.8L706.0,775.2L706.3,781.7L706.5,774.3L706.8,776.8L707.0,784.4L707.3,784.7L707.5,776.8L707.8,784.1L708.0,783.4L708.3,779.3L708.5,784.2L708.8,784.9L709.0,783.3L709.3,783.5L709.5,783.0L709.8,775.5L710.0,783.5L710.2,779.3L710.5,773.9L710.7,776.3L711.0,783.4L711.2,783.8L711.5,774.8L711.7,775.9L712.0,776.3L712.2,781.0L712.5,780.7L712.7,780.0L713.0,781.0L713.2,775.3L713.5,783.0L713.7,781.1L714.0,776.1L714.2,777.6L714.5,781.9" fill="none" stroke="#0000dc" stroke-width="3" stroke-linejoin="round"/>
<path d="M748.4,773.8L748.6,766.6L748.9,766.8L749.1,770.9L749.4,779.8L749.6,778.0L749.9,771.7L750.1,769.4L750.4,777.4L750.6,778.8L750.9,773.4L751.1,770.3L751.4,779.3L751.6,770.7L751.9,769.5L752.1,773.3L752.4,775.3L752.6,766.3L752.9,767.5L753.1,777.8L753.4,780.4L753.6,779.0L753.9,777.5L754.1,780.7L754.4,779.0L754.6,772.5L754.9,772.2L755.1,771.5L755.4,771.3L755.6,779.5L755.9,775.1L756.1,772.9L756.4,775.3L756.6,776.5L756.9,774.1L757.1,772.7L757.4,772.4L757.6,781.2L757.9,781.9L758.1,779.9L758.4,771.0L758.6,779.1L758.9,771.0L759.1,772.7L759.4,768.6L759.6,780.6L759.9,770.0L760.1,781.2L760.4,771.9L760.6,773.8L760.9,780.2L761.1,781.1L761.4,780.8L761.6,780.2L761.9,785.5L762.1,782.5L762.4,786.6L762.6,780.7L762.9,779.3L763.1,784.4L763.4,783.8L763.6,782.9L763.9,784.3L764.1,790.8L764.4,790.2L764.6,788.5L764.9,776.4L765.1,782.5L765.4,778.7L765.6,788.1L765.9,782.6L766.1,786.2L766.4,790.2L766.6,791.0L766.9,791.6L767.1,782.8L767.4,782.6L767.6,780.9L767.9,790.2L768.1,786.0L768.4,783.1L768.6,785.7L768.9,781.4L769.1,793.0L769.4,780.9L769.6,790.2L769.9,783.3L770.1,787.5L770.4,787.2L770.6,781.5L770.9,793.6L771.1,794.4L771.4,780.7L771.6,788.0L771.9,789.9L772.1,794.2L772.4,789.2L772.6,786.8L772.9,784.5L773.1,793.5L773.4,796.3L773.6,785.0L773.9,793.9L774.1,785.1L774.4,783.9L774.6,782.3L774.9,795.4L775.1,794.9L775.4,793.9L775.6,785.9L775.9,794.1L776.1,794.1L776.4,785.5L776.6,797.0L776.9,796.1L777.1,795.1L777.4,786.7L777.6,792.3L777.9,790.7L778.1,788.7L778.4,788.0L778.6,793.4L778.9,796.9L779.1,784.7L779.4,783.1L779.6,785.8L779.9,791.7L780.1,779.4L780.4,793.1L780.6,780.4L780.9,783.1L781.1,790.7L781.4,782.5L781.6,782.1L781.9,790.0L782.1,782.8L782.4,774.9L782.6,775.9L782.9,784.9L783.1,783.7" fill="none" stroke="#0000dc" stroke-width="3" stroke-linejoin="round"/>
<path d="M516.5,776.5L517.0,776.5L517.5,776.5L518.0,776.6L518.5,776.4L519.0,776.3L519.5,776.6L520.0,777.1L520.5,777.4L521.0,777.6L521.5,777.6L522.0,777.6L522.5,777.6L522.9,777.6L523.4,777.5L523.9,777.2L524.4,776.8L524.9,776.5L525.4,776.4L525.9,776.5L526.4,776.7L526.9,777.0L527.4,777.3L527.9,777.7L528.4,777.8L528.9,778.3L529.4,779.2L529.9,780.2L530.4,781.2L530.9,782.2L531.4,781.5L531.9,780.0L532.4,778.6L532.9,777.8L533.4,777.8L533.9,777.6L534.4,777.4L534.9,777.6L535.4,778.0L535.8,778.3L536.3,778.3L536.8,778.0L537.3,777.7L537.8,777.8L538.3,778.0L538.8,778.2L539.3,778.1L539.8,777.9L540.3,777.8L540.8,777.8L541.3,777.6L541.8,777.3L542.3,777.2L542.8,777.3L543.3,777.3L543.8,776.3L544.3,775.3L544.8,774.8L545.3,776.3L545.8,777.2L546.3,777.2L546.8,776.5L547.3,774.7L547.8,773.1L548.3,772.3L548.7,772.2L549.2,772.2L549.7,771.8L550.2,772.1L550.7,773.4L551.2,774.2L551.7,773.8L552.2,773.2L552.7,774.0L553.2,776.0L553.7,777.2L554.2,777.2L554.7,777.2L555.2,775.9L555.7,773.5L556.2,772.5L556.7,772.9L557.2,773.2L557.7,772.8L558.2,772.4L558.7,773.5L559.2,776.7L559.7,777.6L560.2,777.6L560.7,777.7L561.2,777.8L561.6,777.9L562.1,777.9L562.6,777.9L563.1,777.8L563.6,777.7L564.1,777.5L564.6,777.6L565.1,777.7L565.6,777.6L566.1,777.6L566.6,777.9L567.1,778.2L567.6,778.3L568.1,778.2L568.6,778.0L569.1,777.7L569.6,777.3L570.1,777.0L570.6,777.0L571.1,777.2L571.6,777.3L572.1,777.3L572.6,777.3L573.1,777.3L573.6,777.5L574.1,777.6L574.5,777.7L575.0,777.0L575.5,776.1L576.0,774.9L576.5,773.9L577.0,773.5L577.5,773.3L578.0,773.6L578.5,774.4L579.0,775.1L579.5,775.2L580.0,774.5L580.5,773.2L581.0,772.0L581.5,772.1L582.0,773.5L582.5,774.9L583.0,775.6L583.5,775.5L584.0,775.1L584.5,774.9L585.0,774.9L585.5,774.8L586.0,774.7L586.5,774.7L587.0,774.7L587.4,774.9L587.9,775.3L588.4,775.2L588.9,774.2L589.4,773.0L589.9,772.3L590.4,772.6L590.9,773.2L591.4,773.7L591.9,774.1L592.4,774.5L592.9,774.3L593.4,773.5L593.9,772.4L594.4,771.7L594.9,771.7L595.4,771.7L595.9,771.4L596.4,771.7L596.9,772.9L597.4,773.8L597.9,774.2L598.4,774.8L598.9,775.2L599.4,775.2L599.9,775.3L600.3,776.0L600.8,776.2L601.3,775.3L601.8,774.2L602.3,774.2L602.8,774.9L603.3,775.5L603.8,775.4L604.3,774.7L604.8,774.2L605.3,773.7L605.8,772.9L606.3,772.6L606.8,773.3L607.3,774.3L607.8,774.5L608.3,773.6L608.8,772.2L609.3,771.6L609.8,772.4L610.3,773.6L610.8,774.4L611.3,774.9L611.8,775.6L612.3,776.4L612.8,776.6L613.2,775.8L613.7,774.2L614.2,772.9L614.7,772.5L615.2,772.9L615.7,773.5L616.2,773.7L616.7,773.4L617.2,773.6L617.7,774.4L618.2,775.0L618.7,774.8L619.2,774.4L619.7,774.4L620.2,774.5L620.7,774.6L621.2,773.8L621.7,772.3L622.2,771.0L622.7,771.1L623.2,772.1L623.7,773.1L624.2,774.0L624.7,774.6L625.2,774.4L625.7,773.4L626.1,772.4L626.6,772.7L627.1,773.6L627.6,774.4L628.1,774.7L628.6,775.0L629.1,775.0L629.6,774.5L630.1,773.7L630.6,773.0L631.1,772.9L631.6,772.8L632.1,772.7L632.6,772.8L633.1,773.4L633.6,774.2L634.1,774.7L634.6,775.0L635.1,774.9L635.6,774.0L636.1,772.8L636.6,771.9L637.1,771.5L637.6,771.4L638.1,771.6L638.6,772.0L639.0,773.0L639.5,774.4L640.0,775.3L640.5,775.0L641.0,773.9L641.5,773.0L642.0,772.7L642.5,772.6L643.0,772.7L643.5,773.6L644.0,774.8L644.5,775.0L645.0,774.0L645.5,772.4L646.0,771.7L646.5,772.3L647.0,773.3L647.5,773.3L648.0,772.8L648.5,772.8L649.0,773.1L649.5,773.4L650.0,773.8L650.5,774.4L651.0,774.6L651.5,774.5L651.9,774.3L652.4,774.6L652.9,775.5L653.4,775.9L653.9,775.0L654.4,773.3L654.9,772.3L655.4,772.7L655.9,774.2L656.4,775.7L656.9,775.9L657.4,774.9L657.9,773.7L658.4,772.6L658.9,772.0L659.4,771.9L659.9,772.3L660.4,772.9L660.9,773.5L661.4,774.1L661.9,774.2L662.4,774.0L662.9,773.8L663.4,774.0L663.9,774.4L664.3,774.5L664.8,774.1L665.3,773.4L665.8,773.2L666.3,773.7L666.8,774.2L667.3,774.8L667.8,775.9L668.3,776.7L668.8,776.0L669.3,774.5L669.8,773.6L670.3,774.1L670.8,775.1L671.3,775.4L671.8,775.1L672.3,775.1L672.8,775.6L673.3,775.5L673.8,774.6L674.3,773.9L674.8,773.9L675.3,774.7L675.8,775.6L676.3,775.8L676.8,775.1L677.2,774.7L677.7,774.6L678.2,774.2L678.7,773.6L679.2,773.6L679.7,774.5L680.2,775.5L680.7,776.0L681.2,775.8L681.7,775.7L682.2,775.7L682.7,775.7L683.2,775.6L683.7,775.3L684.2,774.7L684.7,774.4L685.2,774.7L685.7,774.8L686.2,774.4L686.7,774.0L687.2,773.7L687.7,772.7L688.2,771.0L688.7,771.0L689.2,771.0L689.7,771.0L690.1,771.0L690.6,771.4L691.1,771.9L691.6,772.2L692.1,772.5L692.6,772.8L693.1,773.0L693.6,773.0L694.1,773.1L694.6,773.2L695.1,773.6L695.6,773.8L696.1,773.3L696.6,772.2L697.1,771.6L697.6,771.8L698.1,772.4L698.6,772.7L699.1,772.7L699.6,772.5L700.1,772.2L700.6,771.9L701.1,771.6L701.6,771.5L702.1,771.7L702.6,772.4L703.0,773.1L703.5,773.3L704.0,773.3L704.5,773.6L705.0,773.8L705.5,773.2L706.0,772.3L706.5,771.6L707.0,771.3L707.5,771.5L708.0,772.5L708.5,774.0L709.0,775.4L709.5,776.2L710.0,776.8L710.5,776.9L711.0,776.9L711.5,776.9L712.0,776.9L712.5,776.9L713.0,775.7L713.5,774.1L714.0,773.3L714.5,773.3L714.5,781.5L714.0,782.3L713.5,782.9L713.0,783.2L712.5,783.2L712.0,782.6L711.5,781.7L711.0,781.5L710.5,782.3L710.0,783.6L709.5,784.2L709.0,784.6L708.5,784.9L708.0,784.8L707.5,784.3L707.0,784.0L706.5,784.6L706.0,785.5L705.5,786.1L705.0,786.0L704.5,785.5L704.0,785.1L703.5,784.6L703.0,784.1L702.6,784.2L702.1,784.6L701.6,784.9L701.1,785.0L700.6,784.9L700.1,784.1L699.6,782.8L699.1,781.9L698.6,781.7L698.1,782.0L697.6,782.4L697.1,782.6L696.6,782.4L696.1,782.1L695.6,781.8L695.1,781.4L694.6,781.8L694.1,783.2L693.6,784.2L693.1,783.9L692.6,782.9L692.1,782.1L691.6,781.7L691.1,782.0L690.6,782.7L690.1,783.3L689.7,783.7L689.2,784.2L688.7,784.6L688.2,784.3L687.7,783.8L687.2,783.8L686.7,783.8L686.2,783.3L685.7,782.4L685.2,781.6L684.7,781.8L684.2,782.8L683.7,783.6L683.2,784.0L682.7,784.1L682.2,784.1L681.7,784.3L681.2,785.1L680.7,786.1L680.2,786.0L679.7,785.2L679.2,784.7L678.7,785.3L678.2,786.2L677.7,786.2L677.2,786.2L676.8,786.2L676.3,785.7L675.8,784.2L675.3,783.0L674.8,782.9L674.3,783.5L673.8,784.6L673.3,785.5L672.8,785.4L672.3,784.1L671.8,782.3L671.3,781.3L670.8,781.5L670.3,781.5L669.8,780.8L669.3,780.4L668.8,780.9L668.3,781.8L667.8,782.3L667.3,782.6L666.8,783.0L666.3,783.8L665.8,784.7L665.3,785.4L664.8,785.7L664.3,785.8L663.9,785.5L663.4,784.9L662.9,784.3L662.4,783.9L661.9,783.5L661.4,783.4L660.9,784.0L660.4,785.1L659.9,786.0L659.4,785.8L658.9,785.1L658.4,784.7L657.9,784.8L657.4,784.7L656.9,784.3L656.4,784.3L655.9,785.0L655.4,786.1L654.9,786.2L654.4,786.2L653.9,785.6L653.4,783.4L652.9,782.1L652.4,781.9L651.9,782.1L651.5,782.1L651.0,781.8L650.5,781.4L650.0,781.5L649.5,782.0L649.0,782.5L648.5,782.3L648.0,782.2L647.5,782.8L647.0,783.8L646.5,784.2L646.0,783.6L645.5,782.3L645.0,781.4L644.5,781.7L644.0,782.4L643.5,782.6L643.0,782.8L642.5,783.7L642.0,784.8L641.5,785.0L641.0,784.4L640.5,784.0L640.0,784.0L639.5,784.5L639.0,785.4L638.6,786.2L638.1,786.2L637.6,786.2L637.1,786.2L636.6,785.8L636.1,785.1L635.6,784.1L635.1,783.1L634.6,782.9L634.1,783.3L633.6,783.6L633.1,783.5L632.6,782.9L632.1,782.6L631.6,783.0L631.1,784.1L630.6,784.8L630.1,784.2L629.6,782.8L629.1,781.6L628.6,780.8L628.1,780.7L627.6,781.3L627.1,782.0L626.6,782.1L626.1,781.9L625.7,782.0L625.2,782.2L624.7,782.8L624.2,783.7L623.7,784.4L623.2,784.0L622.7,783.0L622.2,782.4L621.7,782.7L621.2,783.1L620.7,783.5L620.2,783.5L619.7,783.0L619.2,782.2L618.7,782.1L618.2,782.9L617.7,783.9L617.2,784.1L616.7,783.4L616.2,782.7L615.7,782.6L615.2,783.0L614.7,783.5L614.2,784.3L613.7,785.0L613.2,785.2L612.8,785.2L612.3,785.5L611.8,786.0L611.3,786.2L610.8,785.7L610.3,784.5L609.8,783.7L609.3,783.9L608.8,784.3L608.3,784.1L607.8,783.6L607.3,783.6L606.8,784.1L606.3,784.4L605.8,783.8L605.3,782.4L604.8,781.5L604.3,781.8L603.8,782.9L603.3,784.0L602.8,784.4L602.3,784.4L601.8,784.5L601.3,784.5L600.8,784.1L600.3,783.6L599.9,783.2L599.4,782.9L598.9,782.9L598.4,783.5L597.9,784.4L597.4,784.5L596.9,784.0L596.4,783.8L595.9,783.7L595.4,783.3L594.9,782.6L594.4,781.8L593.9,781.2L593.4,781.0L592.9,781.8L592.4,783.3L591.9,784.7L591.4,785.5L590.9,785.1L590.4,783.9L589.9,782.7L589.4,782.2L588.9,782.1L588.4,782.4L587.9,783.1L587.4,783.7L587.0,783.4L586.5,782.1L586.0,780.6L585.5,780.3L585.0,780.8L584.5,781.6L584.0,781.7L583.5,781.6L583.0,782.4L582.5,784.1L582.0,785.5L581.5,785.8L581.0,785.4L580.5,785.1L580.0,785.2L579.5,785.2L579.0,784.9L578.5,784.5L578.0,784.5L577.5,784.8L577.0,785.0L576.5,784.3L576.0,782.7L575.5,781.6L575.0,781.0L574.5,780.5L574.1,780.5L573.6,780.4L573.1,780.3L572.6,780.4L572.1,780.6L571.6,780.6L571.1,780.3L570.6,779.8L570.1,779.5L569.6,779.6L569.1,779.8L568.6,779.8L568.1,779.8L567.6,779.7L567.1,779.7L566.6,779.9L566.1,780.0L565.6,780.1L565.1,780.1L564.6,780.0L564.1,779.8L563.6,779.7L563.1,779.9L562.6,780.2L562.1,780.7L561.6,780.8L561.2,780.6L560.7,780.2L560.2,779.8L559.7,779.5L559.2,779.9L558.7,782.1L558.2,784.0L557.7,784.3L557.2,784.2L556.7,784.7L556.2,785.2L555.7,785.3L555.2,785.4L554.7,785.4L554.2,785.3L553.7,785.2L553.2,785.3L552.7,785.6L552.2,785.8L551.7,785.3L551.2,784.8L550.7,784.6L550.2,784.6L549.7,784.5L549.2,784.3L548.7,783.8L548.3,782.2L547.8,780.8L547.3,780.8L546.8,780.8L546.3,780.8L545.8,781.2L545.3,782.1L544.8,782.8L544.3,782.3L543.8,781.4L543.3,780.5L542.8,780.3L542.3,780.5L541.8,780.4L541.3,780.1L540.8,780.0L540.3,780.0L539.8,780.1L539.3,780.2L538.8,780.1L538.3,780.1L537.8,779.9L537.3,779.8L536.8,779.9L536.3,780.1L535.8,780.5L535.4,780.8L534.9,781.0L534.4,781.0L533.9,780.8L533.4,780.3L532.9,780.0L532.4,781.1L531.9,783.3L531.4,785.5L530.9,786.4L530.4,784.8L529.9,783.2L529.4,781.8L528.9,780.5L528.4,779.7L527.9,779.6L527.4,779.4L526.9,779.2L526.4,779.2L525.9,779.4L525.4,779.6L524.9,779.6L524.4,779.6L523.9,779.6L523.4,779.7L522.9,779.7L522.5,779.7L522.0,779.6L521.5,779.4L521.0,779.4L520.5,779.7L520.0,779.8L519.5,779.6L519.0,779.3L518.5,779.0L518.0,778.9L517.5,778.9L517.0,778.9L516.5,779.1Z" fill="#0000dc" stroke="none"/>
<path d="M748.4,766.8L748.8,766.1L749.3,766.2L749.7,766.3L750.2,768.7L750.6,770.8L751.0,771.9L751.5,771.5L751.9,770.3L752.4,770.1L752.8,771.5L753.2,773.2L753.7,773.5L754.1,772.1L754.6,771.1L755.0,771.3L755.4,771.3L755.9,770.5L756.3,769.8L756.8,769.8L757.2,769.5L757.6,768.8L758.1,769.0L758.5,770.4L759.0,771.6L759.4,772.1L759.8,772.6L760.3,773.5L760.7,774.2L761.2,774.3L761.6,775.4L762.0,777.2L762.5,777.5L762.9,776.0L763.3,774.8L763.8,775.0L764.2,775.6L764.7,776.1L765.1,776.5L765.5,777.4L766.0,779.2L766.4,781.1L766.9,782.1L767.3,781.6L767.7,780.0L768.2,778.3L768.6,777.1L769.1,777.1L769.5,778.0L769.9,779.2L770.4,780.4L770.8,781.7L771.3,782.7L771.7,783.0L772.1,782.7L772.6,782.6L773.0,782.8L773.5,782.8L773.9,782.6L774.3,783.2L774.8,784.2L775.2,785.0L775.7,785.2L776.1,784.5L776.5,783.4L777.0,783.0L777.4,783.1L777.9,782.4L778.3,781.3L778.7,780.7L779.2,780.6L779.6,780.0L780.1,778.7L780.5,777.4L780.9,777.4L781.4,777.9L781.8,777.6L782.3,776.4L782.7,774.8L783.1,773.0L783.1,786.7L782.7,789.2L782.3,791.1L781.8,792.0L781.4,792.0L780.9,791.7L780.5,792.1L780.1,793.0L779.6,793.5L779.2,793.8L778.7,794.2L778.3,795.1L777.9,796.9L777.4,798.7L777.0,799.0L776.5,798.1L776.1,796.8L775.7,795.2L775.2,794.1L774.8,793.9L774.3,794.4L773.9,794.6L773.5,793.7L773.0,792.6L772.6,792.3L772.1,792.4L771.7,792.5L771.3,792.6L770.8,792.7L770.4,792.7L769.9,792.9L769.5,793.2L769.1,793.0L768.6,791.8L768.2,790.0L767.7,788.0L767.3,786.9L766.9,786.6L766.4,786.2L766.0,786.5L765.5,787.2L765.1,786.9L764.7,786.7L764.2,787.1L763.8,787.3L763.3,787.0L762.9,787.0L762.5,787.3L762.0,787.5L761.6,787.1L761.2,786.2L760.7,785.5L760.3,785.5L759.8,785.8L759.4,785.6L759.0,785.1L758.5,784.9L758.1,785.1L757.6,785.4L757.2,785.1L756.8,784.0L756.3,782.4L755.9,781.1L755.4,780.6L755.0,780.9L754.6,781.3L754.1,781.1L753.7,780.9L753.2,781.0L752.8,781.1L752.4,780.5L751.9,779.5L751.5,779.3L751.0,779.8L750.6,780.2L750.2,779.7L749.7,779.2L749.3,779.6L748.8,780.5L748.4,780.4Z" fill="#0000dc" stroke="none"/>
<path d="M531.0,772.8L531.7,773.3L532.4,773.6L533.1,771.9L533.8,772.5L534.4,770.9L535.1,771.3L535.8,771.4L536.5,773.7L537.2,772.2L537.8,772.1L538.5,773.7L539.2,772.4L539.9,772.9L540.6,773.2L541.3,771.5L541.9,772.6L542.6,773.5L543.3,772.8L544.0,771.1" fill="none" stroke="#0000dc" stroke-width="2.6" stroke-linejoin="round"/>
<path d="M666.0,754.3L666.1,757.4L666.2,760.3L666.3,761.5L666.4,763.5L666.5,766.8L666.6,768.0L666.7,771.5L666.8,773.2L666.9,776.4L667.0,776.4L667.1,774.4L667.3,772.7L667.4,768.5L667.5,765.5L667.6,763.4L667.7,761.7L667.8,760.2L667.9,757.4L668.0,753.8" fill="none" stroke="#0000dc" stroke-width="2.6" stroke-linejoin="round"/>
<path d="M713.2,757.9L713.3,761.8L713.4,761.2L713.4,763.9L713.5,765.9L713.6,767.2L713.6,770.3L713.7,772.8L713.8,775.6L713.8,776.3L713.9,776.3L713.9,773.5L714.0,771.5L714.1,770.7L714.1,767.6L714.2,765.2L714.3,764.8L714.3,762.2L714.4,760.1L714.5,758.4" fill="none" stroke="#0000dc" stroke-width="2.6" stroke-linejoin="round"/>
<path d="M783.1,758.5L783.2,762.9L783.3,766.8L783.4,770.1L783.5,773.0L783.6,776.6L783.7,779.8L783.8,785.1L783.9,788.2L784.0,792.1L784.1,794.2L784.2,788.1L784.3,786.3L784.4,781.5L784.5,777.7L784.6,773.8L784.7,769.8L784.8,765.8L784.9,763.9L785.0,759.1L785.1,761.4L785.2,765.2L785.3,767.5L785.4,771.3L785.5,775.1L785.6,780.7L785.7,781.9L785.8,786.6L785.9,790.9L786.0,793.3" fill="none" stroke="#0000dc" stroke-width="2.6" stroke-linejoin="round"/>
<path d="M554.9,790.2L555.0,794.0L555.1,796.4L555.3,799.0L555.4,803.6L555.6,806.1L555.7,806.3L555.8,810.3L556.0,815.9L556.1,818.7L556.2,819.9L556.4,822.5L556.5,827.8L556.6,829.4L556.8,835.0L556.9,836.7" fill="none" stroke="#0000dc" stroke-width="2.6" stroke-dasharray="2.6,2"/>
<path d="M516.6,817.9L518.3,814.9L520.0,811.9L521.6,809.0L523.3,806.1L525.0,803.2L526.7,800.4L528.3,797.6L530.0,794.8L531.7,792.1L533.4,789.4L535.0,786.7L536.7,784.0L538.4,781.4L540.1,778.8L541.7,776.3L543.4,773.8L545.1,771.3L546.8,768.8L548.4,766.4L550.1,764.0L551.8,761.6L553.5,759.3L555.1,757.0L556.8,754.7L558.5,752.5L560.2,750.3L561.8,748.1L563.5,746.0L565.2,743.9L566.9,741.9L568.5,739.8L570.2,737.8L571.9,735.9L573.6,734.0L575.2,732.1L576.9,730.2L578.6,728.4L580.3,726.6L581.9,724.8L583.6,723.1L585.3,721.4L587.0,719.8L588.6,718.2L590.3,716.6L592.0,715.1L593.7,713.5L595.3,712.1L597.0,710.6L598.7,709.2L600.4,707.9L602.1,706.5L603.7,705.3L605.4,704.0L607.1,702.8L608.8,701.6L610.4,700.5L612.1,699.3L613.8,698.3L615.5,697.2L617.1,696.2L618.8,695.3L620.5,694.4L622.2,693.5L623.8,692.6L625.5,691.8L627.2,691.1L628.9,690.3L630.5,689.6L632.2,689.0L633.9,688.4L635.6,687.8L637.2,687.2L638.9,686.7L640.6,686.3L642.3,685.9L643.9,685.5L645.6,685.1L647.3,684.8L649.0,684.6L650.6,684.3L652.3,684.1L654.0,684.0L655.7,683.9L657.3,683.8L659.0,683.8L660.7,683.8L662.4,683.9L664.0,684.0L665.7,684.1L667.4,684.3L669.1,684.5L670.7,684.7L672.4,685.0L674.1,685.4L675.8,685.7L677.4,686.1L679.1,686.6L680.8,687.1L682.5,687.6L684.2,688.1L685.8,688.7L687.5,689.3L689.2,690.0L690.9,690.7L692.5,691.4L694.2,692.2L695.9,692.9L697.6,693.8L699.2,694.6L700.9,695.5L702.6,696.4L704.3,697.4L705.9,698.4L707.6,699.4L709.3,700.4L711.0,701.5L712.6,702.6L714.3,703.7L716.0,704.9L717.7,706.1L719.3,707.3L721.0,708.5L722.7,709.8L724.4,711.1L726.0,712.4L727.7,713.8L729.4,715.2L731.1,716.6L732.7,718.0L734.4,719.4L736.1,720.9L737.8,722.4L739.4,723.9L741.1,725.5L742.8,727.1L744.5,728.6L746.1,730.3L747.8,731.9L749.5,733.6L751.2,735.2L752.8,736.9L754.5,738.7L756.2,740.4L757.9,742.2L759.5,743.9L761.2,745.7L762.9,747.5L764.6,749.4L766.3,751.2L767.9,753.1L769.6,755.0L771.3,756.9L773.0,758.8L774.6,760.7L776.3,762.7L778.0,764.7L779.7,766.6L781.3,768.6L783.0,770.6" fill="none" stroke="#3838f0" stroke-width="3.0" stroke-linejoin="round"/>
</g>
<path d="M516.50,630.50H799.30M516.50,851.60H799.30" stroke="#626262" stroke-width="1.15" fill="none"/>
<path d="M516.50,630.50V851.60" stroke="#44449c" stroke-width="1.15" fill="none"/>
<path d="M799.30,630.50V851.60" stroke="#303030" stroke-width="1.2" fill="none"/>
<path d="M516.50,851.60v-2.8M516.50,630.50v2.8M597.30,851.60v-2.8M597.30,630.50v2.8M678.10,851.60v-2.8M678.10,630.50v2.8M758.90,851.60v-2.8M758.90,630.50v2.8" stroke="#404040" stroke-width="1" fill="none"/>
<path d="M516.50,851.60h2.8M516.50,777.90h2.8M516.50,704.20h2.8M516.50,630.50h2.8" stroke="#44449c" stroke-width="1" fill="none"/>
<path d="M799.30,851.60h-2.8M799.30,777.90h-2.8M799.30,704.20h-2.8M799.30,630.50h-2.8" stroke="#303030" stroke-width="1" fill="none"/>
<g font-size="24.5" fill="#0808dc" stroke="#0808dc" text-anchor="end">
<text x="509.00" y="860.60">-20</text>
<text x="509.00" y="786.90">0</text>
<text x="509.00" y="713.20">20</text>
<text x="509.00" y="639.50">40</text>
</g>
<g font-size="24.5" fill="#111111" stroke="#111111" text-anchor="start">
<text x="806.90" y="860.70">40</text>
<text x="806.90" y="787.00">50</text>
<text x="806.90" y="713.30">60</text>
<text x="806.90" y="639.60">70</text>
</g>
<g font-size="24.5" fill="#111111" stroke="#111111" text-anchor="middle">
<text x="516.50" y="884.00">0</text>
<text x="597.30" y="884.00">1</text>
<text x="678.10" y="884.00">2</text>
<text x="758.90" y="884.00">3</text>
</g>
<text font-size="27.5" fill="#111111" stroke="#111111" text-anchor="middle" x="657.90" y="915.40">Time [hour]</text>
<text font-size="28.19" fill="#0808dc" stroke="#0808dc" text-anchor="middle" transform="translate(466.90,741.05) rotate(-90)">Residual [mm]</text>
<text font-size="28.19" fill="#111111" stroke="#111111" text-anchor="middle" transform="translate(861.40,741.05) rotate(-90)">Elevation [deg]</text>
<rect x="529.50" y="816.30" width="217" height="22.1" fill="#fff" stroke="#111111" stroke-width="1.2"/>
<line x1="533.00" y1="828.15" x2="560.50" y2="828.15" stroke="#ff0000" stroke-width="3" stroke-dasharray="3,2.5"/>
<text font-size="17" fill="#111111" x="563.00" y="833.10">raw</text>
<rect x="607.00" y="827.15" width="2" height="2" fill="#0808dc"/>
<text font-size="17" fill="#111111" x="625.00" y="833.10">SF</text>
<line x1="650.00" y1="828.15" x2="676.50" y2="828.15" stroke="#0808dc" stroke-width="3"/>
<text font-size="17" fill="#111111" x="679.50" y="833.10">elevation</text>
<line x1="1000.77" y1="633.60" x2="1000.77" y2="855.00" stroke="#dedede" stroke-width="1"/>
<line x1="1095.50" y1="633.60" x2="1095.50" y2="855.00" stroke="#dedede" stroke-width="1"/>
<line x1="1190.23" y1="633.60" x2="1190.23" y2="855.00" stroke="#dedede" stroke-width="1"/>
<line x1="953.40" y1="832.86" x2="1237.60" y2="832.86" stroke="#dcdcf8" stroke-width="1"/>
<line x1="953.40" y1="810.72" x2="1237.60" y2="810.72" stroke="#dcdcf8" stroke-width="1"/>
<line x1="953.40" y1="788.58" x2="1237.60" y2="788.58" stroke="#dcdcf8" stroke-width="1"/>
<line x1="953.40" y1="766.44" x2="1237.60" y2="766.44" stroke="#dcdcf8" stroke-width="1"/>
<line x1="953.40" y1="744.30" x2="1237.60" y2="744.30" stroke="#dcdcf8" stroke-width="1"/>
<line x1="953.40" y1="722.16" x2="1237.60" y2="722.16" stroke="#dcdcf8" stroke-width="1"/>
<line x1="953.40" y1="700.02" x2="1237.60" y2="700.02" stroke="#dcdcf8" stroke-width="1"/>
<line x1="953.40" y1="677.88" x2="1237.60" y2="677.88" stroke="#dcdcf8" stroke-width="1"/>
<line x1="953.40" y1="655.74" x2="1237.60" y2="655.74" stroke="#dcdcf8" stroke-width="1"/>
<clipPath id="c10167"><rect x="953.4" y="633.6" width="284.19999999999993" height="221.39999999999998"/></clipPath>
<g clip-path="url(#c10167)">
<path d="M983.7,793.3L985.3,813.7L987.0,794.0L988.2,816.0L989.6,797.3L991.1,817.2L992.8,797.3L994.0,816.1L995.8,793.5L996.7,817.0L997.7,797.6L999.1,816.9L1000.1,793.5L1001.2,817.0L1003.0,797.8L1003.9,817.1L1004.9,794.3L1006.7,811.9L1008.1,797.0" fill="none" stroke="#ff0000" stroke-width="4.0" stroke-linejoin="round" stroke-dasharray="7,1.1"/>
<path d="M1009.3,789.3L1010.6,801.4L1012.1,791.6L1013.9,801.1L1015.6,791.5L1016.8,799.8L1018.6,789.8L1020.3,800.0L1021.3,790.1" fill="none" stroke="#ff0000" stroke-width="4.0" stroke-linejoin="round" stroke-dasharray="7,1.1"/>
<path d="M1021.6,792.3L1022.5,804.5L1024.1,792.8L1025.2,809.2L1026.2,793.7L1027.5,811.5L1029.3,794.7L1030.4,810.0L1031.2,794.7L1033.0,813.7L1034.3,793.9L1036.1,813.1L1037.9,790.8L1038.7,810.7L1040.4,796.4L1041.5,812.3L1042.9,797.1L1044.2,814.0L1045.1,795.0L1046.4,811.2L1047.7,794.3L1048.6,811.7L1049.4,793.2L1050.3,810.5L1052.0,794.6L1052.9,807.9L1054.1,792.7L1055.1,805.3L1056.8,793.3L1058.2,807.2L1059.8,791.3L1060.9,802.9L1061.7,793.0L1063.2,802.7L1064.9,791.3L1066.2,799.4L1067.6,791.0" fill="none" stroke="#ff0000" stroke-width="4.0" stroke-linejoin="round" stroke-dasharray="7,1.1"/>
<path d="M1070.9,778.2L1072.1,786.4L1074.2,775.6L1076.1,784.8L1077.4,770.7L1079.1,788.3L1080.5,766.9L1082.5,787.1L1083.5,769.5L1085.5,786.4L1086.6,774.3L1088.6,785.0L1090.1,777.9L1091.4,787.9L1092.7,775.2L1094.5,782.0L1095.6,765.1L1097.0,779.1L1098.2,756.7L1099.9,778.8L1100.9,754.1L1102.3,779.6L1104.3,761.8L1106.4,777.9L1108.0,762.4L1109.2,774.4L1110.6,753.1L1112.4,768.1L1114.2,739.6L1115.4,763.8L1116.7,738.3L1118.5,765.3L1120.2,729.5L1121.4,768.5L1122.9,740.5" fill="none" stroke="#ff0000" stroke-width="4.0" stroke-linejoin="round" stroke-dasharray="7,1.1"/>
<path d="M1124.9,780.6L1127.6,817.7L1130.9,780.5L1134.1,817.8L1137.0,780.7L1140.0,816.4L1143.4,777.8L1146.1,818.8L1148.7,773.3L1152.1,815.1L1153.8,768.6L1155.6,815.6L1157.3,759.2L1159.8,811.6L1161.7,761.5L1163.6,815.8L1165.6,745.2L1168.6,811.7L1172.3,745.3L1173.9,811.2L1176.0,751.9L1179.6,810.3L1182.7,761.9L1184.3,817.9L1187.5,765.6L1190.8,812.4L1193.3,776.7L1196.7,812.4L1199.1,774.9L1202.0,813.6L1203.8,769.3" fill="none" stroke="#ff0000" stroke-width="4.0" stroke-linejoin="round" stroke-dasharray="7,1.1"/>
<path d="M1068.5,741.7L1068.7,749.1L1068.9,759.8L1069.1,769.8L1069.4,777.5L1069.6,785.7L1069.8,785.7L1070.0,777.6L1070.2,767.1L1070.4,759.4L1070.7,750.5L1070.9,739.6" fill="none" stroke="#ff0000" stroke-width="3.6" stroke-dasharray="3.6,1.1"/>
<path d="M1122.0,730.5L1122.3,737.0L1122.5,747.9L1122.8,755.4L1123.1,764.3L1123.3,773.9L1123.6,774.5L1123.8,765.3L1124.1,755.1L1124.4,745.3L1124.6,741.8L1124.9,731.2" fill="none" stroke="#ff0000" stroke-width="3.6" stroke-dasharray="3.6,1.1"/>
<path d="M983.7,793.5L984.0,780.2L984.2,785.3L984.5,781.2L984.8,790.2L985.0,788.4L985.3,782.1L985.5,782.7L985.8,786.9L986.1,790.6L986.3,783.5L986.6,793.8L986.8,782.6L987.1,791.6L987.4,787.9L987.6,786.0L987.9,787.8L988.1,782.3L988.4,782.7L988.7,791.1L988.9,784.8L989.2,791.7L989.4,792.5L989.7,782.0L990.0,783.3L990.2,785.7L990.5,791.9L990.7,783.2L991.0,788.0L991.3,789.6L991.5,782.3L991.8,782.0L992.0,781.8L992.3,782.0L992.6,781.5L992.8,790.4L993.1,789.2L993.3,790.6L993.6,782.6L993.9,780.8L994.1,790.4L994.4,787.3L994.6,789.3L994.9,782.6L995.2,790.6L995.4,780.9L995.7,785.0L995.9,790.8L996.2,792.2L996.5,792.1L996.7,792.5L997.0,785.8L997.2,790.3L997.5,787.7L997.8,794.0L998.0,783.9L998.3,791.0L998.6,785.7L998.8,786.7L999.1,791.9L999.3,792.5L999.6,792.8L999.9,790.6L1000.1,792.2L1000.4,788.8L1000.6,790.4L1000.9,789.0L1001.2,789.0L1001.4,791.8L1001.7,791.3L1001.9,784.7L1002.2,784.2L1002.5,787.0L1002.7,790.8L1003.0,783.5L1003.2,781.7L1003.5,793.8L1003.8,785.6L1004.0,790.0L1004.3,791.5L1004.5,785.4L1004.8,785.0L1005.1,793.1L1005.3,787.9L1005.6,791.3L1005.8,792.5L1006.1,795.1L1006.4,784.3L1006.6,794.0L1006.9,792.7L1007.1,785.6L1007.4,784.1L1007.7,782.0L1007.9,789.3L1008.2,789.4L1008.4,789.5L1008.7,782.4L1009.0,789.5L1009.2,785.7L1009.5,781.9L1009.7,789.2L1010.0,783.3L1010.3,783.3L1010.5,786.1L1010.8,783.7L1011.0,783.7L1011.3,793.3L1011.6,790.7L1011.8,784.6L1012.1,791.6L1012.3,790.7L1012.6,783.9L1012.9,784.5L1013.1,783.8L1013.4,782.0L1013.6,786.8L1013.9,789.4L1014.2,789.6L1014.4,781.1L1014.7,780.7L1014.9,782.3L1015.2,782.0L1015.5,781.5L1015.7,791.5L1016.0,790.1L1016.2,783.3L1016.5,786.6L1016.8,789.8L1017.0,790.4L1017.3,786.5L1017.6,784.1L1017.8,790.6L1018.1,792.0L1018.3,788.5L1018.6,782.5L1018.9,783.9L1019.1,782.0L1019.4,789.1L1019.6,783.3L1019.9,789.9L1020.2,792.7L1020.4,783.9L1020.7,782.3L1020.9,785.3L1021.2,785.2L1021.5,784.0L1021.7,783.0L1022.0,783.6L1022.2,792.5L1022.5,784.3L1022.8,792.1L1023.0,785.4L1023.3,792.4L1023.5,786.3L1023.8,782.7L1024.1,781.8L1024.3,783.9L1024.6,787.0L1024.8,790.9L1025.1,784.0L1025.4,782.2L1025.6,783.5L1025.9,791.2L1026.1,791.6L1026.4,783.2L1026.7,785.0L1026.9,788.1L1027.2,782.4L1027.4,792.1L1027.7,784.3L1028.0,784.4L1028.2,783.9L1028.5,784.9L1028.7,788.4L1029.0,788.6L1029.3,784.2L1029.5,790.8L1029.8,792.3L1030.0,782.4L1030.3,788.8L1030.6,784.2L1030.8,792.9L1031.1,794.0L1031.3,793.0L1031.6,790.5L1031.9,781.4L1032.1,790.4L1032.4,791.3L1032.6,784.1L1032.9,783.5L1033.2,790.9L1033.4,782.7L1033.7,790.0L1033.9,788.2L1034.2,780.5L1034.5,781.1L1034.7,789.6L1035.0,789.7L1035.3,794.4L1035.5,784.3L1035.8,791.4L1036.0,789.3L1036.3,787.2L1036.6,789.8L1036.8,788.6L1037.1,789.9L1037.3,787.0L1037.6,790.3L1037.9,784.7L1038.1,790.5L1038.4,783.4L1038.6,790.9L1038.9,789.5L1039.2,784.3L1039.4,791.2L1039.7,785.4L1039.9,791.1L1040.2,782.7L1040.5,782.6L1040.7,784.6L1041.0,792.8L1041.2,786.3L1041.5,784.1L1041.8,789.5L1042.0,790.2L1042.3,782.6L1042.5,787.9L1042.8,779.3L1043.1,781.5L1043.3,781.4L1043.6,790.9L1043.8,785.2L1044.1,784.0L1044.4,784.4L1044.6,787.0L1044.9,792.6L1045.1,789.2L1045.4,791.7L1045.7,781.4L1045.9,788.5L1046.2,791.1L1046.4,783.4L1046.7,790.9L1047.0,781.6L1047.2,785.8L1047.5,789.7L1047.7,791.6L1048.0,790.6L1048.3,780.4L1048.5,786.7L1048.8,787.3L1049.0,788.5L1049.3,785.0L1049.6,790.9L1049.8,781.5L1050.1,782.9L1050.3,791.3L1050.6,784.6L1050.9,789.1L1051.1,784.0L1051.4,783.3L1051.6,783.9L1051.9,784.3L1052.2,782.9L1052.4,792.0L1052.7,785.3L1052.9,791.1L1053.2,782.7L1053.5,790.1L1053.7,779.8L1054.0,789.2L1054.3,788.3L1054.5,784.9L1054.8,790.0L1055.0,788.8L1055.3,783.7L1055.6,790.3L1055.8,782.5L1056.1,791.6L1056.3,791.2L1056.6,782.7L1056.9,787.4L1057.1,791.4L1057.4,782.3L1057.6,780.3L1057.9,790.1L1058.2,778.9L1058.4,779.6L1058.7,780.9L1058.9,781.2L1059.2,783.0L1059.5,781.3L1059.7,781.6L1060.0,790.1L1060.2,790.6L1060.5,791.6L1060.8,791.7L1061.0,782.8L1061.3,790.4L1061.5,791.4L1061.8,791.4L1062.1,783.5L1062.3,789.2L1062.6,784.5L1062.8,792.5L1063.1,791.7L1063.4,790.8L1063.6,789.8L1063.9,792.2L1064.1,784.2L1064.4,788.4L1064.7,781.0L1064.9,781.6L1065.2,785.9L1065.4,785.3L1065.7,784.7L1066.0,783.1L1066.2,793.7L1066.5,791.5L1066.7,783.9L1067.0,783.1L1067.3,789.2L1067.5,785.6L1067.8,784.5L1068.0,785.6L1068.3,792.1L1068.6,783.9L1068.8,789.6L1069.1,783.8L1069.3,793.4L1069.6,785.2L1069.9,782.7L1070.1,786.0L1070.4,783.1L1070.6,788.5L1070.9,785.4L1071.2,789.5L1071.4,783.5L1071.7,788.2L1071.9,783.8L1072.2,783.5L1072.5,790.6L1072.7,789.8L1073.0,792.2L1073.3,792.0L1073.5,784.9L1073.8,784.7L1074.0,779.5L1074.3,789.4L1074.6,788.6L1074.8,789.3L1075.1,784.7L1075.3,791.7L1075.6,781.5L1075.9,792.4L1076.1,793.6L1076.4,793.3L1076.6,785.5L1076.9,793.2L1077.2,787.5L1077.4,785.5L1077.7,785.1L1077.9,787.3L1078.2,788.2L1078.5,787.6L1078.7,786.1L1079.0,788.2L1079.2,791.1L1079.5,791.8L1079.8,788.9L1080.0,791.7L1080.3,782.9L1080.5,783.1L1080.8,792.3L1081.1,781.7L1081.3,787.5L1081.6,788.2L1081.8,786.0L1082.1,788.5L1082.4,783.0L1082.6,788.2L1082.9,789.4L1083.1,786.9L1083.4,791.0L1083.7,788.3L1083.9,788.8L1084.2,782.2L1084.4,783.6L1084.7,785.2L1085.0,785.0L1085.2,787.4L1085.5,783.8L1085.7,786.8L1086.0,789.2L1086.3,783.7L1086.5,788.3L1086.8,790.9L1087.0,781.5L1087.3,782.1L1087.6,788.2L1087.8,785.6L1088.1,793.1L1088.3,784.8L1088.6,788.0L1088.9,795.3L1089.1,791.7L1089.4,786.2L1089.6,789.6L1089.9,791.4L1090.2,781.9L1090.4,789.1L1090.7,781.4L1090.9,791.4L1091.2,784.2L1091.5,792.1L1091.7,791.6L1092.0,782.1L1092.3,783.7L1092.5,784.0L1092.8,789.2L1093.0,785.3L1093.3,786.3L1093.6,795.0L1093.8,791.3L1094.1,788.4L1094.3,782.9L1094.6,790.8L1094.9,789.9L1095.1,791.2L1095.4,780.2L1095.6,781.7L1095.9,790.2L1096.2,781.9L1096.4,789.7L1096.7,783.9L1096.9,783.4L1097.2,792.1L1097.5,792.3L1097.7,791.5L1098.0,781.0L1098.2,787.3L1098.5,785.4L1098.8,784.9L1099.0,784.4L1099.3,791.1L1099.5,782.7L1099.8,792.9L1100.1,789.0L1100.3,789.4L1100.6,791.9L1100.8,783.5L1101.1,788.4L1101.4,783.8L1101.6,792.9L1101.9,792.7L1102.1,792.1L1102.4,782.5L1102.7,788.1L1102.9,782.9L1103.2,783.4L1103.4,786.6L1103.7,793.9L1104.0,793.5L1104.2,785.7L1104.5,791.7L1104.7,791.4L1105.0,788.7L1105.3,791.5L1105.5,784.6L1105.8,779.9L1106.0,790.5L1106.3,786.5L1106.6,779.8L1106.8,783.2L1107.1,781.5L1107.3,791.3L1107.6,787.0L1107.9,781.3L1108.1,781.3L1108.4,792.6L1108.6,786.1L1108.9,782.3L1109.2,791.9L1109.4,782.6L1109.7,786.7L1110.0,785.2L1110.2,792.9L1110.5,790.9L1110.7,783.7L1111.0,789.2L1111.3,781.5L1111.5,789.1L1111.8,790.6L1112.0,791.2L1112.3,783.5L1112.6,783.2L1112.8,789.5L1113.1,783.0L1113.3,790.7L1113.6,782.9L1113.9,782.1L1114.1,791.2L1114.4,785.1L1114.6,789.3L1114.9,786.6L1115.2,783.9L1115.4,792.8L1115.7,785.0L1115.9,794.3L1116.2,787.7L1116.5,791.8L1116.7,786.8L1117.0,792.8L1117.2,792.1L1117.5,784.3L1117.8,781.9L1118.0,789.1L1118.3,783.4L1118.5,785.9L1118.8,787.2L1119.1,785.7L1119.3,791.0L1119.6,784.0L1119.8,785.2L1120.1,788.2L1120.4,782.5L1120.6,780.9L1120.9,790.9L1121.1,791.8L1121.4,788.3L1121.7,783.9L1121.9,793.8L1122.2,785.4L1122.4,789.7L1122.7,785.5L1123.0,784.5L1123.2,792.3L1123.5,792.9L1123.7,792.0L1124.0,781.8L1124.3,790.5L1124.5,792.0L1124.8,793.1L1125.0,784.9L1125.3,787.0L1125.6,789.6L1125.8,795.5L1126.1,788.1L1126.3,792.7L1126.6,786.0L1126.9,786.4L1127.1,784.9L1127.4,784.1L1127.6,792.9L1127.9,793.3L1128.2,785.1L1128.4,786.0L1128.7,786.4L1129.0,785.7L1129.2,790.6L1129.5,789.7L1129.7,779.8L1130.0,783.6L1130.3,791.5L1130.5,783.9L1130.8,783.0L1131.0,785.4L1131.3,793.2L1131.6,784.0L1131.8,790.3L1132.1,784.7L1132.3,791.0L1132.6,787.8L1132.9,786.0L1133.1,785.7L1133.4,793.7L1133.6,786.1L1133.9,788.4L1134.2,788.0L1134.4,795.0L1134.7,785.0L1134.9,784.1L1135.2,786.1L1135.5,786.6L1135.7,792.3L1136.0,794.5L1136.2,793.4L1136.5,793.0L1136.8,785.8L1137.0,785.2L1137.3,793.2L1137.5,791.9L1137.8,789.6L1138.1,792.9L1138.3,793.9L1138.6,784.4L1138.8,787.1L1139.1,791.9L1139.4,784.8L1139.6,783.8L1139.9,785.1L1140.1,784.9L1140.4,782.4L1140.7,789.1L1140.9,787.2L1141.2,780.8L1141.4,788.9L1141.7,779.9L1142.0,780.3L1142.2,788.2L1142.5,781.9L1142.7,783.3L1143.0,795.0L1143.3,794.3L1143.5,784.7L1143.8,786.4L1144.0,788.5L1144.3,793.1L1144.6,795.1L1144.8,786.1L1145.1,785.3L1145.3,784.7L1145.6,789.0L1145.9,787.4L1146.1,791.2L1146.4,790.9L1146.6,787.4L1146.9,793.7L1147.2,791.1L1147.4,792.9L1147.7,792.0L1148.0,789.9L1148.2,789.8L1148.5,790.7L1148.7,791.0L1149.0,789.9L1149.3,784.5L1149.5,792.4L1149.8,789.0L1150.0,783.2L1150.3,783.1L1150.6,786.3L1150.8,783.4L1151.1,793.2L1151.3,792.2L1151.6,792.2L1151.9,791.9L1152.1,792.2L1152.4,783.2L1152.6,791.1L1152.9,783.9L1153.2,782.6L1153.4,788.3L1153.7,782.8L1153.9,790.3L1154.2,782.4L1154.5,783.4L1154.7,782.6L1155.0,783.1L1155.2,791.7L1155.5,782.0L1155.8,779.9L1156.0,780.9L1156.3,780.4L1156.5,781.9L1156.8,789.2L1157.1,782.3L1157.3,781.8L1157.6,780.7L1157.8,783.7L1158.1,787.6L1158.4,788.6L1158.6,786.0L1158.9,790.7L1159.1,791.1L1159.4,791.2L1159.7,793.6L1159.9,786.0L1160.2,786.5L1160.4,782.5L1160.7,783.4L1161.0,786.4L1161.2,779.5L1161.5,780.1L1161.7,780.4L1162.0,790.4L1162.3,784.5L1162.5,793.0L1162.8,784.6L1163.0,787.6L1163.3,785.9L1163.6,794.2L1163.8,793.2L1164.1,789.9L1164.3,781.3L1164.6,790.2L1164.9,781.4L1165.1,782.9L1165.4,790.4L1165.7,792.5L1165.9,788.9L1166.2,792.0L1166.4,785.9L1166.7,789.8L1167.0,792.3L1167.2,784.6L1167.5,782.5L1167.7,792.0L1168.0,784.2L1168.3,792.7L1168.5,791.4L1168.8,783.3L1169.0,792.4L1169.3,790.9L1169.6,785.6L1169.8,787.2L1170.1,790.6L1170.3,785.4L1170.6,792.4L1170.9,790.3L1171.1,791.4L1171.4,791.9L1171.6,783.7L1171.9,788.9L1172.2,792.0L1172.4,788.6L1172.7,790.2L1172.9,791.4L1173.2,782.4L1173.5,781.9L1173.7,784.0L1174.0,791.6L1174.2,791.1L1174.5,789.1L1174.8,786.8L1175.0,788.1L1175.3,784.9L1175.5,785.5L1175.8,786.2L1176.1,791.7L1176.3,787.9L1176.6,791.4L1176.8,782.7L1177.1,786.7L1177.4,782.6L1177.6,786.2L1177.9,783.8L1178.1,789.3L1178.4,789.1L1178.7,791.3L1178.9,784.8L1179.2,782.7L1179.4,785.1L1179.7,783.2L1180.0,784.2L1180.2,786.8L1180.5,784.9L1180.7,785.2L1181.0,784.3L1181.3,790.1L1181.5,789.9L1181.8,789.4L1182.0,783.5L1182.3,779.7L1182.6,780.0L1182.8,788.8L1183.1,782.4L1183.3,789.4L1183.6,782.2L1183.9,782.9L1184.1,785.5L1184.4,793.5L1184.7,785.1L1184.9,786.6L1185.2,783.8L1185.4,784.7L1185.7,788.1L1186.0,784.6L1186.2,788.4L1186.5,790.8L1186.7,793.0L1187.0,789.7L1187.3,791.3L1187.5,783.1L1187.8,789.4L1188.0,792.5L1188.3,790.7L1188.6,793.7L1188.8,793.5L1189.1,793.3L1189.3,791.0L1189.6,787.0L1189.9,793.8L1190.1,788.1L1190.4,784.9L1190.6,795.7L1190.9,787.3L1191.2,792.5L1191.4,783.0L1191.7,792.4L1191.9,791.7L1192.2,783.0L1192.5,788.5L1192.7,784.1L1193.0,783.5L1193.2,790.9L1193.5,794.7L1193.8,786.4L1194.0,787.0L1194.3,784.5L1194.5,783.6L1194.8,790.4L1195.1,794.3L1195.3,791.6L1195.6,794.4L1195.8,793.7L1196.1,784.1L1196.4,792.2L1196.6,784.8L1196.9,792.5L1197.1,790.7L1197.4,785.4L1197.7,785.2L1197.9,792.2L1198.2,782.7L1198.4,784.1L1198.7,789.4L1199.0,781.8L1199.2,789.9L1199.5,782.6L1199.7,782.8L1200.0,788.6L1200.3,789.6L1200.5,785.0L1200.8,781.3L1201.0,788.3L1201.3,787.6L1201.6,777.8L1201.8,786.2L1202.1,789.3L1202.3,787.1L1202.6,778.4L1202.9,788.2L1203.1,777.7L1203.4,775.5L1203.7,778.2L1203.9,777.6L1204.2,779.8L1204.4,772.1L1204.7,773.8L1205.0,776.9L1205.2,780.7L1205.5,777.4L1205.7,771.3L1206.0,776.5L1206.3,767.3L1206.5,768.0L1206.8,766.9L1207.0,767.8L1207.3,768.6L1207.6,770.2L1207.8,774.8L1208.1,767.6L1208.3,776.7L1208.6,774.9L1208.9,773.1L1209.1,763.3L1209.4,765.9L1209.6,764.2L1209.9,769.1L1210.2,763.0L1210.4,764.3L1210.7,763.3L1210.9,765.2L1211.2,769.6L1211.5,763.7L1211.7,773.2L1212.0,764.1L1212.2,775.6L1212.5,775.9L1212.8,769.0L1213.0,768.4L1213.3,777.0L1213.5,768.4L1213.8,779.7L1214.1,775.7L1214.3,779.3L1214.6,777.0L1214.8,778.0L1215.1,791.4L1215.4,789.4L1215.6,789.5L1215.9,799.3L1216.1,801.2L1216.4,801.7L1216.7,801.8L1216.9,796.6L1217.2,802.7L1217.4,800.7L1217.7,808.0" fill="none" stroke="#0000dc" stroke-width="3" stroke-linejoin="round"/>
<path d="M983.7,778.9L984.2,779.7L984.8,780.9L985.3,781.8L985.8,782.5L986.3,782.8L986.8,782.3L987.4,781.5L987.9,781.2L988.4,782.3L988.9,784.2L989.4,785.4L990.0,785.2L990.5,784.0L991.0,783.2L991.5,783.1L992.1,782.8L992.6,781.9L993.1,781.6L993.6,782.5L994.1,783.6L994.7,783.7L995.2,783.3L995.7,783.2L996.2,783.3L996.7,783.0L997.3,782.6L997.8,782.4L998.3,782.1L998.8,781.6L999.3,781.0L999.9,780.6L1000.4,780.4L1000.9,780.2L1001.4,780.2L1002.0,781.0L1002.5,782.4L1003.0,783.1L1003.5,783.0L1004.0,783.0L1004.6,783.3L1005.1,783.5L1005.6,783.0L1006.1,782.1L1006.6,781.3L1007.2,781.1L1007.7,782.0L1008.2,782.8L1008.7,782.3L1009.3,781.0L1009.8,780.6L1010.3,781.4L1010.8,782.5L1011.3,783.6L1011.9,784.6L1012.4,785.4L1012.9,785.5L1013.4,785.1L1013.9,784.6L1014.5,784.1L1015.0,783.3L1015.5,782.0L1016.0,780.7L1016.5,779.9L1017.1,779.7L1017.6,780.2L1018.1,781.1L1018.6,781.5L1019.2,781.5L1019.7,781.5L1020.2,781.7L1020.7,781.8L1021.2,781.3L1021.8,780.4L1022.3,779.7L1022.8,779.9L1023.3,781.0L1023.8,782.2L1024.4,783.1L1024.9,784.0L1025.4,784.7L1025.9,784.7L1026.4,783.8L1027.0,781.7L1027.5,779.5L1028.0,779.5L1028.5,779.5L1029.1,780.3L1029.6,781.5L1030.1,782.2L1030.6,782.7L1031.1,783.1L1031.7,782.9L1032.2,782.3L1032.7,781.6L1033.2,781.0L1033.7,780.0L1034.3,779.5L1034.8,779.5L1035.3,779.5L1035.8,780.3L1036.3,781.4L1036.9,782.5L1037.4,783.6L1037.9,784.1L1038.4,783.5L1039.0,782.0L1039.5,780.7L1040.0,780.3L1040.5,781.1L1041.0,782.1L1041.6,782.7L1042.1,782.6L1042.6,782.3L1043.1,782.3L1043.6,782.2L1044.2,781.9L1044.7,781.8L1045.2,782.2L1045.7,782.6L1046.3,782.7L1046.8,782.8L1047.3,783.1L1047.8,783.2L1048.3,783.1L1048.9,782.5L1049.4,781.9L1049.9,782.2L1050.4,782.8L1050.9,783.2L1051.5,783.3L1052.0,782.6L1052.5,781.3L1053.0,780.1L1053.5,779.8L1054.1,780.5L1054.6,781.8L1055.1,783.1L1055.6,784.0L1056.2,783.9L1056.7,783.3L1057.2,783.2L1057.7,783.6L1058.2,783.2L1058.8,782.2L1059.3,781.4L1059.8,781.2L1060.3,781.3L1060.8,781.2L1061.4,781.2L1061.9,781.2L1062.4,780.9L1062.9,780.6L1063.4,781.1L1064.0,782.3L1064.5,783.1L1065.0,782.7L1065.5,781.7L1066.1,780.9L1066.6,780.7L1067.1,781.3L1067.6,782.7L1068.1,784.5L1068.7,785.5L1069.2,785.5L1069.7,784.6L1070.2,783.7L1070.7,783.5L1071.3,783.2L1071.8,782.4L1072.3,781.1L1072.8,779.8L1073.4,779.5L1073.9,779.5L1074.4,779.5L1074.9,780.0L1075.4,781.5L1076.0,783.0L1076.5,783.4L1077.0,782.6L1077.5,781.5L1078.0,780.9L1078.6,781.1L1079.1,781.7L1079.6,781.9L1080.1,781.3L1080.6,780.6L1081.2,780.6L1081.7,781.3L1082.2,782.1L1082.7,782.7L1083.3,782.4L1083.8,781.7L1084.3,781.7L1084.8,783.2L1085.3,785.3L1085.9,785.5L1086.4,785.5L1086.9,783.4L1087.4,781.7L1087.9,781.0L1088.5,780.8L1089.0,780.2L1089.5,779.5L1090.0,779.5L1090.5,779.5L1091.1,780.2L1091.6,780.7L1092.1,780.4L1092.6,780.4L1093.2,781.6L1093.7,782.8L1094.2,782.7L1094.7,781.2L1095.2,780.1L1095.8,780.1L1096.3,780.8L1096.8,781.2L1097.3,781.2L1097.8,781.1L1098.4,781.1L1098.9,781.3L1099.4,781.8L1099.9,782.0L1100.4,781.9L1101.0,781.7L1101.5,781.0L1102.0,780.2L1102.5,780.1L1103.1,781.0L1103.6,782.5L1104.1,783.8L1104.6,783.8L1105.1,782.8L1105.7,781.8L1106.2,781.4L1106.7,781.4L1107.2,781.3L1107.7,781.1L1108.3,781.1L1108.8,781.2L1109.3,781.1L1109.8,780.3L1110.4,779.5L1110.9,779.5L1111.4,779.5L1111.9,780.0L1112.4,782.5L1113.0,784.0L1113.5,784.1L1114.0,783.5L1114.5,783.1L1115.0,783.0L1115.6,782.9L1116.1,782.8L1116.6,783.1L1117.1,783.9L1117.6,784.7L1118.2,785.1L1118.7,784.9L1119.2,784.8L1119.7,784.9L1120.3,784.8L1120.8,784.1L1121.3,783.3L1121.8,782.5L1122.3,782.2L1122.9,782.2L1123.4,782.2L1123.9,782.0L1124.4,781.8L1124.9,781.5L1125.5,781.7L1126.0,782.6L1126.5,783.9L1127.0,785.2L1127.5,785.2L1128.1,784.1L1128.6,783.1L1129.1,783.4L1129.6,784.2L1130.2,784.3L1130.7,784.0L1131.2,784.1L1131.7,784.3L1132.2,784.4L1132.8,784.5L1133.3,785.0L1133.8,785.5L1134.3,785.3L1134.8,783.9L1135.4,782.7L1135.9,782.7L1136.4,783.5L1136.9,784.0L1137.5,783.8L1138.0,783.6L1138.5,783.1L1139.0,782.2L1139.5,781.8L1140.1,782.2L1140.6,782.6L1141.1,782.5L1141.6,782.2L1142.1,782.6L1142.7,783.9L1143.2,784.8L1143.7,784.0L1144.2,782.2L1144.7,780.4L1145.3,779.6L1145.8,779.5L1146.3,780.0L1146.8,780.6L1147.4,780.7L1147.9,780.7L1148.4,781.4L1148.9,782.4L1149.4,783.0L1150.0,783.4L1150.5,783.6L1151.0,783.6L1151.5,783.3L1152.0,782.9L1152.6,782.8L1153.1,783.5L1153.6,784.6L1154.1,784.8L1154.6,784.0L1155.2,783.4L1155.7,783.1L1156.2,782.5L1156.7,782.1L1157.3,782.4L1157.8,782.8L1158.3,783.0L1158.8,783.1L1159.3,783.3L1159.9,783.3L1160.4,782.6L1160.9,781.6L1161.4,780.8L1161.9,780.7L1162.5,780.9L1163.0,781.2L1163.5,781.6L1164.0,782.7L1164.5,784.1L1165.1,785.3L1165.6,785.5L1166.1,785.0L1166.6,783.3L1167.2,781.8L1167.7,781.5L1168.2,782.6L1168.7,784.0L1169.2,784.8L1169.8,784.2L1170.3,782.4L1170.8,780.5L1171.3,779.8L1171.8,780.2L1172.4,780.6L1172.9,780.9L1173.4,781.6L1173.9,782.1L1174.5,781.6L1175.0,781.0L1175.5,781.6L1176.0,783.2L1176.5,784.1L1177.1,783.6L1177.6,782.1L1178.1,780.7L1178.6,780.1L1179.1,780.6L1179.7,781.4L1180.2,781.8L1180.7,782.0L1181.2,782.2L1181.7,782.2L1182.3,781.9L1182.8,781.9L1183.3,782.6L1183.8,783.2L1184.4,783.2L1184.9,782.7L1185.4,782.8L1185.9,783.8L1186.4,785.0L1187.0,785.4L1187.5,784.8L1188.0,783.8L1188.5,783.2L1189.0,782.6L1189.6,781.9L1190.1,781.9L1190.6,782.4L1191.1,783.0L1191.6,783.5L1192.2,783.8L1192.7,783.4L1193.2,782.5L1193.7,782.0L1194.3,782.4L1194.8,783.0L1195.3,783.4L1195.8,783.6L1196.3,783.4L1196.9,782.8L1197.4,782.4L1197.9,782.2L1198.4,781.8L1198.9,782.0L1199.5,782.4L1200.0,782.1L1200.5,780.8L1201.0,778.8L1201.6,777.2L1202.1,775.9L1202.6,774.9L1203.1,774.0L1203.6,774.2L1204.2,774.7L1204.7,774.1L1205.2,772.5L1205.7,770.6L1206.2,769.3L1206.8,768.5L1207.3,767.9L1207.8,767.4L1208.3,767.1L1208.8,766.6L1209.4,765.6L1209.9,764.9L1210.4,764.6L1210.9,765.1L1211.5,765.5L1212.0,765.7L1212.5,767.0L1213.0,768.7L1213.5,770.8L1214.1,773.7L1214.6,777.9L1215.1,781.9L1215.6,786.3L1216.1,789.7L1216.7,792.3L1217.2,795.1L1217.7,798.0L1217.7,805.0L1217.2,802.9L1216.7,801.2L1216.1,799.4L1215.6,796.8L1215.1,792.7L1214.6,788.4L1214.1,784.3L1213.5,782.3L1213.0,781.0L1212.5,779.2L1212.0,776.4L1211.5,774.5L1210.9,773.3L1210.4,772.5L1209.9,771.9L1209.4,772.0L1208.8,773.4L1208.3,774.8L1207.8,775.7L1207.3,776.4L1206.8,777.5L1206.2,778.9L1205.7,780.6L1205.2,781.6L1204.7,782.0L1204.2,782.4L1203.6,783.3L1203.1,784.8L1202.6,786.7L1202.1,787.9L1201.6,788.3L1201.0,788.5L1200.5,788.8L1200.0,789.2L1199.5,789.3L1198.9,789.5L1198.4,790.0L1197.9,790.5L1197.4,790.4L1196.9,790.4L1196.3,791.0L1195.8,791.6L1195.3,791.9L1194.8,791.5L1194.3,790.6L1193.7,789.9L1193.2,789.9L1192.7,790.4L1192.2,791.5L1191.6,792.9L1191.1,794.1L1190.6,794.8L1190.1,794.9L1189.6,794.1L1189.0,793.2L1188.5,792.8L1188.0,792.9L1187.5,792.9L1187.0,792.6L1186.4,792.2L1185.9,791.6L1185.4,791.1L1184.9,790.6L1184.4,790.5L1183.8,791.0L1183.3,792.3L1182.8,793.6L1182.3,794.0L1181.7,793.5L1181.2,793.0L1180.7,792.7L1180.2,792.9L1179.7,793.9L1179.1,795.0L1178.6,795.1L1178.1,794.5L1177.6,793.8L1177.1,793.3L1176.5,792.8L1176.0,792.4L1175.5,792.3L1175.0,792.2L1174.5,791.4L1173.9,790.1L1173.4,789.3L1172.9,789.9L1172.4,791.2L1171.8,791.9L1171.3,791.8L1170.8,792.0L1170.3,793.0L1169.8,794.4L1169.2,795.1L1168.7,794.7L1168.2,794.2L1167.7,793.9L1167.2,793.8L1166.6,793.9L1166.1,794.1L1165.6,794.2L1165.1,794.0L1164.5,793.7L1164.0,793.2L1163.5,792.9L1163.0,792.6L1162.5,792.1L1161.9,791.5L1161.4,791.3L1160.9,791.6L1160.4,792.4L1159.9,793.2L1159.3,793.4L1158.8,793.7L1158.3,794.7L1157.8,795.1L1157.3,795.1L1156.7,795.1L1156.2,795.1L1155.7,793.6L1155.2,791.3L1154.6,789.6L1154.1,789.0L1153.6,789.0L1153.1,789.6L1152.6,791.2L1152.0,792.7L1151.5,793.7L1151.0,793.6L1150.5,792.9L1150.0,792.7L1149.4,793.1L1148.9,793.6L1148.4,793.7L1147.9,793.6L1147.4,793.4L1146.8,793.0L1146.3,792.6L1145.8,792.3L1145.3,792.2L1144.7,792.3L1144.2,792.1L1143.7,791.6L1143.2,790.6L1142.7,789.1L1142.1,789.0L1141.6,789.0L1141.1,789.0L1140.6,789.5L1140.1,791.1L1139.5,792.2L1139.0,792.7L1138.5,793.1L1138.0,793.3L1137.5,793.1L1136.9,792.4L1136.4,791.5L1135.9,791.0L1135.4,791.0L1134.8,790.8L1134.3,790.6L1133.8,790.3L1133.3,789.8L1132.8,789.7L1132.2,790.2L1131.7,790.7L1131.2,790.9L1130.7,791.5L1130.2,792.3L1129.6,792.6L1129.1,792.1L1128.6,791.8L1128.1,792.4L1127.5,793.0L1127.0,792.9L1126.5,792.2L1126.0,791.4L1125.5,790.7L1124.9,790.2L1124.4,789.9L1123.9,790.3L1123.4,791.0L1122.9,791.7L1122.3,791.7L1121.8,791.3L1121.3,790.8L1120.8,790.3L1120.3,789.9L1119.7,789.7L1119.2,790.2L1118.7,791.1L1118.2,791.7L1117.6,791.7L1117.1,792.0L1116.6,792.5L1116.1,792.4L1115.6,791.7L1115.0,790.6L1114.5,789.7L1114.0,789.6L1113.5,790.4L1113.0,791.4L1112.4,792.0L1111.9,792.4L1111.4,792.3L1110.9,791.7L1110.4,791.4L1109.8,792.2L1109.3,793.6L1108.8,793.9L1108.3,792.8L1107.7,791.5L1107.2,791.1L1106.7,791.7L1106.2,792.4L1105.7,792.5L1105.1,792.2L1104.6,791.9L1104.1,792.1L1103.6,792.9L1103.1,793.0L1102.5,791.9L1102.0,790.9L1101.5,791.4L1101.0,793.0L1100.4,794.3L1099.9,794.7L1099.4,794.7L1098.9,794.4L1098.4,793.6L1097.8,792.5L1097.3,791.9L1096.8,792.2L1096.3,793.0L1095.8,793.2L1095.2,791.9L1094.7,790.2L1094.2,789.1L1093.7,789.0L1093.2,789.6L1092.6,790.8L1092.1,792.0L1091.6,792.2L1091.1,791.7L1090.5,791.1L1090.0,791.1L1089.5,791.9L1089.0,793.0L1088.5,793.2L1087.9,791.7L1087.4,790.4L1086.9,790.9L1086.4,792.4L1085.9,793.3L1085.3,793.4L1084.8,793.6L1084.3,793.7L1083.8,793.3L1083.3,792.7L1082.7,792.3L1082.2,791.9L1081.7,791.2L1081.2,790.6L1080.6,790.7L1080.1,791.1L1079.6,791.5L1079.1,791.6L1078.6,791.5L1078.0,791.1L1077.5,790.8L1077.0,790.8L1076.5,790.9L1076.0,791.2L1075.4,791.6L1074.9,792.4L1074.4,793.2L1073.9,793.4L1073.4,792.6L1072.8,791.6L1072.3,790.8L1071.8,790.2L1071.3,789.9L1070.7,790.3L1070.2,791.1L1069.7,791.8L1069.2,792.2L1068.7,792.4L1068.1,792.3L1067.6,791.9L1067.1,791.4L1066.6,791.1L1066.1,790.8L1065.5,790.9L1065.0,791.5L1064.5,792.2L1064.0,792.5L1063.4,793.0L1062.9,793.5L1062.4,793.4L1061.9,792.2L1061.4,790.7L1060.8,789.8L1060.3,789.2L1059.8,789.0L1059.3,789.0L1058.8,789.3L1058.2,790.6L1057.7,791.9L1057.2,792.2L1056.7,791.6L1056.2,790.9L1055.6,790.5L1055.1,790.8L1054.6,791.7L1054.1,792.7L1053.5,793.0L1053.0,792.8L1052.5,792.2L1052.0,790.5L1051.5,789.0L1050.9,789.0L1050.4,789.0L1049.9,789.4L1049.4,790.5L1048.9,791.2L1048.3,791.7L1047.8,792.0L1047.3,792.3L1046.8,792.0L1046.3,790.9L1045.7,789.5L1045.2,789.2L1044.7,789.9L1044.2,790.7L1043.6,790.9L1043.1,791.0L1042.6,791.5L1042.1,791.8L1041.6,791.4L1041.0,791.3L1040.5,791.6L1040.0,791.9L1039.5,791.8L1039.0,792.0L1038.4,792.6L1037.9,793.0L1037.4,792.7L1036.9,792.5L1036.3,792.6L1035.8,792.7L1035.3,792.5L1034.8,792.3L1034.3,792.6L1033.7,793.2L1033.2,792.9L1032.7,791.6L1032.2,790.3L1031.7,790.3L1031.1,791.5L1030.6,792.4L1030.1,792.4L1029.6,791.5L1029.1,790.4L1028.5,789.5L1028.0,789.3L1027.5,790.1L1027.0,791.4L1026.4,792.6L1025.9,793.3L1025.4,793.4L1024.9,792.9L1024.4,791.8L1023.8,790.0L1023.3,789.0L1022.8,789.2L1022.3,790.5L1021.8,791.6L1021.2,792.3L1020.7,792.6L1020.2,792.2L1019.7,791.7L1019.2,791.6L1018.6,791.8L1018.1,792.0L1017.6,792.3L1017.1,792.5L1016.5,792.7L1016.0,793.2L1015.5,793.8L1015.0,794.0L1014.5,793.6L1013.9,793.5L1013.4,793.9L1012.9,794.3L1012.4,794.4L1011.9,793.9L1011.3,792.8L1010.8,791.4L1010.3,790.7L1009.8,790.8L1009.3,791.3L1008.7,792.2L1008.2,793.1L1007.7,793.3L1007.2,793.1L1006.6,793.0L1006.1,793.3L1005.6,793.6L1005.1,793.9L1004.6,794.2L1004.0,794.7L1003.5,795.1L1003.0,795.1L1002.5,795.0L1002.0,794.6L1001.4,793.6L1000.9,792.1L1000.4,790.8L999.9,790.4L999.3,790.5L998.8,790.3L998.3,790.0L997.8,789.8L997.3,789.9L996.7,790.4L996.2,791.0L995.7,791.3L995.2,790.9L994.7,790.4L994.1,790.2L993.6,790.4L993.1,791.1L992.6,792.3L992.1,793.2L991.5,793.4L991.0,793.2L990.5,793.4L990.0,793.9L989.4,794.4L988.9,794.5L988.4,794.5L987.9,794.5L987.4,794.8L986.8,795.3L986.3,795.8L985.8,795.7L985.3,794.4L984.8,793.4L984.2,793.9L983.7,795.2Z" fill="#0000dc" stroke="none"/>
<path d="M1069.0,739.0L1069.1,743.9L1069.2,750.8L1069.3,755.6L1069.4,757.8L1069.5,761.6L1069.6,769.2L1069.7,773.7L1069.8,776.2L1069.9,782.0L1070.0,782.2L1070.1,777.8L1070.2,774.4L1070.3,768.0L1070.4,764.1L1070.5,759.0L1070.6,753.7L1070.7,748.4L1070.8,744.0L1070.9,738.8" fill="none" stroke="#0000dc" stroke-width="2.6" stroke-linejoin="round"/>
<path d="M1215.8,777.4L1216.1,778.7L1216.4,783.3L1216.8,786.0L1217.1,789.7L1217.4,797.9L1217.7,798.3L1218.0,805.0L1218.3,807.4L1218.7,810.9" fill="none" stroke="#0000dc" stroke-width="2.6" stroke-linejoin="round"/>
<path d="M1218.7,810.5L1219.0,802.6L1219.4,796.4L1219.8,787.9L1220.1,781.9L1220.5,775.6L1220.9,768.4L1221.2,759.4L1221.6,750.7L1222.0,744.5" fill="none" stroke="#0000dc" stroke-width="2.6" stroke-linejoin="round"/>
<path d="M1123.9,793.1L1124.3,799.6L1124.7,805.3L1125.1,803.8L1125.5,807.1L1125.9,813.6L1126.3,817.1L1126.7,824.0L1127.1,816.4L1127.5,815.5L1127.8,808.4L1128.2,805.6L1128.6,795.9L1129.0,795.6L1129.4,797.0L1129.8,800.8L1130.2,802.4L1130.6,804.0L1131.0,812.7L1131.4,811.9L1131.8,822.0L1132.2,816.0L1132.6,813.4L1133.0,807.4L1133.3,803.1L1133.7,805.8L1134.1,796.8L1134.5,796.7L1134.9,794.8L1135.3,802.2L1135.7,804.6L1136.1,809.4L1136.5,816.5L1136.9,815.8L1137.3,819.5L1137.7,814.9L1138.1,812.2L1138.5,812.6L1138.8,804.6L1139.2,801.7L1139.6,799.1L1140.0,796.5" fill="none" stroke="#0000dc" stroke-width="2.6" stroke-dasharray="2.6,2"/>
<path d="M1135.3,770.3L1135.9,765.2L1136.5,770.9L1137.0,772.5L1137.6,769.5L1138.2,771.5L1138.8,777.0L1139.4,772.5L1140.0,771.6L1140.5,772.0L1141.1,770.0L1141.7,765.4L1142.3,767.0L1142.9,762.0" fill="none" stroke="#0000dc" stroke-width="2.6" stroke-dasharray="2.6,2"/>
<line x1="1222.0" y1="739.9" x2="1222.0" y2="629.2" stroke="#ff0000" stroke-width="3" stroke-dasharray="3,4"/>
<line x1="1222.0" y1="736.4" x2="1222.0" y2="629.2" stroke="#1010a0" stroke-width="3" stroke-dasharray="3,4"/>
<path d="M994.2,819.1L995.6,815.4L997.1,811.8L998.5,808.3L999.9,804.8L1001.3,801.4L1002.8,798.0L1004.2,794.6L1005.6,791.4L1007.0,788.1L1008.5,784.9L1009.9,781.8L1011.3,778.7L1012.8,775.6L1014.2,772.6L1015.6,769.6L1017.0,766.6L1018.5,763.7L1019.9,760.8L1021.3,757.9L1022.7,755.1L1024.2,752.3L1025.6,749.5L1027.0,746.7L1028.4,744.0L1029.9,741.2L1031.3,738.5L1032.7,735.9L1034.1,733.2L1035.6,730.5L1037.0,727.9L1038.4,725.3L1039.8,722.7L1041.3,720.1L1042.7,717.4L1044.1,714.9L1045.5,712.3L1047.0,709.7L1048.4,707.2L1049.8,704.7L1051.2,702.2L1052.7,699.8L1054.1,697.4L1055.5,695.0L1056.9,692.6L1058.4,690.4L1059.8,688.1L1061.2,685.9L1062.7,683.8L1064.1,681.7L1065.5,679.7L1066.9,677.7L1068.4,675.8L1069.8,674.0L1071.2,672.2L1072.6,670.5L1074.1,668.9L1075.5,667.3L1076.9,665.7L1078.3,664.2L1079.8,662.7L1081.2,661.3L1082.6,659.9L1084.0,658.6L1085.5,657.3L1086.9,656.0L1088.3,654.8L1089.7,653.6L1091.2,652.5L1092.6,651.3L1094.0,650.3L1095.4,649.3L1096.9,648.3L1098.3,647.3L1099.7,646.5L1101.1,645.6L1102.6,644.8L1104.0,644.0L1105.4,643.3L1106.9,642.6L1108.3,642.0L1109.7,641.4L1111.1,640.9L1112.6,640.4L1114.0,639.9L1115.4,639.5L1116.8,639.1L1118.3,638.8L1119.7,638.6L1121.1,638.3L1122.5,638.2L1124.0,638.0L1125.4,637.9L1126.8,637.9L1128.2,637.9L1129.7,638.0L1131.1,638.1L1132.5,638.2L1133.9,638.4L1135.4,638.7L1136.8,639.0L1138.2,639.3L1139.6,639.7L1141.1,640.2L1142.5,640.7L1143.9,641.3L1145.3,641.9L1146.8,642.5L1148.2,643.2L1149.6,644.0L1151.0,644.8L1152.5,645.6L1153.9,646.5L1155.3,647.5L1156.8,648.5L1158.2,649.6L1159.6,650.7L1161.0,651.9L1162.5,653.1L1163.9,654.4L1165.3,655.7L1166.7,657.1L1168.2,658.6L1169.6,660.1L1171.0,661.6L1172.4,663.2L1173.9,664.9L1175.3,666.6L1176.7,668.3L1178.1,670.1L1179.6,672.0L1181.0,673.8L1182.4,675.7L1183.8,677.7L1185.3,679.7L1186.7,681.7L1188.1,683.8L1189.5,685.9L1191.0,688.0L1192.4,690.1L1193.8,692.3L1195.2,694.5L1196.7,696.7L1198.1,698.9L1199.5,701.2L1201.0,703.4L1202.4,705.7L1203.8,708.0L1205.2,710.3L1206.7,712.6L1208.1,714.9L1209.5,717.3L1210.9,719.6L1212.4,721.9L1213.8,724.2L1215.2,726.6L1216.6,728.9L1218.1,731.2L1219.5,733.5L1220.9,735.8" fill="none" stroke="#3838f0" stroke-width="3.0" stroke-linejoin="round"/>
</g>
<path d="M953.40,633.60H1237.60M953.40,855.00H1237.60" stroke="#626262" stroke-width="1.15" fill="none"/>
<path d="M953.40,633.60V855.00" stroke="#44449c" stroke-width="1.15" fill="none"/>
<path d="M1237.60,633.60V855.00" stroke="#303030" stroke-width="1.2" fill="none"/>
<path d="M1000.77,855.00v-2.8M1000.77,633.60v2.8M1095.50,855.00v-2.8M1095.50,633.60v2.8M1190.23,855.00v-2.8M1190.23,633.60v2.8" stroke="#404040" stroke-width="1" fill="none"/>
<path d="M953.40,855.00h2.8M953.40,832.86h2.8M953.40,810.72h2.8M953.40,788.58h2.8M953.40,766.44h2.8M953.40,744.30h2.8M953.40,722.16h2.8M953.40,700.02h2.8M953.40,677.88h2.8M953.40,655.74h2.8M953.40,633.60h2.8" stroke="#44449c" stroke-width="1" fill="none"/>
<path d="M1237.60,855.00h-2.8M1237.60,832.86h-2.8M1237.60,810.72h-2.8M1237.60,788.58h-2.8M1237.60,766.44h-2.8M1237.60,744.30h-2.8M1237.60,722.16h-2.8M1237.60,700.02h-2.8M1237.60,677.88h-2.8M1237.60,655.74h-2.8M1237.60,633.60h-2.8" stroke="#303030" stroke-width="1" fill="none"/>
<g font-size="24.5" fill="#0808dc" stroke="#0808dc" text-anchor="end">
<text x="945.90" y="864.00">-15</text>
<text x="945.90" y="841.86">-10</text>
<text x="945.90" y="819.72">-5</text>
<text x="945.90" y="797.58">0</text>
<text x="945.90" y="775.44">5</text>
<text x="945.90" y="753.30">10</text>
<text x="945.90" y="731.16">15</text>
<text x="945.90" y="709.02">20</text>
<text x="945.90" y="686.88">25</text>
<text x="945.90" y="664.74">30</text>
<text x="945.90" y="642.60">35</text>
</g>
<g font-size="24.5" fill="#111111" stroke="#111111" text-anchor="start">
<text x="1245.20" y="864.10">14</text>
<text x="1245.20" y="841.96">16</text>
<text x="1245.20" y="819.82">18</text>
<text x="1245.20" y="797.68">20</text>
<text x="1245.20" y="775.54">22</text>
<text x="1245.20" y="753.40">24</text>
<text x="1245.20" y="731.26">26</text>
<text x="1245.20" y="709.12">28</text>
<text x="1245.20" y="686.98">30</text>
<text x="1245.20" y="664.84">32</text>
<text x="1245.20" y="642.70">34</text>
</g>
<g font-size="24.5" fill="#111111" stroke="#111111" text-anchor="middle">
<text x="1000.77" y="887.40">1</text>
<text x="1095.50" y="887.40">2</text>
<text x="1190.23" y="887.40">3</text>
</g>
<text font-size="27.5" fill="#111111" stroke="#111111" text-anchor="middle" x="1095.50" y="918.80">Time [hour]</text>
<text font-size="28.19" fill="#0808dc" stroke="#0808dc" text-anchor="middle" transform="translate(903.80,744.30) rotate(-90)">Residual [mm]</text>
<text font-size="28.19" fill="#111111" stroke="#111111" text-anchor="middle" transform="translate(1299.70,744.30) rotate(-90)">Elevation [deg]</text>
<rect x="966.40" y="819.70" width="217" height="22.1" fill="#fff" stroke="#111111" stroke-width="1.2"/>
<line x1="969.90" y1="831.55" x2="997.40" y2="831.55" stroke="#ff0000" stroke-width="3" stroke-dasharray="3,2.5"/>
<text font-size="17" fill="#111111" x="999.90" y="836.50">raw</text>
<rect x="1043.90" y="830.55" width="2" height="2" fill="#0808dc"/>
<text font-size="17" fill="#111111" x="1061.90" y="836.50">SF</text>
<line x1="1086.90" y1="831.55" x2="1113.40" y2="831.55" stroke="#0808dc" stroke-width="3"/>
<text font-size="17" fill="#111111" x="1116.40" y="836.50">elevation</text>
</svg></body></html>
